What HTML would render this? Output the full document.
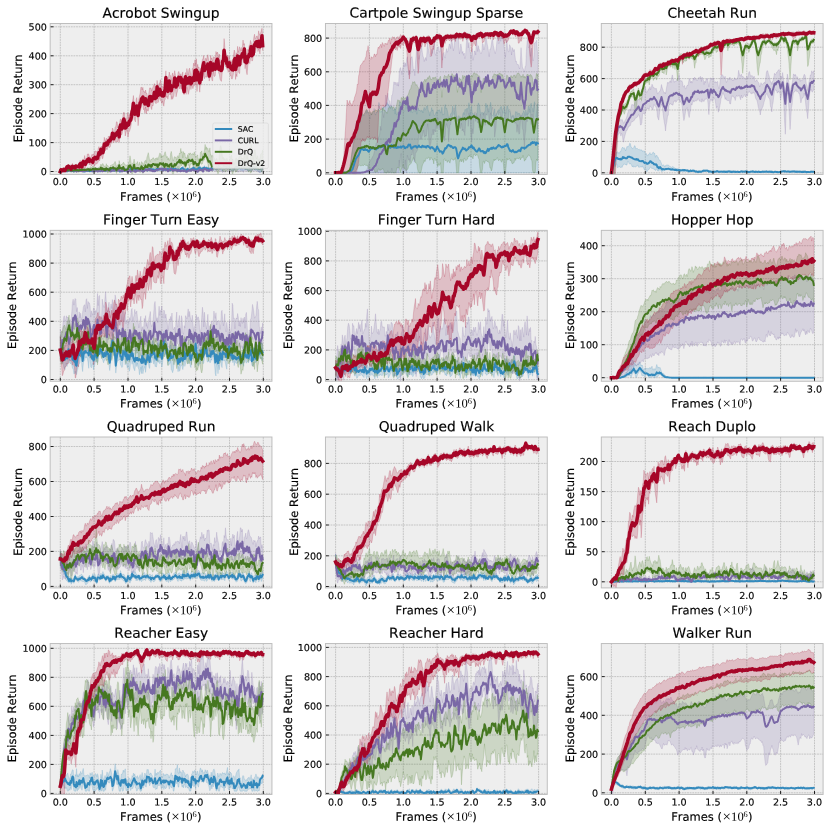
<!DOCTYPE html>
<html lang="en"><head><meta charset="utf-8"><title>DrQ-v2 learning curves</title>
<style>html,body{margin:0;padding:0;background:#fff}svg{display:block}path{vector-effect:non-scaling-stroke}text{stroke:#000;stroke-width:.16px}</style></head>
<body>
<svg width="830" height="831" viewBox="0 0 830 831" font-family="'DejaVu Sans', 'Liberation Sans', sans-serif" fill="#000" text-rendering="geometricPrecision" style="font-kerning:none;font-variant-ligatures:none">
<rect width="830" height="831" fill="#fff"/>
<defs>
<clipPath id="c0"><rect x="50.15" y="23.5" width="221.8" height="150.9"/></clipPath>
<clipPath id="c1"><rect x="325.45" y="23.5" width="221.8" height="150.9"/></clipPath>
<clipPath id="c2"><rect x="601.3" y="23.5" width="221.8" height="150.9"/></clipPath>
<clipPath id="c3"><rect x="50.15" y="230.35" width="221.8" height="150.9"/></clipPath>
<clipPath id="c4"><rect x="325.45" y="230.35" width="221.8" height="150.9"/></clipPath>
<clipPath id="c5"><rect x="601.3" y="230.35" width="221.8" height="150.9"/></clipPath>
<clipPath id="c6"><rect x="50.15" y="437.0" width="221.8" height="150.9"/></clipPath>
<clipPath id="c7"><rect x="325.45" y="437.0" width="221.8" height="150.9"/></clipPath>
<clipPath id="c8"><rect x="601.3" y="437.0" width="221.8" height="150.9"/></clipPath>
<clipPath id="c9"><rect x="50.15" y="643.55" width="221.8" height="150.9"/></clipPath>
<clipPath id="c10"><rect x="325.45" y="643.55" width="221.8" height="150.9"/></clipPath>
<clipPath id="c11"><rect x="601.3" y="643.55" width="221.8" height="150.9"/></clipPath>
</defs>
<g>
<rect x="50.15" y="23.5" width="221.8" height="150.9" fill="#eeeeee"/>
<path d="M60.3 23.5V174.4M94.1 23.5V174.4M128 23.5V174.4M161.8 23.5V174.4M195.7 23.5V174.4M229.5 23.5V174.4M263.3 23.5V174.4M50.1 171.5H271.9M50.1 142.6H271.9M50.1 113.6H271.9M50.1 84.7H271.9M50.1 55.8H271.9M50.1 26.8H271.9" stroke="#b2b2b2" stroke-width="0.7" stroke-dasharray="1.8 0.8" fill="none"/>
<g clip-path="url(#c0)">
<g transform="translate(60.3 171.5) scale(0.67680 -0.1)">
<g fill-opacity="0.2" stroke-opacity="0.2" stroke-width="0.9" vector-effect="non-scaling-stroke">
<path d="M0 20l1-2 1-3 1-5 1-2 1 2 1 3 1-1 1 1 1-3 1-1 1 5 1 2 1 3 1-1 1-1 1-2 1-3 1 7 1-2 1-4 1 0 1 5 1 0 1-3 1 0 1 2 1-1 1-4 1 4 1 2 1 7 1-9 1-2 1-2 1-2 1 1 1 0 1 5 1 0 1-3 1 8 1-5 1-6 1 2 1 0 1-3 1 5 1-4 1 1 1 8 1 6 1 4 1 0 1 7 1-10 1-1 1-7 1-3 1-2 1 5 1 9 1-4 1 9 1-5 1-1 1 0 1-3 1-3 1 11 1-7 1 5 1-1 1 15 1-7 1 0 1-2 1 0 1-16 1 14 1-11 1-3 1 3 1-2 1 4 1 6 1 1 1-6 1-13 1-3 1 7 1 6 1-3 1 1 1-3 1 9 1 3 1-7 1-1 1 16 1-1 1-13 1-2 1 6 1 10 1-3 1-3 1-4 1 5 1 1 1-4 1 3 1-2 1 2 1-4 1 3 1 6 1 0 1-6 1 2 1-3 1 7 1-11 1-2 1 6 1 2 1-6 1 7 1-7 1-3 1 5 1 9 1-1 1-8 1 5 1-1 1-1 1 7 1-6 1-9 1-2 1 13 1 1 1 0 1-8 1 12 1-4 1-3 1 7 1-3 1-2 1 12 1-15 1 6 1-4 1 0 1-3 1 3 1-2 1 11 1-13 1 1 1-3 1-1 1 23 1-4 1-18 1 13 1-6 1-2 1 4 1-1 1 0 1-1 1 2 1-8 1-3 1 5 1 7 1 3 1 8 1 7 1-10 1-4 1-15 1-1 1-1 1 11 1 5 1-1 1-6 1-6 1 8 1-1 1 6 1-5 1 14 1 1 1-12 1 1 1-5 1-1 1 5 1-2 1 10 1 8 1 3 1-9 1-5 1-11 1 5 1 13 1-9 1 19 1-14 1-1 1 5 1-5 1-3 1-4 1 3 1 2 1-16 1 11 1 2 1 12 1-25 1 11 1-1 1 5 1 8 1 2 1-6 1 4 1 15 1-12 1-1 1-7 1-6 1-3 1 6 1 22 1-3 1-4 1-2 1 2 1-4 1 9 1-6 1 1 1-3 1-26 1-1 1 13 1-8 1 1 1-5 1-2 1 20 1 5 1-4 1 9 1-12 1 14 1-11 1-1 1-15 1 9 1 3 1-14 1 14 1-1 1 6 1-4 1-6 1 1 1 9 1-14 1 6 1 0 1 2 1 1 1-2 1-11 1 17 1 8 1-8 1 1 1-2 1 1 1 5 1-10 1-10 1-5 1-5 1-4 1 16 1-9 1 9 1 13 0-29-1-7-1-17-1 7-1-7-1 3-1 5-1 1-1 5-1 16-1-11-1 0-1 4-1 6-1 12-1-13-1-13-1 4-1-2-1 1-1-4-1 0-1-3-1 19-1-7-1 1-1-1-1 3-1-10-1 9-1-12-1 6-1 4-1-4-1 14-1-6-1 1-1-4-1 10-1-4-1 1-1 9-1-23-1-1-1 1-1-3-1 7-1-1-1-1-1 25-1-7-1 5-1 0-1-9-1 8-1-6-1-1-1 4-1-1-1-20-1-4-1 5-1 3-1 10-1 6-1 9-1-19-1-4-1 7-1 0-1-7-1-1-1-7-1 0-1 27-1-11-1 0-1-10-1 1-1 1-1 6-1 5-1-4-1 1-1-5-1 3-1 9-1-9-1 8-1-16-1 4-1 4-1-1-1 10-1-5-1-4-1-3-1-4-1 1-1-5-1 8-1 1-1 9-1-5-1-15-1 9-1-6-1-8-1-1-1 4-1 5-1 6-1-11-1-6-1 4-1-4-1 11-1 3-1 10-1 5-1-9-1-2-1-14-1-6-1 2-1 10-1 1-1 2-1 1-1 5-1-7-1-4-1 6-1-10-1 16-1 6-1-23-1 7-1-1-1 4-1 7-1-9-1-1-1-3-1 3-1 0-1-3-1-3-1 11-1-9-1 7-1 3-1-5-1 4-1-3-1-2-1 2-1-9-1 0-1-9-1 2-1 11-1 8-1-5-1-2-1 5-1-2-1 7-1-5-1-11-1 0-1 0-1 8-1 2-1 0-1-5-1-7-1 9-1 0-1-4-1 9-1-8-1 5-1 0-1-6-1-3-1 5-1-3-1 4-1-1-1 3-1-3-1-7-1 1-1 8-1 4-1-4-1-8-1 2-1 12-1 1-1-16-1-1-1 4-1-1-1 2-1 4-1-4-1-5-1-2-1-2-1-3-1 11-1 8-1 4-1-7-1-3-1 7-1-7-1 0-1 7-1-11-1 5-1 4-1 1-1-1-1 3-1-12-1 5-1-5-1 10-1-10-1-1-1 4-1 1-1-1-1 8-1-7-1 0-1-3-1-8-1 7-1 1-1 8-1-8-1 8-1-2-1 0-1-2-1 0-1-9-1-2-1 10-1-10-1 2-1-6-1 0-1 9-1 5-1-9-1 6-1-1-1-6-1 0-1-1-1 1-1-1-1 6-1 8-1-10-1-2-1 1-1 2-1 4-1-2-1-3-1-1-1 2-1-5-1-2-1 8-1 1-1-3-1 1-1 5-1-2-1 2-1-3-1-6-1-4-1 2-1 4-1-2-1 3-1 0-1-3-1-3-1 10-1 2-1 0z" fill="#348ABD" stroke="#348ABD"/>
<path d="M0 20l1-2 1-4 1 5 1 1 1-5 1-1 1 1 1 4 1 2 1 0 1 1 1-1 1 6 1-3 1 3 1-7 1 0 1-2 1 1 1 1 1-3 1 1 1-5 1-3 1 0 1 3 1 6 1 3 1-3 1 4 1-11 1 8 1-2 1 2 1 4 1-4 1-1 1 3 1 1 1-3 1 7 1-1 1 1 1-4 1-2 1-2 1-3 1 8 1-2 1 6 1-4 1-8 1 8 1-4 1-8 1 10 1-11 1 8 1-2 1 2 1 3 1-8 1 3 1 4 1 2 1 0 1 5 1-4 1-6 1 15 1-2 1-6 1-12 1 1 1 1 1 9 1 1 1 14 1-9 1 0 1-3 1 2 1 0 1-6 1-10 1 17 1-4 1-11 1 7 1 2 1-9 1 3 1 4 1-9 1-2 1 17 1-1 1-6 1-9 1-1 1 8 1 11 1-6 1-12 1 6 1 4 1 2 1-8 1 0 1-7 1-2 1 1 1 1 1 12 1 11 1-11 1 11 1-7 1-3 1 9 1-19 1-6 1 2 1 9 1 14 1 1 1-12 1 8 1-2 1 6 1-7 1 4 1-7 1 14 1-15 1 3 1-11 1 5 1 0 1-2 1 3 1 5 1 4 1 1 1 3 1 6 1-2 1 0 1 5 1-14 1 1 1-9 1 25 1-10 1-2 1 9 1-10 1-12 1-10 1 5 1 13 1-1 1 10 1 5 1-8 1-12 1 0 1 3 1-6 1 4 1-2 1-1 1-1 1 0 1 8 1-8 1-9 1 2 1 4 1 5 1 2 1-5 1 3 1 0 1-1 1-10 1 0 1 7 1 6 1 3 1-4 1 2 1-2 1 5 1 4 1-1 1-6 1 0 1-1 1-9 1 0 1 2 1-5 1 8 1 6 1 6 1-2 1-1 1 1 1-2 1-17 1 18 1 10 1 2 1-6 1-11 1-1 1 4 1-8 1 6 1 2 1 9 1-2 1-8 1-2 1 17 1-5 1-4 1-1 1-9 1 14 1-5 1 10 1-15 1 3 1 5 1-7 1-1 1-10 1-4 1 12 1 4 1-8 1 12 1 2 1 6 1-18 1 3 1 3 1-7 1-1 1 0 1-7 1 11 1 12 1-2 1 1 1-11 1 0 1-5 1 0 1-9 1 6 1 4 1-5 1 6 1 4 1 6 1-6 1-10 1 1 1 15 1 2 1-10 1 2 1-4 1-2 1 1 1 9 1 6 1-10 1-1 1-2 1 3 1 6 1-7 1 12 1-7 1 6 1-8 1-6 1 0 1 5 1-10 1 11 1-9 1 4 1 14 1-6 0-25-1 2-1-7-1-10-1 8-1-10-1 12-1-1-1 4-1 5-1 5-1 3-1 1-1-13-1 9-1-4-1-6-1-1-1 3-1 8-1-4-1-2-1-2-1 3-1-1-1 4-1 5-1-7-1-15-1 2-1 9-1 3-1-3-1 2-1-7-1 1-1-4-1 1-1 3-1 2-1 8-1 0-1 7-1-8-1 0-1-6-1-8-1 9-1-2-1 0-1 12-1-9-1-6-1 19-1-7-1-3-1-15-1 10-1-1-1-12-1 5-1 7-1 4-1 5-1-8-1 5-1 9-1-4-1 2-1-14-1 11-1 5-1-1-1-1-1-15-1 8-1 7-1-1-1-7-1-6-1-5-1 11-1-4-1 1-1 10-1 4-1-6-1-3-1-16-1 10-1 4-1-3-1 3-1 6-1-3-1-4-1-10-1 3-1 3-1-1-1 1-1 3-1 1-1 5-1-2-1 0-1-7-1 9-1-4-1-2-1-4-1-8-1-3-1-1-1 5-1 2-1 5-1-6-1 4-1 5-1-4-1-2-1 0-1 6-1 4-1-11-1-6-1 11-1 10-1-7-1-1-1 2-1-3-1-3-1 8-1 9-1-2-1-4-1 4-1-15-1-5-1 8-1 6-1 7-1-6-1 3-1 5-1-15-1 8-1 0-1 12-1-12-1 3-1-2-1-4-1-5-1 3-1 1-1-5-1-10-1 3-1 3-1-3-1 6-1 0-1 13-1-7-1 8-1-5-1 8-1-11-1 2-1-4-1 10-1-7-1-6-1-7-1-1-1 2-1 16-1-4-1-3-1 9-1-13-1 10-1-8-1-9-1-5-1-2-1 4-1 10-1-2-1 4-1-6-1 1-1-3-1 6-1 10-1-10-1-11-1 2-1 11-1 6-1 8-1-13-1-2-1 2-1-4-1-6-1 7-1-1-1-2-1 10-1 1-1-11-1 5-1 6-1 0-1-1-1-8-1 8-1 9-1-13-1-1-1-2-1-4-1 4-1 9-1 2-1 2-1-14-1 7-1 4-1-9-1-4-1 1-1 0-1-2-1 4-1 2-1-2-1 5-1-7-1 5-1-5-1 1-1 1-1-7-1 4-1 8-1-7-1-1-1-7-1 8-1 0-1 4-1 0-1 0-1-2-1-1-1-1-1-1-1 3-1-5-1 6-1-6-1-3-1 6-1-3-1 9-1-9-1 5-1-4-1-1-1-2-1-3-1 5-1 3-1 2-1 2-1-3-1 1-1-3-1 1-1-4-1 5-1 0-1 3-1 1-1-2-1 0-1-2-1-3-1-2-1 3-1 0-1 4-1-1-1 0-1-3z" fill="#7A68A6" stroke="#7A68A6"/>
<path d="M0 19l1 1 1-2 1 2 1 1 1 5 1-4 1-1 1-1 1 5 1-7 1 5 1 5 1 3 1 0 1-5 1-5 1 3 1 6 1-2 1-3 1 8 1 6 1-8 1-4 1 2 1 0 1-7 1 1 1 2 1 10 1 2 1 1 1-4 1 5 1-14 1-3 1-4 1 9 1 4 1 9 1-5 1 1 1-10 1 18 1 4 1-8 1 4 1 10 1-1 1-15 1 0 1 7 1-13 1 3 1-2 1 8 1-4 1 11 1-1 1 27 1-23 1 24 1 5 1-16 1-15 1 8 1-7 1 28 1-27 1 11 1-11 1-9 1-7 1 24 1 0 1 9 1-1 1 2 1 9 1 9 1 14 1-19 1-43 1 21 1 10 1-22 1 61 1-36 1-11 1 8 1 0 1 8 1 12 1-1 1-20 1-3 1 1 1-5 1-4 1 12 1 19 1 12 1 56 1-44 1-38 1-27 1 37 1 2 1 37 1-30 1-25 1 6 1 8 1 16 1-36 1 2 1 28 1-28 1-4 1 38 1-13 1 0 1-31 1 34 1 18 1 6 1-26 1 56 1 19 1 26 1-37 1-42 1-9 1 23 1-3 1 4 1 15 1-6 1-12 1-10 1 23 1-12 1 18 1-23 1 19 1 25 1 23 1-5 1-42 1 26 1-15 1 11 1-6 1 30 1 15 1-30 1-28 1 11 1-35 1 21 1-27 1 13 1 56 1 22 1-38 1-47 1-10 1 30 1 14 1-14 1 7 1-31 1 40 1 7 1-26 1 50 1-7 1 55 1-43 1 12 1-64 1 63 1-26 1 11 1-45 1 3 1-18 1 45 1-38 1 54 1-18 1 20 1-10 1-7 1 4 1 6 1-14 1 31 1-34 1-16 1 0 1 16 1 2 1-60 1 24 1-19 1 81 1 1 1 14 1-63 1 40 1-4 1 37 1 55 1-52 1 28 1-23 1 7 1-30 1-3 1 38 1-71 1 1 1-23 1 20 1-4 1-21 1-7 1-31 1 22 1 10 1-18 1-23 1 7 1 62 1 83 1 16 1-19 1-60 1-52 1 14 1-30 1 18 1-12 1-46 1 61 1-21 1-8 1-7 1 16 1 16 1 26 1 8 1-46 1 8 1-54 1 3 1 25 1 27 1 11 1-26 1 6 1 4 1 22 1 15 1-4 1 15 1-44 1 8 1-7 1 1 1 91 1-37 1 13 1-33 1-34 1 39 1-53 1-1 1 2 1 24 1 134 1-76 1-38 1-37 1 50 1 46 1-2 1-66 1-24 1 34 1-13 1-42 1 14 1 16 1 39 1 3 1 11 1 28 0-180-1-35-1-4-1 30-1-6-1-8-1 16-1-16-1 21-1-10-1-4-1 9-1-11-1 10-1 0-1-9-1-13-1-15-1-7-1 24-1-6-1-6-1 21-1 3-1 6-1-7-1 10-1 10-1-2-1-10-1 12-1-6-1-6-1 8-1-8-1 1-1-2-1-4-1-20-1 2-1-11-1 19-1 23-1-25-1-36-1 6-1 34-1 1-1 14-1-24-1 13-1 16-1-17-1-12-1-5-1-3-1 19-1 1-1-16-1 4-1 19-1 16-1-15-1-2-1 1-1-31-1-16-1 18-1 11-1 21-1-7-1 6-1 7-1-18-1 12-1-16-1 41-1 22-1 26-1-34-1-28-1 42-1 12-1 38-1 17-1 12-1-42-1-7-1-3-1-28-1-5-1 2-1 12-1-1-1-42-1-10-1 10-1-14-1 2-1 9-1 7-1-26-1 4-1 23-1 34-1-9-1 4-1-14-1-33-1 36-1-7-1 32-1-24-1-19-1-26-1 34-1-8-1 24-1-6-1 15-1-26-1 34-1-46-1-14-1-26-1 50-1-22-1-40-1 29-1 6-1 15-1-22-1-66-1 3-1 48-1 46-1-11-1-1-1-41-1 14-1 6-1 25-1-15-1 14-1 0-1-27-1 10-1 12-1 9-1-1-1 14-1-7-1 8-1-30-1 9-1-24-1 34-1-25-1 24-1-30-1 12-1 11-1 10-1-4-1-22-1 22-1-24-1 7-1 10-1 6-1-34-1-2-1-4-1 14-1-11-1-4-1-12-1-14-1 29-1 21-1-26-1-16-1 8-1 23-1-9-1 4-1 5-1-7-1-3-1-13-1 12-1-13-1-11-1-16-1 21-1 22-1 26-1-32-1 7-1-14-1 3-1-2-1-4-1 8-1-7-1 22-1 8-1-12-1-3-1 13-1-12-1 1-1 30-1-28-1 0-1-8-1-26-1 26-1 0-1 4-1 4-1 12-1-7-1 2-1 4-1-4-1-27-1 2-1-3-1-10-1 15-1 18-1-23-1 23-1-18-1 17-1-1-1 2-1-9-1 23-1-20-1 10-1-4-1-1-1-1-1 1-1-1-1 12-1-13-1-5-1 10-1-3-1-8-1 3-1-4-1 6-1-15-1 8-1 4-1-2-1-2-1 1-1-2-1-7-1 12-1-5-1 1-1-4-1 6-1 2-1-1-1-11-1-5-1 9-1 0-1 2-1-3-1 9-1-11-1-11-1 9-1 5-1-2-1-3-1 8-1 10-1 3-1-4-1-4-1-2-1 1-1-7-1 0-1 4-1 6-1 0-1-6-1-2-1-1-1 5z" fill="#467821" stroke="#467821"/>
<path d="M0 14l1 19 1-11 1-4 1-3 1 18 1-4 1-11 1 24 1 1 1 18 1-5 1 14 1-4 1-4 1 5 1-20 1 22 1 12 1-23 1 10 1-5 1-14 1 22 1 1 1-6 1-3 1 11 1-12 1 48 1-4 1-2 1-29 1 49 1-3 1-7 1 46 1-37 1 5 1-1 1 48 1-1 1 2 1-30 1 0 1-11 1 25 1 13 1-12 1 13 1 3 1 25 1 4 1-9 1 1 1-5 1 36 1 20 1-12 1-19 1 29 1 7 1-22 1 16 1 20 1 74 1-30 1-4 1 26 1-21 1 6 1 34 1-7 1 11 1-12 1 25 1-18 1 83 1-12 1-56 1 27 1 48 1 10 1 45 1-1 1-61 1 21 1-67 1 117 1 20 1-48 1-10 1 49 1 65 1 12 1-13 1-96 1 37 1 3 1 49 1 17 1-66 1 45 1-5 1 19 1 34 1 59 1 34 1 49 1-70 1-28 1-21 1 77 1 21 1-72 1-29 1 84 1 34 1 25 1 58 1 7 1-31 1 27 1-42 1 1 1-14 1 28 1-34 1 1 1-46 1-5 1 63 1 42 1-2 1 2 1-33 1 22 1 21 1 15 1 19 1-62 1-16 1-6 1 115 1-69 1 9 1 31 1 1 1 35 1-37 1-39 1 7 1-8 1 1 1 43 1 24 1 98 1-131 1-28 1 32 1 66 1 49 1-35 1-2 1-57 1 62 1 23 1-28 1-5 1 55 1-39 1-62 1 34 1-19 1 65 1 14 1-21 1-40 1 38 1-40 1 35 1 23 1-106 1-76 1 139 1 37 1-45 1 85 1-40 1-28 1 56 1 16 1-34 1-55 1 8 1 77 1-2 1 57 1-29 1 61 1-56 1 66 1-91 1 36 1-33 1 5 1-83 1 69 1-15 1 70 1 36 1 11 1 29 1-72 1 17 1 30 1-28 1 39 1 21 1-44 1-58 1-12 1 107 1-39 1 15 1-41 1 51 1-5 1-2 1-7 1 67 1-28 1 23 1-16 1-38 1 34 1-48 1-40 1 13 1 20 1 91 1-20 1 138 1-75 1-110 1 3 1-4 1 21 1-67 1 61 1-7 1-86 1 47 1-28 1 23 1-7 1 70 1 45 1-20 1-103 1 95 1-25 1 90 1-61 1 28 1 28 1-16 1-26 1 34 1 10 1 66 1-51 1 16 1-129 1 35 1-32 1-16 1 84 1-17 1 57 1 2 1 47 1-20 1-43 1 19 1 17 1 61 1 28 1-44 1 7 1 18 1 2 1-35 1 86 1-31 1-13 1 25 1 21 1 23 1-77 0-145-1 109-1-66-1 6-1-84-1 37-1 12-1-25-1 62-1-14-1-33-1-28-1 12-1 12-1-64-1-39-1-2-1 82-1-63-1-45-1 8-1-3-1-29-1-87-1 30-1 94-1-64-1 135-1-36-1 1-1-6-1-57-1 23-1-6-1-101-1 2-1 24-1 37-1-96-1 24-1-52-1 124-1-9-1-48-1-40-1-23-1 3-1 35-1-5-1 66-1-24-1-7-1 35-1-4-1 40-1-16-1 48-1 44-1-99-1-7-1-64-1-68-1 10-1 12-1 47-1 17-1 58-1 0-1-14-1 21-1-91-1-11-1 3-1 52-1-101-1 9-1 53-1 57-1-97-1-22-1 50-1 67-1-44-1-36-1 11-1-10-1-15-1 57-1-48-1-31-1 20-1-56-1 0-1-76-1 87-1 13-1 6-1-99-1 123-1-63-1 72-1-76-1 2-1-30-1 22-1 13-1-43-1 55-1-44-1-35-1-25-1 44-1 26-1-70-1 74-1-17-1-60-1 10-1 61-1 7-1-23-1 41-1-39-1 6-1 33-1-26-1-41-1-20-1-30-1 93-1 5-1-86-1-18-1-19-1 29-1-31-1 67-1-22-1 64-1-65-1-41-1 29-1-12-1 73-1-94-1-6-1-60-1 20-1 33-1-27-1 27-1 3-1 22-1 10-1-44-1-10-1 111-1-117-1 1-1 6-1 55-1-47-1-41-1 7-1-43-1 18-1 42-1 22-1-61-1-36-1 3-1 15-1-46-1 70-1-61-1 44-1-11-1 46-1 28-1-23-1-52-1-2-1-15-1-53-1-89-1 99-1 16-1-17-1-60-1 18-1 5-1 80-1-78-1 10-1-52-1-38-1-24-1-17-1-10-1-48-1 72-1-3-1-27-1-29-1 71-1 37-1-21-1-46-1-28-1-5-1 26-1-20-1-78-1 45-1-38-1 0-1-3-1 0-1 16-1 1-1-25-1 14-1 34-1-53-1 16-1-47-1-11-1 5-1 5-1-16-1-18-1 20-1-21-1-12-1 20-1-34-1-57-1-5-1 29-1 24-1-49-1-25-1 30-1-42-1-7-1-13-1 6-1-4-1-18-1-6-1 39-1-23-1 2-1-17-1 13-1 19-1-20-1 21-1 4-1-12-1-18-1 0-1-32-1-5-1 17-1 31-1-26-1-51-1 33-1 14-1-10-1-20-1-3-1 3-1 2-1 10-1 7-1-30-1 5-1 23-1-1-1 11-1-12-1-23-1 16-1 11-1 9-1 2-1-13-1-4-1-14-1 2-1-15-1 5-1 6-1-15-1 5-1 4-1 0-1-18z" fill="#A60628" stroke="#A60628"/>
</g><g fill="none" stroke-linejoin="round" stroke-linecap="square">
<path d="M0 11l1-1 1-2 1-5 1 1 1 0 1 1 1-1 1 1 1 0 1-3 1 5 1 3 1 3 1-2 1-3 1-2 1-3 1 5 1-3 1-2 1 2 1 6 1 0 1-4 1-2 1 4 1 0 1-3 1 1 1 4 1 5 1-7 1-2 1-1 1-6 1 2 1 0 1 8 1 0 1-6 1 6 1-1 1-5 1 1 1 1 1-1 1 3 1-6 1 3 1 7 1 3 1 3 1 1 1 2 1-8 1 3 1-9 1 0 1-5 1 9 1 6 1-3 1 7 1-7 1 0 1 0 1-5 1 4 1 8 1-8 1 4 1-2 1 7 1-2 1 0 1 0 1-2 1-8 1 8 1-8 1 3 1 4 1-5 1 2 1 6 1-3 1-5 1-12 1 3 1 3 1 2 1-1 1 6 1-2 1 2 1 4 1-5 1 1 1 12 1 0 1-11 1 1 1 3 1 6 1-3 1-5 1-3 1 5 1 1 1-4 1 0 1-1 1 5 1-4 1 3 1 4 1 1 1-7 1 8 1-7 1 3 1-5 1-8 1 7 1 3 1 0 1 2 1-4 1-2 1 2 1 12 1 1 1-7 1 2 1-5 1-2 1 6 1-4 1-9 1 0 1 6 1 3 1 8 1-7 1 4 1 1 1-3 1 5 1 0 1-8 1 7 1-9 1 3 1 1 1 3 1-5 1 1 1 0 1 7 1-7 1 1 1-1 1-6 1 20 1-6 1-12 1 12 1-9 1 4 1 5 1-6 1-2 1-2 1 2 1-9 1-1 1 5 1 11 1 3 1 8 1-2 1-9 1-2 1-13 1 0 1 0 1 8 1 7 1-5 1-2 1-7 1 5 1 5 1 4 1-5 1 14 1 3 1-7 1-6 1-2 1 2 1 0 1 3 1 4 1 6 1 2 1-8 1 0 1-6 1-4 1 15 1-8 1 12 1-9 1-1 1 5 1-4 1 0 1-4 1-4 1 0 1-3 1 14 1-5" stroke="#348ABD" stroke-width="1.95"/>
<path d="M0 5l1 3 1 0 1 2 1-2 1 0 1-1 1 1 1 1 1 0 1-2 1 2 1-1 1 3 1 0 1-2 1-3 1 0 1 5 1-1 1 1 1-2 1-2 1-2 1-5 1 4 1 2 1 0 1 4 1-5 1 7 1-7 1 2 1-4 1 1 1 6 1-6 1 2 1 2 1 1 1 0 1 3 1 0 1 0 1 2 1 0 1-3 1-6 1 5 1-2 1 7 1-5 1-6 1 7 1-4 1-6 1 9 1-7 1 9 1-6 1 4 1 0 1-8 1 3 1 0 1 3 1 3 1 7 1-5 1-2 1 10 1-2 1 0 1-12 1-6 1 2 1 2 1 5 1 14 1-13 1-2 1 4 1 0 1 5 1-5 1-6 1 13 1-2 1-10 1-1 1 2 1-8 1 9 1 1 1-2 1-3 1 12 1-4 1-6 1-10 1 0 1 10 1 11 1-11 1-10 1 6 1 4 1 7 1-6 1 2 1-11 1-2 1 4 1 2 1 7 1 8 1-12 1 12 1-8 1-2 1 8 1-16 1-3 1 2 1 6 1 10 1 5 1-9 1 5 1-5 1 9 1-5 1 5 1-10 1 6 1-10 1 4 1-9 1 5 1-2 1-1 1 6 1 6 1 0 1 1 1 3 1 4 1 1 1-3 1 8 1-10 1 2 1-11 1 16 1-8 1-1 1 6 1-6 1-7 1-9 1 4 1 16 1-3 1 8 1-1 1-8 1-10 1 2 1 5 1-2 1 2 1 3 1-4 1-9 1 3 1 6 1-5 1-4 1-2 1 4 1 3 1 1 1-6 1 4 1-1 1-3 1-7 1 1 1 3 1 7 1 4 1 1 1 1 1-7 1 7 1 4 1 2 1-7 1-1 1-2 1-7 1 3 1-6 1-4 1 11 1 6 1 5 1-5 1 0 1 3 1-4 1-12 1 20 1 4 1 2 1-6 1-8 1 1 1 2 1-9 1 0 1 7 1 9 1-1 1-6" stroke="#7A68A6" stroke-width="1.95"/>
<path d="M0 12l1-3 1 2 1-1 1 6 1 3 1-4 1-2 1 1 1-1 1-1 1-1 1 6 1 5 1-2 1-8 1-3 1 4 1-2 1 0 1 3 1-1 1 6 1-6 1 2 1-3 1 3 1-6 1 2 1 7 1-3 1 2 1-2 1 2 1-1 1 3 1-5 1 1 1 5 1-4 1 5 1 3 1-1 1-12 1 12 1-7 1 1 1 4 1 7 1-3 1-7 1 5 1 7 1-9 1 4 1-2 1 1 1-2 1 2 1 3 1 13 1-19 1 12 1-4 1-8 1-8 1 15 1-12 1 17 1-13 1 6 1-6 1-7 1 2 1 21 1-3 1 0 1 5 1 5 1-14 1 4 1-1 1-4 1-16 1 17 1 8 1-7 1 32 1-25 1-4 1 2 1-8 1 3 1 15 1-15 1-17 1 4 1-1 1 3 1 1 1 6 1 28 1-9 1 18 1-14 1-11 1-21 1 12 1 10 1 28 1-32 1-6 1 1 1 3 1 3 1-7 1 5 1-7 1-4 1 13 1 17 1-11 1-19 1 6 1 9 1 5 1 19 1-17 1 1 1-4 1 28 1-2 1-8 1-11 1 17 1-19 1 20 1 9 1 0 1-7 1-5 1 7 1-10 1 11 1-27 1 22 1-2 1 19 1 0 1-9 1 2 1-9 1 15 1-24 1-13 1 25 1 5 1-17 1 13 1-20 1 7 1-12 1 23 1 2 1 7 1-28 1 0 1-4 1 13 1 14 1-15 1 9 1 11 1 13 1 1 1 6 1 18 1-29 1 24 1-22 1 8 1-13 1 3 1-8 1 13 1-36 1 26 1 9 1 16 1-14 1 23 1-7 1 1 1-7 1 4 1 11 1-16 1-32 1 11 1 14 1-13 1-5 1-19 1 16 1-13 1 19 1 17 1 23 1-2 1-3 1 4 1 22 1-1 1 10 1 26 1-15 1-15 1-10 1-19 1-21 1 7 1 0 1-19 1-14 1-20" stroke="#467821" stroke-width="1.95"/>
<path d="M0 -2l1 19 1-1 1-3 1-5 1 13 1-5 1-7 1 18 1 5 1 16 1-7 1 12 1-8 1-3 1 1 1-19 1 18 1 9 1-10 1 5 1 1 1-12 1 19 1-2 1-2 1 0 1 0 1-4 1 29 1 4 1 2 1-35 1 41 1 13 1-23 1 6 1-11 1 27 1-5 1 23 1 4 1 6 1-26 1 16 1-11 1 2 1 1 1-17 1 38 1-3 1 14 1-12 1-3 1 14 1-7 1 24 1 29 1-14 1 3 1 47 1-12 1-16 1-6 1 34 1 53 1-16 1 1 1 25 1-18 1 8 1 29 1-5 1 16 1-2 1 25 1-9 1 54 1-18 1-37 1 22 1 25 1-15 1 18 1 13 1-17 1 36 1-63 1 90 1 28 1-25 1-14 1 36 1 49 1 14 1-32 1-59 1 4 1 18 1 25 1-19 1 6 1 33 1 11 1 1 1 32 1 55 1 20 1 63 1-79 1-31 1 1 1 59 1 22 1-49 1-47 1 69 1 18 1 41 1 3 1 37 1 6 1 11 1-44 1 17 1-41 1 52 1-50 1 27 1-21 1-23 1 42 1 45 1 1 1-2 1-41 1 29 1 6 1 7 1 44 1-63 1 9 1 1 1 109 1-79 1-5 1 34 1 24 1-26 1-7 1-30 1 29 1-34 1 5 1 41 1 24 1 115 1-101 1-24 1-12 1 61 1 42 1-66 1 22 1-53 1 38 1 9 1-3 1 15 1 68 1-15 1-76 1 25 1-6 1 61 1 17 1-5 1-7 1 10 1-47 1 15 1 8 1-87 1-31 1 104 1 47 1-70 1 52 1-3 1-42 1 37 1 17 1-2 1-59 1 10 1 23 1 11 1 20 1-30 1 99 1-61 1 65 1-98 1 79 1-27 1-9 1-74 1 60 1-28 1 70 1 33 1 38 1 28 1-78 1 20 1 7 1-5 1 13 1 30 1-63 1-57 1 33 1 103 1-51 1 28 1-53 1 62 1-28 1 15 1-41 1 46 1 36 1 19 1-16 1-84 1 24 1-20 1-16 1 0 1 12 1 81 1 1 1 107 1-56 1-40 1 20 1-57 1 3 1-33 1 11 1 26 1-44 1 13 1-30 1-7 1-2 1 31 1 67 1 15 1-109 1 52 1-17 1 99 1-43 1-36 1-7 1 81 1-15 1 20 1 23 1 7 1-1 1 41 1-127 1 33 1-42 1 10 1 52 1-6 1 25 1-5 1 51 1 33 1-90 1 13 1 2 1 65 1 29 1-6 1 32 1 4 1 0 1-48 1 54 1-29 1-26 1 60 1-17 1 67 1-99" stroke="#A60628" stroke-width="3.5"/>
</g></g>
</g>
<path d="M60.3 174.4v-3.4M94.1 174.4v-3.4M128 174.4v-3.4M161.8 174.4v-3.4M195.7 174.4v-3.4M229.5 174.4v-3.4M263.3 174.4v-3.4M50.1 171.5h3.4M50.1 142.6h3.4M50.1 113.6h3.4M50.1 84.7h3.4M50.1 55.8h3.4M50.1 26.8h3.4" stroke="#000" stroke-width="0.85" fill="none"/>
<rect x="50.15" y="23.5" width="221.8" height="150.9" fill="none" stroke="#bcbcbc" stroke-width="0.96"/>
<g font-size="9.6">
<text x="60.3" y="185.1" text-anchor="middle" transform="rotate(0.05 60.3 185.1)">0.0</text>
<text x="94.1" y="185.1" text-anchor="middle" transform="rotate(0.05 94.1 185.1)">0.5</text>
<text x="128" y="185.1" text-anchor="middle" transform="rotate(0.05 128 185.1)">1.0</text>
<text x="161.8" y="185.1" text-anchor="middle" transform="rotate(0.05 161.8 185.1)">1.5</text>
<text x="195.7" y="185.1" text-anchor="middle" transform="rotate(0.05 195.7 185.1)">2.0</text>
<text x="229.5" y="185.1" text-anchor="middle" transform="rotate(0.05 229.5 185.1)">2.5</text>
<text x="263.3" y="185.1" text-anchor="middle" transform="rotate(0.05 263.3 185.1)">3.0</text>
<text x="46.9" y="175.1" text-anchor="end" transform="rotate(0.05 46.9 175.1)">0</text>
<text x="46.9" y="146.2" text-anchor="end" transform="rotate(0.05 46.9 146.2)">100</text>
<text x="46.9" y="117.2" text-anchor="end" transform="rotate(0.05 46.9 117.2)">200</text>
<text x="46.9" y="88.3" text-anchor="end" transform="rotate(0.05 46.9 88.3)">300</text>
<text x="46.9" y="59.4" text-anchor="end" transform="rotate(0.05 46.9 59.4)">400</text>
<text x="46.9" y="30.4" text-anchor="end" transform="rotate(0.05 46.9 30.4)">500</text>
</g>
<text x="161.1" y="17.7" font-size="13.8" text-anchor="middle" transform="rotate(0.05 161.1 17.7)">Acrobot Swingup</text>
<text y="200.7" font-size="11.5" transform="rotate(0.05 161.1 200.7)"><tspan x="120.1">Frames (</tspan><tspan x="171.2" dy="0.9" stroke="none" font-family="'Liberation Serif', 'DejaVu Serif', serif" font-size="15">×</tspan><tspan x="180" dy="-0.9" stroke="none" font-family="'Liberation Serif', 'DejaVu Serif', serif" font-size="12.6">10</tspan><tspan x="192.5" dy="-3.8" stroke="none" font-family="'Liberation Serif', 'DejaVu Serif', serif" font-size="8.4">6</tspan><tspan x="197" dy="3.8">)</tspan></text>
<text transform="translate(22.3 98.4) rotate(-90)" font-size="11.5" text-anchor="middle">Episode Return</text>
<rect x="212.8" y="123.0" width="55.6" height="45.5" rx="1.6" fill="#eeeeee" fill-opacity="0.8" stroke="#cccccc" stroke-opacity="0.8" stroke-width="0.5"/>
<path d="M214.8 129h17.4" stroke="#348ABD" stroke-width="1.95" fill="none"/>
<text x="237.8" y="131.8" font-size="7.7" transform="rotate(0.05 237.8 131.8)">SAC</text>
<path d="M214.8 140.4h17.4" stroke="#7A68A6" stroke-width="1.95" fill="none"/>
<text x="237.8" y="143.2" font-size="7.7" transform="rotate(0.05 237.8 143.2)">CURL</text>
<path d="M214.8 151.8h17.4" stroke="#467821" stroke-width="1.95" fill="none"/>
<text x="237.8" y="154.6" font-size="7.7" transform="rotate(0.05 237.8 154.6)">DrQ</text>
<path d="M214.8 163.2h17.4" stroke="#A60628" stroke-width="1.95" fill="none"/>
<text x="237.8" y="166" font-size="7.7" transform="rotate(0.05 237.8 166)">DrQ-v2</text>
</g>
<g>
<rect x="325.45" y="23.5" width="221.8" height="150.9" fill="#eeeeee"/>
<path d="M335.6 23.5V174.4M369.4 23.5V174.4M403.3 23.5V174.4M437.1 23.5V174.4M471 23.5V174.4M504.8 23.5V174.4M538.6 23.5V174.4M325.4 172.8H547.2M325.4 139.1H547.2M325.4 105.4H547.2M325.4 71.8H547.2M325.4 38.1H547.2" stroke="#b2b2b2" stroke-width="0.7" stroke-dasharray="1.8 0.8" fill="none"/>
<g clip-path="url(#c1)">
<g transform="translate(335.6 172.8) scale(0.67680 -0.1)">
<g fill-opacity="0.2" stroke-opacity="0.2" stroke-width="0.9" vector-effect="non-scaling-stroke">
<path d="M0 0l1 0 1 0 1 0 1 0 1 0 1 0 1 0 1 0 1 0 1 0 1 0 1 0 1 0 1 0 1 0 1 0 1 0 1 0 1 0 1 0 1 43 1 48 1 48 1 66 1 38 1 81 1 54 1 25 1 54 1 25 1 25 1-22 1 70 1 22 1-40 1-41 1 85 1-12 1 35 1-33 1 5 1-8 1 28 1 0 1 29 1-31 1 33 1-28 1 0 1-38 1-21 1 62 1-25 1 16 1 13 1 8 1 29 1-47 1-19 1 29 1-8 1 24 1 24 1 58 1-28 1-72 1 10 1-6 1 43 1 9 1-14 1 18 1-11 1 26 1 4 1 20 1-19 1 3 1-34 1 18 1-32 1 22 1 10 1-26 1-20 1-7 1 24 1-55 1 71 1-81 1 8 1 21 1 21 1 43 1 43 1-38 1-28 1 57 1-22 1-69 1-3 1 5 1 111 1-9 1-57 1-18 1 17 1-24 1 21 1-31 1-19 1 26 1-30 1 1 1 56 1-16 1-32 1-1 1 31 1-55 1 39 1 25 1-32 1 9 1-2 1-14 1 16 1-5 1-24 1 38 1 18 1-28 1 9 1 28 1 6 1-1 1-50 1-5 1-43 1 37 1 8 1 37 1-32 1 10 1-51 1-8 1 10 1 18 1 14 1-22 1 35 1-1 1 5 1-3 1-27 1 1 1 54 1-75 1 5 1-6 1 77 1 27 1-42 1 8 1-24 1-32 1-44 1 7 1 9 1 26 1 0 1 22 1 53 1-58 1-25 1 42 1 55 1-59 1-81 1-27 1 6 1 53 1-18 1 4 1 0 1-17 1-9 1 57 1 15 1-23 1 51 1-1 1-3 1 18 1-11 1 18 1 48 1-43 1-78 1 54 1 33 1-73 1 1 1-30 1 27 1-21 1-30 1-10 1 74 1 67 1 27 1-18 1-17 1-67 1-5 1 13 1-2 1-22 1 22 1 2 1 16 1 76 1-42 1 25 1-18 1-52 1 0 1 56 1 40 1-36 1-91 1-8 1 16 1 22 1 31 1-73 1 12 1 14 1 11 1 24 1 3 1-9 1 23 1 15 1 2 1-30 1-28 1-8 1 72 1-34 1-44 1 3 1 73 1 2 1-29 1-21 1 1 1-8 1-43 1-9 1-4 1 25 1-12 1-53 1 49 1 49 1-9 1 7 1-28 1 12 1 0 1-3 1-23 1-15 1 18 1 21 1 8 1 20 1-17 1-32 1 57 1-28 1-23 1 53 1 37 1-12 1-54 1 78 1 16 1-41 1-13 1-33 1 79 1 23 1-60 1-94 1 59 1 64 1 12 0-692-1 0-1 0-1 0-1 0-1 0-1 0-1 0-1 0-1 0-1 0-1 0-1 0-1 0-1 0-1 0-1 0-1 0-1 0-1 0-1 0-1 0-1 0-1 0-1 0-1 0-1 0-1 0-1 0-1 0-1 0-1 0-1 0-1 0-1 0-1 0-1 0-1 0-1 0-1 0-1 0-1 0-1 0-1 0-1 0-1 0-1 0-1 0-1 0-1 0-1 0-1 0-1 0-1 0-1 0-1 0-1 0-1 0-1 0-1 0-1 0-1 0-1 0-1 0-1 0-1 0-1 0-1 0-1 0-1 0-1 0-1 0-1 0-1 0-1 0-1 0-1 0-1 0-1 0-1 0-1 0-1 0-1 0-1 0-1 0-1 0-1 0-1 0-1 0-1 0-1 0-1 0-1 0-1 0-1 0-1 0-1 0-1 0-1 0-1 0-1 0-1 0-1 0-1 0-1 0-1 0-1 0-1 0-1 0-1 0-1 0-1 0-1 0-1 0-1 0-1 0-1 0-1 0-1 0-1 0-1 0-1 0-1 0-1 0-1 0-1 0-1 0-1 0-1 0-1 0-1 0-1 0-1 0-1 0-1 0-1 0-1 0-1 0-1 0-1 0-1 0-1 0-1 0-1 0-1 0-1 0-1 0-1 0-1 0-1 0-1 0-1 0-1 0-1 0-1 0-1 0-1 0-1 0-1 0-1 0-1 0-1 0-1 0-1 0-1 0-1 0-1 0-1 0-1 0-1 0-1 0-1 0-1 0-1 0-1 0-1 0-1 0-1 0-1 0-1 0-1 0-1 0-1 0-1 0-1 0-1 0-1 0-1 0-1 0-1 0-1 0-1 0-1 0-1 0-1 0-1 0-1 0-1 0-1 0-1 0-1 0-1 0-1 0-1 0-1 0-1 0-1 0-1 0-1 0-1 0-1 0-1 0-1 0-1 0-1 0-1 0-1 0-1 0-1 0-1 0-1 0-1 0-1 0-1 0-1 0-1 0-1 0-1 0-1 0-1 0-1 0-1 0-1 0-1 0-1 0-1 0-1 0-1 0-1 0-1 0-1 0-1 0-1 0-1 0-1 0-1 0-1 0-1 0-1 0-1 0-1 0-1 0-1 0-1 0-1 0-1 0-1 0-1 0-1 0-1 0-1 0-1 0-1 0-1 0-1 0-1 0-1 0-1 0-1 0-1 0-1 0-1 0-1 0-1 0-1 0-1 0-1 0-1 0-1 0-1 0-1 0-1 0-1 0-1 0-1 0-1 0-1 0-1 0-1 0-1 0-1 0-1 0-1 0-1 0-1 0-1 0-1 0-1 0-1 0-1 0z" fill="#348ABD" stroke="#348ABD"/>
<path d="M0 0l1 0 1 0 1 0 1 0 1 0 1 0 1 0 1 0 1 0 1 0 1 0 1 0 1 0 1 0 1 0 1 0 1 0 1 0 1 0 1 0 1 0 1 0 1 0 1 0 1 0 1 0 1 0 1 0 1 0 1 0 1 0 1 0 1 0 1 0 1 0 1 1 1 0 1 1 1 1 1 1 1 0 1 1 1 2 1 3 1 2 1 18 1 15 1 21 1 23 1 15 1 20 1 5 1 9 1 14 1 14 1 10 1 30 1 25 1 37 1 28 1 8 1 14 1 34 1 11 1 21 1 82 1-41 1 103 1 120 1-41 1-54 1 49 1 41 1 135 1-9 1-93 1 120 1-54 1-23 1 1 1-56 1 30 1 81 1 4 1 59 1 71 1-3 1-25 1 26 1-14 1-23 1 35 1-39 1 135 1 39 1 12 1-34 1-36 1 60 1 20 1 47 1-49 1 39 1-35 1 74 1 23 1-87 1-95 1 48 1-39 1 160 1 9 1 6 1-63 1-78 1 14 1-64 1 127 1 81 1 88 1 57 1-101 1-89 1 33 1 14 1 53 1 40 1-63 1-45 1-15 1-39 1 24 1 16 1-31 1 83 1 110 1-73 1-32 1-41 1-11 1 34 1 44 1-43 1 75 1-12 1 76 1-139 1-20 1 45 1 26 1 14 1 2 1-52 1-1 1 65 1-41 1-58 1-47 1 60 1 18 1-48 1-9 1 67 1 28 1-37 1 12 1 35 1 36 1-3 1-43 1 103 1-28 1-45 1-53 1 39 1 93 1-25 1 43 1-9 1 24 1-15 1-67 1-113 1 33 1 67 1-36 1-58 1 19 1-39 1 22 1-56 1 23 1 110 1 96 1 28 1-149 1 54 1-71 1-25 1-56 1 21 1 71 1-118 1 31 1 62 1 1 1-40 1 150 1-48 1-68 1 58 1-34 1-10 1-29 1-8 1 20 1 84 1-10 1-55 1 21 1 53 1 48 1-24 1-41 1-34 1-48 1-43 1 76 1 1 1 39 1 51 1 7 1-64 1-27 1-39 1-13 1 38 1 59 1 76 1-2 1-72 1 14 1 56 1-46 1 61 1-39 1 63 1-86 1-47 1-67 1-43 1 98 1 78 1-81 1-39 1-4 1 72 1-13 1-19 1-71 1 74 1-16 1-24 1 22 1-60 1-61 1 5 1-34 1-2 1 0 1-31 1-13 1 90 1 123 1-107 1-87 1-15 1-17 1-17 1 55 1 3 1 157 1 89 1 34 1-97 1 11 1 27 1-123 1 75 1 9 1-111 1-18 1 52 1 127 1 4 1 3 1 21 1-99 1-50 0-627-1-112-1 166-1 77-1 11-1-27-1-111-1-79-1 91-1 22-1-104-1 49-1 100-1 5-1-51-1 2-1-78-1 41-1-127-1-46-1-129-1 97-1 79-1 16-1 90-1 47-1-75-1-107-1-11-1 37-1 58-1-76-1 83-1 17-1-10-1 41-1 8-1 24-1-6-1-21-1-2-1 85-1 11-1-35-1-73-1-14-1 17-1 5-1-30-1 31-1 91-1 19-1-20-1-86-1 24-1 2-1 42-1-3-1-28-1 40-1-11-1-28-1-121-1-50-1-50-1 200-1 34-1 66-1-56-1-65-1 64-1-51-1-75-1 130-1 38-1-67-1 6-1 9-1-115-1 58-1 65-1-49-1-98-1 18-1 54-1 65-1-94-1-44-1 60-1-12-1 35-1 63-1-82-1 95-1-19-1-140-1-61-1 51-1-136-1 79-1 138-1 25-1 53-1-134-1 155-1 6-1-69-1-68-1-117-1 40-1 0-1 26-1-19-1 78-1-39-1-18-1 22-1 70-1-13-1 8-1 41-1-71-1 59-1 11-1 82-1-31-1-39-1-19-1-33-1-43-1-5-1-74-1-96-1 136-1 14-1 33-1-31-1-91-1-50-1 47-1-26-1-38-1 180-1-12-1 48-1-17-1-73-1 74-1 46-1-100-1 39-1-80-1 8-1 15-1-52-1 55-1-53-1 4-1-80-1-26-1-26-1 52-1 107-1 78-1-70-1-54-1 12-1-22-1 12-1 58-1-27-1-30-1-33-1-2-1 11-1 92-1-78-1-59-1-72-1-11-1-13-1-7-1-86-1 0-1 86-1 44-1-63-1 8-1-18-1-67-1 39-1-14-1 21-1 29-1-176-1 0-1 129-1-109-1-20-1 0-1 0-1 46-1 147-1-25-1-110-1 70-1-128-1 4-1-4-1 0-1 0-1 0-1 0-1 0-1 0-1 0-1 47-1-47-1 0-1 0-1 0-1 0-1 21-1-21-1 0-1 3-1-3-1 0-1 0-1 0-1 0-1 0-1 1-1-1-1 0-1 0-1 0-1 0-1 0-1 0-1 0-1 0-1 0-1 0-1 0-1 0-1 0-1 0-1 1-1 6-1-2-1 0-1-2-1-2-1-1-1 0-1 0-1 0-1 0-1 0-1 0-1 0-1 0-1 0-1 0-1 0-1 0-1 0-1 0-1 0-1 0-1 0-1 0-1 0-1 0-1 0-1 0-1 0-1 0-1 0-1 0-1 0-1 0-1 0-1 0-1 0-1 0-1 0-1 0-1 0-1 0-1 0-1 0-1 0-1 0-1 0-1 0-1 0-1 0-1 0z" fill="#7A68A6" stroke="#7A68A6"/>
<path d="M0 0l1 0 1 0 1 0 1 0 1 0 1 0 1 0 1 0 1 0 1 0 1 0 1 0 1 0 1 0 1 0 1 4 1 4 1 5 1 4 1 4 1 29 1 46 1 45 1 49 1 44 1 33 1 39 1 50 1 40 1 58 1 8 1 35 1 22 1 27 1 15 1-14 1 10 1 27 1 7 1-14 1 5 1 4 1 13 1 13 1 14 1 10 1-27 1-7 1 7 1 6 1-1 1-8 1-28 1 29 1 9 1-6 1 10 1-6 1 18 1-12 1 5 1-13 1 22 1 0 1-16 1 3 1 14 1 0 1 16 1-28 1 27 1-29 1 6 1-20 1 1 1-14 1 22 1 32 1 6 1 6 1-4 1 6 1 2 1-15 1-1 1 14 1-20 1-12 1 8 1 33 1 35 1 25 1-15 1 10 1-24 1 0 1 52 1-6 1-12 1 27 1-21 1-3 1 14 1-10 1-11 1 39 1 8 1 16 1 25 1 13 1 9 1 33 1 9 1 27 1-8 1 7 1 1 1-24 1-13 1 9 1-19 1-10 1-15 1 1 1-22 1 16 1 23 1 24 1-18 1 52 1 3 1 19 1-25 1 22 1-5 1 24 1-13 1 26 1 5 1-23 1-18 1 7 1 4 1 17 1-21 1 13 1 8 1 0 1-29 1-5 1-5 1 21 1-12 1 26 1 12 1-102 1-110 1 67 1 66 1 70 1 18 1-9 1-5 1 1 1-7 1 18 1 13 1-27 1 7 1-11 1 22 1 16 1-11 1-9 1-25 1 25 1 6 1-55 1-67 1-53 1 53 1 41 1 53 1-19 1 6 1-33 1 38 1 34 1-34 1 26 1-1 1-15 1 18 1-16 1 19 1-3 1-2 1-9 1 3 1 2 1 13 1-21 1 29 1 13 1 0 1 0 1-16 1 6 1 1 1-17 1-6 1 5 1-13 1-65 1-92 1 54 1 35 1 53 1-5 1 8 1-7 1-4 1-5 1-10 1-2 1-9 1 21 1-34 1 19 1-28 1 23 1 55 1-5 1 30 1-5 1-5 1 6 1-20 1 21 1-13 1 12 1 13 1-11 1 1 1-1 1-23 1 17 1-37 1-65 1-40 1 46 1 58 1 34 1-9 1-10 1-17 1-22 1 32 1 19 1-3 1-21 1 15 1 13 1-6 1 10 1-30 1 19 1 20 1 8 1-1 1-1 1-13 1-11 1-16 1 12 1-5 1 24 1-33 1 13 1-19 1 16 1 2 1 23 1-9 1-1 1 1 1-14 1 20 1-11 1-4 1-28 1-55 1-53 1 54 1 46 1 25 1 36 1-27 1 20 0-860-1-8-1 18-1-34-1-102-1-2-1 0-1 0-1 25-1 97-1 6-1 27-1 15-1 4-1 5-1-13-1-11-1 0-1-26-1 3-1-16-1 29-1 29-1-23-1-1-1-2-1-20-1 26-1-12-1-1-1 3-1 0-1 1-1-22-1 23-1-39-1-10-1-2-1-6-1 17-1 24-1-10-1 25-1-8-1-7-1-2-1 17-1-82-1-63-1 0-1 0-1 81-1 57-1-21-1-12-1 20-1 3-1 5-1-13-1 9-1 23-1-7-1-18-1 7-1-14-1 17-1-26-1-35-1-44-1-14-1 31-1 2-1 52-1 2-1 11-1-4-1 9-1 5-1-12-1-21-1 24-1-3-1-75-1-39-1 0-1 0-1 57-1 78-1 14-1 23-1 13-1-4-1-12-1 7-1 13-1-8-1-42-1 19-1 3-1-3-1 7-1 14-1-21-1 9-1-30-1-2-1-11-1 1-1 16-1 6-1-44-1 26-1 0-1-21-1 29-1-23-1 6-1-103-1-17-1 0-1 0-1 72-1 80-1-19-1 4-1-13-1 13-1-4-1 8-1-10-1-34-1 10-1 14-1-1-1-16-1 23-1-3-1-3-1 21-1-9-1-133-1 0-1 0-1 0-1 101-1-18-1-10-1 18-1-30-1 23-1 47-1-9-1 22-1 0-1-55-1 44-1-4-1 16-1 10-1-24-1-5-1 32-1-3-1-13-1 3-1 2-1-20-1-16-1 14-1-28-1-5-1-23-1-34-1-35-1 0-1 0-1 0-1 11-1 29-1 47-1 15-1-3-1 22-1 16-1 16-1-24-1-11-1-20-1-7-1-9-1-1-1-15-1-26-1-6-1-8-1-6-1 11-1 19-1-10-1 42-1-25-1-10-1-17-1-30-1 15-1 40-1-8-1 7-1-1-1-24-1-29-1 0-1 0-1 1-1-1-1 0-1 0-1 0-1 8-1-2-1-6-1 9-1-9-1 0-1 0-1 0-1 0-1 2-1 26-1 13-1-2-1-3-1-10-1 3-1-3-1 15-1-4-1-27-1 4-1 1-1-10-1 1-1 21-1 14-1-13-1-1-1 1-1 12-1 13-1-23-1 6-1 28-1 4-1 11-1-8-1 9-1 6-1-10-1-4-1 3-1 0-1-7-1 2-1 3-1 4-1-2-1-13-1-16-1-14-1-7-1-17-1 1-1-9-1 0-1 0-1 0-1 0-1 0-1 0-1 0-1 0-1 0-1 0-1 0-1 0-1 0-1 0-1 0-1 0-1 0-1 0-1 0-1 0-1 0-1 0-1 0-1 0-1 0-1 0-1 0z" fill="#467821" stroke="#467821"/>
<path d="M0 0l1 0 1 1 1 0 1 5 1-4 1 0 1 9 1 6 1-2 1 23 1 51 1 65 1 114 1 108 1 105 1 131 1 116 1-29 1-20 1 27 1 18 1-34 1 1 1-24 1 17 1 35 1-2 1 38 1 17 1 20 1 29 1 64 1-5 1 86 1 29 1 59 1 23 1 4 1 15 1 3 1 22 1-8 1 12 1 23 1 16 1 56 1-2 1 53 1-60 1-29 1-41 1-7 1 27 1-13 1 4 1 5 1 30 1 0 1-25 1 23 1-3 1 49 1 26 1-13 1 23 1 5 1 15 1-35 1 51 1-12 1-16 1-11 1 33 1-8 1 5 1-15 1 21 1 25 1-5 1 29 1-63 1 53 1-7 1 28 1-3 1-5 1 6 1-35 1 20 1 11 1-1 1 10 1-29 1 24 1 5 1 20 1-8 1-39 1 26 1-5 1 11 1-8 1-6 1-17 1-6 1-36 1-16 1-14 1-22 1 22 1 50 1 40 1-9 1 3 1 19 1-6 1-2 1 5 1 10 1-38 1-51 1-33 1 17 1 44 1 27 1 25 1-19 1-2 1 18 1 4 1-4 1-31 1 14 1 3 1 19 1-2 1 2 1 4 1-17 1-25 1-7 1 0 1 7 1 14 1-2 1 24 1-4 1 9 1 2 1 17 1-12 1 1 1 14 1-9 1 0 1-37 1-53 1 33 1 17 1 27 1-1 1-2 1 14 1-5 1 10 1-1 1-7 1-1 1 3 1 6 1-8 1 2 1-1 1 4 1-2 1 2 1-6 1 21 1 6 1-10 1-4 1-1 1 13 1-15 1 10 1-3 1-2 1-12 1 12 1 16 1 2 1-10 1-20 1 3 1 7 1-6 1 7 1-6 1-7 1-5 1-31 1 16 1 7 1 15 1-13 1-5 1-3 1 17 1 18 1-6 1 12 1-5 1 10 1 6 1-2 1-8 1-24 1 9 1 0 1 8 1 7 1 2 1-3 1 4 1-2 1-8 1 8 1-5 1-4 1 10 1-2 1 3 1-11 1 4 1 22 1-1 1 1 1-14 1 7 1-15 1-9 1 5 1 20 1 4 1-8 1-15 1 6 1-15 1-8 1 11 1 3 1-11 1 2 1 8 1 2 1 5 1 11 1 13 1 8 1-3 1-6 1-4 1 13 1-2 1-9 1-9 1 12 1 2 1-10 1-16 1-1 1 3 1 5 1-7 1 3 1 8 1 14 1 1 1 1 1 5 1-2 1 2 1-14 1-8 1 0 1-26 1-30 1-23 1-17 1 19 1 37 1 21 1 31 1-2 1 0 1 0 1 2 1-3 1 5 0-36-1-9-1 2-1 1-1-2-1 5-1-2-1-87-1-68-1-116-1-54-1 50-1 68-1 94-1 95-1 3-1 12-1 16-1 0-1 10-1-14-1 0-1-1-1-18-1-42-1-15-1 19-1-23-1-16-1 4-1 61-1 23-1-2-1-22-1 17-1 8-1 8-1-15-1 10-1 6-1 1-1-11-1-12-1-28-1-20-1-3-1-15-1-1-1 32-1-19-1-30-1 29-1 42-1-18-1 28-1 9-1-5-1-29-1-22-1 24-1 21-1-7-1 14-1 3-1 1-1-30-1-17-1 31-1 2-1 4-1-31-1 17-1 13-1-26-1 22-1 6-1-10-1 1-1-1-1-30-1-20-1 5-1-15-1 65-1 1-1 0-1-7-1-13-1 12-1-12-1 2-1-32-1-45-1 13-1 12-1 39-1-57-1-18-1-50-1 98-1 15-1 19-1 5-1-9-1 10-1-12-1-4-1 22-1 8-1-5-1-11-1-29-1 28-1 0-1 7-1-16-1 17-1-14-1 5-1 7-1 6-1-5-1-37-1 22-1 2-1-6-1-2-1 1-1-16-1 21-1-7-1-8-1 13-1 2-1 5-1-21-1 12-1-37-1 5-1 4-1-88-1-60-1-106-1 178-1 102-1 3-1 5-1-7-1-2-1 16-1-17-1-9-1-14-1 0-1-71-1 13-1-35-1-36-1-10-1 37-1 63-1 44-1 1-1 0-1 3-1-23-1-1-1-29-1 51-1 2-1-12-1-23-1-21-1 56-1-37-1-90-1-138-1-53-1 112-1 150-1 60-1-11-1-3-1-1-1 2-1-12-1-5-1 9-1-109-1-172-1-77-1 74-1 50-1 72-1 105-1 31-1 26-1-2-1 12-1-33-1 5-1 19-1-16-1-37-1 37-1-26-1 18-1-18-1-31-1 30-1-23-1 4-1 7-1-1-1-5-1-75-1-39-1-69-1-57-1-26-1-72-1-57-1-59-1-55-1-37-1-23-1 0-1-7-1-8-1 28-1-15-1-9-1-24-1 5-1 6-1 24-1-194-1-171-1 42-1-7-1 0-1 23-1-14-1-10-1 23-1-6-1-7-1-2-1-7-1 28-1-11-1-6-1 18-1-20-1-11-1-13-1-8-1 22-1-16-1 22-1-28-1 14-1-63-1-53-1-46-1-52-1-44-1-29-1-34-1-32-1 11-1-22-1 41-1-20-1 8-1 19-1-8-1 8-1-25-1 47-1-39-1 1-1 17-1-7-1-21-1 19-1 10-1 3-1-9-1-22-1 18-1 0-1 0-1-1-1 0-1 0-1-15-1-4-1 17-1 0z" fill="#A60628" stroke="#A60628"/>
</g><g fill="none" stroke-linejoin="round" stroke-linecap="square">
<path d="M0 0l1 0 1 0 1 0 1 0 1 0 1 0 1 0 1 0 1 0 1 0 1 0 1 0 1 0 1 0 1 0 1 0 1 0 1 0 1 0 1 0 1 7 1 6 1 7 1 7 1 7 1 21 1 22 1 21 1 22 1 21 1 9 1 10 1 8 1 11 1 14 1 16 1 22 1 3 1 9 1-5 1-11 1 1 1 2 1 8 1-11 1 2 1 1 1-14 1-6 1 10 1 10 1 9 1 3 1 1 1 0 1 8 1-9 1-1 1 5 1-12 1 15 1-5 1 3 1 19 1-9 1-3 1 15 1-10 1 0 1 7 1 5 1 6 1 2 1 10 1 5 1-3 1-12 1-9 1-16 1 10 1-14 1 12 1 15 1-14 1-6 1-4 1 8 1-8 1-1 1-4 1 1 1 12 1-9 1 2 1 3 1 6 1-12 1 10 1 2 1 4 1-3 1-16 1-2 1 10 1 0 1-1 1 15 1 12 1-9 1 9 1-24 1-17 1 13 1 0 1 6 1 4 1-2 1 5 1-1 1-14 1 5 1 2 1 15 1-14 1-1 1-3 1-1 1 15 1-2 1-7 1 0 1 4 1-11 1-1 1 13 1 3 1-5 1-7 1-3 1-12 1 11 1 3 1 0 1-12 1-3 1-11 1-15 1 10 1 19 1 20 1-15 1-12 1-13 1-13 1 5 1-2 1-4 1-19 1 8 1 17 1 13 1 18 1-4 1 9 1 15 1 8 1 5 1-9 1 1 1-10 1 5 1-8 1-7 1-5 1 8 1 1 1 0 1-10 1-34 1-48 1-20 1 19 1 23 1 19 1 8 1 14 1 7 1 18 1-10 1-4 1 4 1-11 1-8 1 6 1 8 1 1 1 18 1-3 1 3 1 13 1 6 1-23 1-6 1 8 1-17 1-7 1-9 1-7 1-3 1 8 1 14 1 11 1-7 1-21 1 1 1-2 1 4 1-2 1-17 1 8 1-12 1 4 1 13 1 10 1 17 1-21 1 11 1 10 1 0 1 9 1-10 1 9 1 6 1-9 1-3 1 3 1-2 1 14 1 2 1 12 1 7 1-5 1-4 1-9 1-5 1-2 1 9 1-4 1 6 1 5 1-2 1 2 1 16 1 0 1-25 1-15 1-15 1-13 1 4 1-9 1 6 1 9 1-14 1-6 1-3 1 7 1-5 1 3 1 7 1 4 1 6 1-4 1-5 1 23 1 12 1-1 1-1 1 1 1-10 1 11 1-1 1 4 1 12 1 2 1 7 1 4 1 0 1 2 1 18 1-4 1 13 1-12 1 7 1 1 1-6 1-20 1 25 1-7 1-1" stroke="#348ABD" stroke-width="1.95"/>
<path d="M0 0l1 0 1 0 1 0 1 0 1 0 1 0 1 0 1 0 1 0 1 0 1 0 1 0 1 0 1 0 1 0 1 0 1 0 1 0 1 0 1 0 1 0 1 0 1 0 1 0 1 0 1 0 1 0 1 0 1 0 1 0 1 0 1 0 1 0 1 0 1 0 1 1 1 0 1 1 1 1 1 1 1 0 1 1 1 2 1 3 1 2 1 3 1 2 1 2 1 3 1 2 1 3 1 0 1 3 1-1 1 14 1 8 1 10 1 10 1 0 1 20 1 11 1 28 1 13 1 9 1 32 1 5 1 0 1 13 1 10 1 15 1-2 1 30 1 13 1 31 1 8 1-14 1 30 1 2 1 13 1-34 1 8 1 60 1 41 1-26 1 37 1 29 1 46 1-19 1-19 1 48 1 7 1 13 1 5 1 68 1-13 1 52 1 19 1-22 1 41 1 37 1-4 1-16 1 21 1-32 1 23 1 47 1-76 1-60 1 42 1-32 1 4 1 22 1-10 1 19 1-23 1 3 1 1 1 15 1-28 1 44 1 46 1 34 1 13 1 60 1-22 1 56 1 40 1-18 1-65 1 0 1-26 1-32 1 17 1-14 1 55 1 69 1 6 1-61 1-37 1 2 1-1 1 41 1-6 1 46 1-22 1 41 1-50 1 1 1 23 1 39 1 11 1-35 1-32 1 24 1 12 1-1 1 12 1-40 1 34 1 32 1-43 1-24 1 50 1 20 1-48 1-25 1-48 1 49 1 20 1 8 1 75 1-33 1-14 1 6 1-8 1 37 1-23 1-5 1 63 1-55 1-50 1 15 1-21 1-14 1 17 1 26 1-62 1 6 1-59 1 60 1-31 1 51 1 69 1 29 1-7 1-73 1 86 1-87 1-34 1-85 1-62 1 103 1-22 1 24 1 66 1 41 1-92 1 63 1-22 1 19 1 66 1-34 1-4 1 2 1-54 1-20 1 11 1 30 1 13 1 12 1 17 1 34 1-47 1 18 1 48 1-61 1-46 1 50 1-20 1-9 1 34 1 5 1-30 1-7 1-42 1 3 1 15 1 25 1 24 1 51 1-26 1 21 1-8 1-41 1 7 1 2 1 7 1-5 1-18 1-45 1-10 1 10 1 13 1 23 1 2 1 13 1 35 1-16 1-28 1-40 1 27 1 12 1-33 1 32 1-63 1-27 1-12 1-52 1 34 1-45 1 1 1-6 1 95 1 76 1-86 1-78 1-31 1-22 1-46 1 76 1 16 1 127 1 39 1 63 1-65 1-6 1 6 1-85 1-32 1 50 1 20 1-16 1 14 1 51 1 32 1-3 1-8 1-94 1 9" stroke="#7A68A6" stroke-width="1.95"/>
<path d="M0 0l1 0 1 0 1 0 1 0 1 0 1 0 1 0 1 0 1 0 1 0 1 0 1 0 1 0 1 0 1 0 1 4 1 4 1 5 1 4 1 4 1 4 1 19 1 19 1 19 1 19 1 19 1 20 1 20 1 19 1 20 1 13 1 13 1 15 1 9 1-3 1 1 1 0 1 5 1 3 1-1 1 2 1-3 1 12 1 1 1-6 1 10 1-5 1 0 1-9 1-8 1 11 1-4 1-5 1-2 1 7 1-2 1-3 1-11 1 2 1 7 1 1 1 1 1 15 1 2 1-4 1 3 1-5 1 5 1 8 1-3 1 6 1-5 1-8 1-36 1-36 1-7 1 43 1 38 1-1 1 2 1 4 1-5 1-1 1 3 1-2 1 9 1 1 1-5 1-2 1 34 1 23 1 22 1-2 1-2 1-18 1-5 1 25 1 24 1 15 1 12 1-14 1 1 1-8 1-4 1 15 1 7 1 9 1 23 1 13 1 7 1 17 1 15 1 24 1 16 1-8 1-7 1-6 1-9 1-8 1-21 1-24 1-13 1-20 1 8 1 6 1 16 1 19 1 18 1 9 1 16 1 13 1 3 1 9 1 3 1 1 1-1 1 0 1 4 1-8 1 4 1-6 1 12 1-4 1 8 1-8 1 12 1 4 1-13 1-15 1-14 1-14 1 11 1 6 1 7 1-1 1-94 1-100 1 64 1 79 1 71 1 5 1 1 1 0 1 2 1-10 1 4 1 5 1 2 1 3 1-11 1 9 1 5 1 3 1 1 1 1 1 4 1-4 1-53 1-49 1-60 1 55 1 46 1 48 1-1 1 4 1-6 1 11 1-4 1-3 1 10 1-1 1-10 1 3 1 6 1 8 1 3 1-5 1 13 1-7 1-14 1 12 1 5 1 1 1 8 1-2 1-7 1-2 1-8 1 2 1-6 1-5 1-6 1-41 1-39 1-46 1 34 1 43 1 47 1-4 1-5 1-10 1 9 1-6 1-3 1-6 1-13 1 4 1-10 1-6 1-9 1 10 1 20 1 13 1 19 1 4 1 11 1-11 1 10 1 7 1-7 1-1 1 4 1-9 1 10 1-13 1 4 1 0 1-49 1-47 1-42 1 42 1 43 1 42 1 2 1-3 1-4 1-3 1-3 1 2 1-7 1-6 1 4 1 1 1 8 1 11 1-5 1 11 1-6 1 3 1-2 1 3 1 6 1 7 1-11 1 7 1-6 1 9 1-12 1-3 1 2 1 9 1-1 1 5 1-1 1 2 1-4 1-4 1 0 1-1 1-3 1-42 1-51 1-45 1 41 1 43 1 38 1 17 1-9 1 3" stroke="#467821" stroke-width="1.95"/>
<path d="M0 0l1 0 1 1 1 0 1 1 1 0 1 0 1 1 1 0 1 12 1 23 1 22 1 24 1 28 1 29 1 31 1 34 1 39 1 38 1 9 1-19 1 24 1 6 1 10 1 21 1 15 1 4 1 10 1 28 1 13 1 19 1 14 1 36 1 40 1 1 1 28 1 29 1 26 1 63 1 37 1 1 1 15 1 38 1 25 1 37 1-34 1-8 1-44 1-17 1-28 1-22 1 71 1 56 1-1 1-2 1 22 1-17 1 2 1 13 1-11 1-9 1 12 1 26 1 26 1 55 1 46 1 25 1 2 1 22 1 4 1 1 1 25 1 24 1-2 1 7 1 14 1 17 1 24 1 21 1 42 1 25 1 8 1 18 1 4 1 21 1 17 1-7 1 20 1 8 1 10 1 6 1-10 1-7 1 21 1-6 1 11 1 12 1-2 1 12 1 10 1 11 1-9 1-10 1-5 1-16 1-8 1-31 1-21 1-17 1-23 1 25 1 51 1 39 1-8 1 3 1 18 1-5 1-2 1 7 1 6 1-37 1-48 1-33 1 17 1 44 1 28 1 19 1-21 1 2 1 18 1 5 1-3 1-29 1 10 1 2 1 18 1 0 1-2 1 3 1-17 1-19 1-11 1 3 1 13 1 10 1-4 1 27 1-4 1 9 1 2 1 16 1-11 1 0 1 7 1-4 1 0 1-37 1-54 1 33 1 19 1 26 1 0 1 2 1 11 1-4 1 9 1-1 1-5 1-3 1 4 1 4 1-7 1 5 1-1 1 2 1 0 1 1 1-7 1 20 1 6 1-9 1-6 1-2 1 14 1-13 1 11 1-5 1-3 1-9 1 11 1 14 1 2 1-9 1-17 1 2 1 9 1-10 1 8 1-5 1-7 1-5 1-30 1 15 1 6 1 17 1-13 1-4 1-2 1 16 1 17 1-5 1 14 1-10 1 14 1 3 1 1 1-7 1-25 1 7 1 0 1 6 1 9 1 3 1-3 1 5 1-2 1-7 1 7 1-4 1-6 1 12 1-3 1 1 1-11 1 7 1 20 1-2 1-1 1-11 1 6 1-16 1-6 1 6 1 20 1 3 1-9 1-15 1 8 1-15 1-8 1 8 1 6 1-9 1 0 1 9 1 1 1 7 1 8 1 12 1 10 1-1 1-7 1-6 1 18 1-8 1-7 1-10 1 14 1 1 1-11 1-17 1-1 1 3 1 5 1-6 1 2 1 9 1 14 1 4 1 0 1 14 1-8 1 1 1-17 1-8 1-1 1-24 1-30 1-21 1-16 1 17 1 36 1 23 1 30 1-1 1-3 1 1 1 2 1-3 1 7" stroke="#A60628" stroke-width="3.5"/>
</g></g>
</g>
<path d="M335.6 174.4v-3.4M369.4 174.4v-3.4M403.3 174.4v-3.4M437.1 174.4v-3.4M471 174.4v-3.4M504.8 174.4v-3.4M538.6 174.4v-3.4M325.4 172.8h3.4M325.4 139.1h3.4M325.4 105.4h3.4M325.4 71.8h3.4M325.4 38.1h3.4" stroke="#000" stroke-width="0.85" fill="none"/>
<rect x="325.45" y="23.5" width="221.8" height="150.9" fill="none" stroke="#bcbcbc" stroke-width="0.96"/>
<g font-size="9.6">
<text x="335.6" y="185.1" text-anchor="middle" transform="rotate(0.05 335.6 185.1)">0.0</text>
<text x="369.4" y="185.1" text-anchor="middle" transform="rotate(0.05 369.4 185.1)">0.5</text>
<text x="403.3" y="185.1" text-anchor="middle" transform="rotate(0.05 403.3 185.1)">1.0</text>
<text x="437.1" y="185.1" text-anchor="middle" transform="rotate(0.05 437.1 185.1)">1.5</text>
<text x="471" y="185.1" text-anchor="middle" transform="rotate(0.05 471 185.1)">2.0</text>
<text x="504.8" y="185.1" text-anchor="middle" transform="rotate(0.05 504.8 185.1)">2.5</text>
<text x="538.6" y="185.1" text-anchor="middle" transform="rotate(0.05 538.6 185.1)">3.0</text>
<text x="322.2" y="176.3" text-anchor="end" transform="rotate(0.05 322.2 176.3)">0</text>
<text x="322.2" y="142.7" text-anchor="end" transform="rotate(0.05 322.2 142.7)">200</text>
<text x="322.2" y="109" text-anchor="end" transform="rotate(0.05 322.2 109)">400</text>
<text x="322.2" y="75.4" text-anchor="end" transform="rotate(0.05 322.2 75.4)">600</text>
<text x="322.2" y="41.7" text-anchor="end" transform="rotate(0.05 322.2 41.7)">800</text>
</g>
<text x="436.4" y="17.7" font-size="13.8" text-anchor="middle" transform="rotate(0.05 436.4 17.7)">Cartpole Swingup Sparse</text>
<text y="200.7" font-size="11.5" transform="rotate(0.05 436.4 200.7)"><tspan x="395.4">Frames (</tspan><tspan x="446.6" dy="0.9" stroke="none" font-family="'Liberation Serif', 'DejaVu Serif', serif" font-size="15">×</tspan><tspan x="455.2" dy="-0.9" stroke="none" font-family="'Liberation Serif', 'DejaVu Serif', serif" font-size="12.6">10</tspan><tspan x="467.8" dy="-3.8" stroke="none" font-family="'Liberation Serif', 'DejaVu Serif', serif" font-size="8.4">6</tspan><tspan x="472.2" dy="3.8">)</tspan></text>
<text transform="translate(297.6 98.4) rotate(-90)" font-size="11.5" text-anchor="middle">Episode Return</text>
</g>
<g>
<rect x="601.3" y="23.5" width="221.8" height="150.9" fill="#eeeeee"/>
<path d="M611.4 23.5V174.4M645.3 23.5V174.4M679.1 23.5V174.4M713 23.5V174.4M746.8 23.5V174.4M780.6 23.5V174.4M814.5 23.5V174.4M601.3 172.8H823.1M601.3 141.4H823.1M601.3 110H823.1M601.3 78.6H823.1M601.3 47.2H823.1" stroke="#b2b2b2" stroke-width="0.7" stroke-dasharray="1.8 0.8" fill="none"/>
<g clip-path="url(#c2)">
<g transform="translate(611.4 172.8) scale(0.67680 -0.1)">
<g fill-opacity="0.2" stroke-opacity="0.2" stroke-width="0.9" vector-effect="non-scaling-stroke">
<path d="M0 0l1 35 1 42 1 28 1 26 1 28 1 23 1 18 1 8 1 3 1-18 1 11 1-9 1 21 1-2 1 25 1 13 1 3 1-10 1 6 1-16 1-15 1 22 1 22 1-3 1 2 1 5 1 27 1-3 1-34 1-3 1-14 1 4 1 7 1 18 1 0 1-32 1 5 1 0 1-3 1-7 1-4 1 6 1-6 1 0 1 0 1-16 1 8 1-10 1 6 1-19 1-7 1-1 1-23 1 8 1 11 1 0 1 16 1-23 1 7 1-1 1 17 1 5 1-16 1 4 1-40 1 16 1 7 1-20 1 0 1-25 1-5 1-3 1-17 1-15 1-18 1-3 1 9 1-10 1-14 1 16 1 4 1-1 1 2 1-1 1-5 1-4 1-7 1-3 1-3 1 6 1 1 1-6 1-3 1-9 1 0 1-1 1-1 1 0 1-1 1-5 1-1 1-7 1 3 1 2 1 2 1-4 1 7 1-5 1 1 1-2 1-1 1 1 1-1 1-5 1-2 1 1 1 6 1-4 1 0 1 3 1 0 1-1 1-3 1-4 1 0 1 1 1-4 1-1 1 4 1 0 1-1 1-1 1-1 1 4 1 3 1 5 1-1 1-2 1 1 1 1 1 0 1-1 1-4 1-7 1 3 1 0 1-1 1-2 1-2 1 4 1-2 1-1 1 3 1-1 1 1 1 5 1-4 1-4 1 2 1-1 1 1 1 2 1-1 1-3 1 4 1-1 1 0 1 0 1-3 1 2 1-2 1 4 1 2 1-1 1-2 1 0 1-6 1 4 1-1 1 4 1-2 1-1 1 1 1-3 1 0 1 2 1-2 1-2 1 0 1 2 1 4 1 1 1 2 1-4 1 1 1 2 1-3 1 4 1-3 1 0 1-2 1 0 1-3 1 1 1 0 1 4 1 0 1-1 1 3 1-3 1-2 1 2 1 1 1-1 1-2 1-3 1 2 1 0 1 0 1 0 1-3 1 2 1 3 1-1 1 1 1 0 1 1 1 0 1 1 1-3 1 0 1-1 1 3 1-1 1 0 1-5 1 4 1-4 1-2 1 1 1 4 1 0 1-2 1 1 1 1 1-3 1 0 1 0 1 2 1 2 1 1 1 1 1 0 1 1 1 1 1-1 1 1 1-4 1 0 1 2 1 0 1 1 1-3 1 0 1 1 1 0 1 1 1 0 1 1 1 0 1 0 1-4 1-1 1 3 1-3 1 2 1 0 1 0 1-1 1 0 1-2 1 0 1 3 1-3 1 4 1-1 1-1 1-6 1 5 1-2 1 0 1-1 1 0 1 3 1-1 1 2 1 0 1 1 1-2 0-10-1 2-1-1-1 1-1-2-1 2-1-4-1 1-1 0-1 1-1 0-1-3-1 4-1-2-1 2-1-4-1 3-1-2-1-1-1 3-1 0-1 2-1-2-1 2-1-1-1 1-1-3-1 0-1 5-1-1-1-1-1 0-1 1-1-1-1-2-1-1-1 2-1 2-1-2-1 2-1-2-1 2-1 2-1-2-1 2-1 0-1-1-1-1-1 0-1-3-1-2-1-3-1 0-1 0-1 3-1 0-1 1-1 0-1-2-1-1-1-1-1 1-1 4-1-4-1 3-1 0-1 1-1-1-1 0-1 2-1 1-1 0-1-3-1-1-1 2-1 0-1 1-1-4-1 0-1 1-1 0-1 2-1 3-1-6-1 2-1 0-1 1-1-4-1 1-1 4-1 4-1-5-1 0-1 1-1-2-1-3-1-1-1 2-1 1-1 3-1 1-1-1-1-1-1 2-1 1-1-4-1 5-1 0-1-1-1-5-1-1-1-1-1 3-1 1-1-3-1-1-1 2-1 0-1 0-1 2-1-2-1 1-1-4-1 6-1-1-1 1-1 1-1-1-1-3-1 0-1-1-1 3-1 1-1-3-1 2-1-2-1 3-1-1-1 0-1-2-1 2-1 0-1 4-1 2-1-4-1-2-1-1-1-3-1 5-1-3-1-3-1 3-1 2-1 1-1 0-1-2-1 5-1 6-1 1-1-1-1-1-1-1-1-1-1 2-1-4-1-2-1-3-1 0-1 0-1 0-1-2-1-3-1 1-1 5-1-1-1-1-1 3-1 5-1 3-1-2-1-1-1-2-1 5-1-6-1-1-1 1-1 7-1 2-1-2-1 1-1 1-1-1-1 6-1-7-1 3-1-2-1-1-1-3-1 6-1 1-1-2-1 0-1 0-1 1-1 4-1-2-1 0-1 3-1 2-1 1-1-2-1 0-1 2-1 1-1 3-1-2-1 1-1-1-1 0-1 2-1-7-1-3-1-1-1 3-1-11-1 1-1 12-1 5-1 1-1-15-1 9-1-5-1 19-1-4-1-14-1 16-1-6-1 15-1 0-1-7-1 14-1 2-1-1-1-18-1-2-1-8-1-11-1-7-1 25-1 9-1-16-1 16-1 7-1 20-1-11-1-1-1 5-1-9-1 7-1-4-1 23-1-9-1-4-1-7-1-2-1 5-1-6-1 14-1-12-1 13-1 19-1 1-1-4-1 9-1 19-1 0-1-38-1 2-1 3-1 1-1 7-1-10-1-2-1-22-1 3-1-9-1 8-1 2-1 4-1-11-1-1-1 37-1-2-1-23-1 5-1-5-1-20-1-15-1-17-1-12z" fill="#348ABD" stroke="#348ABD"/>
<path d="M0 0l1 69 1 70 1 70 1 67 1 66 1 41 1 33 1 38 1 28 1 50 1 3 1-11 1 4 1 6 1-7 1 6 1-16 1-23 1 8 1 19 1 11 1 14 1 19 1 29 1 19 1 17 1 5 1-11 1 28 1 31 1-4 1 6 1-13 1 14 1 22 1 14 1 1 1 11 1-8 1 9 1-7 1-12 1-6 1 0 1 39 1 36 1 10 1 27 1 18 1 20 1-29 1-30 1 5 1 19 1 15 1-6 1 27 1-31 1 21 1 35 1-14 1-24 1 6 1-13 1-4 1 10 1-19 1-38 1-1 1 17 1 7 1 4 1 27 1 39 1-31 1-19 1-21 1-17 1 10 1-15 1 41 1 38 1 36 1-11 1 13 1 3 1 11 1-19 1 49 1 28 1-31 1-17 1-26 1 10 1-7 1 26 1-1 1 6 1 6 1 35 1-56 1 0 1-9 1 7 1-17 1-44 1-1 1 14 1-32 1-3 1 22 1 15 1-5 1 31 1 41 1-4 1-39 1 18 1-21 1 16 1 34 1-20 1 30 1-11 1-20 1 6 1-10 1 17 1 14 1-9 1 18 1-1 1-48 1 44 1-16 1-12 1-47 1 34 1-14 1 37 1-7 1 14 1-45 1-41 1 36 1 51 1 2 1-17 1 12 1 6 1-2 1-38 1-10 1 12 1-13 1 11 1 2 1-53 1-18 1 38 1 64 1 24 1 13 1-1 1-6 1-22 1-4 1 19 1-37 1-26 1 13 1 29 1-4 1-11 1 28 1-20 1-7 1 7 1-19 1 11 1-5 1 27 1-17 1 3 1-9 1 15 1 22 1 59 1-34 1-24 1 3 1 17 1-29 1 5 1-2 1-10 1-10 1-10 1 12 1 23 1-22 1 22 1 36 1 11 1-30 1-20 1 8 1 1 1-8 1-14 1 16 1-52 1 2 1 2 1 13 1-17 1-8 1-13 1-35 1 12 1 31 1-16 1-4 1 11 1 2 1 12 1-15 1 57 1 54 1 21 1-5 1-29 1-19 1-32 1-28 1-2 1-25 1 32 1 7 1 37 1 36 1-16 1 8 1 17 1-2 1 21 1 4 1 6 1-48 1-40 1 21 1-17 1 53 1-52 1-51 1-57 1-54 1 86 1 44 1 69 1-37 1-37 1-39 1-91 1 50 1 41 1 13 1 46 1 54 1-2 1-17 1 16 1-23 1-5 1 4 1-30 1 6 1-1 1-22 1 20 1-10 1-2 1 15 1 31 1 18 1-8 1-32 1-56 1-12 1-55 1 37 1 52 1 26 1 41 1-1 1 43 1-20 1 5 1 16 0-196-1 2-1-21-1 9-1 22-1-13-1-30-1-81-1-90-1-82-1 56-1 33-1 62-1 71-1 35-1-30-1-21-1 3-1-20-1-31-1 46-1 46-1 1-1 15-1 8-1-6-1 22-1-13-1-7-1-5-1-4-1-47-1-74-1-32-1-109-1-108-1 135-1 100-1 99-1 35-1-71-1-144-1-200-1 112-1 148-1 108-1 63-1-12-1-34-1-42-1 65-1 10-1 14-1-16-1-4-1 25-1 1-1 9-1-17-1-41-1-67-1-31-1-69-1 41-1 17-1 68-1 14-1 5-1 17-1 24-1-6-1-11-1-39-1-20-1-25-1-30-1-12-1-22-1-7-1-44-1 42-1 15-1 23-1 40-1 30-1 4-1 17-1 34-1 15-1 11-1-17-1 10-1-13-1 4-1 8-1 13-1-6-1-5-1-36-1 15-1-16-1-8-1 25-1-8-1-12-1-12-1-2-1 28-1-47-1 20-1 24-1-6-1 2-1-7-1 12-1-17-1-35-1 28-1 2-1 16-1-4-1 4-1-39-1-42-1 1-1 36-1-2-1 1-1-2-1 6-1 23-1-17-1 33-1 16-1 18-1-15-1-30-1-13-1-49-1-33-1-34-1-21-1 52-1 9-1-23-1 51-1 37-1 9-1 14-1-28-1-13-1 12-1 10-1-19-1-37-1-98-1 98-1 56-1 6-1-6-1 0-1 2-1-24-1 4-1-6-1 28-1-34-1 8-1 7-1-5-1 19-1 8-1-18-1 3-1-13-1 8-1-3-1-13-1 19-1-22-1-27-1 14-1-65-1-23-1-50-1 22-1 38-1 39-1-7-1-19-1-39-1-43-1-22-1 49-1 64-1 54-1 15-1 6-1-2-1 33-1-4-1-7-1-9-1-10-1-6-1 19-1-10-1-2-1-36-1 3-1 4-1 3-1 9-1-15-1-5-1-100-1-3-1-60-1-30-1-64-1 58-1 33-1 50-1 55-1 52-1 21-1-26-1-13-1-57-1-64-1 14-1 23-1 72-1 20-1 11-1 6-1 9-1-28-1-27-1 14-1 12-1 8-1 9-1-32-1 3-1-5-1 13-1-11-1-19-1-23-1-11-1 5-1 7-1-15-1-80-1-23-1-1-1 65-1 34-1 5-1-20-1-6-1-5-1-2-1-8-1-15-1-2-1-11-1-1-1 1-1-15-1-25-1 0-1-14-1-2-1-18-1-17-1 0-1-26-1-24-1-26-1-40-1 21-1 59-1 9-1-28-1 36-1-6-1-6-1-4-1-42-1-28-1-69-1-40-1-55-1-116-1-113-1 0-1 0-1 0z" fill="#7A68A6" stroke="#7A68A6"/>
<path d="M0 0l1 53 1 60 1 48 1 69 1 66 1 67 1 53 1 42 1 62 1 51 1 1 1 33 1 13 1 12 1 30 1 29 1 8 1-8 1-16 1 13 1 12 1-1 1 25 1 2 1 27 1 12 1 30 1 8 1 14 1-2 1 13 1 9 1 5 1-50 1-30 1 16 1 7 1 10 1 29 1 27 1-38 1-18 1 15 1-4 1 22 1 25 1 18 1 39 1 38 1 7 1-8 1-2 1 16 1 17 1-4 1-9 1 26 1 9 1 27 1-21 1 4 1-4 1-1 1 12 1 5 1-18 1 8 1 15 1 6 1 16 1-3 1 13 1 39 1-18 1-14 1 6 1-6 1 5 1 24 1-2 1-15 1 20 1 7 1 17 1-4 1-19 1 18 1-3 1 1 1-7 1-3 1 24 1-20 1-7 1 22 1-3 1-10 1-31 1 41 1 26 1 38 1 3 1 7 1-8 1-7 1-13 1 8 1 8 1-1 1-6 1 9 1 24 1 4 1-31 1 1 1 14 1-3 1-3 1 0 1-3 1-2 1-17 1-9 1 17 1 4 1 18 1 2 1 12 1 3 1 9 1 25 1-4 1 16 1-3 1-6 1-19 1-15 1-12 1 18 1 9 1-5 1-16 1 4 1 9 1-4 1 0 1-5 1 10 1 28 1 0 1 18 1 12 1 13 1-3 1-6 1 10 1-17 1 5 1 13 1 13 1-1 1-9 1 9 1-3 1-10 1 6 1 2 1 11 1 11 1-4 1-5 1-22 1 19 1 6 1 3 1 9 1-1 1-9 1 6 1-17 1 15 1 1 1 6 1-10 1 8 1 10 1 2 1 2 1-20 1-11 1-32 1-45 1-29 1-20 1 25 1 32 1 23 1 24 1-4 1-1 1 7 1 2 1-16 1 4 1 10 1 11 1 8 1 16 1 18 1 22 1-4 1-26 1-15 1-41 1-44 1-17 1-22 1 33 1 11 1 17 1 31 1 19 1 3 1 14 1-3 1 5 1-1 1-14 1 14 1-9 1 1 1 18 1 6 1-10 1 1 1-4 1-12 1-15 1-9 1-7 1 10 1 2 1-7 1-7 1 22 1-10 1 14 1 7 1 0 1 27 1 20 1 0 1-2 1-9 1-20 1 36 1-10 1-13 1-20 1-9 1-33 1-19 1-36 1-41 1 35 1 38 1 43 1 27 1 1 1-2 1-10 1 12 1 0 1 0 1-31 1 14 1 24 1 6 1-6 1 10 1-3 1 18 1-11 1 1 1 4 1 11 1 20 1-12 1-80 1-45 1 9 1 20 1 14 1 22 1 10 1 4 1 5 1-13 1 16 0-31-1-20-1 4-1 0-1 1-1-48-1-65-1-51-1-54-1-16-1 135-1 143-1 18-1-17-1-5-1-10-1-7-1 3-1-6-1 3-1-2-1-1-1-28-1-45-1-25-1 71-1-2-1 8-1-13-1 9-1 2-1-3-1-76-1-74-1-95-1-115-1 103-1 95-1 51-1 56-1 28-1 33-1 26-1 0-1-30-1 15-1 14-1 3-1 21-1-18-1-19-1-17-1-32-1-40-1 18-1-57-1 29-1 18-1-2-1-5-1 16-1 8-1 18-1 18-1 2-1 6-1 13-1 5-1 1-1-12-1-5-1-24-1 15-1 8-1-15-1 7-1-32-1-49-1-27-1-68-1-25-1-44-1-63-1 46-1 73-1 96-1 74-1 16-1 25-1 6-1-11-1-17-1-17-1-10-1-8-1-28-1-16-1 34-1 5-1-10-1 16-1 6-1-65-1-50-1-76-1-68-1 94-1 55-1 94-1 36-1 0-1 13-1 3-1 6-1-13-1 11-1-5-1-16-1 5-1-11-1 25-1-13-1 3-1 4-1-20-1-14-1 0-1-32-1 68-1 0-1-5-1-13-1-20-1 1-1-1-1 4-1 9-1-19-1 8-1 2-1-2-1-11-1-28-1 3-1-14-1 23-1 9-1-14-1 0-1-23-1 12-1-27-1-23-1 14-1-10-1-15-1 31-1-11-1 11-1-19-1-20-1-10-1 28-1 23-1 12-1-12-1 11-1 5-1 3-1-15-1-16-1 9-1-12-1-5-1-60-1-7-1-49-1 55-1 44-1-10-1 9-1 3-1 3-1 6-1-18-1 4-1 16-1-6-1-34-1 11-1-16-1 12-1-5-1-21-1 31-1-3-1-3-1-5-1-4-1-53-1-36-1-107-1 67-1 66-1 24-1-43-1 42-1 16-1-47-1 27-1-6-1 9-1 5-1-10-1 7-1-11-1-14-1-39-1-33-1 55-1 16-1-59-1 6-1 14-1-12-1 40-1 11-1-29-1-36-1-19-1 0-1 3-1-39-1 5-1 18-1-4-1-10-1-15-1 27-1 5-1 5-1-20-1-4-1-58-1 28-1 18-1-25-1 0-1-4-1-1-1-12-1-32-1-41-1-6-1-42-1-41-1 28-1-19-1 24-1 37-1-24-1-47-1-81-1-25-1-6-1 92-1 59-1 3-1-4-1-2-1 11-1-26-1 3-1-26-1-33-1-24-1-17-1-13-1 8-1-36-1-17-1 22-1 29-1-20-1-30-1-15-1-15-1-22-1-31-1-5-1-100-1-132-1-82-1-86-1-135-1-39-1 0-1 0-1 0-1 0z" fill="#467821" stroke="#467821"/>
<path d="M0 0l1 62 1 63 1 61 1 73 1 74 1 70 1 46 1 42 1 41 1 50 1 22 1 21 1 33 1 38 1 21 1 9 1 30 1 25 1 8 1 12 1 16 1 15 1 4 1 1 1 17 1 23 1 5 1 1 1-9 1 7 1 16 1-5 1 6 1 14 1-12 1 18 1-12 1 4 1 5 1 6 1 17 1 1 1 2 1 12 1 2 1 8 1 23 1 10 1-1 1 5 1 0 1-1 1 1 1-1 1 6 1 9 1 19 1-15 1 0 1-14 1-2 1 19 1 10 1 7 1 15 1 0 1 4 1 4 1 7 1 15 1 15 1-3 1 3 1-1 1-11 1 9 1 10 1-15 1 10 1-6 1 1 1 4 1 1 1 18 1-8 1 12 1 2 1 16 1 3 1-3 1 0 1-10 1 6 1 5 1 8 1-5 1-2 1-8 1 7 1 5 1 20 1 3 1 4 1-2 1-15 1 25 1 9 1 0 1-6 1 8 1 9 1 10 1-12 1-2 1 0 1 10 1-6 1 0 1 9 1 4 1 8 1 5 1-1 1 4 1 12 1-6 1-2 1 2 1 1 1-3 1-2 1 13 1 3 1 4 1 7 1-2 1 2 1 5 1-3 1 9 1 1 1-2 1-1 1 12 1 8 1 4 1 6 1-11 1 2 1 15 1 1 1 12 1 2 1-11 1 6 1 2 1 9 1-5 1-1 1-4 1-32 1-36 1 17 1 29 1 37 1 5 1-16 1 3 1 2 1 13 1 5 1-10 1 4 1 5 1 0 1-5 1-3 1-2 1-3 1 7 1 0 1 1 1-7 1 4 1-1 1 4 1 7 1-6 1 15 1 1 1 0 1-4 1 4 1-2 1-4 1-4 1 0 1 17 1 0 1-6 1 6 1 9 1-8 1-3 1 7 1-2 1-5 1-6 1 7 1-4 1 3 1 3 1-7 1 12 1 4 1-5 1 4 1 9 1-3 1 6 1 8 1-8 1 9 1-3 1 3 1-12 1 12 1 0 1 0 1 1 1 2 1-11 1-7 1-1 1 4 1 3 1 6 1-6 1 12 1 6 1-10 1 8 1 0 1-8 1 4 1-3 1 5 1-2 1 2 1 2 1 2 1 9 1-4 1 6 1-8 1-8 1 6 1 5 1-5 1 0 1 5 1 8 1-6 1 3 1-7 1 2 1 3 1-2 1 2 1-2 1-2 1 1 1 0 1 10 1-2 1 7 1-4 1-2 1-4 1 1 1-3 1-2 1 9 1 6 1-2 1-1 1-8 1 1 1-5 1 3 1 5 1 10 1-5 1-1 1 2 1-5 1-3 1 7 1 0 0-35-1-1-1-2-1 7-1-7-1 6-1 7-1 4-1-10-1-7-1-19-1-7-1 1-1 9-1 6-1 12-1-4-1-3-1 8-1 1-1-4-1-7-1 3-1 7-1-10-1 4-1-8-1-21-1 1-1-5-1-10-1 14-1 16-1 0-1 9-1 4-1-2-1 0-1 1-1-5-1-1-1 4-1 2-1-23-1 9-1 13-1-2-1 1-1-3-1-4-1-6-1 0-1-11-1 9-1-9-1-9-1 2-1 7-1 7-1 4-1-7-1-24-1 30-1-12-1-15-1-8-1-3-1 24-1 14-1-1-1-6-1-3-1-9-1-15-1 7-1 9-1 2-1-6-1 11-1-10-1-9-1 0-1 6-1 2-1 0-1-1-1-11-1 16-1-28-1 21-1-7-1-8-1 1-1 1-1 18-1-16-1 5-1 5-1-5-1-11-1 13-1 3-1-21-1-1-1-5-1 11-1 10-1-14-1 11-1-7-1-4-1 1-1 3-1-7-1-3-1 5-1-11-1 2-1-12-1 13-1-22-1 9-1 3-1 7-1 0-1 0-1 6-1-19-1 12-1-4-1 3-1-28-1 13-1 7-1-5-1-111-1-129-1-72-1 165-1 136-1-4-1 7-1 2-1-9-1 4-1-8-1 6-1 2-1-5-1-13-1 4-1 3-1 8-1-13-1-6-1-6-1-13-1-8-1-2-1 1-1-2-1-2-1-2-1-18-1 2-1 10-1 7-1-9-1-35-1 17-1-25-1-11-1 40-1 4-1-2-1-10-1-2-1 4-1-8-1-7-1-4-1-18-1 7-1 12-1-40-1 16-1 17-1 3-1-11-1-6-1-6-1 10-1-9-1-16-1-48-1 59-1-6-1-4-1 2-1-17-1-2-1-46-1 33-1 8-1 4-1-14-1-6-1-12-1 18-1 2-1-8-1-9-1-32-1 24-1-6-1 14-1-26-1 12-1-3-1-4-1 4-1-42-1 38-1-8-1-33-1 22-1 5-1-2-1-3-1-16-1-12-1-32-1 12-1 24-1 2-1-12-1-9-1-20-1-23-1 11-1 0-1-9-1 4-1-7-1 1-1 5-1-5-1 1-1-4-1-1-1 0-1-6-1 2-1-32-1 3-1-15-1-10-1-8-1 1-1-13-1-2-1 0-1-18-1 16-1-12-1 23-1-11-1-24-1 13-1-10-1-22-1 9-1-8-1-9-1-11-1-14-1-1-1-7-1-15-1-9-1-21-1-14-1-17-1-17-1-8-1-20-1-54-1-21-1-56-1-80-1-139-1-109-1-105-1-108-1-74-1 0-1 0-1 0-1 0-1 0z" fill="#A60628" stroke="#A60628"/>
</g><g fill="none" stroke-linejoin="round" stroke-linecap="square">
<path d="M0 0l1 26 1 28 1 25 1 25 1 21 1 11 1 14 1-1 1-3 1-8 1 0 1-2 1 5 1-8 1 1 1 12 1 13 1-11 1 6 1-6 1-2 1-2 1 2 1 11 1 5 1 0 1-2 1-3 1-4 1 1 1-8 1-3 1-4 1-3 1-2 1-2 1 5 1-6 1 5 1-9 1-7 1-2 1-1 1-2 1 3 1 1 1-5 1-9 1-6 1 4 1-1 1-9 1-3 1 0 1 11 1-1 1 15 1 0 1-7 1-9 1 2 1-8 1-9 1 1 1-4 1 4 1-6 1-24 1 4 1-14 1 9 1 4 1-10 1-8 1-6 1 5 1-2 1-2 1-1 1 4 1 0 1 0 1 1 1 1 1 0 1-3 1-2 1-2 1-1 1 4 1-3 1-1 1-2 1-2 1 2 1-2 1-2 1 1 1 0 1 1 1-1 1-5 1 2 1 1 1 2 1-4 1 6 1-5 1 1 1-1 1-2 1 1 1-1 1-6 1-1 1 2 1 6 1-5 1 0 1 4 1 0 1-2 1-4 1-4 1 0 1 1 1-4 1-1 1 3 1 1 1-1 1 1 1-1 1 3 1 4 1 3 1-1 1 0 1 1 1 1 1 0 1-1 1-4 1-5 1 2 1-1 1-1 1-2 1-3 1 4 1 1 1-2 1 1 1 1 1 1 1 4 1-2 1-4 1 0 1-1 1 1 1 1 1 0 1-1 1 1 1-2 1 2 1-1 1-3 1 2 1-1 1 4 1 0 1 0 1 0 1-1 1-5 1 4 1-2 1 3 1-2 1 0 1 0 1-2 1 1 1 2 1-1 1-2 1 0 1 1 1 3 1 2 1-1 1-3 1 2 1 0 1-1 1 2 1 1 1 0 1-4 1-1 1-3 1 2 1 1 1 3 1 0 1-1 1 4 1-3 1-3 1-1 1 2 1 0 1-1 1-1 1 4 1-2 1-2 1 1 1-1 1 1 1 3 1-1 1 0 1-1 1 0 1 2 1 1 1-2 1-2 1 1 1 2 1-1 1 0 1-3 1 3 1-3 1-2 1 1 1 2 1 1 1-1 1 0 1-1 1-2 1 1 1 0 1 2 1 1 1 2 1 1 1 1 1 1 1 0 1-2 1 2 1-3 1 0 1 1 1-1 1 1 1-2 1-1 1 1 1 1 1 2 1-1 1 0 1 0 1 0 1-3 1-1 1 4 1-3 1 1 1-1 1 2 1-1 1 0 1-4 1 1 1 3 1-3 1 3 1-1 1 0 1-5 1 4 1-1 1 0 1-1 1 0 1 3 1 0 1 2 1-1 1 1 1-1" stroke="#348ABD" stroke-width="1.95"/>
<path d="M0 0l1 62 1 64 1 63 1 63 1 59 1 33 1 26 1 28 1 24 1 40 1-1 1-5 1 12 1-7 1-2 1-4 1-20 1-7 1 19 1 12 1 12 1 15 1 16 1 8 1 15 1 13 1 11 1 9 1 16 1 7 1 0 1 0 1 11 1 9 1 19 1 5 1 9 1 6 1 12 1 12 1-11 1-22 1-14 1 5 1 11 1 29 1 20 1 4 1 5 1 5 1 2 1 9 1 9 1 3 1-1 1 3 1 15 1 5 1-4 1-5 1 6 1 4 1 16 1-12 1-11 1-9 1-10 1-28 1-11 1-14 1 25 1 26 1 17 1 28 1-29 1-31 1-22 1-17 1-10 1-27 1 38 1 19 1 25 1 20 1 32 1 6 1 10 1 0 1 4 1-5 1 4 1 16 1-6 1 4 1 9 1 2 1-5 1-6 1-10 1 11 1-13 1-1 1-6 1-1 1-36 1-27 1-23 1 14 1 18 1 19 1 15 1 1 1-22 1-15 1-5 1 15 1 12 1 23 1-3 1 20 1 25 1-10 1 22 1-2 1-1 1 1 1-3 1 14 1-15 1-7 1 6 1 5 1-8 1 11 1-8 1-1 1 1 1 5 1 3 1 5 1 7 1 5 1-43 1-37 1 34 1 25 1 25 1-12 1-25 1 12 1 21 1-17 1-5 1-8 1-24 1 4 1-9 1-16 1 9 1 14 1 23 1 26 1 8 1 17 1 6 1-19 1-4 1-12 1 5 1-12 1 2 1-6 1 0 1 1 1-11 1-3 1 20 1 16 1-1 1 5 1-5 1-2 1-5 1 8 1 19 1-10 1 10 1 4 1 3 1-14 1-5 1 13 1-13 1 5 1 1 1 3 1 10 1-4 1 9 1 6 1-16 1 4 1-1 1 3 1-4 1 3 1 13 1 0 1-10 1 4 1-6 1-26 1-12 1-13 1-2 1-16 1-15 1-11 1-10 1-20 1 25 1 8 1 12 1 2 1 13 1 10 1 4 1 37 1 20 1 12 1-13 1-7 1-14 1-7 1-30 1-14 1-15 1 34 1 23 1 24 1 29 1 5 1-12 1 18 1 8 1 1 1 8 1-16 1-25 1-33 1 24 1 12 1 25 1-50 1-46 1-65 1-56 1 90 1 56 1 59 1-40 1-47 1-41 1-58 1 47 1 45 1 31 1 37 1 19 1 0 1 2 1 12 1 3 1-28 1-7 1-9 1-10 1 2 1-9 1-20 1 11 1 12 1 3 1 16 1 11 1-32 1-26 1-35 1-16 1-29 1 37 1 39 1 42 1 42 1-1 1 13 1-11 1 11 1 10" stroke="#7A68A6" stroke-width="1.95"/>
<path d="M0 0l1 51 1 55 1 49 1 66 1 63 1 69 1 48 1 44 1 56 1 39 1 8 1 19 1 17 1 10 1 30 1 34 1 4 1-12 1-6 1 6 1 10 1 1 1 18 1 14 1 26 1 19 1 30 1-5 1 26 1-4 1 7 1 2 1 3 1-38 1-29 1 1 1 14 1 27 1 27 1 19 1-31 1-15 1 9 1-2 1 24 1 29 1 13 1 35 1 27 1 12 1 5 1 0 1 4 1 18 1-1 1-11 1 26 1 7 1 25 1-6 1-10 1-8 1 13 1 9 1 0 1-4 1-6 1 19 1 0 1 15 1 11 1 24 1 27 1-9 1-32 1 5 1-3 1 5 1 19 1-3 1-13 1 19 1 12 1 21 1-2 1-9 1 13 1-9 1-1 1 3 1-9 1 32 1-20 1-11 1 16 1-15 1-22 1-26 1 48 1 21 1 43 1 9 1-1 1-8 1 3 1-8 1 8 1 3 1-3 1 2 1-1 1 19 1 8 1-21 1 0 1 11 1 0 1 7 1-4 1-5 1 2 1-21 1-14 1 23 1 3 1 18 1 5 1 15 1 4 1 3 1 6 1-4 1 3 1-6 1 10 1-17 1-5 1-7 1 3 1 11 1 4 1-7 1 3 1-8 1 1 1 5 1 2 1 10 1 24 1-2 1 13 1 7 1 10 1-4 1-7 1 5 1-3 1 13 1 5 1 2 1 1 1-3 1 19 1-12 1-2 1-3 1 3 1 13 1 13 1 3 1-8 1-24 1 15 1 4 1 5 1 7 1 9 1-3 1 4 1-13 1 7 1-7 1 3 1 0 1 3 1 13 1 0 1-6 1-7 1-10 1-27 1-42 1-23 1-31 1 22 1 32 1 20 1 23 1-3 1-7 1 6 1-4 1-16 1 7 1 10 1 14 1 10 1 19 1 12 1 17 1 6 1-31 1-22 1-37 1-38 1-21 1-18 1 25 1 21 1 14 1 27 1 17 1 17 1 15 1-4 1 8 1-14 1-8 1 12 1 4 1 7 1 6 1 1 1-10 1-1 1-12 1-5 1-2 1-10 1-7 1 6 1 4 1-6 1-7 1 21 1-7 1 10 1 17 1 1 1 22 1 20 1-11 1-5 1-5 1-18 1 28 1 1 1-19 1-25 1-6 1-25 1-23 1-36 1-38 1 44 1 36 1 28 1 30 1 6 1-4 1-4 1 9 1-5 1 1 1-32 1 10 1 20 1 8 1 6 1 4 1 5 1 10 1-10 1 5 1 4 1 5 1 16 1-10 1-76 1-49 1 10 1 22 1 15 1 18 1 14 1-1 1 8 1-5 1 18" stroke="#467821" stroke-width="1.95"/>
<path d="M0 0l1 59 1 61 1 61 1 72 1 68 1 69 1 43 1 44 1 40 1 44 1 28 1 25 1 26 1 45 1 20 1 7 1 26 1 16 1 20 1 13 1 14 1 8 1 7 1 1 1 11 1 21 1 7 1 5 1-3 1 5 1 10 1-2 1 11 1 11 1-7 1 7 1-4 1 5 1 5 1 1 1 8 1 3 1 12 1 6 1 6 1 1 1 23 1 7 1 8 1 4 1-2 1 3 1 0 1 0 1 3 1 5 1 14 1-7 1 0 1 0 1 2 1 8 1 16 1 8 1 15 1-4 1-4 1 1 1 7 1 13 1 14 1 2 1 0 1-1 1-6 1 10 1 13 1-11 1 9 1 1 1 2 1 1 1-2 1 17 1-3 1 1 1-4 1 15 1 3 1 4 1-1 1-5 1 4 1 1 1 7 1-2 1-1 1-6 1 16 1 0 1 15 1 3 1 2 1 6 1-12 1 16 1 12 1 2 1-3 1 2 1 4 1 7 1-6 1-4 1 0 1 13 1-5 1 0 1 8 1 6 1 5 1 4 1 0 1 4 1 9 1-3 1-4 1-7 1 4 1 7 1-3 1 16 1 6 1-4 1 1 1 2 1 4 1 4 1 2 1 2 1 2 1 3 1 2 1 6 1 5 1 9 1 8 1-6 1 0 1 3 1 4 1 3 1 7 1-6 1 3 1 4 1 5 1 1 1-2 1-5 1-34 1-38 1 19 1 33 1 35 1 4 1-4 1-2 1 5 1 3 1 4 1-7 1 4 1-2 1 2 1 2 1 0 1-2 1-2 1 7 1-1 1 4 1 0 1 5 1-1 1 1 1 3 1-1 1 1 1 3 1 1 1 1 1 2 1-4 1-3 1 1 1 2 1 9 1 2 1-2 1 4 1 5 1-3 1-6 1 5 1-4 1-1 1 0 1 8 1-1 1-6 1 8 1-5 1 3 1 0 1 1 1 0 1 1 1 3 1 7 1 6 1-5 1 0 1-1 1-2 1-2 1 2 1 5 1 2 1-2 1 2 1-5 1-4 1 1 1 4 1 7 1 1 1-6 1 9 1 4 1-2 1-3 1 0 1-2 1 2 1 2 1 1 1 2 1 1 1 2 1 4 1 1 1-1 1 6 1-8 1-2 1 4 1 1 1 0 1 1 1 3 1 0 1-1 1 0 1-4 1 0 1-2 1-2 1-2 1 2 1 1 1 1 1 4 1 4 1-3 1 0 1 3 1 1 1-1 1 1 1 0 1 0 1 2 1 2 1-5 1-2 1-2 1-1 1 2 1 5 1 3 1 4 1 3 1-4 1-3 1 0 1 3 1 1 1-1" stroke="#A60628" stroke-width="3.5"/>
</g></g>
</g>
<path d="M611.4 174.4v-3.4M645.3 174.4v-3.4M679.1 174.4v-3.4M713 174.4v-3.4M746.8 174.4v-3.4M780.6 174.4v-3.4M814.5 174.4v-3.4M601.3 172.8h3.4M601.3 141.4h3.4M601.3 110h3.4M601.3 78.6h3.4M601.3 47.2h3.4" stroke="#000" stroke-width="0.85" fill="none"/>
<rect x="601.3" y="23.5" width="221.8" height="150.9" fill="none" stroke="#bcbcbc" stroke-width="0.96"/>
<g font-size="9.6">
<text x="611.4" y="185.1" text-anchor="middle" transform="rotate(0.05 611.4 185.1)">0.0</text>
<text x="645.3" y="185.1" text-anchor="middle" transform="rotate(0.05 645.3 185.1)">0.5</text>
<text x="679.1" y="185.1" text-anchor="middle" transform="rotate(0.05 679.1 185.1)">1.0</text>
<text x="713" y="185.1" text-anchor="middle" transform="rotate(0.05 713 185.1)">1.5</text>
<text x="746.8" y="185.1" text-anchor="middle" transform="rotate(0.05 746.8 185.1)">2.0</text>
<text x="780.6" y="185.1" text-anchor="middle" transform="rotate(0.05 780.6 185.1)">2.5</text>
<text x="814.5" y="185.1" text-anchor="middle" transform="rotate(0.05 814.5 185.1)">3.0</text>
<text x="598.1" y="176.4" text-anchor="end" transform="rotate(0.05 598.1 176.4)">0</text>
<text x="598.1" y="145" text-anchor="end" transform="rotate(0.05 598.1 145)">200</text>
<text x="598.1" y="113.6" text-anchor="end" transform="rotate(0.05 598.1 113.6)">400</text>
<text x="598.1" y="82.2" text-anchor="end" transform="rotate(0.05 598.1 82.2)">600</text>
<text x="598.1" y="50.8" text-anchor="end" transform="rotate(0.05 598.1 50.8)">800</text>
</g>
<text x="712.2" y="17.7" font-size="13.8" text-anchor="middle" transform="rotate(0.05 712.2 17.7)">Cheetah Run</text>
<text y="200.7" font-size="11.5" transform="rotate(0.05 712.2 200.7)"><tspan x="671.2">Frames (</tspan><tspan x="722.4" dy="0.9" stroke="none" font-family="'Liberation Serif', 'DejaVu Serif', serif" font-size="15">×</tspan><tspan x="731.1" dy="-0.9" stroke="none" font-family="'Liberation Serif', 'DejaVu Serif', serif" font-size="12.6">10</tspan><tspan x="743.6" dy="-3.8" stroke="none" font-family="'Liberation Serif', 'DejaVu Serif', serif" font-size="8.4">6</tspan><tspan x="748.1" dy="3.8">)</tspan></text>
<text transform="translate(573.5 98.4) rotate(-90)" font-size="11.5" text-anchor="middle">Episode Return</text>
</g>
<g>
<rect x="50.15" y="230.35" width="221.8" height="150.9" fill="#eeeeee"/>
<path d="M60.3 230.3V381.2M94.1 230.3V381.2M128 230.3V381.2M161.8 230.3V381.2M195.7 230.3V381.2M229.5 230.3V381.2M263.3 230.3V381.2M50.1 379.5H271.9M50.1 350.4H271.9M50.1 321.3H271.9M50.1 292.2H271.9M50.1 263.1H271.9M50.1 234H271.9" stroke="#b2b2b2" stroke-width="0.7" stroke-dasharray="1.8 0.8" fill="none"/>
<g clip-path="url(#c3)">
<g transform="translate(60.3 379.5) scale(0.67680 -0.1)">
<g fill-opacity="0.2" stroke-opacity="0.2" stroke-width="0.9" vector-effect="non-scaling-stroke">
<path d="M0 431l1-18 1-44 1-46 1 5 1-79 1-23 1 18 1 21 1 10 1-23 1 73 1 60 1-95 1 19 1-7 1 52 1-16 1-56 1-1 1 17 1-39 1 14 1-37 1-44 1 33 1 35 1 59 1 9 1 0 1 75 1-14 1-76 1-65 1 20 1 53 1-9 1 4 1 3 1-3 1 47 1-42 1-50 1 60 1 27 1-17 1-49 1-19 1 42 1-61 1 22 1 47 1 1 1-27 1-35 1 50 1 17 1 40 1-9 1 26 1-3 1-5 1-55 1-39 1-29 1 21 1 5 1 17 1 29 1 23 1-26 1 1 1-72 1-41 1 69 1 114 1 26 1 52 1-44 1-95 1 51 1-76 1-61 1 26 1 12 1 47 1 75 1-21 1-18 1-22 1-2 1-42 1-18 1 64 1-32 1-8 1-24 1 110 1-70 1-10 1 36 1-40 1-18 1 42 1 75 1-36 1-72 1 5 1-63 1 6 1 12 1 49 1 21 1-34 1 37 1-44 1-14 1 5 1-21 1-25 1-4 1 66 1-61 1 47 1-44 1 32 1-7 1 7 1 7 1 70 1-35 1-34 1-39 1 57 1 36 1 9 1 47 1-8 1-34 1 1 1-38 1 14 1-22 1 52 1 13 1-18 1 41 1-65 1 10 1 3 1-70 1 14 1 73 1 126 1-68 1-36 1 32 1-95 1 53 1-92 1-6 1 12 1 13 1 51 1-53 1-2 1-12 1 33 1 34 1 2 1-8 1 8 1-11 1-47 1-50 1 69 1-58 1 10 1 26 1-16 1-60 1 9 1 44 1 87 1-26 1 23 1 6 1-35 1-31 1 18 1-11 1 22 1-58 1 19 1 27 1 33 1-7 1-12 1 19 1 16 1 64 1-69 1-23 1-22 1 50 1-41 1-27 1-15 1 87 1 4 1 21 1-58 1-32 1 17 1 37 1 31 1 7 1-93 1 3 1 26 1-3 1-38 1 13 1 76 1-46 1 27 1-8 1 5 1-29 1-93 1 19 1 74 1-16 1-89 1 87 1-51 1 76 1 1 1-65 1-49 1 126 1-6 1-24 1 33 1 7 1-34 1 49 1 39 1-41 1 31 1 24 1-98 1 10 1 47 1-88 1-12 1 42 1-9 1 4 1 12 1-36 1 19 1-15 1 6 1-20 1-6 1-69 1 3 1 49 1-27 1 102 1-63 1 86 1-23 1 2 1 3 1 7 1-9 1-13 1-23 1-4 1 15 1 50 1-95 1 13 1 19 1 2 1 64 1-66 1-29 1 24 1 37 1 25 1-28 1 40 1-26 1 53 1-36 1 9 1-63 0-103-1-10-1 27-1 2-1-6-1 30-1-35-1 48-1-53-1-23-1 2-1-14-1 83-1-86-1-30-1 9-1-1-1 70-1-26-1 23-1-18-1-24-1 55-1 5-1-63-1 11-1 33-1 7-1-83-1 56-1-35-1 32-1-40-1 1-1 7-1 56-1-31-1-11-1-5-1 1-1 9-1 12-1-44-1 64-1-35-1 31-1 96-1-71-1-52-1 67-1 21-1-50-1 1-1-108-1 24-1 34-1 35-1-12-1 5-1 43-1-113-1 21-1 48-1-3-1-88-1 49-1-88-1 83-1 26-1-132-1 24-1 78-1 51-1 50-1-2-1-44-1 13-1-33-1-4-1 16-1-2-1-8-1 4-1 47-1 29-1 24-1-71-1-37-1-13-1 72-1-14-1-4-1-57-1 43-1-19-1-42-1 6-1 69-1 16-1 65-1-77-1 22-1-16-1-19-1 15-1-43-1-55-1 16-1 86-1-33-1-32-1 20-1 12-1 20-1-47-1-30-1 79-1-73-1-38-1 29-1 16-1 2-1-50-1-14-1 49-1-53-1 59-1 43-1 13-1 28-1-17-1-43-1-68-1-25-1 19-1 10-1 84-1-23-1-3-1-13-1 10-1 87-1-30-1 71-1-36-1-1-1 83-1-101-1-69-1-32-1 58-1-4-1-21-1 34-1-21-1 29-1-34-1-41-1 10-1-5-1 71-1-46-1 71-1-14-1-45-1 22-1-6-1-72-1 14-1 53-1 35-1-52-1-29-1-60-1 60-1-17-1-23-1-34-1 79-1-77-1 64-1-46-1-30-1 57-1 13-1 49-1-37-1 41-1-33-1-50-1 15-1 17-1 70-1-37-1 56-1-12-1-84-1-30-1 44-1 12-1-24-1 35-1 101-1-104-1 55-1 28-1-12-1-89-1-8-1 14-1 15-1 53-1-2-1-9-1-5-1-2-1-64-1-56-1 105-1 68-1-4-1 31-1 27-1-58-1-6-1-92-1-46-1 58-1 40-1 12-1 26-1 28-1-39-1-20-1-2-1-25-1 20-1 21-1 19-1 46-1 11-1-38-1 30-1-93-1-13-1 0-1 33-1-19-1-30-1-25-1-31-1 64-1-16-1-29-1 9-1 100-1-11-1-103-1 62-1 34-1 21-1-15-1 15-1-37-1 0-1-36-1-77-1 49-1 87-1 20-1-70-1-8-1-11-1-38-1-26-1-34-1 11-1 23-1-22-1-4-1 53-1 3-1 33-1 23-1-12-1 46-1-38-1 52-1-18-1-68-1 33-1 2-1-65-1 7-1 20-1 57-1-22-1 16-1 29-1-2z" fill="#348ABD" stroke="#348ABD"/>
<path d="M0 502l1-10 1-69 1 56 1 75 1 72 1 11 1-51 1 8 1 43 1-20 1 7 1-7 1-78 1 53 1 1 1 12 1 68 1 98 1 32 1-59 1 40 1 26 1-9 1-122 1 41 1-65 1-89 1 110 1-59 1 46 1-72 1 30 1 50 1 50 1 22 1 4 1-71 1 120 1 12 1-98 1 70 1-18 1 4 1-31 1-111 1 63 1-25 1-19 1 70 1 1 1-65 1 40 1-18 1 45 1 144 1-121 1 93 1 8 1-260 1 35 1-3 1 192 1-47 1-24 1-13 1 96 1 62 1-102 1-150 1 61 1 53 1 33 1-102 1 46 1 39 1-46 1 90 1-90 1-68 1 86 1 118 1-35 1-89 1-166 1-17 1 92 1 14 1 11 1 15 1-23 1-49 1 143 1-38 1-123 1 62 1 35 1-121 1 36 1 6 1-17 1-24 1 61 1-26 1 33 1 70 1 15 1-131 1 37 1 26 1 58 1-39 1 1 1 23 1-68 1-37 1-65 1 43 1 34 1 40 1-148 1 35 1 9 1-61 1 143 1-23 1 51 1-107 1 39 1-60 1 62 1 37 1 29 1 41 1-123 1-28 1 8 1 53 1 73 1 90 1 27 1-106 1-87 1 31 1-49 1 74 1 90 1-92 1 50 1-14 1 57 1-105 1-11 1 77 1-17 1-64 1 40 1-53 1-30 1-84 1 51 1 68 1-11 1 36 1-40 1 74 1-129 1-38 1 6 1 20 1-60 1 139 1 72 1-146 1-6 1 78 1 40 1-108 1-72 1 177 1-32 1-139 1-15 1 86 1-22 1 122 1-17 1-15 1 50 1 50 1-78 1 53 1-54 1-41 1-3 1 60 1-70 1-102 1 55 1 9 1 53 1 62 1-53 1 26 1 3 1-29 1-103 1-30 1 53 1 114 1 92 1-57 1-140 1 147 1-99 1-13 1-58 1 56 1 93 1-120 1-53 1 59 1-28 1 63 1 13 1-90 1 96 1 93 1-48 1-25 1 55 1-122 1 38 1-3 1 12 1-19 1-72 1 57 1 120 1 14 1-107 1-48 1 54 1 66 1-156 1-25 1 96 1-64 1-78 1 71 1 90 1-125 1 19 1 37 1 241 1-22 1-130 1 4 1-109 1 90 1 20 1-11 1 55 1-37 1-88 1 53 1-59 1 89 1-43 1-15 1 53 1-44 1 56 1-113 1 140 1 19 1-123 1-125 1 3 1 70 1-15 1 122 1 10 1 63 1 75 1-34 1-43 1-61 1 10 1 13 1 89 1 57 1-74 1-11 1-165 1-38 1-35 1 67 1-68 1 107 0-184-1-83-1 15-1-43-1-23-1 10-1 84-1-19-1 24-1-8-1-71-1 50-1 58-1-4-1 20-1 30-1-26-1 67-1-83-1 2-1-83-1-25-1 8-1 72-1-7-1-20-1-34-1 26-1-48-1 68-1-32-1 14-1 18-1-40-1 73-1-51-1 69-1-20-1-54-1 56-1-8-1-105-1 67-1 2-1 44-1-23-1-84-1-39-1-11-1 127-1 0-1-56-1 55-1 10-1-84-1-24-1 78-1-57-1-13-1 112-1 6-1-23-1-88-1 25-1 44-1 47-1 10-1 19-1-65-1 14-1 24-1-52-1 103-1-7-1-113-1 34-1-21-1-53-1 51-1-61-1 106-1 51-1-13-1-31-1 22-1-46-1 10-1-61-1 40-1 1-1 68-1-101-1-69-1 30-1 81-1 16-1-49-1 32-1 33-1-38-1 84-1-24-1-135-1 41-1 56-1-4-1-52-1 72-1 22-1-47-1-8-1-1-1 29-1-76-1 36-1-31-1-38-1-46-1 47-1 110-1-43-1-101-1 127-1 86-1 2-1-93-1 11-1 67-1-57-1-126-1 8-1 33-1-68-1 68-1 79-1-83-1 104-1-79-1 7-1 16-1-8-1-42-1 111-1 21-1-77-1 40-1 42-1-96-1-54-1 85-1 14-1 15-1 6-1 3-1-75-1-44-1 134-1-9-1-15-1 12-1 77-1-139-1-30-1-9-1 20-1-42-1 85-1-34-1 30-1-78-1-61-1 124-1 5-1 81-1-99-1 54-1-152-1-15-1 16-1 15-1 122-1-57-1 94-1-87-1 43-1-30-1 11-1 28-1-55-1 23-1-13-1 10-1-66-1-27-1 1-1 47-1 54-1-21-1-25-1 11-1-21-1-45-1 53-1 84-1 37-1-88-1 57-1 54-1-82-1 9-1-10-1-26-1 35-1-58-1-61-1 37-1 124-1 2-1 74-1-63-1-57-1 56-1 80-1-66-1 47-1-26-1-32-1 75-1-96-1 3-1-114-1 87-1 71-1-29-1 41-1 44-1-45-1 20-1-65-1-83-1 6-1 50-1 5-1-83-1 194-1-63-1-32-1 5-1 43-1 17-1-23-1-78-1-8-1-41-1 15-1 133-1-12-1 38-1-11-1-1-1 52-1-22-1-118-1 20-1 56-1 11-1-52-1-63-1-30-1-9-1 104-1-31-1-75-1 107-1 74-1-51-1 127-1 35-1-66-1-43-1 4-1-121-1-82-1-35-1 26-1-23-1-62-1 40-1 80-1 12-1-15-1-82-1-29-1 9-1 70-1 9-1-73-1-47-1 60-1-58z" fill="#7A68A6" stroke="#7A68A6"/>
<path d="M0 435l1 20 1 29 1-15 1 45 1 18 1 13 1-16 1-27 1-2 1 81 1 2 1 31 1 30 1-72 1-23 1-36 1 22 1 70 1-43 1 15 1-78 1 62 1-11 1-18 1 85 1-117 1 77 1-61 1-97 1 13 1 25 1 22 1-86 1 91 1 24 1-24 1-55 1-27 1 66 1 54 1 88 1-139 1-46 1-86 1 37 1 32 1-46 1 19 1-2 1 29 1 33 1-29 1-71 1 101 1-102 1 84 1-21 1 130 1-97 1-14 1 24 1-32 1-14 1 42 1-17 1-4 1 49 1-45 1 35 1-44 1-8 1 50 1-52 1 11 1-8 1-72 1 49 1 71 1-37 1 7 1-3 1-9 1-12 1-76 1 120 1-24 1-12 1-44 1-32 1 112 1-19 1 6 1-14 1 71 1-5 1 18 1-95 1-20 1-13 1 13 1 60 1-153 1 31 1 0 1 9 1 123 1-22 1 127 1-64 1 31 1-115 1 34 1 1 1-18 1 27 1-80 1 56 1 6 1 35 1-3 1-8 1-19 1-131 1 69 1-5 1-29 1 33 1-11 1 0 1 82 1 43 1-44 1-35 1-63 1-51 1 66 1 30 1 28 1-74 1 59 1-41 1 41 1-34 1-69 1 38 1-38 1 64 1 28 1 79 1-74 1-36 1 31 1-16 1 7 1 55 1-42 1-70 1-6 1-53 1-5 1 36 1 58 1 25 1 24 1-43 1-14 1-20 1 4 1 105 1-56 1-107 1-47 1 55 1 27 1 32 1 6 1 33 1-65 1-1 1-22 1-30 1 134 1-2 1 27 1-45 1-22 1-40 1 0 1 31 1 48 1-107 1 70 1 26 1-69 1 46 1 52 1-71 1 11 1-51 1 4 1-66 1 3 1-13 1 23 1 41 1-7 1-27 1 55 1-31 1 43 1 98 1-28 1 41 1 14 1-77 1 47 1-55 1 47 1-53 1 91 1-24 1 117 1-106 1-60 1 49 1 28 1-46 1-32 1 44 1-16 1 14 1 5 1 2 1-85 1-23 1 42 1 5 1-5 1 21 1 50 1 7 1-51 1-4 1 8 1-28 1 1 1 41 1-105 1 42 1 37 1 26 1-3 1 15 1-86 1 55 1 72 1-22 1-120 1 5 1 21 1 47 1-87 1-9 1 60 1 0 1-36 1-35 1-50 1 36 1-40 1 116 1 9 1 85 1 21 1-89 1 72 1-78 1-29 1 50 1 56 1 32 1-57 1 7 1-78 1-41 1 3 1-7 1 29 1 58 1-78 1-75 1 99 1-21 1 84 1-32 1-29 1 26 1-13 1-2 0-203-1 26-1 42-1-18-1 41-1 59-1-132-1-37-1-58-1 92-1 94-1-60-1-102-1 74-1-48-1 13-1 76-1 49-1 65-1-100-1-33-1-9-1-14-1 93-1-11-1 20-1-35-1-69-1 4-1-83-1 7-1-19-1-27-1 78-1 75-1-35-1-51-1 19-1 127-1-41-1-23-1-9-1 76-1 16-1-70-1-28-1 30-1-31-1 8-1-29-1 4-1-13-1 63-1-33-1 34-1 49-1-13-1-41-1 54-1 20-1-49-1-1-1-28-1-44-1-10-1 8-1 52-1 31-1 49-1-22-1 11-1-45-1-14-1 89-1-39-1 4-1 62-1 50-1-154-1 22-1-75-1 67-1-1-1 40-1-38-1-2-1 49-1-57-1-26-1-123-1-30-1 18-1 40-1 28-1 19-1-39-1-38-1 26-1-33-1 75-1-45-1 61-1 8-1 59-1 10-1-107-1 86-1-7-1-68-1 63-1-55-1-12-1 17-1 106-1-11-1 33-1-27-1-15-1-116-1 46-1-5-1 17-1 56-1-116-1 106-1-59-1-36-1-42-1 54-1 24-1 15-1-54-1 77-1-38-1 40-1-10-1-32-1 40-1-3-1-3-1-80-1 56-1 25-1 54-1-8-1-39-1 15-1-32-1-9-1 24-1 63-1-73-1 21-1-21-1 60-1-95-1 40-1 32-1-29-1 9-1-30-1 74-1-20-1 15-1-53-1 26-1-10-1 17-1 51-1-36-1-101-1 57-1-46-1 19-1 18-1-50-1 15-1 133-1-13-1 13-1-20-1-50-1-11-1-52-1 91-1 3-1-9-1 56-1-92-1 85-1 13-1 58-1-104-1 67-1-104-1-5-1-38-1-27-1 127-1-32-1-33-1 10-1-85-1 182-1-69-1 39-1-54-1 41-1-35-1-9-1-58-1 28-1 46-1 26-1 55-1-129-1 48-1-35-1 20-1-17-1 4-1 30-1-58-1-24-1 41-1-30-1-33-1-8-1-9-1 1-1 53-1-16-1 72-1-34-1 8-1 22-1-40-1 19-1-26-1 25-1 57-1 43-1-74-1-35-1-79-1 114-1-85-1 57-1 75-1-85-1-26-1 10-1-5-1 44-1-34-1 11-1 49-1 53-1 82-1-60-1-48-1-27-1 40-1 30-1 10-1-69-1-45-1 44-1-59-1 11-1 53-1 35-1 58-1-33-1 89-1-62-1-3-1 5-1-43-1 24-1 0-1 14-1 11-1 19-1-9-1 7-1 13-1-4-1 2-1-15-1-37-1 7-1-21-1-26-1-20-1-52-1-90-1-3-1 13-1 40z" fill="#467821" stroke="#467821"/>
<path d="M0 431l1-66 1-74 1-42 1 0 1 76 1-27 1 44 1-10 1 58 1 78 1-61 1-24 1-12 1-31 1 43 1-12 1 0 1 2 1 85 1-95 1-14 1-33 1 29 1 38 1 31 1-5 1-13 1 121 1 27 1-68 1 28 1-28 1 8 1-12 1-20 1 130 1 35 1-52 1-39 1 0 1-14 1-29 1-2 1-35 1 57 1 4 1 3 1-51 1-89 1 2 1 119 1 120 1 4 1 16 1 35 1 5 1-92 1 55 1-22 1 19 1-12 1-38 1 34 1 28 1-17 1-4 1 153 1-19 1-61 1-18 1 44 1-42 1 0 1-61 1 37 1 40 1-52 1 78 1 49 1 26 1-22 1-30 1 12 1-29 1-9 1 87 1-22 1 6 1 9 1 37 1-11 1-14 1 36 1-30 1 36 1 25 1 11 1 53 1 17 1 54 1 0 1 21 1 5 1-117 1 52 1 59 1-52 1-19 1-37 1 14 1 82 1 22 1-58 1 112 1-40 1-76 1 53 1 51 1-40 1-15 1-23 1 45 1 36 1 36 1 1 1-22 1 22 1 34 1 43 1-25 1-33 1 98 1 30 1-135 1 104 1 89 1-12 1-110 1-38 1 58 1 11 1 3 1 10 1 2 1-7 1 3 1 35 1-15 1-3 1-9 1 11 1 45 1-83 1 113 1 33 1-47 1 11 1 18 1 31 1-75 1 26 1 76 1-88 1 47 1-4 1-18 1-52 1-34 1 12 1 20 1-19 1 22 1 28 1-14 1 25 1 29 1-29 1 57 1-32 1 8 1 51 1-26 1 0 1-2 1-24 1-5 1-20 1 23 1 9 1-40 1 18 1 3 1 54 1-25 1 11 1 9 1 10 1-24 1-24 1 17 1-3 1 6 1-26 1-16 1 24 1 8 1-18 1 14 1-12 1 7 1 23 1 21 1-28 1 3 1-18 1 4 1 3 1-2 1 23 1-9 1-3 1 4 1 28 1-28 1-17 1-5 1-7 1-12 1 57 1-10 1-76 1 0 1 29 1 16 1 18 1 47 1-28 1-18 1-1 1-17 1 12 1 0 1 38 1-24 1-5 1-4 1-37 1 24 1 22 1 21 1 1 1-13 1 10 1 22 1-23 1-4 1 32 1-18 1 0 1-14 1 10 1 18 1-26 1-4 1 14 1 14 1 18 1-5 1-13 1 5 1-22 1 5 1-7 1-12 1 8 1-4 1-5 1 27 1-14 1-20 1-4 1-32 1 38 1-9 1-14 1 20 1 28 1-6 1 26 1-20 1 18 1 12 1-17 1 13 1-1 1 18 1-24 1-18 1-10 0-70-1 16-1 2-1 10-1-5-1 2-1-1-1 25-1-4-1-18-1 18-1-21-1-11-1-54-1-46-1 22-1 49-1-72-1 20-1-2-1 32-1 45-1-36-1 8-1-4-1 25-1 36-1-14-1-26-1 35-1 6-1 8-1-9-1-11-1 9-1-33-1 15-1 19-1-43-1 4-1-3-1-1-1 42-1-34-1-10-1-16-1-23-1 17-1 26-1 2-1 11-1-33-1-22-1 39-1-10-1-15-1-5-1-20-1-4-1-28-1 42-1 20-1-10-1-9-1-14-1 9-1-37-1-34-1 8-1 84-1 13-1-41-1 5-1 13-1-39-1-5-1 51-1-29-1-2-1 2-1 14-1-22-1 48-1-5-1-14-1-10-1 26-1 6-1-25-1-9-1-11-1 7-1-24-1 0-1-34-1 18-1 42-1 54-1-48-1-37-1 2-1 45-1 35-1 11-1-22-1-42-1-25-1-7-1-14-1-28-1 40-1 12-1-42-1 38-1-15-1 28-1 21-1 10-1 4-1-34-1-5-1-13-1-52-1 11-1-2-1-74-1 65-1-65-1-67-1-20-1 4-1 12-1 81-1 62-1-28-1 28-1-1-1 42-1-88-1-29-1-36-1 0-1-2-1 16-1 42-1-53-1-144-1 71-1-7-1-3-1-60-1 2-1 76-1 42-1-68-1 28-1-30-1-43-1-1-1 6-1-2-1 11-1 79-1 18-1-100-1-79-1 132-1-62-1-52-1-27-1 71-1-2-1-69-1-88-1 59-1 10-1-30-1-101-1-30-1 92-1-2-1 19-1 24-1-53-1 55-1-26-1-59-1 43-1 65-1-52-1-60-1 56-1-19-1 66-1-71-1-62-1 60-1 28-1-28-1 0-1-97-1 56-1 0-1-86-1-14-1-73-1-66-1 26-1 66-1-22-1 16-1-50-1 68-1-15-1-148-1 50-1 77-1-55-1-38-1 53-1-16-1-117-1-31-1 34-1-1-1 16-1 27-1-3-1 15-1-7-1 32-1 108-1-65-1-77-1-22-1 31-1-4-1-20-1-11-1 20-1-54-1 3-1 12-1 17-1-20-1 12-1-70-1 39-1-92-1-116-1-26-1 100-1 46-1-65-1-4-1-2-1 57-1-37-1 40-1 84-1-27-1 23-1-2-1-64-1-18-1 9-1 40-1-34-1 27-1-91-1 19-1-14-1-108-1 17-1-10-1-40-1-74-1-3-1 102-1 26-1 82-1-82-1 32-1 12-1-1-1 1-1 34-1-59-1-10-1 9-1-24-1-11-1-1-1-37-1-4-1-32-1-15-1 83-1 53-1 14z" fill="#A60628" stroke="#A60628"/>
</g><g fill="none" stroke-linejoin="round" stroke-linecap="square">
<path d="M0 291l1-14 1 0 1-35 1 4 1-49 1-2 1 4 1 40 1-6 1-23 1 53 1 39 1-55 1 16 1-29 1 5 1 6 1-48 1 19 1-27 1-12 1 12 1-45 1-7 1 54 1 45 1 33 1-26 1 26 1 44 1 11 1-81 1-58 1 40 1 51 1-14 1 24 1-10 1-6 1-2 1-3 1-24 1 63 1 4 1-48 1-18 1-36 1 31 1-47 1 10 1 43 1 18 1 10 1-53 1 35 1-10 1 44 1-30 1 50 1-15 1 3 1-37 1-22 1-11 1 41 1-27 1-3 1 41 1 2 1-26 1 4 1-55 1-35 1 47 1 105 1 34 1 37 1-46 1-63 1 19 1-67 1-95 1 59 1 54 1 19 1 40 1-4 1-17 1-57 1-1 1-37 1 8 1 82 1-12 1-1 1-37 1 92 1-106 1-23 1 51 1-29 1-18 1 35 1 27 1 14 1-45 1 29 1-50 1-19 1-13 1 38 1-2 1-21 1 21 1-24 1 4 1 9 1-3 1-17 1-18 1 70 1-69 1 43 1-14 1-5 1-40 1 38 1 4 1 58 1-24 1-31 1-22 1 63 1 22 1-20 1 59 1-15 1-28 1 12 1-49 1 14 1-35 1 40 1 24 1-12 1 35 1-43 1 20 1-13 1-42 1 40 1 58 1 81 1-59 1-19 1 32 1-79 1 46 1-85 1-31 1 15 1 4 1 48 1-43 1 8 1-3 1 17 1 25 1 25 1-7 1-2 1-13 1-63 1-45 1 51 1-33 1 3 1 37 1 1 1-15 1-13 1 26 1 65 1-74 1 9 1 47 1 3 1-29 1 6 1 16 1 31 1-75 1-16 1 31 1 23 1 6 1 10 1 22 1-2 1 72 1-73 1-30 1-55 1 41 1 10 1-8 1-39 1 87 1-5 1 12 1-70 1 19 1 17 1 53 1-10 1 11 1-86 1-1 1 10 1-1 1-8 1-5 1 55 1-31 1 24 1 12 1-30 1 1 1-89 1 12 1 67 1-23 1-63 1 71 1-40 1 72 1-9 1-50 1-7 1 77 1-6 1-13 1 1 1-11 1-23 1 33 1 48 1-22 1 41 1 6 1-90 1 29 1 38 1-97 1-4 1 35 1-29 1 15 1-3 1-25 1 14 1-3 1 11 1 7 1-20 1-15 1-2 1 38 1-32 1 66 1-43 1 76 1-34 1-26 1-18 1 26 1 4 1-36 1 19 1 21 1 3 1 41 1-113 1 18 1-4 1 37 1 74 1-77 1-24 1 8 1 48 1 31 1-46 1 31 1-16 1 31 1-16 1 8 1-15" stroke="#348ABD" stroke-width="1.95"/>
<path d="M0 290l1 28 1 16 1 61 1-5 1-11 1 34 1 15 1 14 1 32 1 2 1-43 1-39 1-38 1 38 1 32 1 12 1 17 1 65 1 96 1-24 1 33 1 18 1-16 1-96 1 26 1-39 1-38 1 45 1 9 1 8 1-39 1 15 1 28 1 49 1-5 1-52 1-31 1 117 1-13 1-60 1 54 1-20 1-25 1-38 1-118 1 50 1-2 1 7 1 70 1 19 1-35 1-29 1-29 1 58 1 88 1-98 1 2 1 44 1-93 1 5 1 66 1 59 1-2 1-41 1 15 1-15 1 16 1-85 1-51 1 106 1-3 1 62 1-52 1 20 1 3 1-57 1 76 1-64 1-28 1 81 1 62 1-98 1-34 1-114 1-22 1 102 1 29 1-40 1 12 1 2 1-33 1 77 1-17 1-69 1 52 1 0 1-55 1-36 1 4 1 28 1-16 1 56 1 37 1-41 1-90 1 10 1-2 1 89 1 3 1 29 1-37 1 31 1-21 1-26 1 22 1-49 1 56 1-65 1 17 1-65 1 15 1 8 1-27 1 139 1-50 1 33 1-87 1 23 1-38 1 62 1 30 1 5 1 18 1-83 1 15 1 11 1 9 1 35 1 94 1-89 1 0 1-2 1-8 1-71 1 47 1 37 1-17 1 13 1-24 1 3 1-70 1 5 1 65 1-12 1-25 1 68 1 4 1-64 1-33 1 30 1-8 1 1 1 54 1-67 1 60 1-35 1-38 1 43 1-27 1-63 1 114 1-3 1-21 1 6 1 59 1 6 1-72 1-98 1 91 1 8 1-110 1-26 1 61 1-5 1 44 1-8 1 33 1 2 1 1 1-5 1 76 1-16 1-76 1 50 1-18 1-44 1-19 1 78 1 18 1-36 1 23 1-41 1-49 1 53 1 28 1-71 1-33 1 37 1 84 1-42 1 3 1-46 1 83 1-30 1 18 1-5 1 16 1 25 1-70 1-57 1 71 1-48 1 74 1 40 1-90 1 105 1 25 1-71 1 18 1 15 1-72 1 43 1 17 1-24 1-38 1-42 1 8 1 67 1 0 1-12 1-61 1-18 1 31 1-63 1 23 1 59 1-8 1-62 1 60 1 41 1-78 1-14 1 13 1 86 1-3 1-23 1-25 1-40 1 108 1-37 1-21 1 47 1 19 1-30 1 3 1-48 1 46 1-25 1-31 1 67 1-29 1 0 1-73 1 70 1 13 1-34 1-78 1 16 1 66 1 20 1-2 1 69 1-27 1 16 1-19 1-5 1-20 1-26 1-20 1 49 1 20 1-17 1 16 1-105 1-3 1 22 1 22 1 10 1 62" stroke="#7A68A6" stroke-width="1.95"/>
<path d="M0 280l1-3 1 33 1-10 1 59 1 9 1 45 1-15 1 9 1-22 1 63 1 47 1 18 1 29 1-41 1-21 1-48 1 23 1 15 1-28 1-6 1-38 1 51 1-29 1 26 1 69 1-86 1 39 1-45 1-75 1-13 1-18 1 35 1-51 1 53 1 36 1 6 1-47 1 0 1 11 1 79 1 37 1-86 1-28 1-73 1 1 1 31 1-34 1-12 1-3 1 32 1 82 1-53 1-67 1 76 1-105 1 89 1-4 1 96 1-74 1-17 1 11 1 2 1-46 1 86 1-51 1 19 1 12 1-31 1 14 1-53 1 1 1 21 1-35 1 38 1-3 1-35 1 40 1 55 1-31 1 18 1-18 1-3 1-1 1-54 1 121 1-67 1-10 1-23 1-38 1 70 1 18 1 15 1-24 1 67 1-42 1 46 1-111 1-17 1 1 1 40 1 59 1-113 1 0 1 8 1 15 1 71 1-46 1 93 1-24 1 29 1-87 1 40 1-36 1-9 1 29 1-65 1 57 1 7 1 28 1 5 1 13 1-34 1-116 1 37 1-4 1-12 1 8 1 7 1-27 1 83 1 43 1-40 1 0 1-53 1-28 1 75 1-10 1-4 1-42 1 58 1-41 1 29 1-27 1-76 1 79 1-43 1 38 1 33 1 53 1-71 1-32 1 24 1 25 1-24 1 44 1-11 1-47 1-34 1-48 1 18 1 1 1 48 1 1 1 9 1 5 1-5 1-6 1-32 1 38 1 6 1-62 1-24 1 36 1 26 1 37 1-56 1 66 1-60 1-1 1 7 1-34 1 127 1-5 1 12 1-27 1-8 1-69 1-21 1 23 1 61 1-54 1 25 1 50 1-60 1 52 1-8 1-76 1 11 1-45 1 32 1-83 1 27 1-13 1 23 1 44 1-5 1-9 1 12 1-53 1 24 1 95 1 32 1 19 1-31 1-26 1 72 1-31 1 21 1-38 1 51 1-43 1 142 1-57 1-60 1 0 1 41 1-80 1-22 1 42 1-15 1 36 1-5 1 8 1-56 1-28 1 22 1 24 1-17 1 10 1 39 1-10 1-60 1 18 1 20 1-52 1-4 1 29 1-92 1 34 1 14 1 17 1 32 1 2 1-46 1 8 1 80 1 6 1-81 1 1 1 6 1 40 1-82 1 19 1 15 1-1 1-44 1-69 1 12 1 33 1-10 1 92 1-24 1 65 1 43 1-22 1 17 1-95 1-16 1 34 1 75 1 48 1-71 1 8 1-72 1-20 1-10 1-27 1 68 1 77 1-85 1-91 1 61 1 20 1 95 1-41 1-48 1 9 1-29 1-14" stroke="#467821" stroke-width="1.95"/>
<path d="M0 294l1-29 1-35 1-35 1 6 1 23 1 11 1 26 1-24 1 37 1-7 1-18 1-12 1 42 1-43 1 50 1-11 1 20 1 4 1 45 1-92 1 2 1-43 1 27 1 8 1 21 1 36 1-10 1 87 1 1 1-32 1 36 1 11 1 5 1-28 1-3 1 61 1 38 1-21 1-47 1 4 1-38 1 0 1 19 1-17 1 16 1-19 1 39 1-18 1-49 1-26 1 64 1 120 1-36 1 50 1 27 1 2 1-36 1 3 1 1 1 33 1-11 1 2 1 17 1 20 1-12 1 7 1 54 1 36 1-47 1-40 1 24 1-23 1-21 1-8 1 2 1-5 1-17 1 27 1 57 1 50 1-22 1 9 1 41 1-48 1-18 1 79 1 18 1-33 1 29 1 51 1-13 1-11 1-21 1 3 1 36 1 15 1 42 1 43 1-25 1 71 1 16 1-12 1-28 1-56 1 51 1 79 1-18 1-11 1-43 1 41 1 25 1-7 1-23 1 42 1-5 1-37 1 44 1 46 1-22 1-37 1-16 1 4 1 44 1 44 1-14 1-18 1 30 1 33 1 44 1-24 1-13 1 39 1 19 1-78 1 45 1 74 1 7 1-53 1 1 1 12 1 16 1 0 1-2 1 9 1-19 1 25 1-12 1-25 1-26 1 43 1 11 1 10 1-41 1 116 1 36 1-40 1-20 1-10 1 13 1 11 1 32 1 75 1-53 1 20 1-8 1-15 1-45 1-24 1 2 1 0 1 9 1 33 1 39 1-39 1 49 1 20 1-17 1 58 1-14 1-7 1 46 1-15 1-13 1-5 1-33 1 10 1-18 1 23 1-1 1-26 1 25 1 0 1 14 1 10 1 5 1 19 1 1 1-19 1-25 1 3 1 20 1 28 1-31 1-22 1-7 1 16 1-8 1 15 1-5 1-1 1 24 1 14 1-11 1-11 1 0 1 4 1-11 1-18 1 27 1-11 1-6 1 7 1 17 1-44 1 14 1 9 1-9 1-5 1 26 1 0 1-42 1-14 1 14 1 23 1 0 1 12 1-7 1 14 1-12 1-27 1 18 1-1 1 7 1 11 1 3 1-5 1-10 1 20 1 14 1 2 1 0 1-13 1-6 1 11 1 6 1 3 1 26 1-13 1-3 1-4 1-7 1 17 1-11 1 1 1 12 1-1 1 21 1-3 1 4 1 4 1-15 1 5 1-2 1-20 1-13 1 7 1-5 1 16 1-23 1-20 1 4 1-14 1 24 1-18 1-11 1 30 1 23 1 3 1 24 1-10 1 7 1 3 1-24 1 7 1 0 1 3 1-9 1 4 1-9" stroke="#A60628" stroke-width="3.5"/>
</g></g>
</g>
<path d="M60.3 381.2v-3.4M94.1 381.2v-3.4M128 381.2v-3.4M161.8 381.2v-3.4M195.7 381.2v-3.4M229.5 381.2v-3.4M263.3 381.2v-3.4M50.1 379.5h3.4M50.1 350.4h3.4M50.1 321.3h3.4M50.1 292.2h3.4M50.1 263.1h3.4M50.1 234h3.4" stroke="#000" stroke-width="0.85" fill="none"/>
<rect x="50.15" y="230.35" width="221.8" height="150.9" fill="none" stroke="#bcbcbc" stroke-width="0.96"/>
<g font-size="9.6">
<text x="60.3" y="392.5" text-anchor="middle" transform="rotate(0.05 60.3 392.5)">0.0</text>
<text x="94.1" y="392.5" text-anchor="middle" transform="rotate(0.05 94.1 392.5)">0.5</text>
<text x="128" y="392.5" text-anchor="middle" transform="rotate(0.05 128 392.5)">1.0</text>
<text x="161.8" y="392.5" text-anchor="middle" transform="rotate(0.05 161.8 392.5)">1.5</text>
<text x="195.7" y="392.5" text-anchor="middle" transform="rotate(0.05 195.7 392.5)">2.0</text>
<text x="229.5" y="392.5" text-anchor="middle" transform="rotate(0.05 229.5 392.5)">2.5</text>
<text x="263.3" y="392.5" text-anchor="middle" transform="rotate(0.05 263.3 392.5)">3.0</text>
<text x="46.9" y="383.1" text-anchor="end" transform="rotate(0.05 46.9 383.1)">0</text>
<text x="46.9" y="354" text-anchor="end" transform="rotate(0.05 46.9 354)">200</text>
<text x="46.9" y="324.9" text-anchor="end" transform="rotate(0.05 46.9 324.9)">400</text>
<text x="46.9" y="295.8" text-anchor="end" transform="rotate(0.05 46.9 295.8)">600</text>
<text x="46.9" y="266.7" text-anchor="end" transform="rotate(0.05 46.9 266.7)">800</text>
<text x="46.9" y="237.6" text-anchor="end" transform="rotate(0.05 46.9 237.6)">1000</text>
</g>
<text x="161.1" y="224.5" font-size="13.8" text-anchor="middle" transform="rotate(0.05 161.1 224.5)">Finger Turn Easy</text>
<text y="407.6" font-size="11.5" transform="rotate(0.05 161.1 407.6)"><tspan x="120.1">Frames (</tspan><tspan x="171.2" dy="0.9" stroke="none" font-family="'Liberation Serif', 'DejaVu Serif', serif" font-size="15">×</tspan><tspan x="180" dy="-0.9" stroke="none" font-family="'Liberation Serif', 'DejaVu Serif', serif" font-size="12.6">10</tspan><tspan x="192.5" dy="-3.8" stroke="none" font-family="'Liberation Serif', 'DejaVu Serif', serif" font-size="8.4">6</tspan><tspan x="197" dy="3.8">)</tspan></text>
<text transform="translate(16.2 305.2) rotate(-90)" font-size="11.5" text-anchor="middle">Episode Return</text>
</g>
<g>
<rect x="325.45" y="230.35" width="221.8" height="150.9" fill="#eeeeee"/>
<path d="M335.6 230.3V381.2M369.4 230.3V381.2M403.3 230.3V381.2M437.1 230.3V381.2M471 230.3V381.2M504.8 230.3V381.2M538.6 230.3V381.2M325.4 379.6H547.2M325.4 349.9H547.2M325.4 320.2H547.2M325.4 290.6H547.2M325.4 260.9H547.2M325.4 231.2H547.2" stroke="#b2b2b2" stroke-width="0.7" stroke-dasharray="1.8 0.8" fill="none"/>
<g clip-path="url(#c4)">
<g transform="translate(335.6 379.6) scale(0.67680 -0.1)">
<g fill-opacity="0.2" stroke-opacity="0.2" stroke-width="0.9" vector-effect="non-scaling-stroke">
<path d="M0 174l1-12 1-2 1 51 1-15 1-12 1 18 1-34 1 21 1-19 1 25 1-11 1 20 1-25 1-39 1 21 1-7 1 14 1 18 1-58 1 59 1-53 1-2 1-4 1 29 1 1 1-4 1 25 1-27 1-13 1 43 1-50 1-5 1 7 1 10 1 18 1-2 1-8 1 2 1-24 1 23 1 4 1-18 1 51 1-29 1 0 1-47 1 32 1-32 1 0 1 36 1 4 1-11 1 17 1-1 1 4 1-20 1 9 1-28 1 32 1-11 1-31 1 7 1 48 1-55 1-10 1 11 1 28 1 1 1 42 1-20 1-17 1-12 1 20 1 5 1 21 1 0 1-6 1-56 1 8 1 11 1 10 1 17 1 3 1-35 1 6 1 5 1-2 1 19 1-37 1 21 1-69 1 32 1 5 1 29 1 46 1-34 1 0 1 28 1-36 1 35 1-39 1 28 1-3 1 3 1 4 1-6 1-29 1 58 1-27 1-14 1 31 1-2 1 2 1-57 1 3 1 19 1 17 1-16 1-6 1 25 1-15 1 10 1 4 1 9 1-59 1 6 1-8 1 14 1-8 1-23 1 15 1 9 1 63 1-31 1 12 1-15 1-3 1-8 1 0 1 18 1-34 1-9 1 22 1 36 1-31 1 31 1-40 1 14 1-22 1 17 1 35 1 2 1 67 1-38 1-41 1-9 1-10 1 1 1 48 1 5 1-41 1-21 1 25 1-29 1 36 1-16 1 13 1-19 1-2 1 7 1-39 1-9 1 72 1-13 1-4 1-12 1 69 1-50 1 6 1 9 1-30 1-29 1 37 1-53 1 29 1 39 1-21 1 41 1 30 1-42 1-51 1-4 1-17 1 16 1 45 1 8 1 1 1-4 1-28 1-16 1 27 1-48 1-2 1 5 1 51 1-50 1-21 1 35 1 41 1-17 1-10 1-13 1 18 1 7 1-25 1-17 1-10 1 49 1 39 1 7 1-25 1-11 1-16 1-21 1 10 1 61 1-2 1-37 1 20 1-17 1-31 1 20 1 1 1-30 1 70 1 26 1-51 1-10 1-26 1 10 1 40 1 17 1-42 1-39 1 4 1 1 1-21 1-1 1 7 1 24 1 72 1-35 1 35 1-48 1 0 1-10 1 23 1-42 1 53 1 6 1-25 1 30 1 25 1 27 1-30 1-43 1-25 1-39 1 0 1 29 1-36 1-15 1 16 1-26 1 31 1-2 1-7 1 48 1 10 1-9 1-16 1 41 1 29 1-67 1-16 1 21 1-27 1-5 1 11 1 9 1-33 1 40 1 25 1 5 1 14 1 19 1-36 1-52 1-14 0-86-1 18-1 61-1 28-1-45-1-3-1 26-1-11-1-53-1 40-1-1-1-23-1 4-1-5-1-37-1 35-1 32-1-7-1 14-1-1-1-12-1 4-1-38-1-13-1 20-1-25-1-2-1-12-1 12-1 29-1-41-1 0-1 35-1 36-1 38-1 21-1-33-1-37-1-4-1 6-1 25-1-34-1 64-1-52-1-30-1 6-1 40-1-26-1 39-1-40-1-45-1 28-1 1-1 3-1 3-1-22-1 26-1 32-1-20-1-34-1 25-1 33-1-21-1 33-1-38-1-45-1 32-1-2-1 0-1 18-1-5-1-2-1 20-1 23-1-38-1-19-1-3-1 17-1-3-1 62-1-19-1-31-1-36-1 25-1-10-1 16-1-38-1-20-1 30-1-9-1 8-1 12-1-20-1 7-1 48-1-48-1 38-1-32-1 29-1-35-1 18-1 35-1 7-1-19-1-9-1-30-1-19-1 37-1-7-1 58-1 25-1-35-1-34-1 1-1-14-1-37-1 49-1-23-1 44-1 36-1-48-1 11-1 13-1-33-1 14-1 9-1-17-1-27-1 4-1-15-1 2-1 48-1 8-1-5-1 12-1-58-1 23-1-15-1 20-1 47-1-25-1-14-1 9-1 14-1-16-1 42-1 40-1-72-1 0-1-26-1 14-1 13-1-21-1 46-1-52-1 21-1-34-1 3-1-12-1 41-1-24-1-12-1 11-1-12-1 11-1-6-1 34-1-66-1-4-1-7-1 42-1-27-1-15-1 21-1-3-1 67-1 1-1 2-1 17-1-4-1-53-1 5-1 30-1-37-1-12-1-12-1 56-1-42-1 31-1-27-1 7-1 27-1-54-1 20-1-6-1 12-1 24-1 21-1-39-1 31-1-34-1 3-1-23-1-2-1-2-1-12-1-2-1-11-1 0-1 38-1-11-1 17-1-15-1 15-1-23-1 15-1 47-1-11-1-21-1-16-1-12-1-13-1 44-1-2-1-14-1 12-1-18-1-1-1 25-1 7-1-29-1 0-1 12-1-6-1 0-1-11-1 53-1-74-1 17-1 29-1-21-1-33-1 27-1 3-1 4-1 17-1-1-1-17-1 35-1-19-1-37-1 11-1 8-1-31-1 24-1 43-1 1-1-55-1 7-1 12-1 1-1 16-1 9-1-29-1 19-1-6-1-20-1-14-1-1-1 73-1-52-1 1-1 37-1 10-1-1-1 2-1-18-1-5-1-1-1 51-1-56-1 41-1-11-1-9-1-3-1-20-1 33-1-31-1-23-1 3-1-24-1 46-1-36-1 31-1-36-1 18-1-11-1-2-1 11-1 6z" fill="#348ABD" stroke="#348ABD"/>
<path d="M0 144l1 37 1 79 1 81 1-48 1-19 1-6 1-53 1 137 1-9 1 104 1-46 1-87 1 105 1 25 1-90 1 12 1 64 1 100 1 34 1-17 1-49 1-93 1 7 1-35 1 186 1-29 1 5 1-92 1-22 1 54 1 32 1-52 1 46 1 68 1-63 1 42 1-72 1 68 1 48 1-140 1 6 1 37 1-3 1 68 1-40 1 111 1 72 1-126 1-98 1-124 1 22 1 55 1 99 1-78 1 10 1 11 1 58 1 46 1 76 1-93 1-83 1-21 1 45 1-56 1 33 1 22 1 75 1 2 1-58 1 6 1-6 1 2 1-92 1 2 1 46 1-21 1 94 1-65 1 63 1-96 1 36 1 80 1-5 1-12 1-133 1-12 1-57 1 97 1 1 1-10 1 27 1 10 1-92 1 15 1 25 1-120 1 155 1 18 1 63 1-28 1-98 1-52 1 79 1 13 1-3 1-28 1 80 1 36 1-168 1-24 1 101 1 54 1-58 1 15 1 39 1-42 1 57 1-53 1-77 1 122 1-133 1 50 1 95 1-133 1 68 1 95 1-125 1-64 1-6 1 24 1 41 1 53 1 39 1-78 1-35 1 85 1 60 1-91 1-21 1-17 1 18 1 15 1 62 1 65 1-84 1-48 1-36 1-55 1 155 1 17 1 77 1 13 1-142 1 13 1 52 1-34 1 8 1-6 1 42 1 37 1 28 1-74 1-97 1 101 1-25 1 19 1 10 1-15 1 39 1-4 1-61 1 47 1-49 1-19 1 74 1 18 1 62 1 45 1 2 1-197 1-18 1-34 1-10 1-14 1-58 1-65 1 146 1 92 1-77 1-22 1 4 1 104 1-20 1 60 1-22 1 73 1-2 1-105 1-63 1 10 1 31 1-5 1-54 1 86 1-45 1 37 1 9 1-59 1-25 1 24 1 108 1-20 1-55 1 80 1-113 1-30 1-11 1 4 1 101 1-100 1 39 1 156 1-71 1 3 1 153 1-34 1 17 1-58 1-52 1 26 1 23 1-78 1-46 1 20 1 59 1-20 1-55 1 25 1-20 1-52 1-6 1 39 1-37 1 24 1 73 1 97 1-8 1-114 1 61 1-64 1-107 1 0 1 81 1 90 1-111 1-64 1-17 1 66 1-54 1-33 1-55 1 66 1 98 1 2 1-45 1 32 1 20 1-52 1-35 1 128 1-17 1-134 1 110 1-112 1 112 1 24 1-49 1-49 1 113 1 42 1-73 1-62 1 192 1-114 1-82 1 70 1-32 1 43 1-139 1 9 1-113 1 35 1 71 1-16 1 63 1-84 1-22 1-95 1 38 0-267-1-3-1 26-1 132-1 42-1-61-1-44-1 27-1 0-1 60-1 4-1 111-1-20-1-45-1-90-1 62-1-68-1-47-1 28-1 56-1 17-1-21-1-32-1 43-1-20-1-74-1 24-1-139-1 76-1 21-1 62-1 43-1-14-1-111-1 21-1 58-1-63-1-7-1 2-1 79-1 15-1 45-1-32-1-63-1 24-1 63-1-19-1-22-1-34-1 40-1 34-1 69-1 26-1-74-1 7-1 24-1-9-1 13-1-26-1-54-1 103-1-45-1 34-1-31-1-14-1 14-1-71-1-8-1 141-1 94-1-92-1 6-1 161-1-87-1 2-1-175-1 46-1 30-1-33-1 85-1 6-1-119-1 47-1-58-1 12-1 6-1-28-1 43-1 38-1-65-1 64-1-80-1 65-1 7-1-78-1 24-1-27-1 74-1-23-1 0-1 1-1-2-1 42-1-7-1-32-1-52-1-1-1 48-1-24-1-24-1 37-1 51-1-103-1-95-1 72-1 29-1-80-1 8-1 9-1 21-1 173-1-31-1 4-1-4-1 13-1-89-1 14-1-26-1 26-1 120-1-55-1-26-1-10-1-59-1 35-1 6-1-81-1 27-1 2-1 20-1 72-1 53-1-36-1 19-1-37-1-43-1-42-1 49-1-62-1 61-1-43-1-27-1-60-1 11-1 6-1 70-1 32-1-62-1 23-1-36-1 54-1 32-1 13-1 3-1 31-1-146-1-6-1 54-1-97-1 14-1-4-1 34-1 8-1 88-1-106-1-39-1 77-1-51-1 18-1 40-1-125-1 47-1 197-1-87-1-121-1 17-1 46-1-34-1 41-1-52-1-38-1 127-1 19-1-2-1-9-1 18-1-57-1-13-1 53-1 48-1 4-1 24-1-156-1-169-1 129-1 23-1 16-1 31-1-35-1 16-1 47-1-65-1-66-1 107-1-16-1 98-1 49-1 23-1-3-1-129-1 45-1 93-1 80-1-95-1-47-1-71-1 90-1 34-1-15-1-38-1-13-1 58-1-51-1-40-1 23-1 13-1 67-1-57-1 19-1 38-1-44-1-5-1-15-1 18-1-69-1 41-1-11-1 37-1-56-1 18-1 9-1 5-1-41-1-1-1-32-1 125-1-104-1-5-1-22-1 114-1 46-1-67-1-106-1-60-1 61-1 125-1-26-1 8-1 55-1-1-1-52-1 38-1 61-1-40-1 31-1-125-1-45-1-65-1 107-1 23-1 72-1-46-1-100-1 40-1 22-1-28-1-107-1-80-1 122-1 52-1-47-1 36-1-37-1-40-1-34-1-54-1 35-1-38-1 34-1-3z" fill="#7A68A6" stroke="#7A68A6"/>
<path d="M0 233l1-6 1 1 1-32 1 17 1 72 1-9 1 3 1 38 1-24 1-28 1-23 1 56 1 37 1 21 1-74 1-51 1 43 1 42 1-45 1 49 1-64 1 14 1-78 1 53 1 17 1-29 1 18 1-27 1 23 1-17 1 6 1 32 1 44 1 7 1-36 1 40 1 28 1 31 1-104 1 63 1-29 1-53 1 13 1-4 1 56 1-2 1 15 1-1 1-34 1-21 1-9 1-13 1 0 1 13 1 22 1-42 1-1 1-60 1 42 1-2 1-61 1 40 1 46 1 20 1 14 1-14 1-13 1-67 1 85 1-20 1-93 1-24 1 45 1 102 1-59 1 35 1-16 1 15 1-8 1-13 1 38 1-34 1 0 1-32 1-9 1-36 1 32 1 29 1-23 1-2 1 36 1-32 1 20 1 22 1 19 1 47 1-65 1-64 1-61 1 62 1 10 1 62 1-57 1 76 1-38 1-57 1-40 1 72 1-58 1 51 1 22 1 27 1 3 1-18 1 44 1-53 1-9 1 30 1-39 1-29 1 13 1 61 1 7 1-69 1 9 1-42 1-3 1 38 1 6 1 10 1-4 1-8 1-12 1-15 1 81 1-8 1-63 1-28 1-12 1 34 1 25 1-2 1 3 1 17 1-6 1 8 1 27 1 15 1-57 1 56 1-19 1 3 1-41 1-29 1 16 1 0 1 20 1-32 1 32 1-51 1 32 1 12 1 17 1 9 1-26 1 7 1 57 1-46 1-50 1 44 1 32 1-26 1 44 1-14 1-11 1-8 1-118 1 52 1 21 1-20 1 29 1 17 1-103 1 35 1-2 1 37 1-17 1-50 1 2 1-16 1 56 1 58 1-32 1 11 1-28 1-5 1 8 1 12 1-17 1-44 1 86 1 7 1 24 1-52 1 53 1-26 1-39 1 23 1 17 1 24 1-13 1 60 1-9 1-108 1 8 1 22 1-5 1 13 1 12 1 18 1 60 1-4 1-67 1 44 1-36 1-76 1 63 1 44 1-64 1-34 1-43 1 106 1 19 1 4 1-11 1-19 1 10 1-14 1-30 1 29 1 50 1-54 1-62 1-4 1-2 1 72 1 39 1-30 1-24 1-6 1-43 1 28 1 47 1-47 1-43 1 62 1-76 1 1 1 40 1 31 1-1 1-20 1 55 1-4 1-51 1-42 1 32 1 10 1-2 1 15 1-59 1 43 1-13 1-36 1 27 1 17 1 15 1 41 1-57 1 39 1 64 1 23 1-85 1 24 1-2 1-9 1 4 1 5 1 65 1-83 1 1 1 0 1-12 1-16 1 15 1-6 1 17 1 79 1-50 0-124-1 61-1-55-1-33-1-1-1-22-1 44-1 57-1-59-1 11-1 28-1-61-1 18-1-7-1-8-1 25-1-22-1 34-1 0-1-33-1-34-1 72-1-18-1-54-1-31-1-15-1-6-1 15-1-10-1 56-1 6-1-13-1-2-1-15-1 9-1 16-1 14-1-4-1-8-1-23-1-42-1 0-1 19-1 48-1-69-1 63-1 8-1-53-1-18-1 45-1 49-1 11-1-3-1-19-1-1-1-8-1-4-1 15-1 5-1-8-1-44-1 31-1 28-1 30-1-9-1-19-1 46-1-19-1-105-1 34-1-6-1 65-1-52-1-19-1 66-1 2-1 23-1 41-1 24-1-82-1 6-1-3-1-16-1-43-1-18-1-30-1 116-1-10-1-42-1 16-1-11-1 8-1-46-1 36-1 16-1-6-1 27-1-55-1 14-1-48-1 5-1 40-1 9-1-48-1-1-1 36-1-46-1 48-1-31-1-26-1-14-1 0-1 70-1 14-1-1-1 2-1-49-1 47-1-21-1-28-1 0-1 12-1-43-1 102-1-21-1 31-1 71-1-75-1 8-1-32-1-48-1 18-1 20-1-36-1 8-1 57-1 24-1-24-1 0-1-46-1 34-1-21-1 36-1-45-1 2-1-27-1 33-1 60-1-16-1-41-1-44-1 57-1-22-1 8-1 6-1 66-1-42-1 11-1-9-1-41-1-39-1-3-1 23-1 50-1 18-1-54-1-3-1-11-1 1-1 13-1 0-1 28-1-48-1 4-1 2-1 3-1 51-1-29-1-4-1 11-1 6-1 49-1-64-1 19-1 46-1-19-1 19-1 9-1-22-1-8-1-60-1 33-1-73-1-5-1 45-1 58-1-47-1 42-1-54-1 35-1-52-1-4-1 84-1 29-1-32-1 19-1-47-1-17-1 33-1-84-1 34-1 0-1-16-1-33-1 35-1 52-1 53-1-11-1-1-1 16-1 45-1-16-1-58-1 37-1-5-1 29-1-117-1-54-1 104-1 94-1-45-1-96-1 24-1 29-1 41-1-46-1-31-1-41-1-18-1 25-1 16-1-43-1 66-1-7-1 29-1-2-1 22-1-2-1 50-1-44-1 24-1 26-1 10-1-33-1 29-1-62-1 22-1-7-1 9-1 26-1-49-1 120-1-45-1-27-1 0-1 33-1-24-1-61-1-24-1-54-1 0-1-4-1 25-1-9-1 22-1-25-1-5-1 73-1 26-1 31-1-61-1 37-1-27-1 14-1 18-1 93-1-9-1-54-1-79-1-4-1 10-1-28-1 26-1 44-1-7-1-58-1-11-1-24-1-20-1-21z" fill="#467821" stroke="#467821"/>
<path d="M0 194l1-8 1-4 1 11 1-20 1-19 1-19 1-9 1-19 1 48 1 68 1-5 1-18 1-1 1 17 1-31 1 21 1-1 1-39 1 22 1-5 1 7 1 21 1-11 1 18 1-15 1 20 1 28 1-28 1 13 1-18 1 18 1 15 1-15 1-14 1 23 1-10 1 2 1 36 1-28 1 7 1 0 1-18 1 26 1-7 1 3 1 33 1 54 1-11 1 10 1-22 1 25 1-15 1 9 1-20 1 0 1 47 1-4 1-34 1 17 1-13 1-32 1-8 1-11 1 30 1 40 1 30 1-10 1-37 1 32 1 26 1-25 1 19 1-26 1 5 1 7 1-27 1 32 1 22 1 59 1-14 1 35 1 8 1 5 1-56 1-7 1 91 1 34 1-3 1 24 1 8 1-19 1-11 1 40 1-39 1 26 1-47 1 30 1-42 1 26 1-39 1-31 1 22 1 99 1 10 1-11 1-48 1 47 1-13 1-56 1 7 1 33 1 5 1 35 1-33 1 85 1 59 1 44 1 49 1-94 1-5 1-3 1 53 1-18 1 1 1 55 1 30 1-6 1 39 1 37 1 9 1-24 1 85 1-67 1 47 1-92 1 11 1 36 1 55 1-54 1 81 1-92 1-84 1 42 1 47 1 16 1 84 1 21 1-20 1 70 1 43 1 35 1-73 1-81 1 12 1-5 1 18 1 6 1 134 1-38 1-61 1-33 1 46 1 83 1-27 1-10 1 16 1 20 1-79 1-37 1-52 1 31 1 42 1-52 1 98 1-83 1 57 1-46 1 96 1-35 1 40 1 11 1-22 1 32 1-76 1 39 1 8 1-28 1 5 1 3 1 21 1 3 1-14 1 14 1 70 1-61 1 1 1 43 1-48 1 22 1 59 1 9 1-69 1 79 1 32 1 95 1-1 1-43 1-28 1-21 1 4 1 60 1-49 1 36 1-70 1-50 1 94 1-42 1-22 1-55 1 58 1 97 1 17 1-1 1 24 1 11 1-18 1-15 1 7 1-11 1-17 1 23 1 7 1-25 1-48 1 5 1 8 1-92 1 43 1 47 1-12 1 49 1-35 1 19 1 15 1 20 1-1 1 10 1 16 1-1 1-5 1-31 1 17 1 1 1 13 1-25 1-45 1 28 1 0 1 31 1 12 1-3 1-27 1 16 1 57 1-12 1-25 1 7 1 7 1-8 1-31 1-14 1 24 1-35 1-3 1 16 1 18 1 0 1-58 1 53 1 42 1-22 1-39 1-22 1 21 1 0 1 16 1-20 1 41 1 53 1-30 1-2 1 20 1 15 1-54 1 31 1 2 1-7 1 54 1 23 0-212-1-24-1-46-1 27-1-62-1 22-1 41-1-25-1 28-1-17-1 56-1-102-1-46-1 29-1 18-1-18-1 11-1 56-1 23-1 11-1 12-1-95-1 42-1-24-1-50-1-18-1 23-1 17-1-10-1 18-1 30-1-4-1 3-1 16-1 19-1-28-1-29-1-32-1 11-1-1-1 12-1-65-1-19-1-40-1 49-1 49-1 4-1-46-1 3-1 42-1 12-1 4-1 38-1-42-1-64-1-19-1 10-1-39-1-1-1-110-1-9-1-70-1 6-1 30-1 39-1-37-1 100-1 43-1 7-1 64-1-82-1 20-1-103-1-40-1 26-1-29-1 15-1-16-1-67-1-123-1-15-1 50-1 55-1 77-1-49-1-10-1 68-1-48-1 1-1-91-1 47-1 101-1-2-1-46-1-89-1 109-1-62-1-5-1-63-1 23-1-37-1 28-1 30-1-66-1-58-1 4-1 52-1-182-1 93-1 33-1-72-1 1-1 64-1-53-1-1-1 9-1 150-1-23-1 5-1 9-1 10-1-15-1-95-1 27-1-50-1-93-1-53-1 106-1-184-1 27-1-16-1-19-1 153-1-87-1 47-1 100-1 6-1-48-1 29-1 98-1 38-1 23-1-76-1-100-1-42-1-38-1-74-1-61-1-33-1 21-1 17-1 140-1 11-1 72-1-45-1 12-1-12-1-64-1 50-1 17-1-11-1 93-1-81-1-122-1-25-1 8-1-61-1 117-1 16-1-88-1-90-1-2-1 90-1-71-1 91-1 35-1-23-1-47-1-50-1 17-1-42-1-15-1 24-1 8-1-17-1 13-1-8-1-13-1 24-1-26-1-58-1 122-1-82-1 12-1 57-1-45-1-14-1-82-1 10-1 43-1 59-1-91-1 59-1-41-1-5-1 60-1-6-1-64-1 33-1 25-1-8-1 17-1 11-1-43-1-58-1 29-1 55-1 14-1 15-1-83-1 4-1-32-1-25-1-11-1 50-1-1-1-53-1 15-1-48-1 38-1-8-1-32-1 59-1-8-1-6-1-46-1-8-1 5-1-39-1 70-1-34-1 37-1 55-1-5-1-38-1 2-1-27-1-7-1 18-1-5-1 37-1-11-1-5-1-30-1-14-1-38-1 19-1 12-1 9-1-6-1 0-1 38-1-22-1-2-1-8-1 10-1-39-1 17-1-27-1-15-1 36-1-17-1 37-1-18-1-27-1 5-1 2-1-32-1-35-1 6-1 14-1-21-1 58-1-5-1-38-1 27-1-9-1 19-1 22-1-1-1-94-1-65-1 10-1 19-1 37-1-1-1 34-1 2-1 6-1 8z" fill="#A60628" stroke="#A60628"/>
</g><g fill="none" stroke-linejoin="round" stroke-linecap="square">
<path d="M0 118l1-9 1 8 1-5 1-6 1-11 1 15 1-19 1 14 1-12 1 3 1-3 1 15 1 12 1-29 1 25 1 8 1 11 1 15 1-51 1 37 1-46 1-8 1 15 1 22 1 5 1-3 1 2 1-31 1 4 1 51 1-69 1 6 1 5 1-12 1 8 1 9 1-2 1 2 1-18 1 22 1-11 1-16 1 54 1-21 1-11 1-34 1 26 1-14 1 0 1 27 1 12 1-18 1 15 1 6 1-8 1-20 1 16 1-30 1 21 1 4 1-22 1-9 1 65 1-53 1 12 1-1 1 15 1 6 1 15 1 5 1-12 1-34 1 2 1 18 1 9 1 18 1-16 1-29 1-4 1 14 1 22 1 13 1 2 1-38 1-5 1 16 1 5 1 13 1-34 1 18 1-57 1 12 1 19 1 2 1 25 1-8 1 1 1 13 1-23 1 34 1-23 1 11 1-1 1-13 1 3 1 6 1-12 1 45 1-37 1-1 1 21 1 0 1 11 1-45 1 0 1 6 1 27 1-26 1 1 1 38 1-8 1-3 1-12 1 18 1-50 1-7 1 1 1 14 1 5 1-39 1 22 1-6 1 68 1-22 1 14 1-24 1-7 1-17 1 25 1 23 1-38 1 14 1 12 1 20 1-26 1 26 1-38 1 7 1-10 1-1 1 26 1 4 1 49 1-31 1-31 1 21 1-7 1-17 1 25 1 17 1-49 1-5 1 27 1-22 1 35 1-16 1 2 1-3 1-28 1 3 1-8 1 0 1 30 1 8 1-12 1 3 1 26 1-16 1-17 1 14 1-19 1-23 1 48 1-32 1 7 1 10 1-10 1 38 1 23 1-17 1-49 1 11 1-36 1 25 1 20 1 1 1 19 1-11 1-28 1-6 1 26 1-50 1 19 1-20 1 60 1-43 1-41 1 42 1 22 1-21 1-1 1-24 1 9 1 26 1 3 1-5 1-13 1 27 1 30 1 10 1-49 1 3 1-18 1-1 1 16 1 55 1-17 1-16 1-19 1 12 1-39 1 26 1 18 1-27 1 37 1 34 1-42 1 8 1-22 1-16 1 22 1 2 1-32 1-23 1 22 1-20 1-9 1 16 1 4 1 20 1 44 1-41 1 33 1-40 1 6 1 25 1 40 1-59 1 35 1-17 1-4 1 5 1 31 1 28 1-25 1-35 1-23 1-43 1-11 1 47 1-30 1-7 1 9 1 2 1-2 1-4 1 6 1 45 1 11 1-6 1-20 1 6 1 6 1-20 1-17 1 19 1-10 1-6 1 12 1 5 1-16 1 44 1-1 1-11 1 12 1 21 1-17 1-62 1-7" stroke="#348ABD" stroke-width="1.95"/>
<path d="M0 99l1 4 1 3 1 35 1 5 1 21 1 10 1-15 1 70 1 30 1 71 1-30 1-62 1 37 1 57 1-14 1-57 1 3 1 64 1 42 1-65 1-20 1-76 1 44 1 33 1 155 1-48 1 40 1-32 1-46 1 29 1 43 1-82 1 18 1 32 1-69 1 15 1 2 1 20 1 71 1-67 1-39 1 33 1-1 1-9 1-89 1 35 1 15 1-1 1-17 1-6 1-5 1 67 1 4 1 13 1-11 1 8 1-48 1 53 1-3 1 19 1-31 1-2 1 9 1-20 1-47 1 18 1 56 1 2 1-60 1 18 1 30 1-4 1-40 1-48 1 64 1 6 1 105 1-33 1-12 1-59 1 13 1 52 1-30 1-33 1-75 1 21 1-83 1 69 1 51 1-48 1-6 1 6 1-60 1-11 1 22 1-13 1 63 1 34 1-7 1 22 1-71 1 21 1 16 1 8 1-13 1 6 1 38 1-25 1-66 1 16 1 5 1-30 1 47 1 48 1 24 1-4 1-9 1-69 1-20 1 56 1-65 1 5 1 77 1-52 1 23 1 47 1-56 1-67 1-6 1 53 1 3 1 68 1 39 1-69 1 22 1-6 1 12 1-29 1-28 1 3 1 49 1-6 1 10 1 10 1-2 1-24 1-53 1 24 1 35 1 5 1-23 1 52 1-40 1 32 1 34 1 5 1 5 1-16 1-38 1-58 1 34 1 25 1-56 1 99 1 5 1-1 1-7 1-13 1 18 1 1 1-53 1 4 1 28 1-17 1 51 1 5 1-1 1-2 1 18 1-123 1-34 1 24 1-12 1 9 1-8 1-50 1 72 1 60 1-3 1-43 1-13 1 74 1-21 1 49 1 4 1 27 1-10 1-20 1-21 1-33 1-5 1 17 1-23 1 45 1-8 1 18 1 17 1-78 1 42 1 0 1 42 1-20 1-13 1-47 1-56 1 43 1 23 1-2 1 69 1-21 1-6 1 65 1-41 1-43 1 115 1-7 1 31 1-72 1-7 1 27 1-60 1-23 1-22 1 44 1-25 1-23 1-25 1 8 1 59 1-71 1 43 1 28 1-15 1-26 1-12 1 65 1 25 1-6 1-10 1-49 1-65 1 5 1 27 1 31 1-71 1-28 1-10 1 67 1 4 1-2 1-41 1 37 1-14 1-23 1-17 1-2 1 68 1-24 1-42 1 16 1 34 1-54 1 33 1-98 1 70 1 33 1-60 1 17 1 33 1 47 1 6 1-33 1 25 1-17 1-14 1 61 1 6 1-10 1-83 1-31 1-43 1 64 1 7 1 11 1 11 1-50 1-72 1-6 1 37" stroke="#7A68A6" stroke-width="1.95"/>
<path d="M0 114l1 29 1 9 1-12 1 8 1 63 1-10 1-19 1 51 1 2 1-31 1-9 1 64 1 31 1 11 1-88 1-29 1 28 1 29 1-27 1 30 1-40 1-11 1-68 1 39 1 29 1-23 1 16 1-28 1 1 1 4 1 13 1 23 1 36 1 19 1-37 1 35 1 17 1 5 1-87 1 53 1-18 1-19 1 9 1-24 1 77 1-9 1 11 1-8 1-39 1-13 1 26 1-50 1 13 1 6 1 7 1-44 1-5 1-53 1 46 1-8 1-42 1 11 1 46 1 14 1 37 1-10 1-25 1-43 1 74 1 28 1-77 1-54 1 54 1 116 1-60 1 2 1-21 1 18 1 7 1-24 1 0 1 5 1 2 1-55 1-32 1-30 1 35 1 34 1-17 1-7 1 40 1-24 1 23 1 38 1-11 1 12 1-22 1-64 1-30 1 52 1 1 1 63 1-58 1 58 1-63 1-62 1 2 1 72 1-36 1 64 1-3 1-6 1 33 1-34 1 25 1-39 1-15 1 38 1-30 1-30 1 20 1 30 1 15 1-50 1-8 1-24 1-15 1 55 1-26 1 21 1-10 1 6 1-3 1-12 1 55 1-20 1-49 1-8 1-5 1 52 1 16 1 11 1 8 1 15 1-31 1-6 1 21 1 16 1-45 1 47 1-12 1 15 1-48 1-45 1 33 1-9 1 23 1-31 1 40 1-29 1 35 1-4 1 9 1-10 1-40 1-8 1 36 1-16 1-30 1 40 1 33 1-20 1 70 1-39 1-7 1 11 1-131 1 36 1 16 1-12 1 33 1 8 1-62 1 45 1 0 1 22 1-26 1-37 1 10 1-8 1 27 1 38 1-39 1 33 1-41 1 14 1 30 1-9 1-14 1-13 1 53 1-6 1 33 1-40 1 21 1-14 1-49 1 26 1-12 1 17 1 8 1 51 1 1 1-102 1 27 1 13 1 26 1 9 1 17 1-16 1 56 1-25 1-26 1-2 1-39 1-59 1 40 1 59 1-67 1-7 1-28 1 110 1 24 1-20 1 0 1 2 1-7 1-28 1-11 1 15 1 22 1-34 1-19 1 3 1-5 1 26 1 27 1-22 1-11 1-31 1-33 1 28 1 44 1-40 1-32 1 43 1-42 1-2 1 11 1 12 1 30 1-3 1 13 1-21 1-22 1-24 1 32 1-9 1 7 1-11 1-59 1 36 1 0 1-26 1 32 1 21 1 47 1 34 1-48 1 16 1 33 1-3 1-52 1 18 1-14 1 24 1-6 1-9 1 79 1-60 1-16 1 35 1-13 1-31 1 13 1 4 1 32 1 57 1-55" stroke="#467821" stroke-width="1.95"/>
<path d="M0 118l1-9 1-9 1 6 1-15 1-6 1-19 1-21 1-12 1 40 1 53 1 3 1-10 1-6 1 19 1-23 1 33 1-3 1-45 1 16 1-2 1 1 1 23 1 3 1 0 1-1 1 21 1 23 1-31 1 9 1-9 1 12 1 16 1-8 1 11 1 1 1-3 1 12 1 16 1-28 1 15 1-10 1 0 1 2 1-19 1 17 1 15 1 36 1 7 1 5 1-12 1-1 1-13 1-13 1 17 1-1 1 25 1 25 1-49 1-10 1 18 1-42 1 30 1-16 1 18 1 40 1-5 1 16 1-37 1 22 1-6 1-7 1 10 1-12 1 27 1 4 1-13 1 25 1 32 1 28 1-9 1 38 1 20 1 3 1-29 1-25 1 34 1 18 1-19 1 19 1 12 1 5 1-22 1 30 1-25 1-7 1-7 1 38 1-58 1 27 1-27 1-6 1 8 1 59 1 11 1 27 1-33 1 1 1 5 1-51 1 4 1 25 1 20 1 6 1-14 1 24 1 29 1 23 1-9 1 6 1 43 1-16 1 36 1-7 1 0 1 41 1-24 1 13 1-42 1 26 1 14 1 38 1 23 1-45 1-6 1-14 1 55 1 44 1 55 1-17 1 8 1-46 1-46 1 28 1 51 1 26 1 26 1-43 1-8 1-40 1-11 1 24 1-17 1 31 1 31 1 30 1 21 1 35 1 61 1-24 1-19 1-30 1 3 1 14 1-13 1-2 1 6 1 18 1-57 1-18 1-33 1 10 1 49 1 1 1 58 1-3 1 32 1 15 1 59 1 15 1 21 1-5 1-10 1 13 1-32 1-2 1-11 1-9 1 11 1-26 1 6 1 5 1-2 1 49 1-26 1 15 1 38 1 33 1-13 1 31 1 11 1-7 1-13 1 33 1-10 1 33 1 22 1-36 1-1 1 13 1 21 1 33 1-27 1 28 1-17 1-22 1 29 1-23 1-32 1-29 1 56 1 63 1 56 1 35 1 6 1-10 1-26 1 9 1 11 1-20 1 8 1-3 1 19 1-27 1-26 1 11 1-9 1-76 1 18 1 47 1-4 1 58 1-19 1 33 1-5 1 12 1-12 1 10 1 5 1 3 1 9 1-33 1-2 1 7 1 18 1-40 1-40 1 43 1 2 1 25 1 9 1 5 1-17 1 19 1 34 1 13 1-19 1-11 1-3 1-12 1-1 1-7 1 22 1-32 1 8 1 0 1 15 1 10 1-25 1 45 1 13 1 3 1-41 1-31 1-2 1 8 1-4 1-16 1 31 1 61 1-20 1 7 1-2 1 34 1-36 1 23 1-18 1 4 1 56 1 20" stroke="#A60628" stroke-width="3.5"/>
</g></g>
</g>
<path d="M335.6 381.2v-3.4M369.4 381.2v-3.4M403.3 381.2v-3.4M437.1 381.2v-3.4M471 381.2v-3.4M504.8 381.2v-3.4M538.6 381.2v-3.4M325.4 379.6h3.4M325.4 349.9h3.4M325.4 320.2h3.4M325.4 290.6h3.4M325.4 260.9h3.4M325.4 231.2h3.4" stroke="#000" stroke-width="0.85" fill="none"/>
<rect x="325.45" y="230.35" width="221.8" height="150.9" fill="none" stroke="#bcbcbc" stroke-width="0.96"/>
<g font-size="9.6">
<text x="335.6" y="392.5" text-anchor="middle" transform="rotate(0.05 335.6 392.5)">0.0</text>
<text x="369.4" y="392.5" text-anchor="middle" transform="rotate(0.05 369.4 392.5)">0.5</text>
<text x="403.3" y="392.5" text-anchor="middle" transform="rotate(0.05 403.3 392.5)">1.0</text>
<text x="437.1" y="392.5" text-anchor="middle" transform="rotate(0.05 437.1 392.5)">1.5</text>
<text x="471" y="392.5" text-anchor="middle" transform="rotate(0.05 471 392.5)">2.0</text>
<text x="504.8" y="392.5" text-anchor="middle" transform="rotate(0.05 504.8 392.5)">2.5</text>
<text x="538.6" y="392.5" text-anchor="middle" transform="rotate(0.05 538.6 392.5)">3.0</text>
<text x="322.2" y="383.2" text-anchor="end" transform="rotate(0.05 322.2 383.2)">0</text>
<text x="322.2" y="353.5" text-anchor="end" transform="rotate(0.05 322.2 353.5)">200</text>
<text x="322.2" y="323.8" text-anchor="end" transform="rotate(0.05 322.2 323.8)">400</text>
<text x="322.2" y="294.2" text-anchor="end" transform="rotate(0.05 322.2 294.2)">600</text>
<text x="322.2" y="264.5" text-anchor="end" transform="rotate(0.05 322.2 264.5)">800</text>
<text x="322.2" y="234.8" text-anchor="end" transform="rotate(0.05 322.2 234.8)">1000</text>
</g>
<text x="436.4" y="224.5" font-size="13.8" text-anchor="middle" transform="rotate(0.05 436.4 224.5)">Finger Turn Hard</text>
<text y="407.6" font-size="11.5" transform="rotate(0.05 436.4 407.6)"><tspan x="395.4">Frames (</tspan><tspan x="446.6" dy="0.9" stroke="none" font-family="'Liberation Serif', 'DejaVu Serif', serif" font-size="15">×</tspan><tspan x="455.2" dy="-0.9" stroke="none" font-family="'Liberation Serif', 'DejaVu Serif', serif" font-size="12.6">10</tspan><tspan x="467.8" dy="-3.8" stroke="none" font-family="'Liberation Serif', 'DejaVu Serif', serif" font-size="8.4">6</tspan><tspan x="472.2" dy="3.8">)</tspan></text>
<text transform="translate(291.6 305.2) rotate(-90)" font-size="11.5" text-anchor="middle">Episode Return</text>
</g>
<g>
<rect x="601.3" y="230.35" width="221.8" height="150.9" fill="#eeeeee"/>
<path d="M611.4 230.3V381.2M645.3 230.3V381.2M679.1 230.3V381.2M713 230.3V381.2M746.8 230.3V381.2M780.6 230.3V381.2M814.5 230.3V381.2M601.3 377.7H823.1M601.3 344.7H823.1M601.3 311.7H823.1M601.3 278.7H823.1M601.3 245.7H823.1" stroke="#b2b2b2" stroke-width="0.7" stroke-dasharray="1.8 0.8" fill="none"/>
<g clip-path="url(#c5)">
<g transform="translate(611.4 377.7) scale(0.67680 -0.1)">
<g fill-opacity="0.2" stroke-opacity="0.2" stroke-width="0.9" vector-effect="non-scaling-stroke">
<path d="M0 0l1 0 1 0 1 0 1 0 1 0 1 0 1 0 1 0 1 0 1 0 1 0 1 0 1 0 1 2 1 3 1 5 1 7 1 4 1 3 1 11 1 8 1 14 1-2 1 6 1 17 1 21 1 24 1-15 1 37 1 4 1 29 1-5 1-19 1-5 1-12 1-6 1-16 1 14 1 11 1-8 1 26 1-4 1-15 1-23 1 11 1-5 1-35 1-8 1 13 1 3 1 4 1-8 1 2 1-3 1 1 1-1 1 14 1-14 1 10 1 15 1-38 1 0 1 16 1-14 1 2 1 26 1 25 1-20 1-16 1 10 1-6 1 2 1-21 1-19 1-20 1-2 1 3 1-10 1-5 1-9 1-6 1-4 1 0 1-3 1 0 1 0 1 0 1-1 1 0 1-2 1 1 1-1 1-1 1 1 1 0 1 0 1 0 1 0 1-1 1 0 1 1 1-1 1 1 1-1 1 1 1 0 1 0 1-2 1 1 1 1 1 0 1 0 1-1 1 1 1 0 1 0 1 0 1-1 1-1 1 1 1 1 1 0 1 0 1 0 1 0 1 0 1 0 1 1 1 0 1-2 1 0 1 1 1 0 1 0 1-1 1 2 1 0 1 0 1 0 1-1 1 0 1-1 1 0 1 1 1 0 1 0 1 0 1 0 1 0 1 0 1-2 1 1 1 1 1-1 1-1 1 0 1 1 1 0 1-1 1 1 1 1 1-1 1 0 1 0 1 0 1 0 1 0 1 0 1 0 1-1 1 0 1 0 1 1 1 0 1 1 1 0 1-2 1 0 1 1 1 0 1 0 1 0 1 0 1 0 1-1 1 1 1-1 1 0 1 1 1 0 1-1 1 0 1 0 1 0 1 0 1 1 1 0 1-1 1 0 1 0 1 1 1 0 1-1 1 0 1 0 1 0 1 0 1 0 1 1 1 0 1 0 1-1 1 0 1 0 1 0 1 0 1 0 1 0 1 0 1 0 1 0 1 0 1 0 1 0 1 0 1 0 1 0 1 0 1 0 1 0 1 0 1 0 1 0 1 0 1 0 1 0 1 0 1 0 1-1 1 0 1 0 1 1 1 0 1 0 1-1 1 0 1 1 1 0 1 0 1 0 1 0 1 0 1 0 1 0 1 0 1 0 1 0 1 0 1-1 1 1 1-1 1 1 1-1 1 1 1 0 1-1 1 0 1 0 1 1 1 0 1 0 1 0 1 0 1 0 1-1 1 0 1 0 1 0 1 0 1 0 1 0 1 1 1-1 1 0 1 0 1 0 1 0 1 0 1 0 1 0 1 0 1 0 1 0 1 0 1 0 1 0 1 0 1 0 1 0 0 0-1 0-1 0-1 0-1 0-1 0-1 0-1 0-1 0-1 0-1 0-1 0-1 0-1 0-1 0-1 0-1 0-1 0-1 0-1 0-1 0-1 0-1 0-1 0-1 0-1 0-1 0-1 0-1 0-1 0-1 0-1 0-1 0-1 0-1 0-1 0-1 0-1 0-1 0-1 0-1 0-1 0-1 0-1 0-1 0-1 0-1 0-1 0-1 0-1 0-1 0-1 0-1 0-1 0-1 0-1 0-1 0-1 0-1 0-1 0-1 0-1 0-1 0-1 0-1 0-1 0-1 0-1 0-1 0-1 0-1 0-1 0-1 0-1 0-1 0-1 0-1 0-1 0-1 0-1 0-1 0-1 0-1 0-1 0-1 0-1 0-1 0-1 0-1 0-1 0-1 0-1 0-1 0-1 0-1 0-1 0-1 0-1 0-1 0-1 0-1 0-1 0-1 0-1 0-1 0-1 0-1 0-1 0-1 0-1 0-1 0-1 0-1 0-1 0-1 0-1 0-1 0-1 0-1 0-1 0-1 0-1 0-1 0-1 0-1 0-1 0-1 0-1 0-1 0-1 0-1 0-1 0-1 0-1 0-1 0-1 0-1 0-1 0-1 0-1 0-1 0-1 0-1 0-1 0-1 0-1 0-1 0-1 0-1 0-1 0-1 0-1 0-1 0-1 0-1 0-1 0-1 0-1 0-1 0-1 0-1 0-1 0-1 0-1 0-1 0-1 0-1 0-1 0-1 0-1 0-1 0-1 0-1 0-1 0-1 0-1 0-1 0-1 0-1 0-1 0-1 0-1 0-1 0-1 0-1 0-1 0-1 0-1 0-1 0-1 0-1 0-1 0-1 0-1 0-1 0-1 0-1 0-1 0-1 0-1 0-1 0-1 0-1 0-1 0-1 0-1 0-1 0-1 0-1 0-1 0-1 0-1 1-1 0-1 0-1 1-1 1-1 2-1 0-1-3-1-2-1 2-1-1-1-1-1 7-1 4-1 9-1 17-1-6-1 2-1-9-1-6-1-12-1 9-1-3-1-11-1-1-1 0-1 6-1 4-1 0-1 0-1-10-1 4-1-1-1 7-1 16-1-4-1 6-1-5-1 0-1-13-1 12-1-1-1 0-1 0-1 29-1 9-1 12-1-6-1-20-1-4-1-21-1-17-1 3-1 30-1 14-1 14-1-18-1-9-1-17-1-19-1 24-1-3-1-3-1 0-1 2-1-12-1-3-1 3-1-3-1-4-1 1-1 2-1 0-1 0-1-3-1-2-1 0-1 0-1 0-1 0-1 0-1 0-1 0-1 0-1 0-1 0-1 0-1 0-1 0z" fill="#348ABD" stroke="#348ABD"/>
<path d="M0 0l1 0 1 0 1 0 1 0 1 0 1 0 1 0 1 0 1 0 1 0 1 15 1 17 1 16 1 17 1 16 1 12 1 21 1 20 1 7 1 23 1 13 1 3 1 27 1 15 1 27 1 7 1 21 1-10 1 23 1 19 1 40 1 20 1-9 1 32 1 1 1 6 1 12 1 20 1-9 1 4 1 24 1 17 1 15 1-4 1 31 1 6 1-4 1 20 1 40 1 14 1-4 1-11 1-16 1 3 1 12 1 1 1 40 1 12 1-18 1 5 1 12 1 16 1-19 1 4 1 9 1 20 1-3 1-3 1 22 1-18 1 32 1-13 1 6 1 0 1 21 1-22 1 11 1 4 1 17 1 14 1 24 1 21 1-19 1 29 1 6 1-32 1-10 1-4 1 15 1 1 1 7 1-10 1 24 1 20 1-24 1 2 1 3 1-1 1-9 1 31 1-8 1 6 1 18 1 2 1 22 1-35 1 1 1 9 1 21 1 14 1-12 1 26 1-1 1 0 1-19 1-9 1 25 1-15 1 28 1-14 1-1 1-10 1-12 1 12 1-11 1 7 1-14 1 36 1 16 1-7 1-7 1-7 1 13 1 0 1 0 1-2 1 17 1 1 1-2 1-27 1 27 1-27 1-4 1 26 1-35 1 4 1 2 1 34 1 12 1-14 1-12 1 8 1-20 1 5 1 24 1-10 1 17 1 6 1-30 1 4 1 0 1 8 1 36 1-4 1 33 1 3 1 4 1-28 1-27 1-8 1-12 1-19 1 8 1 21 1 1 1 7 1 5 1 18 1-4 1-15 1 1 1-6 1-16 1 28 1-28 1 10 1-23 1 40 1 28 1-34 1 12 1-8 1 30 1 11 1-17 1 12 1-35 1-2 1 10 1 15 1-9 1 5 1 14 1 9 1-38 1 14 1 19 1-20 1 4 1 17 1-4 1-5 1-13 1 3 1 20 1-22 1 18 1 2 1-20 1-17 1 2 1 6 1 32 1-35 1-27 1 20 1 56 1-16 1 26 1-47 1 19 1 19 1 9 1-23 1-16 1 48 1-8 1-5 1-2 1-8 1 7 1 4 1 9 1-18 1 10 1 26 1-3 1-6 1-15 1-1 1 57 1-31 1-8 1-12 1 10 1 22 1-5 1-33 1 17 1-19 1 57 1-25 1-31 1 5 1-2 1 9 1 11 1 27 1-9 1 5 1 18 1-13 1-30 1 28 1 0 1-1 1-10 1 3 1-3 1-14 1 2 1 26 1-12 1-7 1 16 1-19 1-9 1 9 1-38 1 34 1 29 1-5 1-24 1 40 1-2 1 2 1-28 1-24 1 11 0-537-1-12-1 4-1 24-1 16-1 10-1-40-1-6-1 19-1 6-1-39-1 30-1-37-1 19-1 35-1-16-1 23-1-15-1-12-1-9-1-22-1-24-1 17-1 29-1 16-1 9-1-27-1 39-1-64-1-21-1 1-1 4-1 20-1-19-1-13-1 9-1 17-1 10-1 17-1 2-1-28-1-1-1 3-1-5-1-2-1 14-1 14-1-13-1 14-1-29-1-26-1 14-1-23-1 23-1-20-1-10-1 3-1 29-1-8-1 36-1-9-1 13-1-7-1 27-1-45-1 11-1-4-1 46-1-49-1-17-1 30-1-17-1-60-1 15-1-12-1-6-1 9-1 8-1-1-1 6-1 4-1 27-1-7-1-21-1-10-1-12-1 13-1 29-1-4-1-12-1-17-1 5-1 34-1 11-1-6-1-20-1 7-1-8-1-21-1-9-1 22-1-36-1 22-1 26-1-10-1-10-1 5-1 12-1-7-1-52-1 21-1 7-1-7-1 5-1 1-1-6-1-12-1 24-1-5-1-24-1-3-1 22-1-25-1 25-1 2-1 24-1-59-1 2-1 41-1 3-1 9-1-32-1 35-1-32-1 5-1 14-1 3-1-52-1-3-1 33-1-3-1 0-1 14-1-20-1-11-1-13-1-5-1 28-1-15-1 1-1-11-1 25-1 27-1 3-1 9-1 6-1-31-1 11-1-6-1-41-1 6-1-3-1 7-1-8-1 34-1-4-1 10-1-2-1-6-1-6-1 2-1 7-1-39-1 8-1 36-1-5-1-35-1 24-1 8-1-36-1 53-1-45-1 27-1-39-1 3-1 13-1 14-1-3-1 14-1 16-1-16-1-31-1-29-1 31-1 20-1-24-1 9-1-22-1 2-1-5-1-18-1 7-1 2-1 7-1 5-1-1-1-7-1 9-1 17-1-24-1-22-1 9-1-1-1 5-1-2-1 16-1 14-1-9-1-18-1-4-1-37-1-27-1 23-1 7-1 5-1 5-1-20-1 16-1-7-1-31-1 22-1-13-1 8-1 18-1-13-1-2-1-23-1 7-1 17-1-31-1-6-1 24-1-3-1-28-1-2-1 5-1-13-1 2-1 11-1-2-1-8-1-11-1-22-1 18-1-3-1-11-1-13-1 1-1-11-1-11-1 4-1-3-1-9-1 0-1 15-1-6-1-32-1 25-1-7-1-31-1 0-1-16-1 15-1-13-1 5-1-18-1-6-1-4-1 1-1-1-1-15-1 8-1-9-1-7-1 3-1-8-1-4-1-6-1-5-1-3-1 0-1 0-1 0-1 0-1 0-1 0-1 0-1 0-1 0-1 0z" fill="#7A68A6" stroke="#7A68A6"/>
<path d="M0 0l1 0 1 0 1 0 1 0 1 0 1 0 1 0 1 0 1 0 1 0 1 23 1 25 1 23 1 24 1 15 1 33 1 36 1 2 1 39 1 15 1 21 1 10 1 22 1 10 1 32 1 34 1 11 1 5 1 27 1 20 1 17 1 4 1 22 1 43 1 49 1 16 1 4 1 6 1 27 1 18 1 34 1 20 1 22 1 16 1-16 1 0 1 15 1 10 1 23 1 18 1 10 1-11 1 11 1-15 1 26 1 9 1 16 1-2 1 21 1 34 1-7 1 13 1-22 1 4 1 7 1-17 1 28 1 21 1-6 1-4 1-10 1 32 1-10 1 10 1 22 1 8 1-4 1-6 1 17 1 0 1 14 1-5 1-5 1-4 1 17 1-14 1-7 1-1 1-10 1 4 1 2 1 5 1-18 1 12 1-1 1 39 1-10 1 8 1 27 1 9 1 6 1 9 1 3 1-10 1-32 1 9 1 36 1 6 1-25 1 9 1 11 1-24 1 31 1 38 1 12 1-12 1-15 1 13 1 33 1-16 1-41 1 20 1 10 1 35 1-18 1 9 1-26 1-3 1 17 1 15 1-14 1 2 1-3 1 15 1-10 1-19 1 15 1 2 1 2 1 1 1-4 1 39 1-5 1 3 1 33 1-21 1-14 1-16 1 16 1-26 1 22 1 15 1-44 1 22 1-17 1 31 1 2 1-6 1 18 1-35 1 26 1-30 1 27 1-4 1 25 1-22 1 6 1 31 1-21 1-12 1-28 1 23 1-16 1 23 1-13 1-8 1 41 1-5 1-4 1 0 1 8 1-16 1 12 1 0 1 12 1-17 1-30 1 25 1 15 1 6 1-1 1 15 1-3 1-43 1-4 1 12 1 12 1 24 1-17 1-15 1 4 1 0 1 4 1 21 1-25 1 21 1-6 1-21 1 1 1 12 1 27 1-19 1-13 1-2 1 41 1 24 1 1 1-18 1-19 1-33 1 13 1-9 1-9 1-1 1 3 1 15 1 14 1-27 1-5 1-3 1 15 1-16 1 28 1 9 1 8 1-24 1-19 1 5 1 32 1 17 1-32 1-21 1-13 1-28 1 43 1 34 1 8 1 12 1-4 1-21 1 17 1 26 1-20 1-20 1-4 1 26 1-4 1-34 1 25 1-22 1 3 1-2 1 3 1 26 1-56 1 41 1 8 1-25 1 4 1 14 1-28 1 3 1 10 1 26 1 24 1-3 1 25 1-6 1-10 1 10 1-18 1-20 1-8 1 13 1 8 1 8 1 36 1-16 1-8 1-14 1-34 1-8 1 6 1 19 1 12 1-29 1 23 1-11 1-52 0-382-1 16-1 19-1-11-1-1-1 15-1 9-1 2-1 0-1 17-1 17-1 12-1-15-1-36-1 15-1-16-1-27-1 39-1 8-1 12-1-19-1 19-1-19-1 15-1 20-1-17-1-49-1-37-1 19-1 12-1-29-1-27-1 23-1 15-1-9-1 46-1-22-1-7-1-6-1 4-1 5-1 20-1 21-1-12-1 18-1-19-1-10-1 13-1 25-1-27-1-4-1 5-1-30-1-10-1-15-1-17-1 7-1-10-1 28-1 21-1 9-1-3-1-5-1-3-1 9-1-26-1-3-1-1-1-11-1 8-1 6-1-15-1 15-1-16-1-6-1-31-1 41-1 32-1 32-1-10-1-4-1-2-1 1-1-11-1 19-1-11-1-10-1-19-1 16-1-3-1-27-1-13-1 4-1 16-1-23-1 11-1 20-1 28-1-47-1-30-1 49-1 16-1-32-1-14-1 18-1-7-1-23-1 7-1-1-1 25-1-6-1 0-1-11-1-9-1 8-1 19-1-13-1-13-1-1-1 8-1-17-1-43-1 35-1 46-1-7-1-12-1-19-1 24-1 3-1-15-1 18-1 25-1-38-1 14-1-10-1-10-1-21-1-13-1 38-1 11-1-9-1-40-1 28-1 6-1 26-1-35-1 12-1-9-1-26-1-7-1 18-1-5-1 29-1-11-1-2-1-31-1-22-1-9-1-9-1 8-1 15-1 31-1 22-1-1-1 10-1-7-1-52-1 20-1 5-1-27-1 9-1-8-1 8-1-5-1 12-1 16-1-41-1 21-1 10-1-19-1 12-1-11-1 19-1-11-1 0-1-23-1-22-1 20-1 21-1-37-1 1-1 6-1 2-1-23-1 12-1 11-1 21-1-10-1 8-1-24-1-2-1-29-1 3-1 9-1-14-1 5-1-33-1-8-1 8-1 2-1 8-1-9-1 8-1 7-1 23-1-7-1-17-1-5-1 24-1-9-1 6-1-7-1 0-1 13-1-30-1-5-1-5-1 12-1-11-1 11-1-2-1 8-1-41-1-11-1 9-1 16-1 6-1-15-1 1-1-2-1-21-1 3-1-6-1 1-1-7-1-21-1-11-1 6-1 3-1 2-1-20-1-15-1-24-1-19-1-7-1 16-1-23-1 1-1-11-1-36-1-20-1-35-1-16-1-5-1-10-1-34-1-31-1-14-1-10-1 2-1-11-1-10-1-20-1-22-1-9-1-20-1 2-1-15-1-9-1 2-1 3-1-17-1-12-1-6-1-14-1-3-1-9-1-11-1-7-1-8-1 0-1 0-1 0-1 0-1 0-1 0-1 0-1 0-1 0-1 0z" fill="#467821" stroke="#467821"/>
<path d="M0 0l1 1 1 2 1 2 1-2 1 2 1 2 1 1 1-2 1 11 1 28 1 29 1 21 1 16 1 15 1 10 1 30 1 22 1 18 1-3 1 8 1 15 1 6 1-2 1 10 1 19 1 14 1 9 1 15 1 23 1-14 1 10 1 25 1 28 1 15 1-14 1 7 1 36 1 24 1 0 1 4 1 14 1 4 1 28 1 17 1 3 1 25 1-18 1-13 1 40 1 18 1 6 1 16 1 7 1-38 1 23 1 8 1-3 1 2 1 28 1 4 1 6 1 13 1 18 1 9 1-12 1 4 1 1 1 5 1 13 1 5 1 27 1-8 1-2 1 23 1 0 1 25 1 6 1 9 1 1 1-13 1 23 1 0 1 9 1 5 1 1 1 12 1 28 1 23 1-2 1 9 1-10 1 29 1-11 1 10 1 10 1-3 1 1 1 4 1 5 1-7 1-11 1 29 1 1 1-10 1 24 1-5 1 0 1 36 1-12 1-32 1 20 1 18 1-2 1 7 1 22 1-7 1 6 1-32 1 43 1-25 1 4 1 23 1 14 1-10 1 0 1 27 1 14 1 5 1 14 1-4 1 2 1-20 1 0 1 11 1 13 1 14 1 25 1-12 1 15 1 16 1-17 1 11 1 14 1-32 1-13 1 30 1 44 1-3 1-18 1 5 1-4 1 9 1 23 1-14 1-8 1 26 1 9 1-15 1-22 1 16 1-15 1-10 1 10 1-3 1 19 1 20 1 48 1-14 1-17 1-10 1-34 1 36 1 2 1-4 1-11 1 7 1 8 1 14 1 4 1-29 1 9 1-2 1-2 1 9 1 12 1 7 1 0 1 11 1-20 1 10 1 6 1-14 1-22 1 19 1-3 1-3 1 10 1 3 1 23 1-36 1 4 1 8 1-22 1-4 1 5 1 0 1 26 1-11 1 15 1-21 1 28 1-10 1 1 1 26 1 26 1-20 1 2 1-14 1 9 1 5 1 9 1-16 1-3 1-2 1-12 1 32 1 11 1-7 1 20 1-15 1-9 1 15 1 15 1-5 1 12 1-18 1 34 1-3 1 27 1-4 1-20 1-24 1-8 1-5 1 19 1 9 1 10 1 22 1-14 1-11 1 11 1 35 1-15 1 21 1 1 1-31 1-22 1-2 1 18 1-30 1-4 1 32 1 13 1-1 1-14 1 5 1 9 1-11 1 11 1 18 1-3 1-3 1 24 1-24 1 15 1-6 1 9 1 18 1-11 1-9 1-2 1 30 1 13 1 6 1-5 1 8 1-5 1-4 1-2 1-8 1 11 1 10 1 5 1 3 1 12 1-50 1 33 1 4 1-8 0-366-1-16-1 28-1-17-1 22-1 5-1-6-1-17-1 1-1-22-1 4-1-7-1 19-1 15-1-16-1 5-1 6-1 0-1-30-1-7-1 10-1-10-1-15-1-3-1 21-1-4-1 12-1-9-1 9-1-14-1-14-1 4-1 4-1 19-1-19-1 13-1 18-1 2-1-38-1 6-1 16-1-35-1 10-1-11-1 12-1 8-1-12-1 0-1-8-1 2-1 12-1-4-1-16-1-9-1 18-1-33-1-18-1 28-1 15-1-7-1 19-1 5-1 7-1-33-1 21-1-20-1 18-1-22-1-19-1 26-1 1-1-21-1-2-1-6-1-20-1 17-1-7-1 5-1 17-1-28-1-8-1 22-1 3-1-15-1 9-1-24-1-16-1 36-1-4-1-32-1 16-1-13-1 7-1 0-1 8-1 1-1-12-1 18-1-4-1 11-1 11-1-30-1 7-1-4-1 12-1-5-1-18-1 8-1 17-1 1-1-17-1 9-1-1-1 6-1-15-1-11-1-17-1-5-1 9-1 0-1 17-1 0-1-10-1 14-1-20-1-1-1-8-1 17-1-30-1 20-1-15-1-2-1 20-1-24-1-17-1-17-1 3-1-25-1-5-1 28-1-13-1 31-1 9-1-19-1-13-1 10-1-11-1-8-1-9-1 2-1-21-1 26-1-4-1-20-1-32-1 11-1 5-1-14-1-3-1 17-1-4-1 3-1 12-1-18-1-30-1-6-1 1-1-1-1 0-1 16-1 4-1-23-1-1-1-8-1-29-1-2-1 4-1 10-1-22-1-7-1 17-1-42-1 27-1-19-1 14-1-13-1-26-1 13-1-22-1-40-1 28-1 10-1-22-1 9-1 1-1 1-1-9-1 3-1-30-1 18-1-19-1-12-1-11-1 7-1 6-1-20-1 0-1-6-1-22-1-14-1 8-1 2-1-23-1-19-1-15-1-5-1 8-1 1-1 4-1-28-1-8-1 9-1 12-1-31-1-27-1-13-1-22-1 20-1 22-1-27-1-13-1-4-1 4-1 4-1-32-1-12-1-1-1 0-1-11-1 3-1 0-1 0-1-4-1 1-1 28-1-22-1 18-1-6-1-10-1 4-1-10-1-36-1 16-1 6-1-30-1 5-1 11-1-9-1-31-1-14-1-11-1-6-1-20-1-22-1 3-1 9-1-15-1-20-1-1-1-6-1 22-1-18-1-8-1-4-1-23-1-12-1-7-1 8-1-6-1-6-1-4-1 13-1-5-1-7-1-21-1 4-1 1-1-3-1-9-1-14-1-24-1 0-1 0-1 0-1 0-1 0-1 0-1 0-1 0-1 0z" fill="#A60628" stroke="#A60628"/>
</g><g fill="none" stroke-linejoin="round" stroke-linecap="square">
<path d="M0 0l1 0 1 0 1 0 1 0 1 0 1 0 1 0 1 0 1 0 1 0 1 0 1 0 1 0 1 2 1 3 1 2 1 3 1 0 1 2 1 4 1 6 1 5 1 6 1 3 1-1 1 3 1 10 1 5 1-4 1 15 1 6 1 7 1 14 1-13 1-11 1-19 1 3 1 13 1 7 1 7 1 13 1 7 1-7 1-11 1-9 1-3 1-11 1-6 1-6 1-2 1 0 1 1 1-3 1-5 1-11 1 5 1-5 1 1 1 7 1 0 1-7 1 4 1-3 1-3 1 10 1 4 1 16 1-10 1 0 1 2 1 7 1-9 1 3 1-8 1-10 1-5 1-5 1-4 1-6 1-3 1-1 1 0 1 0 1-2 1-1 1-1 1 0 1 0 1-1 1 0 1 0 1 0 1 0 1 0 1 0 1 0 1 0 1 0 1 0 1 0 1 0 1 0 1 0 1 0 1 0 1 0 1 0 1 0 1 0 1 0 1 0 1 0 1 0 1 0 1 0 1 0 1 0 1 0 1 0 1 0 1 0 1 0 1 0 1 0 1 0 1 0 1 0 1 0 1 0 1 0 1 0 1 0 1 0 1 0 1 0 1 0 1 0 1 0 1 0 1 0 1 0 1 0 1 0 1 0 1 0 1 0 1 0 1 0 1 0 1 0 1 0 1 0 1 0 1 0 1 0 1 0 1 0 1 0 1 0 1 0 1 0 1 0 1 0 1 0 1 0 1 0 1 0 1 0 1 0 1 0 1 0 1 0 1 0 1 0 1 0 1 0 1 0 1 0 1 0 1 0 1 0 1 0 1 0 1 0 1 0 1 0 1 0 1 0 1 0 1 0 1 0 1 0 1 0 1 0 1 0 1 0 1 0 1 0 1 0 1 0 1 0 1 0 1 0 1 0 1 0 1 0 1 0 1 0 1 0 1 0 1 0 1 0 1 0 1 0 1 0 1 0 1 0 1 0 1 0 1 0 1 0 1 0 1 0 1 0 1 0 1 0 1 0 1 0 1 0 1 0 1 0 1 0 1 0 1 0 1 0 1 0 1 0 1 0 1 0 1 0 1 0 1 0 1 0 1 0 1 0 1 0 1 0 1 0 1 0 1 0 1 0 1 0 1 0 1 0 1 0 1 0 1 0 1 0 1 0 1 0 1 0 1 0 1 0 1 0 1 0 1 0 1 0 1 0 1 0 1 0 1 0 1 0 1 0 1 0 1 0 1 0 1 0 1 0 1 0 1 0 1 0 1 0 1 0 1 0 1 0 1 0 1 0 1 0 1 0 1 0 1 0 1 0 1 0 1 0 1 0 1 0 1 0 1 0 1 0" stroke="#348ABD" stroke-width="1.95"/>
<path d="M0 0l1 0 1 0 1 0 1 0 1 0 1 0 1 0 1 0 1 0 1 0 1 9 1 10 1 11 1 11 1 13 1 2 1 15 1 13 1 0 1 16 1 11 1 3 1 19 1 13 1 18 1 2 1 18 1-13 1 28 1 3 1 30 1 12 1-9 1 23 1 3 1-4 1 5 1 18 1-3 1 6 1 12 1 8 1 13 1 6 1 26 1 2 1-11 1 10 1 26 1 10 1-4 1 3 1-17 1 6 1 2 1 5 1 26 1 14 1-14 1 1 1 11 1 5 1-4 1 17 1 12 1-1 1-9 1 5 1 10 1-16 1 19 1 10 1-3 1 18 1-9 1-1 1 1 1 0 1 20 1 13 1 18 1 4 1-13 1 10 1 12 1-14 1-5 1-6 1 10 1 14 1 9 1-13 1 6 1 1 1-6 1-7 1 12 1-8 1 2 1 19 1 13 1-1 1 9 1-1 1 8 1-11 1-17 1 32 1 5 1 22 1-11 1 1 1-4 1 1 1-20 1 10 1 21 1-15 1 10 1-13 1 12 1-5 1-14 1 27 1-10 1 2 1-8 1 30 1-4 1-3 1-2 1 3 1 6 1-5 1-1 1-22 1 15 1-10 1 0 1 0 1 11 1 7 1-19 1 31 1-21 1 5 1 0 1-18 1 22 1-1 1-10 1 10 1-33 1 14 1 13 1 8 1 13 1 3 1-25 1 11 1-7 1-1 1 18 1 10 1 13 1-9 1 13 1-18 1-1 1-4 1-7 1-19 1-3 1 23 1-2 1 12 1-17 1-7 1 2 1 2 1 0 1 13 1-15 1 20 1-1 1 7 1-12 1 10 1 13 1-11 1 22 1-13 1 5 1-8 1 8 1 13 1-26 1-4 1 15 1-1 1 1 1 10 1 8 1-3 1-12 1 13 1 18 1-18 1-7 1 11 1-12 1-4 1-11 1 0 1 11 1 3 1-3 1 3 1-2 1-8 1 12 1-11 1 6 1-16 1 0 1 7 1 5 1 24 1 17 1-23 1 9 1 21 1-14 1-6 1-10 1 37 1-9 1 0 1-12 1 3 1-4 1 7 1-6 1 2 1 11 1 4 1 0 1 11 1-9 1 4 1 17 1-9 1 5 1 5 1-2 1 3 1-5 1-8 1 2 1 1 1 35 1-10 1-24 1-11 1-7 1-5 1 11 1 11 1-7 1-6 1 10 1 34 1-10 1 25 1-14 1-6 1-6 1-7 1 7 1-12 1-10 1 15 1-15 1-7 1 36 1-9 1-22 1 12 1-8 1 9 1 5 1-10 1-8 1 23 1 22 1-14 1-20 1-11 1 25" stroke="#7A68A6" stroke-width="1.95"/>
<path d="M0 0l1 0 1 0 1 0 1 0 1 0 1 0 1 0 1 0 1 0 1 0 1 15 1 14 1 14 1 16 1 10 1 16 1 13 1 14 1 20 1 13 1 10 1 14 1 17 1 2 1 27 1 14 1 24 1 17 1 19 1 16 1 20 1 14 1 7 1 30 1 36 1 9 1 21 1 17 1 28 1 16 1 25 1 12 1 8 1 17 1-15 1 18 1 31 1 14 1 12 1 9 1 4 1 4 1-3 1 7 1 23 1 8 1-3 1 6 1 15 1 18 1 0 1 11 1 1 1-10 1-4 1-4 1 6 1 32 1 3 1-6 1-12 1 22 1 3 1 3 1 9 1 12 1-11 1-6 1 17 1 3 1-3 1-2 1 3 1 3 1 13 1-11 1-1 1-16 1 3 1-2 1-3 1-15 1 6 1 18 1 0 1 12 1 6 1 11 1 27 1 2 1 18 1 7 1-5 1-4 1-23 1 1 1 15 1 10 1-3 1-14 1 24 1-7 1-8 1 19 1 3 1 8 1 9 1 3 1-1 1-5 1 1 1 13 1 0 1 9 1-3 1 5 1-4 1 2 1 10 1-9 1-1 1 1 1 12 1 12 1-8 1-15 1-3 1-15 1 2 1 5 1-2 1 2 1 8 1 0 1 20 1-7 1-7 1 3 1 11 1-11 1 15 1 3 1-12 1-3 1 5 1 12 1 6 1-8 1 10 1-10 1 8 1-17 1 7 1 7 1 0 1 8 1-5 1 12 1-3 1-12 1-15 1 18 1-10 1 8 1 10 1-15 1-3 1 9 1 16 1-10 1-4 1-7 1 25 1 2 1 6 1-11 1-12 1 8 1 16 1 1 1-18 1 4 1-11 1-13 1 6 1 12 1 9 1 8 1 8 1-14 1-4 1 6 1-14 1 7 1-15 1 18 1-6 1-9 1 16 1-5 1 14 1-13 1 6 1 11 1 12 1 9 1-4 1-11 1 0 1-9 1 20 1-24 1-3 1-17 1 3 1 2 1 12 1-7 1-1 1-5 1 13 1-6 1-5 1-1 1 23 1-20 1-3 1 5 1-3 1 6 1-15 1-13 1 3 1-11 1 16 1 9 1 14 1 24 1 4 1-2 1 14 1 9 1-14 1-17 1 3 1 13 1 5 1-15 1 5 1-15 1-11 1-7 1 1 1 11 1-31 1 21 1-6 1-3 1 0 1 18 1 2 1 0 1 2 1 29 1 16 1-6 1 19 1 1 1-12 1 4 1-11 1-13 1-12 1-1 1 13 1-6 1 20 1 1 1-9 1-2 1-17 1 5 1 10 1 3 1-17 1-6 1-6 1-9 1-35" stroke="#467821" stroke-width="1.95"/>
<path d="M0 0l1 0 1 1 1 1 1-2 1 0 1 1 1 0 1-1 1 9 1 26 1 19 1 12 1 6 1 4 1 1 1 23 1 10 1 7 1-6 1 8 1 13 1 10 1-6 1 4 1 22 1 19 1 9 1 13 1 27 1-16 1 6 1 18 1 25 1 10 1-13 1 4 1 23 1 20 1 2 1 14 1 18 1 16 1 18 1 11 1 0 1 18 1-13 1-16 1 33 1 18 1 10 1 5 1 3 1-17 1 26 1-8 1-2 1 10 1 3 1 14 1-1 1 15 1 6 1 9 1 4 1 9 1-1 1 2 1 11 1 6 1 31 1-15 1-13 1 24 1-7 1 20 1 12 1 3 1 6 1 3 1 22 1-1 1 4 1-8 1 10 1 8 1 26 1 20 1 2 1-6 1 1 1 18 1 18 1-1 1 10 1 2 1-6 1 6 1 8 1 9 1-14 1 21 1 1 1-4 1 21 1-7 1-8 1 22 1-5 1-19 1 25 1 13 1 8 1 16 1 8 1-14 1 9 1-19 1 41 1-23 1 13 1 14 1 4 1-10 1-1 1 17 1 12 1 3 1 17 1 2 1-16 1-2 1 0 1-3 1 4 1 23 1 14 1-7 1 3 1 5 1-13 1 9 1 18 1-19 1-13 1 25 1 30 1-11 1-13 1 14 1 7 1 4 1 7 1-1 1-8 1 18 1 16 1-9 1-23 1 10 1-9 1 14 1 15 1-7 1 17 1 3 1 20 1-1 1-8 1 4 1-24 1 32 1-16 1 9 1 7 1 15 1 3 1 6 1 1 1-20 1 10 1-14 1 12 1 7 1 11 1 10 1-9 1 4 1-11 1 9 1 9 1-7 1-16 1 15 1 4 1-3 1 0 1-5 1 15 1-12 1-7 1 6 1-19 1 4 1 10 1-3 1 12 1-5 1 6 1-20 1 21 1 3 1-16 1 17 1 13 1-9 1 12 1-3 1-12 1 2 1 14 1-11 1-1 1 0 1-5 1 11 1 4 1-1 1 22 1-5 1-15 1 10 1 16 1-8 1 11 1-13 1 23 1-6 1 12 1-14 1-7 1-17 1-15 1 8 1 26 1-10 1 16 1 9 1-2 1-4 1-5 1 16 1-4 1 6 1-3 1-13 1 2 1 3 1 22 1-24 1 0 1 26 1 1 1-2 1-12 1 11 1-7 1-2 1-3 1 12 1 5 1 0 1 10 1-13 1 5 1-11 1 3 1 4 1 0 1-2 1 5 1 33 1-2 1-8 1 6 1 10 1-8 1-16 1 5 1-7 1 24 1-4 1 13 1-2 1 8 1-25 1 35 1-31 1 8" stroke="#A60628" stroke-width="3.5"/>
</g></g>
</g>
<path d="M611.4 381.2v-3.4M645.3 381.2v-3.4M679.1 381.2v-3.4M713 381.2v-3.4M746.8 381.2v-3.4M780.6 381.2v-3.4M814.5 381.2v-3.4M601.3 377.7h3.4M601.3 344.7h3.4M601.3 311.7h3.4M601.3 278.7h3.4M601.3 245.7h3.4" stroke="#000" stroke-width="0.85" fill="none"/>
<rect x="601.3" y="230.35" width="221.8" height="150.9" fill="none" stroke="#bcbcbc" stroke-width="0.96"/>
<g font-size="9.6">
<text x="611.4" y="392.5" text-anchor="middle" transform="rotate(0.05 611.4 392.5)">0.0</text>
<text x="645.3" y="392.5" text-anchor="middle" transform="rotate(0.05 645.3 392.5)">0.5</text>
<text x="679.1" y="392.5" text-anchor="middle" transform="rotate(0.05 679.1 392.5)">1.0</text>
<text x="713" y="392.5" text-anchor="middle" transform="rotate(0.05 713 392.5)">1.5</text>
<text x="746.8" y="392.5" text-anchor="middle" transform="rotate(0.05 746.8 392.5)">2.0</text>
<text x="780.6" y="392.5" text-anchor="middle" transform="rotate(0.05 780.6 392.5)">2.5</text>
<text x="814.5" y="392.5" text-anchor="middle" transform="rotate(0.05 814.5 392.5)">3.0</text>
<text x="598.1" y="381.3" text-anchor="end" transform="rotate(0.05 598.1 381.3)">0</text>
<text x="598.1" y="348.3" text-anchor="end" transform="rotate(0.05 598.1 348.3)">100</text>
<text x="598.1" y="315.3" text-anchor="end" transform="rotate(0.05 598.1 315.3)">200</text>
<text x="598.1" y="282.3" text-anchor="end" transform="rotate(0.05 598.1 282.3)">300</text>
<text x="598.1" y="249.3" text-anchor="end" transform="rotate(0.05 598.1 249.3)">400</text>
</g>
<text x="712.2" y="224.5" font-size="13.8" text-anchor="middle" transform="rotate(0.05 712.2 224.5)">Hopper Hop</text>
<text y="407.6" font-size="11.5" transform="rotate(0.05 712.2 407.6)"><tspan x="671.2">Frames (</tspan><tspan x="722.4" dy="0.9" stroke="none" font-family="'Liberation Serif', 'DejaVu Serif', serif" font-size="15">×</tspan><tspan x="731.1" dy="-0.9" stroke="none" font-family="'Liberation Serif', 'DejaVu Serif', serif" font-size="12.6">10</tspan><tspan x="743.6" dy="-3.8" stroke="none" font-family="'Liberation Serif', 'DejaVu Serif', serif" font-size="8.4">6</tspan><tspan x="748.1" dy="3.8">)</tspan></text>
<text transform="translate(573.5 305.2) rotate(-90)" font-size="11.5" text-anchor="middle">Episode Return</text>
</g>
<g>
<rect x="50.15" y="437.0" width="221.8" height="150.9" fill="#eeeeee"/>
<path d="M60.3 437V587.9M94.1 437V587.9M128 437V587.9M161.8 437V587.9M195.7 437V587.9M229.5 437V587.9M263.3 437V587.9M50.1 586.4H271.9M50.1 551.4H271.9M50.1 516.5H271.9M50.1 481.5H271.9M50.1 446.5H271.9" stroke="#b2b2b2" stroke-width="0.7" stroke-dasharray="1.8 0.8" fill="none"/>
<g clip-path="url(#c6)">
<g transform="translate(60.3 586.4) scale(0.67680 -0.1)">
<g fill-opacity="0.2" stroke-opacity="0.2" stroke-width="0.9" vector-effect="non-scaling-stroke">
<path d="M0 342l1-22 1-8 1-23 1-45 1-21 1-26 1 9 1-54 1-19 1 8 1-15 1-30 1-18 1 23 1-7 1-18 1 6 1-8 1-2 1 5 1 23 1 21 1-25 1-6 1 10 1-19 1 15 1 12 1-4 1 11 1 7 1-3 1-8 1-9 1-9 1-5 1-11 1-7 1-8 1 24 1 4 1 8 1 15 1-19 1-11 1 2 1 18 1 25 1-17 1 10 1 5 1-21 1-22 1-23 1 57 1 6 1-2 1-6 1-15 1 32 1-23 1 20 1 19 1-17 1-8 1-12 1-14 1 3 1 12 1-12 1 9 1-21 1-6 1 28 1-8 1 5 1 0 1 16 1-21 1 8 1-25 1 16 1 22 1 7 1-7 1-1 1 6 1-15 1 45 1-26 1-7 1-5 1 1 1 1 1-14 1-15 1-17 1 5 1 16 1 25 1-26 1 19 1-7 1 14 1-7 1 39 1-19 1 24 1-8 1-19 1 15 1-26 1 2 1-13 1 0 1 4 1-19 1 1 1 13 1 4 1-1 1 18 1-1 1 13 1-25 1-5 1 17 1-14 1 9 1-11 1 1 1 10 1-3 1-16 1 8 1 6 1-16 1-20 1 14 1-2 1 25 1-2 1-2 1 14 1-3 1-8 1-18 1 0 1 12 1 20 1 1 1-8 1 1 1-15 1 15 1-21 1 1 1 13 1 14 1-17 1 21 1-28 1-30 1 16 1 0 1 18 1 6 1 15 1-3 1 11 1-12 1 1 1-19 1 1 1 20 1 3 1-22 1 9 1-5 1 2 1 38 1-7 1 9 1-29 1 5 1-7 1-2 1 33 1-7 1-31 1-4 1 4 1 9 1 18 1-27 1 2 1 23 1-7 1-21 1 35 1-14 1-12 1 17 1 17 1-9 1-8 1-23 1 5 1 4 1-6 1 15 1-21 1 11 1-6 1 5 1-31 1 23 1 16 1-8 1-34 1 27 1 18 1-18 1-29 1 1 1 26 1-15 1-2 1 24 1-13 1 18 1 8 1-15 1-22 1 10 1 15 1 13 1-21 1 9 1 11 1-15 1 9 1-23 1 18 1 9 1 13 1-12 1-9 1-15 1 11 1 15 1 0 1-10 1 12 1-27 1 16 1-8 1-20 1-22 1-1 1 27 1-1 1 26 1 32 1-28 1 3 1-25 1 0 1 23 1 0 1-20 1-15 1-8 1-25 1 17 1 15 1 29 1-8 1 28 1-36 1-1 1 24 1-9 1-25 1-12 1 15 1-4 1 14 1-18 1 20 1 12 1-6 1-18 1 2 1 28 1-3 1-11 1 9 1 22 0-80-1-11-1-16-1 29-1 3-1-27-1-10-1 28-1 6-1-6-1-35-1 17-1-5-1 11-1-27-1 24-1 24-1-3-1-31-1 9-1 35-1-11-1-7-1-26-1-13-1-4-1 4-1 14-1 17-1 14-1-11-1-11-1-3-1 26-1 8-1 23-1-28-1-29-1-4-1-7-1 11-1 13-1 3-1 12-1-11-1 23-1-17-1 11-1 0-1-7-1-20-1 11-1 20-1-1-1 6-1-14-1-26-1 22-1-9-1 6-1-11-1 3-1 14-1-17-1 3-1-13-1 11-1 22-1-10-1-15-1 20-1-31-1-1-1 16-1-12-1-6-1 15-1 24-1-14-1-7-1 13-1-6-1-16-1-7-1 23-1-6-1-16-1 8-1 5-1-3-1 2-1-3-1 11-1 5-1 24-1-3-1-4-1-19-1 15-1 13-1-23-1 11-1 1-1-19-1 3-1 17-1-17-1-16-1 18-1 0-1 3-1 0-1-9-1 10-1-2-1-7-1 15-1-25-1 19-1-21-1-9-1 14-1-8-1 21-1-5-1-24-1 11-1 13-1 16-1-3-1-10-1-4-1-5-1-6-1 1-1-4-1-12-1 8-1 19-1-35-1 14-1 2-1-4-1 2-1 27-1-6-1 15-1-17-1-9-1 18-1-21-1-12-1 2-1 16-1 4-1 20-1 0-1-3-1-9-1-22-1-2-1-10-1 11-1 7-1-2-1-20-1 13-1 8-1 1-1 9-1 17-1-13-1 7-1-23-1 10-1 1-1-7-1 3-1-5-1-14-1 12-1 5-1-11-1 28-1-9-1-13-1 15-1-18-1 34-1-12-1 10-1 4-1-8-1 9-1-35-1 0-1-25-1 13-1 2-1 24-1-30-1-5-1-7-1 2-1 28-1-6-1 3-1 15-1 5-1-4-1 26-1-32-1 13-1-11-1 6-1-10-1 6-1-15-1-9-1 34-1-17-1 18-1-21-1-10-1-6-1 17-1-30-1 3-1 25-1 10-1 5-1-20-1-2-1 21-1 4-1 0-1 13-1-20-1-3-1 20-1-18-1-9-1 7-1-3-1 2-1-43-1 13-1 5-1 11-1 5-1 2-1 14-1 10-1-31-1-5-1-2-1 17-1-16-1-4-1-13-1-3-1-11-1 6-1 27-1-6-1 8-1-2-1 5-1 0-1 4-1-5-1 6-1-18-1 8-1 0-1 15-1-5-1 14-1-20-1-22-1 16-1-8-1-4-1-13-1 27-1-5-1-9-1 5-1 4-1 14-1 2-1 9-1 68-1-12-1-5-1 40-1 13-1 29-1-7-1-1z" fill="#348ABD" stroke="#348ABD"/>
<path d="M0 368l1-32 1-25 1-61 1-21 1 8 1-17 1-8 1 55 1 3 1 43 1 31 1-45 1 47 1 57 1-81 1-34 1 8 1 43 1 16 1 15 1-82 1 27 1-17 1 33 1 8 1 27 1-8 1 18 1 44 1-52 1-30 1 55 1 4 1-33 1 41 1-29 1-5 1 55 1-62 1 3 1 2 1-20 1 34 1-37 1-18 1 41 1 32 1 58 1-34 1-4 1-45 1-35 1 83 1 21 1-55 1-81 1 1 1 10 1 24 1 52 1 12 1 40 1-54 1-53 1 47 1-24 1 34 1-13 1 25 1-76 1-13 1 50 1-10 1 10 1-15 1 73 1-66 1 106 1-3 1-14 1-72 1-38 1 17 1 21 1 9 1-49 1 17 1-25 1-16 1 1 1 75 1-22 1-4 1-70 1 104 1 3 1-18 1 18 1-29 1 17 1 22 1-1 1 32 1-21 1-92 1 2 1-120 1 56 1 128 1 12 1 41 1-77 1-55 1 7 1-7 1-78 1 73 1 31 1 21 1 74 1 14 1-52 1-16 1-5 1 69 1 19 1-27 1-7 1-17 1-27 1 62 1-54 1 142 1-5 1-4 1 5 1-48 1-44 1-27 1-23 1 62 1 12 1-82 1 44 1 60 1-8 1-24 1 59 1-33 1-39 1-33 1 1 1 73 1-106 1 21 1 21 1-50 1 60 1-41 1 99 1 3 1-34 1-66 1-8 1 5 1 25 1-7 1 20 1-16 1 35 1-3 1 3 1 4 1 2 1-6 1-20 1 49 1 44 1-82 1-54 1 118 1-29 1 31 1-48 1 30 1 59 1-1 1-82 1-34 1 17 1 12 1-33 1-61 1 80 1-5 1-22 1-11 1-21 1-4 1 16 1 72 1-151 1 58 1 50 1 1 1 39 1 31 1-19 1 64 1-25 1-34 1 40 1-67 1 28 1-4 1 9 1 75 1-11 1 15 1-7 1-130 1-2 1 5 1-27 1-50 1 64 1-15 1 83 1-47 1 5 1 96 1-56 1-33 1-26 1-64 1-48 1 47 1-22 1 86 1 23 1-46 1 106 1-21 1 98 1-80 1-43 1 4 1 3 1-40 1-17 1 0 1 69 1-77 1 86 1 32 1-41 1 31 1-111 1 3 1 40 1 70 1 35 1-124 1 31 1 44 1 85 1-1 1-41 1 27 1-122 1-24 1 67 1 9 1 32 1-57 1 8 1 61 1 22 1-22 1-40 1-6 1-8 1-25 1-29 1-17 1 44 1-15 1 7 1-60 1 38 1 23 1 4 1 43 1-28 1 16 1 2 1-113 1 37 1-34 0-184-1 30-1-64-1-12-1 55-1 89-1 52-1-80-1 54-1-24-1-117-1 7-1-25-1 12-1-6-1 31-1 7-1-36-1 24-1 30-1 60-1-42-1 35-1-3-1-43-1 37-1 23-1-15-1-53-1 25-1 107-1-72-1 21-1 48-1-37-1-65-1 33-1 97-1-40-1-47-1-33-1-4-1 67-1-81-1 27-1-8-1 0-1 39-1-12-1 1-1-33-1 18-1-36-1 10-1 39-1 89-1-16-1-12-1-79-1-45-1-20-1-47-1 39-1-16-1 6-1-12-1 23-1 48-1 3-1-51-1 12-1 38-1-50-1 37-1-31-1 3-1 86-1-5-1-66-1 67-1 58-1-54-1 54-1-56-1-16-1-33-1-12-1 14-1-87-1 98-1 29-1 16-1-29-1-25-1-2-1 10-1-11-1-105-1 96-1-10-1-44-1-18-1 101-1-20-1 2-1 40-1-39-1 1-1 42-1-25-1-15-1 24-1 37-1 5-1-67-1-34-1-4-1 61-1 20-1-27-1 12-1 30-1-52-1-41-1 36-1 15-1 30-1 7-1-45-1-11-1-24-1 46-1-14-1 7-1 19-1-47-1 15-1 49-1 2-1 16-1-110-1 16-1-35-1 51-1 1-1-24-1 28-1-19-1 13-1 12-1 19-1 62-1-68-1 26-1-9-1-68-1-37-1 25-1 33-1 25-1-1-1-14-1 52-1 36-1-11-1-31-1 44-1-91-1-33-1-16-1 46-1 59-1-6-1 5-1-6-1-68-1-12-1 33-1 19-1-1-1-39-1-6-1-24-1-34-1 11-1 37-1-30-1 32-1-43-1-18-1 69-1-71-1-41-1 33-1-9-1 81-1-13-1-38-1 7-1 3-1 12-1-2-1 8-1-4-1 19-1 16-1-20-1 5-1 17-1 7-1-26-1-11-1-1-1-17-1 82-1-84-1 34-1-34-1 7-1 58-1 9-1-10-1-40-1 27-1-57-1 2-1-18-1 72-1-59-1 27-1 67-1-12-1-2-1-4-1 22-1-20-1 33-1-33-1-7-1-23-1-8-1-59-1-35-1 21-1 64-1 67-1-15-1-36-1-14-1 31-1-31-1 75-1-19-1-66-1-15-1 32-1 41-1-47-1 48-1-76-1 32-1 59-1-39-1-25-1 30-1-86-1 59-1 21-1-54-1 0-1 38-1 29-1-21-1 4-1-93-1 23-1-19-1 25-1-1-1 58-1-46-1 30-1-70-1-16-1 73-1 3-1-42-1-20-1 69-1-21-1-77-1-14-1 6-1-1-1 25-1-35-1-4-1 70-1 34-1 48z" fill="#7A68A6" stroke="#7A68A6"/>
<path d="M0 352l1-5 1-32 1-5 1 17 1 33 1-26 1-50 1-15 1-60 1 65 1 22 1 36 1-2 1 32 1-2 1-51 1-5 1 2 1 85 1-14 1-24 1 29 1-2 1 50 1-32 1 55 1-33 1-24 1 0 1-11 1-31 1 42 1-6 1-11 1-45 1 25 1-5 1-31 1 77 1-10 1 15 1 60 1-46 1-5 1 4 1-12 1-58 1 59 1-22 1 4 1 44 1 34 1 106 1-84 1-78 1 9 1-6 1-2 1-34 1-79 1 44 1-17 1 26 1 66 1-3 1 0 1 31 1-7 1-45 1-3 1-1 1-19 1 11 1-20 1 50 1-2 1-35 1-33 1-40 1-5 1-7 1 42 1 2 1 45 1-30 1 13 1 61 1-26 1 28 1-34 1 3 1-11 1-18 1 57 1-26 1 1 1-47 1 30 1 28 1 5 1-15 1-47 1-32 1 21 1-29 1 92 1-4 1-15 1 30 1 16 1-35 1 21 1-36 1-45 1-43 1 53 1-44 1 36 1-12 1-66 1 33 1-13 1 41 1 36 1-20 1 48 1 17 1-88 1-39 1 41 1 28 1 16 1-22 1-23 1 32 1-35 1-30 1-16 1 29 1 94 1-59 1-7 1-2 1-27 1 26 1-15 1-65 1 59 1 17 1-3 1-16 1 41 1 7 1-16 1 44 1-15 1 6 1-53 1 23 1-54 1 71 1-9 1-32 1-10 1 9 1 30 1-7 1-8 1 31 1-18 1-57 1 69 1 10 1-30 1-20 1 3 1-7 1 36 1-53 1-3 1-2 1-5 1 40 1-17 1 29 1-3 1 8 1 11 1 52 1 31 1-90 1-11 1 45 1-85 1 10 1-45 1 62 1-14 1-35 1 18 1 35 1 44 1 31 1 50 1-77 1-6 1-30 1 14 1-7 1 4 1-17 1-6 1-10 1 34 1-99 1 72 1 20 1-28 1-29 1 3 1-44 1 69 1-2 1 26 1-52 1 14 1 57 1 19 1-100 1-46 1 54 1-40 1 42 1 17 1-40 1-15 1 29 1-26 1 0 1 62 1-19 1-9 1-7 1-48 1 56 1 14 1 92 1-20 1-79 1-39 1 34 1 19 1 7 1-9 1-36 1-22 1 23 1 56 1 3 1 9 1 1 1-21 1 12 1 10 1 4 1-55 1 24 1 5 1 16 1-10 1-43 1 9 1-15 1 34 1-26 1-12 1 41 1-21 1-34 1 44 1-24 1 31 1 18 1-22 1-15 1 44 1-19 1 11 1-14 1-42 1-57 1 12 1 49 1-2 1 0 1-19 1 0 1 52 1 21 0-157-1-23-1-1-1-53-1 17-1 8-1 15-1-44-1-13-1 25-1 20-1 8-1 21-1 41-1-31-1 47-1-10-1-17-1-3-1 3-1-44-1 35-1 21-1-63-1 0-1 25-1 2-1-8-1-1-1 67-1-73-1 5-1 49-1-19-1-29-1-27-1-14-1 33-1 6-1 26-1-33-1-13-1-27-1 18-1 34-1 47-1-9-1-41-1-29-1-4-1 30-1 83-1-8-1-53-1-20-1-37-1 46-1 9-1 27-1-15-1-40-1-36-1 45-1-17-1 24-1-7-1-47-1 30-1 40-1-21-1 35-1 68-1-93-1-38-1-10-1 82-1 1-1-44-1-33-1 54-1-63-1 21-1 33-1 10-1-10-1 28-1-42-1-13-1 10-1 3-1 39-1 27-1 17-1 18-1 25-1 19-1-14-1-50-1-44-1-45-1-39-1 70-1 41-1-60-1 13-1-11-1 51-1-9-1-12-1 46-1 14-1-69-1 24-1-56-1 71-1-32-1-60-1 0-1 73-1-15-1-5-1 0-1 4-1 16-1-23-1 40-1-41-1-17-1-15-1 74-1 20-1 2-1-24-1-28-1-34-1-4-1 19-1 26-1-17-1-27-1 34-1-36-1-5-1-7-1 43-1 20-1 22-1 0-1-3-1-96-1 50-1-32-1 21-1-26-1 26-1 5-1-1-1 5-1 37-1-10-1-20-1 13-1-32-1 5-1 23-1 9-1-10-1 29-1-10-1 1-1-81-1 40-1 30-1 77-1-73-1 2-1-20-1-59-1 25-1 36-1 29-1-11-1-38-1 47-1-7-1 7-1 2-1 27-1-6-1 19-1-11-1 35-1-5-1 24-1-75-1 17-1-40-1 15-1 28-1 45-1-7-1-32-1-32-1 25-1-7-1 6-1-21-1 48-1 32-1-49-1 51-1-29-1-35-1 21-1-16-1-57-1-36-1-11-1-7-1 24-1 21-1 19-1 19-1 2-1-28-1-42-1 97-1-30-1 12-1 26-1-9-1 7-1-16-1-46-1 23-1 41-1-47-1 24-1 53-1-20-1 13-1 9-1 0-1 4-1-7-1 31-1 7-1-12-1 34-1-59-1 20-1-13-1-67-1 46-1-34-1 26-1-4-1-10-1 16-1 2-1 18-1-75-1 40-1 22-1-25-1 44-1-2-1 20-1-29-1 22-1-60-1-17-1 14-1 22-1 15-1-3-1-51-1-5-1-28-1-18-1 12-1-44-1-27-1-34-1 65-1 78-1-59-1-48-1 33-1 17-1-57-1 43-1 23-1 8-1 37-1-54-1 28-1-7-1 58-1-16z" fill="#467821" stroke="#467821"/>
<path d="M0 331l1-9 1 11 1-10 1 2 1-15 1 15 1 24 1-19 1-6 1 30 1 39 1 21 1-25 1 33 1 43 1 8 1-32 1 38 1 35 1 4 1-18 1-7 1 4 1 9 1 10 1-11 1 32 1 10 1 5 1 3 1-22 1 29 1-11 1-1 1 24 1 39 1 19 1-30 1 10 1 23 1-14 1 3 1 25 1 17 1 12 1-18 1 10 1 29 1-14 1 17 1 10 1-2 1-9 1 15 1 17 1-6 1 28 1-5 1 2 1-26 1-24 1 11 1 28 1 16 1-1 1 12 1 3 1 17 1 15 1-28 1 11 1 13 1-27 1 14 1-20 1 4 1 15 1 16 1 2 1 5 1 19 1 8 1-12 1 18 1-19 1-12 1 9 1 33 1-8 1-6 1 10 1-9 1 30 1 4 1 24 1-13 1 19 1-9 1-26 1 8 1 3 1 18 1 2 1 15 1-22 1 10 1 12 1-12 1 25 1 29 1 10 1 17 1-5 1-18 1-33 1 26 1-1 1 13 1 15 1 42 1-38 1-5 1-29 1-2 1 13 1 6 1 2 1 7 1-4 1-7 1 2 1 17 1 14 1 22 1-9 1 2 1 0 1 23 1-3 1 12 1 9 1-4 1 6 1-11 1-13 1-3 1-10 1-30 1 44 1-8 1 31 1 9 1-6 1-28 1 23 1 6 1-4 1-3 1 20 1 10 1 10 1-14 1-4 1 21 1 10 1-9 1 26 1-21 1 21 1 6 1-4 1-2 1-6 1 12 1 44 1-6 1 9 1-6 1-26 1 18 1 8 1-25 1-10 1-3 1-25 1 45 1-8 1 2 1 11 1-30 1 27 1-9 1 20 1 19 1-15 1-10 1 15 1 5 1-29 1-6 1-19 1 21 1 13 1-3 1 4 1-11 1 4 1 40 1-17 1 34 1-12 1 8 1-24 1 23 1-11 1 43 1-32 1 5 1-4 1 34 1-21 1 21 1 16 1-34 1 6 1 32 1-1 1-34 1 44 1-7 1-16 1 12 1 16 1-16 1 56 1-33 1 15 1-1 1-2 1-6 1 31 1 15 1-9 1 14 1-30 1 3 1 17 1-35 1 9 1-5 1-17 1 25 1 20 1 10 1 14 1-9 1 13 1-19 1 21 1 9 1-16 1 41 1-26 1-2 1-20 1-3 1 22 1 37 1 26 1-27 1 32 1-20 1-13 1-17 1-18 1 16 1-4 1 18 1-28 1 13 1 23 1 9 1-29 1 28 1-2 1 33 1 15 1-15 1-18 1-3 1 18 1 9 1-10 1-22 1 1 1-11 1-2 1-20 1-13 0-297-1 21-1 18-1 19-1-17-1-8-1 3-1-14-1-10-1 28-1-20-1 49-1-15-1 18-1-17-1 15-1-48-1 11-1-22-1 17-1 29-1-26-1-38-1 22-1-50-1 26-1 49-1-8-1 14-1-27-1-29-1 8-1 2-1-22-1 19-1 8-1 15-1 13-1-45-1-7-1 11-1 5-1 34-1-20-1 1-1 5-1 2-1-32-1-9-1-14-1 14-1-15-1 25-1-8-1-6-1-7-1-18-1 22-1-13-1-27-1-13-1-15-1 47-1-23-1 34-1-33-1-14-1-31-1 8-1 58-1-31-1-23-1-4-1-28-1 0-1 14-1 22-1 1-1 1-1 38-1-31-1-3-1-14-1-20-1-16-1 39-1-14-1 11-1-1-1-1-1-2-1-6-1-27-1 17-1-4-1-12-1 7-1-12-1-7-1 23-1-10-1 23-1-37-1 19-1 22-1 10-1-11-1-41-1-14-1-9-1 18-1-9-1 13-1-11-1-25-1 45-1-18-1-34-1-1-1 33-1-2-1 34-1 5-1-17-1-20-1-21-1 9-1 6-1 13-1 2-1 12-1-27-1 9-1-22-1 7-1 13-1-7-1-18-1 2-1-24-1 28-1-4-1-16-1-11-1 15-1-3-1 27-1 13-1-26-1-18-1 17-1-45-1 31-1-2-1-46-1 25-1-19-1 18-1 21-1 14-1-28-1 7-1 12-1 9-1-34-1-14-1-2-1-10-1-53-1 13-1 2-1 40-1-18-1-2-1 15-1-10-1-9-1-1-1 11-1 9-1-40-1-2-1 18-1-4-1-27-1 27-1 18-1 3-1-25-1 4-1-35-1-17-1 17-1 0-1-23-1 24-1-20-1-4-1-6-1-23-1 2-1 7-1-9-1-37-1 52-1-11-1-2-1-23-1-1-1-7-1-7-1 12-1-25-1-15-1 12-1 25-1-38-1 2-1 9-1-23-1 1-1-10-1-4-1-29-1-6-1 16-1-10-1 29-1-36-1-5-1 13-1 10-1-1-1-16-1-30-1 5-1 10-1-32-1-20-1 26-1-9-1-10-1 45-1-23-1-7-1-29-1-8-1-5-1 11-1 3-1-4-1-12-1-6-1-19-1 0-1-17-1 27-1-37-1-6-1-2-1-22-1-25-1 18-1 1-1-21-1-7-1-10-1 11-1-26-1 16-1-16-1-1-1 2-1-1-1-8-1 0-1 0-1-2-1-6-1 24-1 4-1-31-1-34-1 10-1 7-1-22-1-24-1 23-1-27-1-19-1-23-1 10-1 9-1-33-1-4-1 11-1-3-1 13-1 5-1 4z" fill="#A60628" stroke="#A60628"/>
</g><g fill="none" stroke-linejoin="round" stroke-linecap="square">
<path d="M0 280l1-19 1-17 1-21 1-18 1-26 1-26 1-2 1-33 1-16 1-4 1-11 1-20 1-14 1 21 1-5 1-20 1 10 1-1 1-2 1-4 1 27 1 20 1-17 1-5 1-4 1-9 1 5 1 9 1-5 1 7 1 5 1 9 1-10 1-8 1-3 1 1 1-13 1-6 1-3 1 11 1 5 1-4 1 24 1-10 1-6 1-5 1 20 1 12 1-16 1 3 1 4 1-21 1-17 1-6 1 44 1-1 1 0 1-6 1-6 1 24 1-18 1 3 1 26 1-16 1-6 1-7 1-13 1 4 1 21 1-8 1 1 1-16 1-21 1 28 1-14 1 4 1 4 1 25 1-20 1 15 1-25 1 18 1 15 1-2 1 1 1-2 1 9 1-14 1 31 1-20 1-7 1-4 1-1 1-9 1 0 1-18 1-14 1 1 1 21 1 28 1-23 1 5 1-14 1 19 1-2 1 40 1-23 1 11 1-11 1-7 1 7 1-17 1 14 1-8 1 9 1 6 1-30 1 0 1 8 1-3 1 12 1 5 1-5 1 10 1-4 1-9 1 13 1-6 1 9 1-12 1-6 1-3 1 5 1-22 1 15 1 2 1-1 1-12 1 10 1 8 1 11 1-5 1 5 1 3 1-10 1 1 1-22 1-6 1 15 1 9 1-2 1 2 1 17 1-21 1 8 1-24 1 1 1 15 1 2 1-11 1 29 1-21 1-15 1 11 1-6 1 17 1 0 1 3 1 5 1 11 1-7 1-9 1-10 1 2 1 10 1 4 1-17 1 8 1-9 1-2 1 35 1-18 1 16 1-18 1 13 1-7 1-2 1 21 1-5 1-15 1-11 1-7 1 23 1 6 1-14 1-1 1 21 1-9 1-11 1 23 1-8 1-5 1 12 1 8 1 0 1-23 1-14 1-5 1 8 1-10 1 13 1-14 1 3 1 3 1 10 1-15 1 5 1 18 1 4 1-27 1 14 1 14 1-18 1-21 1 2 1 14 1-23 1 11 1 29 1-13 1 7 1 5 1-10 1-27 1 17 1 4 1 16 1-18 1 15 1 4 1-9 1 6 1-13 1 17 1 4 1 3 1-5 1-10 1-17 1 10 1 8 1 3 1-6 1 18 1-25 1 14 1-3 1-11 1-21 1-2 1 6 1 4 1 23 1 23 1-18 1 13 1-25 1-3 1 9 1 8 1-14 1-19 1-18 1-6 1 11 1 22 1 20 1-2 1 20 1-25 1-9 1 15 1-4 1-17 1-27 1 18 1 4 1 8 1-17 1 25 1 9 1-5 1-25 1 6 1 25 1 6 1-20 1 9 1 17" stroke="#348ABD" stroke-width="1.95"/>
<path d="M0 289l1-40 1-38 1-36 1-4 1 0 1 0 1-4 1 13 1 0 1 23 1 19 1-40 1 8 1 39 1-18 1-2 1-3 1 28 1-22 1 51 1-41 1 26 1-51 1 32 1-4 1 52 1-14 1 5 1 11 1-32 1 9 1 42 1-29 1-37 1 68 1-37 1 4 1 58 1-43 1-2 1 22 1-24 1 26 1-61 1-25 1 33 1 35 1 39 1-49 1-4 1 0 1-5 1 56 1 0 1-41 1-73 1 9 1 11 1 40 1 27 1 13 1 28 1-9 1-56 1 26 1-33 1 15 1-8 1 6 1-23 1-20 1 30 1-23 1 6 1 14 1 42 1-44 1 49 1 22 1 1 1-73 1-23 1 49 1-30 1 46 1-73 1 25 1 29 1 1 1-7 1 11 1-22 1 20 1-6 1 4 1-11 1 0 1 12 1-8 1-28 1-20 1 16 1 29 1 7 1-64 1 18 1-45 1 14 1 65 1-5 1 22 1 5 1-4 1 2 1-34 1-40 1 32 1 19 1 24 1 33 1 26 1-16 1-34 1-15 1 67 1 6 1-34 1 7 1-56 1-16 1 35 1 4 1 84 1-28 1 38 1-24 1-31 1-37 1 6 1 0 1-21 1 3 1-23 1 53 1 45 1 8 1-19 1 65 1-32 1 8 1-42 1-20 1 36 1-36 1 16 1 11 1-59 1 35 1-11 1 80 1-25 1-29 1-41 1-9 1 53 1 2 1-9 1 15 1-31 1 35 1-24 1 31 1-13 1-5 1-10 1-40 1 21 1 51 1-32 1-26 1 40 1 1 1-43 1-6 1 43 1 47 1 3 1-57 1-6 1 16 1-4 1-38 1-3 1 55 1-45 1 6 1 28 1-104 1 1 1 18 1 51 1-103 1 79 1 26 1 28 1-10 1 0 1 14 1 26 1-33 1-55 1 74 1-35 1 11 1-13 1 35 1 58 1-32 1 25 1-58 1-37 1 30 1-13 1-81 1 16 1 23 1 17 1 56 1-69 1-4 1 59 1-30 1-22 1-29 1 9 1-25 1 30 1-43 1 62 1 1 1 31 1 55 1 2 1 35 1-83 1-25 1-18 1 30 1-14 1 22 1-10 1 12 1-22 1 33 1 6 1-44 1 64 1-68 1 16 1 31 1 63 1 31 1-84 1 3 1 41 1 19 1-26 1-20 1 63 1-79 1-37 1 49 1-2 1-28 1 8 1 40 1-15 1-44 1 49 1-41 1-15 1-37 1 17 1-16 1-37 1 12 1-22 1 34 1-19 1 93 1 19 1-44 1 58 1-17 1-74 1-22 1-22 1 54 1-37" stroke="#7A68A6" stroke-width="1.95"/>
<path d="M0 288l1-21 1-6 1-20 1-9 1 5 1-27 1-22 1 0 1-26 1 53 1-1 1-25 1 18 1 25 1-3 1-41 1 18 1 2 1 33 1-2 1 24 1-1 1 4 1 36 1-3 1 19 1-22 1-28 1 11 1 30 1-9 1 19 1-8 1 2 1-8 1 10 1-33 1-40 1 46 1 13 1 3 1 17 1 12 1 40 1-42 1 2 1-64 1 46 1 8 1-5 1 39 1-19 1 45 1-30 1-16 1 24 1-16 1-4 1-9 1-49 1 24 1-26 1-26 1 41 1-10 1 7 1 17 1 10 1-8 1 7 1-20 1-19 1 11 1-50 1 19 1 22 1 1 1-33 1-40 1-5 1-6 1 20 1-4 1 21 1 35 1 28 1 21 1 4 1 0 1-47 1 49 1-15 1-57 1 27 1 14 1 11 1-33 1 41 1 15 1-9 1-15 1-18 1 4 1-27 1-10 1 55 1-8 1 22 1-8 1-15 1-17 1 21 1-18 1-24 1-35 1 38 1-52 1 54 1-20 1-38 1-20 1-9 1 31 1 33 1 10 1 57 1-34 1-59 1-11 1 49 1 10 1 4 1-14 1 1 1 11 1 1 1-55 1-12 1 9 1 51 1-6 1-17 1-20 1 8 1 4 1-18 1-8 1 3 1 10 1-17 1 53 1 38 1-7 1-30 1 11 1-27 1 0 1-3 1 5 1-31 1 23 1 9 1-19 1 14 1-3 1 22 1-5 1 12 1 1 1-21 1-40 1 17 1 0 1 20 1 15 1 15 1-17 1-8 1-24 1-2 1-1 1-4 1 6 1 48 1 3 1-43 1 13 1-1 1 40 1 2 1-37 1 21 1 15 1-52 1-1 1-31 1 30 1-4 1-44 1 12 1 49 1 37 1 32 1 11 1-27 1-14 1-21 1 19 1-22 1-3 1-16 1-19 1-35 1 50 1-42 1 27 1 16 1-26 1-9 1 21 1-42 1 59 1 2 1 24 1-43 1 14 1 44 1 35 1-70 1-31 1 17 1-51 1 5 1 39 1-23 1-12 1 20 1-42 1 11 1 52 1-15 1 0 1 8 1-40 1 39 1 10 1 47 1-8 1-43 1-28 1-11 1 23 1 22 1-11 1-29 1-11 1-1 1 53 1-10 1 27 1 6 1-32 1-36 1-4 1 45 1 11 1 17 1-34 1 10 1 35 1-42 1 6 1-12 1 13 1-38 1 6 1 26 1-7 1-25 1 36 1-5 1 20 1 2 1-15 1-11 1 16 1-29 1-33 1-23 1 3 1-25 1-9 1 37 1 15 1-4 1-16 1 44 1 32 1 6" stroke="#467821" stroke-width="1.95"/>
<path d="M0 275l1-1 1-6 1-5 1-1 1-8 1-1 1 31 1-8 1-5 1 21 1 34 1 24 1-19 1 24 1 28 1 12 1-24 1 47 1 20 1-5 1-22 1 10 1-3 1 3 1-4 1-4 1 29 1 3 1-7 1 15 1-17 1 18 1-7 1 12 1 8 1 29 1 2 1-8 1 13 1 20 1-6 1 6 1 24 1 1 1 22 1-1 1 5 1 17 1 0 1 4 1 2 1-5 1 10 1 7 1 7 1 5 1 32 1-23 1-4 1-4 1-8 1 15 1 24 1 2 1-12 1 25 1 20 1 9 1-13 1-19 1 13 1 23 1-28 1 5 1-5 1 10 1 17 1 12 1 10 1 4 1 15 1-3 1-12 1 17 1-2 1-11 1 12 1 30 1-13 1-2 1 3 1 4 1 21 1-4 1 23 1-22 1 17 1 4 1-15 1 0 1 19 1 1 1-7 1 12 1-11 1 19 1 11 1-7 1 9 1 21 1-6 1 23 1 22 1-22 1-31 1 22 1 5 1 8 1 1 1 29 1-13 1-8 1-13 1 3 1 7 1 3 1 5 1 0 1-2 1 1 1-6 1 16 1 4 1 14 1 2 1 10 1-3 1-7 1-4 1 26 1-5 1-11 1-1 1 13 1-13 1 22 1-4 1-20 1 26 1-7 1 26 1 1 1 4 1-24 1 17 1-10 1 12 1 1 1 10 1-6 1 5 1 1 1 17 1 10 1 6 1-24 1 12 1-1 1 20 1 1 1-1 1-17 1 0 1 11 1 21 1 5 1 12 1-10 1-21 1 17 1-2 1-24 1 10 1 5 1-26 1 33 1-1 1 10 1-2 1-20 1 8 1 6 1 36 1 8 1-21 1-6 1 3 1 19 1-19 1 6 1-2 1-8 1 3 1-6 1 5 1 11 1 6 1 20 1 4 1-1 1-15 1 3 1 0 1 11 1-16 1 26 1-25 1 27 1 6 1 15 1-19 1 8 1 17 1-15 1-21 1 7 1 20 1-8 1 13 1 14 1-12 1 5 1 3 1 6 1 18 1-13 1 22 1-7 1-3 1-6 1 24 1 3 1-2 1 9 1-13 1 2 1 8 1-13 1 5 1-9 1 1 1 7 1 24 1 14 1 6 1-11 1 12 1-8 1-10 1 6 1 23 1 26 1-12 1-6 1-9 1-17 1 7 1 6 1-1 1 9 1 43 1-8 1 0 1-24 1 1 1 3 1-17 1 25 1-5 1 3 1 12 1 15 1-21 1 32 1 2 1-3 1-8 1 20 1-18 1 14 1-5 1-16 1-14 1 5 1 7 1 6 1-9 1-11 1-9" stroke="#A60628" stroke-width="3.5"/>
</g></g>
</g>
<path d="M60.3 587.9v-3.4M94.1 587.9v-3.4M128 587.9v-3.4M161.8 587.9v-3.4M195.7 587.9v-3.4M229.5 587.9v-3.4M263.3 587.9v-3.4M50.1 586.4h3.4M50.1 551.4h3.4M50.1 516.5h3.4M50.1 481.5h3.4M50.1 446.5h3.4" stroke="#000" stroke-width="0.85" fill="none"/>
<rect x="50.15" y="437.0" width="221.8" height="150.9" fill="none" stroke="#bcbcbc" stroke-width="0.96"/>
<g font-size="9.6">
<text x="60.3" y="598.9" text-anchor="middle" transform="rotate(0.05 60.3 598.9)">0.0</text>
<text x="94.1" y="598.9" text-anchor="middle" transform="rotate(0.05 94.1 598.9)">0.5</text>
<text x="128" y="598.9" text-anchor="middle" transform="rotate(0.05 128 598.9)">1.0</text>
<text x="161.8" y="598.9" text-anchor="middle" transform="rotate(0.05 161.8 598.9)">1.5</text>
<text x="195.7" y="598.9" text-anchor="middle" transform="rotate(0.05 195.7 598.9)">2.0</text>
<text x="229.5" y="598.9" text-anchor="middle" transform="rotate(0.05 229.5 598.9)">2.5</text>
<text x="263.3" y="598.9" text-anchor="middle" transform="rotate(0.05 263.3 598.9)">3.0</text>
<text x="46.9" y="590" text-anchor="end" transform="rotate(0.05 46.9 590)">0</text>
<text x="46.9" y="555" text-anchor="end" transform="rotate(0.05 46.9 555)">200</text>
<text x="46.9" y="520.1" text-anchor="end" transform="rotate(0.05 46.9 520.1)">400</text>
<text x="46.9" y="485.1" text-anchor="end" transform="rotate(0.05 46.9 485.1)">600</text>
<text x="46.9" y="450.1" text-anchor="end" transform="rotate(0.05 46.9 450.1)">800</text>
</g>
<text x="161.1" y="431.2" font-size="13.8" text-anchor="middle" transform="rotate(0.05 161.1 431.2)">Quadruped Run</text>
<text y="614.2" font-size="11.5" transform="rotate(0.05 161.1 614.2)"><tspan x="120.1">Frames (</tspan><tspan x="171.2" dy="0.9" stroke="none" font-family="'Liberation Serif', 'DejaVu Serif', serif" font-size="15">×</tspan><tspan x="180" dy="-0.9" stroke="none" font-family="'Liberation Serif', 'DejaVu Serif', serif" font-size="12.6">10</tspan><tspan x="192.5" dy="-3.8" stroke="none" font-family="'Liberation Serif', 'DejaVu Serif', serif" font-size="8.4">6</tspan><tspan x="197" dy="3.8">)</tspan></text>
<text transform="translate(22.3 511.9) rotate(-90)" font-size="11.5" text-anchor="middle">Episode Return</text>
</g>
<g>
<rect x="325.45" y="437.0" width="221.8" height="150.9" fill="#eeeeee"/>
<path d="M335.6 437V587.9M369.4 437V587.9M403.3 437V587.9M437.1 437V587.9M471 437V587.9M504.8 437V587.9M538.6 437V587.9M325.4 586.5H547.2M325.4 555.8H547.2M325.4 525H547.2M325.4 494.2H547.2M325.4 463.4H547.2" stroke="#b2b2b2" stroke-width="0.7" stroke-dasharray="1.8 0.8" fill="none"/>
<g clip-path="url(#c7)">
<g transform="translate(335.6 586.5) scale(0.67680 -0.1)">
<g fill-opacity="0.2" stroke-opacity="0.2" stroke-width="0.9" vector-effect="non-scaling-stroke">
<path d="M0 322l1-46 1-59 1-11 1-31 1 1 1 0 1-1 1-37 1-11 1-20 1 17 1 8 1-19 1-3 1 9 1-4 1-1 1-11 1 12 1 1 1-20 1 5 1-2 1-8 1-7 1-4 1 2 1 9 1 6 1-17 1 20 1 30 1-35 1-11 1-11 1-1 1 20 1 5 1-7 1 8 1 4 1-9 1-3 1-25 1 13 1-14 1 26 1 6 1 0 1 9 1-26 1 8 1 11 1-19 1-2 1 31 1 7 1-27 1-2 1-12 1-4 1-4 1-4 1 21 1-10 1 24 1 17 1-7 1-5 1-10 1 0 1-9 1 1 1 0 1-7 1 33 1 1 1 6 1-1 1-10 1 3 1-6 1 7 1 13 1 7 1-17 1-21 1 1 1-7 1 14 1 24 1-1 1-1 1-9 1 4 1 6 1-14 1-8 1 6 1-8 1-2 1-1 1 30 1-17 1 12 1 17 1-11 1-18 1-7 1 28 1-6 1-4 1-4 1-3 1 8 1-9 1 24 1-16 1-1 1-1 1-11 1 16 1-22 1 6 1 31 1-18 1-5 1 10 1-12 1-19 1 17 1 13 1-15 1 13 1-10 1-4 1-28 1 22 1 14 1 1 1-13 1 8 1-4 1 3 1 14 1-25 1 16 1 15 1-18 1 4 1 9 1 3 1-8 1-18 1 22 1 2 1-22 1-1 1-16 1 6 1 2 1 32 1-9 1 4 1 1 1-5 1-1 1 1 1 5 1-1 1-14 1-2 1-15 1 4 1 1 1-11 1 0 1 22 1-8 1 21 1 6 1-8 1-6 1-1 1-4 1 28 1-17 1 2 1 1 1-7 1 25 1-12 1 1 1-23 1 0 1 7 1 8 1-2 1-25 1 15 1 10 1-19 1 3 1 31 1-13 1-21 1 7 1-17 1 17 1 15 1 10 1 8 1-7 1 7 1 4 1-14 1 8 1-8 1 1 1 11 1-11 1-33 1 16 1-18 1-6 1 23 1 1 1 6 1-9 1 0 1-7 1 15 1 5 1 17 1-27 1 15 1-4 1 4 1-25 1 10 1-17 1-5 1-21 1 26 1-18 1 6 1-3 1 15 1 13 1-24 1 26 1-20 1 4 1-17 1 44 1-14 1-21 1-8 1-1 1 24 1 12 1-33 1-15 1 10 1 10 1 18 1-15 1 4 1 2 1 1 1 4 1 2 1-12 1 11 1 6 1-7 1-2 1 16 1-11 1-6 1-5 1 1 1-20 1-9 1 0 1 18 1-5 1 23 1 16 1-25 1-6 1 0 1 3 1 8 1 0 1 19 1-11 1 18 1-8 0-57-1 1-1-10-1 15-1 1-1-7-1-3-1-20-1-7-1 1-1 18-1 4-1-9-1 6-1-14-1-5-1 1-1 29-1-10-1 6-1 10-1 15-1-24-1 6-1 12-1-11-1 3-1-6-1-2-1-10-1 4-1-2-1 2-1 5-1-28-1 1-1-15-1 31-1 18-1-9-1-23-1 4-1 10-1 21-1 11-1-35-1 11-1 5-1 16-1-25-1 23-1-24-1-13-1 3-1-1-1 10-1-12-1 24-1 1-1 21-1-16-1 19-1-6-1 0-1-12-1 24-1-12-1-13-1-18-1 8-1 11-1 9-1 2-1 5-1-11-1 5-1-3-1-15-1 17-1 4-1-22-1 22-1 8-1-8-1 7-1 9-1-19-1 9-1-7-1-7-1-17-1-4-1 16-1-8-1 11-1 14-1-31-1 8-1 5-1-8-1-7-1 26-1-23-1-1-1-6-1 12-1 11-1 3-1-5-1-7-1-7-1 6-1 4-1 20-1-22-1 4-1 11-1 8-1 2-1-14-1-20-1 4-1-11-1-17-1 11-1-4-1 6-1-1-1 14-1 26-1 5-1-9-1-6-1-5-1 10-1-10-1 6-1 16-1-42-1 1-1-6-1 29-1-8-1 13-1-9-1-9-1 10-1 0-1-17-1 11-1 5-1 14-1-9-1-12-1 15-1-32-1 6-1 9-1-14-1 3-1 25-1-8-1-12-1 16-1 2-1-5-1-14-1 34-1-13-1-24-1 23-1-2-1-17-1 8-1 16-1-9-1-7-1 28-1-27-1-1-1 5-1 6-1 12-1-29-1 20-1-14-1 6-1 10-1-1-1 13-1-34-1 7-1 22-1 3-1-9-1-12-1 3-1-8-1 1-1-1-1 15-1-3-1 5-1-2-1-9-1-13-1 11-1 18-1-1-1-13-1-11-1-10-1 3-1 17-1 10-1-4-1-10-1 1-1 5-1-9-1 11-1 15-1-19-1-9-1-14-1-13-1 1-1-4-1 6-1 5-1 13-1-3-1-21-1 14-1-24-1 25-1-12-1-6-1 19-1-11-1 10-1 1-1 15-1 9-1-24-1-12-1 7-1 2-1-14-1 9-1-1-1 5-1 2-1-25-1-12-1 13-1 23-1 3-1 7-1 3-1-13-1 8-1-9-1-2-1-13-1 16-1 22-1 21-1-26-1-23-1 16-1-2-1-33-1 10-1 8-1 5-1-6-1 6-1-7-1 23-1-6-1-14-1 13-1 6-1-2-1 7-1 16-1 9-1-11-1-26-1 30-1 13-1 14-1 3-1 9-1 14-1-5-1 29-1 29-1 26z" fill="#348ABD" stroke="#348ABD"/>
<path d="M0 333l1-62 1-78 1-41 1 12 1-5 1-15 1 0 1-18 1 21 1 41 1 66 1-29 1-19 1-29 1 9 1 41 1 24 1-40 1 20 1 35 1-27 1-8 1-14 1 43 1 36 1-30 1-14 1-7 1 26 1 28 1-39 1-17 1 30 1-17 1 36 1-35 1-53 1-6 1-23 1 27 1 7 1 16 1-6 1 29 1 10 1-24 1 25 1-23 1 40 1 6 1-7 1 22 1 5 1-66 1-37 1 43 1 2 1-25 1 31 1 25 1 23 1-7 1-6 1-21 1-18 1-52 1 33 1 51 1-8 1 16 1-9 1-8 1-4 1 7 1 2 1 11 1-66 1 17 1 29 1 25 1-16 1-25 1-26 1-16 1 104 1-17 1-59 1 20 1 13 1-3 1 18 1-49 1 5 1 48 1 3 1 21 1-56 1 20 1-6 1 5 1-8 1-25 1-30 1-9 1-15 1 7 1 13 1 2 1 49 1 7 1 7 1 1 1-37 1-4 1 12 1-27 1 50 1-25 1-10 1-32 1-5 1-24 1 57 1 17 1 8 1-46 1 0 1 59 1-13 1-9 1 34 1-27 1 7 1-7 1-8 1 15 1-18 1 4 1-18 1-23 1 36 1 41 1-16 1-6 1 33 1-38 1-24 1-22 1 28 1 39 1 5 1-1 1-3 1-37 1-11 1-28 1 43 1-17 1 7 1-32 1 86 1 9 1-7 1 38 1-27 1-36 1-16 1-17 1-41 1 63 1-38 1 22 1 8 1-24 1-2 1 40 1 4 1 6 1-25 1 64 1-7 1-21 1-3 1-23 1-15 1-25 1 28 1 23 1 16 1-36 1 7 1 7 1-8 1-14 1 34 1-38 1 29 1 13 1-37 1 17 1 39 1 7 1 5 1 11 1-14 1 53 1-55 1-20 1-2 1-2 1-24 1 16 1 12 1-5 1 2 1 28 1 34 1-42 1 74 1-12 1-13 1-13 1-12 1-47 1 6 1-17 1 3 1-17 1 15 1-10 1 2 1-12 1 7 1 28 1 30 1-33 1-59 1 44 1 20 1-15 1 20 1-27 1 24 1 14 1-34 1-17 1-7 1-2 1-6 1-5 1 30 1-10 1 5 1-2 1 25 1-19 1 54 1 15 1 0 1-64 1 18 1 24 1-16 1 7 1 13 1-26 1-9 1-35 1 52 1-38 1 27 1-17 1-38 1-19 1-3 1 16 1 12 1 0 1 12 1-23 1 15 1 24 1-9 1 19 1 22 1 27 1-19 1-11 1-25 1-12 1 51 1-27 1-9 1 10 1 30 1 32 1 15 1-35 1 1 0-96-1-2-1 19-1 9-1-20-1-40-1-49-1-32-1 49-1-32-1 35-1-2-1 37-1 9-1-28-1-56-1-17-1 20-1 19-1-17-1 7-1-13-1 6-1-24-1 8-1 6-1-17-1 12-1 27-1 10-1 21-1-43-1 26-1 33-1-7-1 24-1-8-1 24-1-45-1-16-1 32-1 6-1-35-1-3-1 10-1-37-1-28-1 34-1 13-1 3-1-10-1 0-1 46-1-2-1-34-1 8-1-7-1-25-1 29-1 22-1-1-1-23-1-58-1 64-1 3-1-9-1-42-1-3-1 20-1-27-1 17-1 4-1 50-1-16-1-17-1-17-1 77-1-12-1 45-1-12-1 15-1-42-1-12-1-12-1 12-1-5-1-7-1 44-1 5-1-4-1-6-1 1-1-3-1 21-1-58-1 18-1 9-1-37-1-15-1-22-1 22-1 15-1-29-1-19-1 52-1-36-1 22-1-30-1 25-1-31-1 14-1 14-1-5-1-46-1 1-1 40-1 20-1-13-1 24-1 1-1-34-1 57-1-3-1-32-1-27-1-21-1 10-1-9-1-2-1 15-1-24-1 33-1 54-1-2-1-9-1 17-1-11-1-17-1-12-1-38-1 67-1 1-1-33-1-39-1 14-1-2-1 3-1 21-1-3-1 31-1-41-1 5-1 9-1 5-1 30-1-19-1-21-1-2-1-12-1-30-1 4-1 5-1 10-1 49-1 2-1-9-1 1-1 5-1 2-1-20-1 0-1-10-1-46-1-14-1 25-1 59-1-31-1-5-1 6-1 20-1-7-1-18-1 24-1 6-1 13-1-56-1 6-1 28-1-16-1 5-1 17-1-43-1 20-1 8-1 0-1-25-1 0-1 34-1-34-1 56-1 22-1-19-1-10-1 21-1-11-1-3-1-41-1-16-1 40-1 15-1 16-1-19-1-20-1 28-1 32-1-86-1-41-1 60-1 35-1 10-1-60-1-18-1-9-1 50-1-24-1 25-1 0-1 3-1 21-1 14-1-48-1 11-1-7-1-11-1 21-1-7-1 19-1-15-1-3-1-2-1 14-1-10-1 41-1-4-1-74-1-2-1 79-1-15-1-10-1 35-1 0-1-50-1 9-1-25-1 18-1-19-1-34-1-22-1 20-1 23-1-46-1 30-1 5-1 57-1 19-1-25-1 26-1-30-1 26-1-11-1-44-1-1-1 32-1-33-1 2-1 9-1-52-1 4-1 32-1 17-1-39-1-13-1 12-1 9-1 7-1-15-1 2-1 34-1 6-1-32-1-13-1-30-1 33-1-22-1 18-1-25-1-23-1 28-1 41-1 66z" fill="#7A68A6" stroke="#7A68A6"/>
<path d="M0 306l1 10 1-21 1-18 1-16 1-3 1-3 1 7 1-50 1 6 1-15 1-15 1-41 1-5 1 10 1 12 1 12 1-6 1-4 1 8 1 8 1-2 1 4 1 13 1-15 1 7 1 10 1-30 1 4 1 28 1 0 1 9 1 34 1-46 1-5 1 9 1 3 1-18 1-2 1 20 1 2 1 13 1 68 1-19 1 30 1 38 1-23 1-17 1 50 1 8 1 30 1-71 1 10 1-4 1-1 1-7 1 27 1 15 1-47 1-26 1 64 1 6 1-4 1-31 1-16 1-22 1 28 1 27 1 6 1-1 1-31 1 13 1 16 1 26 1-31 1 39 1-45 1-79 1 39 1 36 1-2 1 34 1-67 1 39 1 47 1-23 1 6 1 9 1 11 1-38 1 18 1-39 1 23 1 0 1-17 1-7 1-14 1 9 1 10 1 36 1 7 1-31 1-28 1 32 1-34 1-27 1 33 1 1 1 14 1 24 1 6 1-16 1-41 1 48 1-8 1 17 1 5 1-32 1 2 1 32 1 1 1-24 1-30 1-26 1 6 1-8 1 15 1-6 1-12 1 23 1 8 1 28 1 12 1-10 1-13 1 5 1 0 1-51 1 50 1 53 1-28 1-41 1 11 1 31 1 9 1-33 1 33 1 14 1-28 1-20 1 25 1-9 1-33 1 47 1-49 1-14 1 8 1 21 1 17 1 37 1-39 1-31 1-8 1-14 1 14 1 23 1 32 1-32 1 32 1-51 1-33 1-26 1-13 1 15 1-9 1 20 1-16 1 6 1 43 1 21 1-20 1-24 1 31 1-28 1 4 1 6 1-3 1 10 1-13 1-18 1 25 1-31 1-20 1 14 1-17 1 28 1 38 1-30 1-30 1 17 1-32 1 29 1-33 1 5 1 18 1-4 1-26 1 13 1 21 1 3 1-9 1 18 1-4 1 26 1-46 1-16 1 14 1 5 1-8 1 4 1 8 1 28 1-6 1-41 1-11 1-29 1-1 1-2 1 22 1 17 1-28 1-13 1 38 1 10 1-14 1 13 1 35 1 38 1-27 1-10 1 59 1-28 1-15 1 17 1-19 1 0 1-10 1 26 1-40 1 11 1 29 1 0 1-8 1 28 1-22 1 0 1-1 1-12 1-14 1-36 1-16 1-22 1 0 1 13 1 21 1 12 1 32 1-1 1 20 1 9 1-33 1-8 1-46 1 19 1 17 1 6 1 12 1 16 1 3 1-6 1 4 1-20 1 1 1 10 1-38 1 5 1 5 1-24 1 9 1 45 1-10 1 5 1-28 1 18 1-1 1-12 1-13 1 14 1 15 1-1 0-85-1 11-1-38-1-16-1 27-1-14-1-20-1-16-1 29-1-19-1 25-1-37-1-5-1 42-1-8-1-24-1 32-1 10-1-8-1 30-1-11-1-23-1-3-1-17-1-7-1 5-1-18-1 3-1 40-1 19-1-2-1-21-1-29-1-10-1-26-1-8-1 14-1-4-1 0-1 25-1 8-1 30-1-12-1 42-1 9-1 20-1 25-1-25-1-17-1 13-1-32-1 0-1 14-1-28-1 22-1 15-1-7-1 9-1 28-1-7-1-18-1 8-1-1-1-38-1-24-1-18-1 10-1 5-1-21-1-46-1 54-1-21-1-11-1 35-1-9-1 4-1-18-1 28-1 49-1-27-1-15-1-3-1 1-1-7-1 8-1 40-1 14-1-27-1-19-1 22-1-15-1-5-1-26-1-3-1 9-1 10-1-19-1-2-1 7-1-7-1 21-1-23-1 54-1-18-1-18-1-16-1 8-1 2-1 27-1 23-1-26-1 0-1 28-1-35-1 5-1 6-1 0-1 23-1-24-1 7-1 6-1-26-1-9-1 3-1 3-1-20-1 11-1 1-1 8-1 11-1 1-1 17-1-29-1 28-1-13-1-27-1 23-1 30-1-26-1-48-1 45-1 52-1-54-1 7-1-8-1 0-1 11-1 8-1-40-1 28-1 8-1 1-1 17-1-11-1 9-1-1-1-4-1 11-1-8-1 15-1 27-1-11-1-18-1 9-1 0-1-25-1 2-1-19-1-10-1-23-1 34-1-22-1-7-1 34-1-16-1 12-1-33-1 10-1 37-1 12-1 24-1-15-1 8-1 24-1-22-1-9-1 14-1-47-1 32-1-15-1 0-1 10-1 0-1-5-1 1-1 22-1-19-1 11-1 7-1 29-1-21-1-12-1-2-1-5-1-16-1 1-1 4-1 12-1-11-1-25-1-8-1 36-1-20-1 9-1 14-1 1-1-4-1 19-1 30-1-56-1 9-1 0-1-14-1 7-1-11-1 3-1 0-1 2-1 10-1-13-1 4-1 5-1-31-1-2-1-12-1 23-1 8-1 34-1 17-1-19-1-24-1 27-1 6-1-41-1-37-1-1-1 6-1-30-1 0-1 42-1-2-1 4-1-10-1 3-1-2-1 1-1-41-1 13-1-35-1-1-1 11-1 12-1-23-1-12-1-7-1 23-1-29-1 2-1 21-1-6-1 22-1-15-1-14-1 40-1-7-1 14-1-15-1-8-1-3-1 5-1 3-1-14-1-7-1 4-1-12-1-12-1-20-1 18-1 32-1-15-1-7-1 28-1 41-1-19-1 11-1 20-1 6-1 22-1 24-1 22z" fill="#467821" stroke="#467821"/>
<path d="M0 290l1-29 1-2 1 5 1 15 1 0 1-15 1-6 1 3 1-14 1 13 1-10 1 50 1 25 1-11 1 20 1-8 1 26 1-5 1 10 1-36 1 6 1-9 1 15 1-21 1 53 1 14 1 3 1 22 1-1 1 43 1-14 1 30 1 16 1 22 1-3 1 6 1-16 1 27 1 8 1 7 1 25 1-31 1 20 1 57 1 40 1-20 1-17 1 53 1-12 1-3 1 14 1-7 1 6 1 22 1 31 1 45 1-52 1 54 1 17 1-20 1 8 1 35 1 4 1 31 1 96 1-36 1 41 1 38 1 7 1 17 1 40 1 38 1 39 1-25 1-34 1 29 1 10 1-16 1 58 1 28 1-2 1-55 1 3 1 25 1 37 1 14 1 19 1-15 1-8 1-30 1-12 1 0 1 16 1 12 1-10 1 13 1 7 1-21 1 2 1-3 1 12 1 11 1-15 1 16 1 5 1 23 1-5 1 24 1-8 1-2 1 30 1-11 1-23 1 5 1-4 1 4 1 27 1 12 1 19 1 9 1 3 1-16 1 8 1-16 1 14 1 1 1 7 1 0 1-22 1 20 1-34 1 25 1 6 1 10 1-10 1 20 1 24 1-30 1-16 1 10 1-9 1 23 1 0 1-2 1 23 1-24 1 39 1-18 1-6 1-3 1-22 1 14 1-5 1 20 1 14 1 3 1-4 1-13 1 8 1 20 1-16 1-3 1 7 1 2 1 4 1-19 1 8 1 2 1-8 1 5 1-3 1 6 1 9 1 12 1 22 1-25 1-3 1 31 1-5 1-19 1 2 1 7 1 27 1 2 1-19 1 7 1-10 1-2 1 9 1 8 1-30 1 7 1-3 1 18 1 5 1 28 1-34 1-12 1 5 1-7 1 7 1 5 1-5 1-3 1 8 1-1 1 12 1-22 1 10 1 0 1-6 1 19 1 2 1-14 1 9 1 9 1-27 1 13 1-3 1 11 1 9 1-21 1-6 1-14 1 28 1-11 1 16 1 4 1 4 1 1 1-10 1-5 1 3 1 36 1-18 1-17 1-4 1 9 1-2 1-5 1 15 1 10 1 4 1-11 1-22 1-19 1 19 1 24 1-12 1 10 1-8 1 1 1 11 1-4 1 12 1-12 1 5 1 4 1-22 1 9 1 1 1-9 1-19 1 20 1 29 1-5 1-32 1-5 1 10 1 6 1-8 1 10 1-22 1 3 1 12 1 14 1-14 1 3 1 36 1 7 1 23 1-16 1-8 1-20 1 8 1-8 1 2 1-10 1 10 1 10 1-6 1-14 1-17 1 11 1 23 1-26 1-6 1 0 1 6 0-52-1-6-1-11-1 7-1 39-1-25-1-12-1 17-1 18-1 14-1-14-1 4-1 5-1 1-1 0-1-21-1 26-1-2-1 32-1-34-1-4-1-55-1-9-1 41-1-28-1-20-1 2-1 26-1-13-1 23-1-2-1-40-1 17-1 33-1-6-1-13-1-19-1 17-1 14-1 3-1-25-1 33-1-11-1 4-1 20-1-21-1 9-1-9-1-28-1 30-1-15-1 15-1-42-1-25-1 36-1 24-1 20-1-4-1-15-1-18-1 1-1 3-1 0-1 4-1 11-1 24-1-61-1 14-1 20-1 4-1 2-1-9-1 3-1-31-1 10-1-38-1 18-1 11-1 22-1 0-1-10-1-1-1-16-1 30-1 0-1-17-1 8-1 6-1-35-1-2-1 19-1-14-1 17-1 4-1-25-1-6-1 7-1 12-1 7-1-21-1 8-1-10-1 8-1 23-1-5-1 2-1-13-1 10-1-24-1 21-1-9-1-8-1 11-1 13-1-11-1 12-1-2-1-17-1-14-1-8-1 4-1 25-1-19-1 8-1 9-1-5-1-24-1-18-1-14-1 26-1-18-1 16-1 4-1-9-1 10-1-17-1 23-1-11-1 6-1 10-1-14-1-13-1 26-1-14-1-3-1-34-1-23-1 0-1-22-1 64-1 14-1-11-1 31-1-40-1 13-1-37-1 19-1-9-1-27-1 18-1-12-1 15-1 37-1-29-1-33-1 30-1-1-1 11-1-56-1 49-1-33-1 22-1-7-1-17-1 10-1-20-1 7-1 9-1 9-1-7-1-18-1-12-1-30-1 0-1-2-1 10-1 11-1 9-1-4-1-38-1-31-1 6-1 18-1-8-1-33-1 20-1-35-1 22-1-26-1-9-1 9-1-25-1 11-1-21-1-41-1 26-1-47-1-33-1 23-1 15-1 28-1 0-1 27-1-12-1-59-1 8-1-5-1-73-1-18-1 14-1 32-1-43-1-24-1 32-1 24-1 11-1-34-1-30-1-16-1-61-1-37-1 11-1-41-1-30-1-19-1-16-1 8-1-23-1-33-1-31-1-57-1 70-1-49-1 11-1-27-1-55-1-23-1 22-1 3-1-42-1-18-1 13-1-36-1 13-1 18-1 2-1-21-1 38-1-40-1-32-1-25-1-1-1-61-1 27-1-32-1 31-1 21-1-24-1-26-1-20-1 4-1-11-1-7-1-36-1 28-1-58-1 0-1 7-1 28-1-12-1 28-1 15-1-18-1-32-1 40-1-34-1 13-1-37-1-71-1 24-1-43-1 46-1 37-1-21-1 20-1 23-1 15-1-14-1 5-1 24z" fill="#A60628" stroke="#A60628"/>
</g><g fill="none" stroke-linejoin="round" stroke-linecap="square">
<path d="M0 244l1-23 1-26 1-27 1-24 1-8 1-3 1-3 1-19 1-19 1-16 1 18 1 8 1-7 1-15 1-2 1 10 1-5 1-8 1 4 1-2 1-13 1 2 1-7 1 2 1-4 1-3 1-4 1 15 1 5 1-13 1 14 1 27 1-23 1-8 1-19 1 7 1 7 1 14 1-11 1 8 1-10 1-2 1 1 1-15 1 0 1-8 1 20 1 3 1 4 1 0 1-11 1 6 1 0 1-10 1 3 1 19 1 9 1-13 1-5 1-21 1 4 1-7 1-1 1 16 1-11 1 23 1-3 1 11 1 3 1-13 1-6 1-7 1 7 1-1 1-2 1 20 1 10 1 10 1-8 1-11 1 10 1-3 1-2 1 15 1 1 1-16 1-16 1 3 1 2 1 9 1 16 1-2 1-3 1-16 1 0 1 18 1-1 1-13 1 8 1-13 1-1 1-3 1 16 1-6 1 13 1 15 1-8 1-7 1-14 1 24 1-6 1 2 1-4 1-6 1 3 1-14 1 22 1-11 1-1 1 0 1-3 1 14 1-23 1 9 1 15 1-9 1-6 1 14 1-6 1-18 1 23 1 9 1-19 1 12 1-1 1-10 1-25 1 13 1 19 1-10 1-7 1 0 1-1 1 10 1 16 1-16 1 4 1 10 1-8 1 7 1-6 1 4 1-10 1-11 1 17 1 8 1-11 1 2 1-22 1 1 1 0 1 33 1-11 1 1 1 10 1-8 1-5 1-2 1 6 1-2 1-9 1-10 1-8 1 3 1 0 1-11 1 16 1 5 1 0 1 12 1 6 1-1 1-5 1-4 1 0 1 24 1-17 1-3 1-4 1-1 1 10 1-4 1-2 1-13 1-7 1 7 1 4 1 11 1-20 1 10 1 9 1-15 1 5 1 31 1-14 1-21 1 8 1-14 1 10 1 9 1 8 1 12 1 1 1 1 1-4 1-10 1 10 1-8 1-14 1 21 1-11 1-19 1 11 1-6 1-8 1 19 1 6 1-4 1-1 1-12 1-7 1 16 1 5 1 8 1-11 1 8 1-5 1 6 1-16 1 0 1-16 1 3 1-18 1 22 1-6 1-10 1 5 1 9 1 11 1-27 1 27 1-14 1 1 1-12 1 38 1-12 1-17 1-8 1-8 1 18 1 10 1-14 1-22 1 11 1 3 1 15 1-6 1 2 1 2 1-7 1 16 1 5 1-3 1-6 1 7 1-6 1 1 1 14 1-10 1-16 1-1 1 2 1-19 1-6 1 4 1 13 1-5 1 16 1 6 1-17 1-5 1 5 1 9 1 3 1 5 1 10 1-7 1 10 1-7" stroke="#348ABD" stroke-width="1.95"/>
<path d="M0 246l1-52 1-53 1-38 1-2 1 6 1-5 1 1 1-18 1 21 1 17 1 40 1 2 1-22 1-18 1 25 1 18 1 10 1-22 1 13 1 19 1-2 1-23 1-2 1 46 1 4 1-9 1 12 1-14 1 2 1 16 1-24 1-8 1 7 1-14 1 38 1-20 1-34 1-6 1-20 1 29 1-11 1-2 1 16 1 24 1 9 1-39 1 34 1 1 1 31 1-3 1-10 1 18 1 6 1-52 1-21 1 47 1 12 1-23 1 10 1-12 1 5 1 9 1 9 1 2 1-25 1-29 1 29 1 16 1-5 1 8 1-9 1-10 1 5 1 1 1-12 1 19 1-31 1 28 1 1 1 34 1-30 1-30 1-40 1 4 1 72 1-13 1-34 1 22 1 33 1-10 1 15 1-36 1 8 1 21 1-12 1 3 1-28 1 5 1 9 1 1 1-15 1 12 1-48 1-2 1-4 1 11 1 5 1 5 1 40 1-1 1-9 1 2 1-25 1 0 1 23 1-21 1 28 1-36 1-2 1 0 1-16 1-18 1 33 1 12 1-14 1-9 1-3 1 40 1 6 1 18 1 6 1-14 1-16 1 5 1 6 1 2 1-21 1 4 1-12 1-27 1 31 1-1 1 5 1 9 1 23 1-28 1-17 1-19 1 18 1 53 1-13 1-4 1-9 1-31 1 10 1-15 1 54 1-13 1-9 1-28 1 26 1 28 1 3 1 26 1-2 1-29 1-15 1-36 1-36 1 51 1-23 1 14 1 6 1-7 1 1 1 29 1 18 1 7 1-20 1 38 1-21 1-22 1 17 1-8 1-36 1-17 1 9 1 17 1 2 1-33 1 43 1 2 1 18 1-13 1 20 1-49 1 17 1 23 1-29 1-10 1 23 1-11 1 42 1-4 1 20 1 44 1-27 1-26 1-3 1-14 1 10 1-11 1-9 1 10 1 25 1 15 1 11 1-43 1 48 1-15 1 13 1-25 1 2 1-58 1 8 1-18 1 21 1-25 1 22 1-13 1 7 1-12 1-4 1 28 1 24 1-12 1-40 1 42 1-8 1-23 1 26 1-40 1 15 1 27 1-4 1 3 1-8 1-32 1-5 1-1 1 13 1-20 1 2 1 24 1 22 1-12 1 34 1 13 1-14 1-35 1 22 1 34 1 4 1 19 1-11 1-21 1-30 1-33 1 38 1-23 1 0 1-27 1-11 1-6 1 11 1 0 1 27 1-14 1 0 1-22 1 27 1 11 1-20 1 19 1 23 1 26 1-1 1-42 1 16 1-27 1 31 1-42 1 0 1 21 1 37 1 30 1 21 1-21 1-10" stroke="#7A68A6" stroke-width="1.95"/>
<path d="M0 244l1-19 1-15 1-7 1-20 1-1 1-18 1 6 1-17 1-26 1-7 1-2 1-29 1-7 1 9 1 9 1 9 1 1 1 2 1 4 1 9 1 3 1 2 1-4 1 18 1-12 1-11 1-25 1 5 1 23 1-6 1 1 1 7 1-26 1 18 1-17 1 12 1 6 1 10 1-5 1-11 1 12 1 44 1 11 1 24 1-13 1-4 1-13 1 11 1 14 1 12 1-26 1-5 1 16 1 7 1-8 1 33 1 12 1-18 1-16 1 21 1 24 1-12 1-33 1-10 1-4 1 3 1 1 1 8 1 13 1-6 1 2 1-6 1 13 1-5 1-13 1 9 1 2 1 8 1-8 1-1 1 41 1-20 1-4 1 15 1 7 1-10 1-13 1 11 1-28 1 21 1-4 1 16 1-3 1 9 1-7 1-15 1 13 1 7 1 5 1 15 1-6 1 0 1-12 1 1 1-34 1 14 1 2 1 7 1 0 1-2 1-6 1-5 1 22 1-12 1-3 1 1 1-25 1-5 1 20 1 2 1-16 1-26 1-5 1 18 1-6 1 8 1-21 1-5 1 13 1-1 1 15 1-1 1 1 1 5 1 18 1 1 1 5 1 20 1 12 1-20 1-26 1 17 1-4 1 6 1-9 1-11 1 18 1-12 1-1 1-15 1-7 1 8 1-2 1-10 1 2 1 2 1 20 1 17 1-26 1-13 1 15 1 20 1-23 1-12 1-5 1 14 1-23 1 29 1-6 1-17 1 11 1-13 1 2 1-12 1 13 1-1 1 5 1 9 1 10 1-3 1-10 1 22 1-15 1 1 1-4 1-5 1 22 1-15 1-15 1 15 1-19 1-10 1 8 1-3 1 21 1 18 1-12 1-34 1 1 1-11 1 24 1-27 1 15 1 18 1-9 1-24 1 3 1 25 1-4 1 19 1 4 1-4 1 18 1-29 1-18 1 0 1 0 1-8 1 17 1 13 1 39 1-31 1-41 1 3 1-19 1-3 1-11 1 7 1 20 1-36 1 15 1 21 1 14 1-12 1 14 1 42 1 17 1-3 1-13 1 20 1 4 1-16 1 9 1-11 1 6 1-17 1 24 1-24 1-1 1 27 1 6 1 20 1 5 1-43 1-5 1 1 1-29 1-7 1-28 1-1 1-24 1-3 1-5 1 7 1 14 1 20 1 1 1 34 1 9 1-21 1-18 1-16 1 10 1 6 1 3 1 10 1 12 1-8 1 14 1 1 1-16 1-9 1 2 1-31 1 15 1 9 1-20 1 11 1 25 1-15 1 30 1-21 1-4 1 16 1-2 1-13 1 13 1 30 1-5" stroke="#467821" stroke-width="1.95"/>
<path d="M0 245l1-15 1-5 1 7 1-12 1-7 1-9 1 14 1-5 1-16 1 19 1-7 1 29 1 20 1-10 1 21 1-12 1 9 1 12 1-6 1-14 1 1 1-8 1-9 1 3 1 36 1-14 1 32 1 30 1 11 1 7 1-2 1 27 1 20 1-2 1-4 1 13 1-8 1 15 1-2 1 14 1 19 1 12 1 21 1 24 1 3 1 14 1-5 1 24 1 5 1 13 1 15 1 5 1 4 1 25 1 20 1 25 1-15 1 25 1 3 1 5 1 17 1 25 1 20 1 23 1 50 1 2 1 27 1 13 1 28 1 23 1 35 1 31 1-5 1 2 1 3 1 12 1 0 1 14 1 29 1 10 1 5 1-24 1 17 1 25 1-2 1 25 1 22 1-5 1-2 1-4 1-2 1-10 1 10 1 18 1-10 1 18 1 20 1-12 1 13 1-1 1 4 1 22 1-19 1 11 1-9 1 26 1 5 1 8 1 5 1 13 1 12 1 3 1-10 1-7 1 5 1 2 1 19 1 9 1 9 1 17 1 11 1-21 1 0 1-12 1 13 1-5 1 9 1 3 1-13 1 28 1-33 1 28 1-2 1 3 1-14 1 21 1 28 1-29 1-13 1 10 1-11 1 18 1 0 1-6 1 28 1-22 1 39 1-17 1-1 1-4 1-23 1 10 1 1 1 9 1 14 1 7 1 2 1-17 1 6 1 21 1-10 1 2 1 2 1-10 1 13 1-9 1 3 1 1 1-8 1 7 1-9 1 11 1 3 1 10 1 16 1-16 1-4 1 26 1-17 1-4 1 9 1 4 1 13 1 5 1-5 1 6 1-10 1-13 1 3 1 11 1-23 1 15 1 0 1 15 1-4 1 13 1-23 1-4 1 5 1-5 1 12 1-5 1-7 1-5 1 9 1 10 1 4 1-11 1 10 1-10 1 2 1 21 1-5 1-4 1 8 1 2 1-17 1 7 1 1 1 6 1 7 1-18 1-2 1-12 1 19 1-8 1 20 1-3 1 9 1-4 1-5 1-5 1-3 1 45 1-28 1-7 1-3 1 2 1 4 1-6 1 8 1 5 1-1 1-9 1-13 1-11 1 16 1 15 1-9 1 7 1-8 1 9 1 14 1-8 1 11 1-13 1 3 1-2 1-20 1 12 1 1 1-15 1-8 1 16 1 14 1-3 1-24 1-5 1 18 1-1 1-8 1 14 1-20 1 0 1 12 1 23 1-19 1 6 1 30 1 7 1 28 1-28 1 2 1-20 1 13 1-6 1 4 1-7 1 1 1 10 1-11 1-9 1-9 1 8 1 19 1-21 1-4 1-5 1 2" stroke="#A60628" stroke-width="3.5"/>
</g></g>
</g>
<path d="M335.6 587.9v-3.4M369.4 587.9v-3.4M403.3 587.9v-3.4M437.1 587.9v-3.4M471 587.9v-3.4M504.8 587.9v-3.4M538.6 587.9v-3.4M325.4 586.5h3.4M325.4 555.8h3.4M325.4 525h3.4M325.4 494.2h3.4M325.4 463.4h3.4" stroke="#000" stroke-width="0.85" fill="none"/>
<rect x="325.45" y="437.0" width="221.8" height="150.9" fill="none" stroke="#bcbcbc" stroke-width="0.96"/>
<g font-size="9.6">
<text x="335.6" y="598.9" text-anchor="middle" transform="rotate(0.05 335.6 598.9)">0.0</text>
<text x="369.4" y="598.9" text-anchor="middle" transform="rotate(0.05 369.4 598.9)">0.5</text>
<text x="403.3" y="598.9" text-anchor="middle" transform="rotate(0.05 403.3 598.9)">1.0</text>
<text x="437.1" y="598.9" text-anchor="middle" transform="rotate(0.05 437.1 598.9)">1.5</text>
<text x="471" y="598.9" text-anchor="middle" transform="rotate(0.05 471 598.9)">2.0</text>
<text x="504.8" y="598.9" text-anchor="middle" transform="rotate(0.05 504.8 598.9)">2.5</text>
<text x="538.6" y="598.9" text-anchor="middle" transform="rotate(0.05 538.6 598.9)">3.0</text>
<text x="322.2" y="590.1" text-anchor="end" transform="rotate(0.05 322.2 590.1)">0</text>
<text x="322.2" y="559.4" text-anchor="end" transform="rotate(0.05 322.2 559.4)">200</text>
<text x="322.2" y="528.6" text-anchor="end" transform="rotate(0.05 322.2 528.6)">400</text>
<text x="322.2" y="497.8" text-anchor="end" transform="rotate(0.05 322.2 497.8)">600</text>
<text x="322.2" y="467" text-anchor="end" transform="rotate(0.05 322.2 467)">800</text>
</g>
<text x="436.4" y="431.2" font-size="13.8" text-anchor="middle" transform="rotate(0.05 436.4 431.2)">Quadruped Walk</text>
<text y="614.2" font-size="11.5" transform="rotate(0.05 436.4 614.2)"><tspan x="395.4">Frames (</tspan><tspan x="446.6" dy="0.9" stroke="none" font-family="'Liberation Serif', 'DejaVu Serif', serif" font-size="15">×</tspan><tspan x="455.2" dy="-0.9" stroke="none" font-family="'Liberation Serif', 'DejaVu Serif', serif" font-size="12.6">10</tspan><tspan x="467.8" dy="-3.8" stroke="none" font-family="'Liberation Serif', 'DejaVu Serif', serif" font-size="8.4">6</tspan><tspan x="472.2" dy="3.8">)</tspan></text>
<text transform="translate(297.6 511.9) rotate(-90)" font-size="11.5" text-anchor="middle">Episode Return</text>
</g>
<g>
<rect x="601.3" y="437.0" width="221.8" height="150.9" fill="#eeeeee"/>
<path d="M611.4 437V587.9M645.3 437V587.9M679.1 437V587.9M713 437V587.9M746.8 437V587.9M780.6 437V587.9M814.5 437V587.9M601.3 581.8H823.1M601.3 551.7H823.1M601.3 521.6H823.1M601.3 491.6H823.1M601.3 461.5H823.1" stroke="#b2b2b2" stroke-width="0.7" stroke-dasharray="1.8 0.8" fill="none"/>
<g clip-path="url(#c8)">
<g transform="translate(611.4 581.8) scale(0.67680 -0.1)">
<g fill-opacity="0.2" stroke-opacity="0.2" stroke-width="0.9" vector-effect="non-scaling-stroke">
<path d="M0 11l1-1 1-2 1-1 1 4 1-2 1 1 1 1 1 3 1 1 1 4 1-1 1 0 1-2 1 0 1-9 1 4 1 3 1 1 1-4 1 4 1-3 1-2 1 1 1-1 1-2 1 3 1 3 1 1 1 2 1-3 1-2 1 3 1 2 1-3 1 2 1-2 1-2 1 1 1-2 1 3 1-3 1-1 1 0 1 1 1 5 1-2 1 0 1-2 1 4 1 0 1 2 1 0 1 0 1-5 1 3 1-1 1 0 1 5 1-3 1 0 1-4 1 1 1-3 1 4 1-1 1 3 1 4 1-4 1-4 1 2 1 1 1 0 1 1 1 3 1-4 1-5 1 5 1-3 1 4 1 2 1-1 1-3 1 1 1 2 1-8 1 3 1-2 1 3 1-1 1-4 1 5 1 3 1-1 1-1 1-1 1 1 1 3 1 7 1-5 1 1 1 2 1-3 1 4 1-4 1 1 1 3 1-6 1 2 1-3 1 1 1 0 1-3 1-1 1-1 1 1 1 1 1 1 1-1 1-1 1 4 1 0 1 0 1-3 1-1 1 4 1-4 1 6 1 1 1-1 1-2 1 0 1-2 1-2 1 0 1 1 1-1 1 1 1 1 1-1 1-1 1 1 1-4 1 2 1 3 1-8 1 5 1-1 1 1 1 0 1 0 1-1 1 5 1-5 1-3 1 2 1-1 1 0 1 3 1 2 1 1 1 3 1 2 1-2 1 0 1-2 1-2 1 3 1-5 1 3 1-2 1-1 1 3 1-4 1 1 1-1 1-2 1 1 1 2 1 2 1 3 1-1 1-2 1-1 1-1 1 1 1 5 1 1 1 1 1-6 1-3 1 5 1-2 1 3 1 0 1-1 1 0 1-2 1-3 1 4 1 0 1 1 1-3 1 3 1-3 1 0 1 0 1 2 1 2 1 0 1-4 1-2 1 3 1 0 1 2 1 0 1 0 1 0 1 2 1-3 1 4 1-3 1-3 1 3 1-1 1 0 1-2 1-1 1 1 1-2 1 1 1 2 1-1 1 2 1-3 1 2 1 0 1 0 1 1 1 3 1-2 1 0 1-3 1 0 1-3 1 1 1 5 1 5 1-2 1-3 1 0 1 1 1 7 1-2 1-3 1 0 1-2 1-4 1 1 1-1 1 5 1-2 1 2 1 1 1 0 1-2 1-1 1-3 1-5 1-2 1 4 1 3 1-2 1-3 1 7 1-4 1 4 1 0 1-6 1 4 1-3 1 2 1 0 1 3 1 0 1-1 1 1 1-4 1 0 1-2 1 4 1 0 1-2 1 1 1 2 1 3 1-5 1-1 1-1 1-3 0-12-1-2-1 1-1-1-1 3-1-2-1 0-1-1-1 4-1 0-1-3-1 4-1 1-1 0-1 5-1-1-1-3-1-1-1-2-1 3-1 1-1 1-1-4-1-1-1 0-1 3-1-4-1 1-1-1-1-3-1 4-1 0-1 1-1 4-1-1-1-2-1-2-1 1-1 1-1 2-1 0-1 0-1-1-1 0-1 4-1 2-1 2-1 1-1-4-1-7-1 3-1 2-1 0-1-4-1-1-1 2-1-1-1-2-1 3-1 1-1-1-1 1-1 1-1-2-1-1-1 1-1 1-1-2-1 1-1-3-1 1-1 0-1 1-1 1-1 1-1 0-1 0-1 0-1 1-1 3-1-2-1-1-1-2-1-1-1 1-1 1-1-3-1 0-1 0-1 0-1 2-1-2-1-1-1 3-1-1-1 0-1 1-1-3-1 2-1 3-1 0-1-1-1-1-1 1-1-2-1 1-1 3-1-4-1 0-1-2-1 3-1 0-1 3-1-2-1-3-1 2-1-1-1-1-1 5-1 2-1-3-1-1-1 2-1 0-1 0-1-3-1-2-1 2-1 0-1-1-1 2-1-5-1 3-1-1-1 0-1 1-1 1-1 0-1-3-1 0-1 1-1-1-1 2-1 0-1-1-1-2-1 0-1 4-1-3-1 2-1 1-1-1-1-1-1-2-1-1-1 2-1 2-1 1-1-1-1 1-1 1-1-3-1 2-1-1-1 1-1 1-1-1-1 1-1 1-1-2-1 0-1 0-1 1-1-2-1-1-1-4-1 2-1 1-1 4-1-1-1-4-1 1-1 1-1-4-1 3-1-2-1-2-1 2-1 4-1 2-1-1-1-2-1 4-1 2-1-1-1-2-1-2-1-2-1 0-1 3-1 1-1 0-1-3-1-1-1 0-1 2-1-3-1 0-1 4-1-6-1 3-1 1-1-2-1 5-1-3-1 2-1-3-1 4-1-1-1 0-1 0-1-1-1 0-1-1-1-2-1 1-1 3-1-2-1-1-1 5-1 0-1 0-1 0-1 0-1-1-1-5-1-2-1 5-1 1-1 2-1 1-1 3-1-6-1 1-1-2-1-3-1 0-1-1-1 1-1 2-1 0-1-1-1 0-1-1-1 1-1-1-1 2-1 2-1 2-1-7-1 0-1-1-1 3-1 1-1 0-1 1-1 1-1 0-1-5-1-2-1 1-1 1-1 0-1 0-1 1-1 3-1-1-1-2-1 3-1 0-1-2-1-2-1 3-1-1-1-1-1 1-1 5-1-5-1 0-1 2-1-1-1-1-1-1-1 0-1-1-1-1-1-1-1 2-1-1-1 0z" fill="#348ABD" stroke="#348ABD"/>
<path d="M0 4l1 2 1 11 1 5 1 9 1 5 1-9 1 1 1 12 1-8 1-5 1-17 1-7 1 15 1 21 1 18 1-14 1 11 1-18 1 19 1-25 1 26 1-11 1 2 1-2 1-8 1 5 1 0 1-8 1-7 1 9 1 14 1-13 1 17 1-3 1-4 1-10 1 36 1 12 1-20 1-32 1 14 1 9 1-9 1-1 1 17 1-8 1-9 1-2 1 2 1-9 1 17 1-17 1 0 1 3 1 15 1 5 1-23 1 1 1-12 1 7 1 12 1 7 1 4 1-7 1 19 1 1 1-8 1 11 1 5 1 13 1-26 1-3 1-15 1 33 1-11 1-14 1 12 1-10 1-1 1-2 1 31 1 27 1-23 1 14 1-16 1-27 1 7 1 4 1-9 1-14 1 12 1 7 1 1 1 2 1-15 1 9 1-26 1 1 1 3 1 13 1 26 1 22 1-13 1-18 1-9 1 0 1-14 1-2 1-9 1 1 1 22 1 7 1-8 1-6 1-17 1 22 1-25 1-20 1 20 1 36 1 2 1 1 1-20 1 13 1 1 1 21 1-8 1-4 1 10 1-2 1-9 1-2 1-4 1 16 1-18 1 19 1 3 1-18 1 22 1-12 1-24 1 18 1 14 1-10 1-4 1-6 1 10 1 7 1-1 1-7 1-17 1 20 1 25 1-9 1-25 1-5 1 32 1 1 1-8 1-10 1-5 1 9 1 0 1 15 1-29 1-17 1 4 1 2 1 40 1 18 1-25 1 9 1-49 1 19 1-12 1 23 1 41 1-27 1-16 1 17 1 12 1-13 1-23 1 10 1 3 1-1 1 2 1-13 1-7 1 5 1 2 1 1 1 10 1-6 1 28 1-6 1-17 1 17 1 5 1-29 1-30 1 22 1 21 1 6 1 3 1 33 1-11 1 12 1 9 1-31 1 3 1-24 1-3 1-45 1 20 1 6 1-4 1 3 1-9 1-5 1 12 1 23 1-15 1 8 1 6 1-24 1 46 1 37 1-23 1-51 1-1 1-2 1 22 1-1 1-7 1-24 1 20 1-6 1-1 1 3 1-17 1 30 1-29 1-3 1-14 1 15 1 11 1 26 1 0 1-16 1 3 1-13 1 6 1 22 1 13 1-10 1 5 1-6 1-3 1-13 1 12 1 22 1-28 1 8 1 13 1-23 1 33 1 15 1-42 1 11 1-17 1-24 1 7 1 12 1-7 1 26 1 0 1 5 1-3 1-18 1-18 1 29 1-9 1-21 1 7 1-18 1 22 1 4 1 19 1-16 1-7 1-33 1 28 1 36 1 0 1-29 1-3 1 7 1 18 0-93-1 10-1 1-1-9-1 29-1-11-1-8-1-11-1 17-1-1-1 23-1-26-1-21-1-1-1 29-1 7-1 8-1-31-1-5-1 17-1 15-1 12-1-7-1 4-1-6-1 8-1-28-1-5-1 17-1-19-1 6-1 11-1 3-1-12-1 2-1-16-1 2-1 0-1 12-1-1-1 13-1 26-1 0-1 4-1-3-1-26-1 5-1-2-1 1-1-24-1 4-1 16-1-21-1-10-1 22-1 16-1-14-1 8-1-17-1-1-1 12-1 19-1-19-1 0-1-7-1 27-1 5-1-16-1-1-1-8-1-9-1-5-1 10-1 11-1-1-1-28-1 19-1-1-1-14-1-9-1 16-1 7-1-7-1 1-1 3-1-8-1 23-1-3-1 7-1-2-1-5-1-2-1-3-1 4-1-23-1 6-1 7-1 4-1-23-1 11-1 10-1 2-1 1-1 1-1 7-1-22-1 20-1-15-1-3-1-9-1-10-1 9-1 21-1 2-1 3-1-8-1 1-1 15-1-13-1 6-1-13-1 4-1-14-1-13-1 0-1 19-1-19-1 22-1-5-1 7-1-4-1-13-1-7-1 11-1 15-1 6-1 5-1-4-1-13-1 6-1 14-1 1-1-9-1 2-1-10-1 10-1 25-1-10-1-5-1 3-1-3-1-6-1-9-1 7-1-7-1 8-1 7-1-9-1-17-1 21-1-11-1-8-1 12-1 15-1-26-1-9-1-11-1 0-1 4-1 16-1 7-1-7-1-3-1 22-1-15-1-8-1 0-1 14-1-14-1-13-1-4-1 0-1 0-1 25-1-19-1-6-1 6-1 22-1-26-1 12-1-5-1 3-1-12-1 0-1 9-1-3-1 7-1-13-1 8-1-7-1-1-1 0-1 4-1 21-1-25-1 23-1 9-1 0-1 9-1-3-1-7-1 16-1-20-1-5-1 8-1 4-1-18-1 2-1 4-1-3-1 1-1-6-1 11-1-10-1 20-1 1-1-9-1-2-1-6-1 11-1-23-1 15-1-2-1-5-1-15-1 0-1 10-1-10-1 0-1 0-1 0-1 6-1 0-1 2-1-8-1 2-1-2-1 0-1 12-1-6-1 13-1 2-1-21-1 0-1 6-1-6-1 0-1 11-1-1-1-10-1 23-1 4-1-5-1-9-1-3-1 9-1 5-1 1-1-13-1 1-1-10-1-3-1 0-1 0-1 1-1-1-1 0-1 0-1 7-1-3-1 13-1-17-1 0-1 5-1 14-1-11-1-6-1-2-1 0-1 6-1 1-1 7-1-10-1-4-1 3-1-2-1-1-1 0-1 0-1 0z" fill="#7A68A6" stroke="#7A68A6"/>
<path d="M0 9l1 10 1 4 1-1 1 25 1-5 1 0 1 23 1 2 1 6 1-34 1 37 1 21 1-9 1-19 1 37 1 34 1 14 1 31 1-50 1-60 1 23 1 31 1-34 1 21 1-40 1 49 1 16 1 36 1 21 1-57 1-35 1 33 1 0 1 32 1 89 1-48 1-76 1-31 1 34 1 23 1 18 1 20 1-23 1-26 1 49 1 12 1-25 1-54 1-8 1 89 1-7 1 38 1 6 1-43 1 15 1 32 1-37 1-20 1-17 1-8 1-22 1 52 1-10 1 20 1-2 1-30 1 22 1-19 1 36 1 46 1-34 1-14 1-56 1-33 1-4 1 14 1-9 1-22 1 5 1-5 1 39 1-32 1 10 1 11 1-10 1 5 1 23 1 17 1-4 1 55 1-39 1-29 1 14 1-57 1-17 1 48 1-43 1 1 1 26 1 24 1 1 1 25 1-23 1-7 1-23 1 24 1-13 1-38 1 16 1 31 1-37 1 32 1 1 1 15 1-13 1-29 1-26 1-9 1 7 1-7 1 6 1 40 1 19 1-23 1-5 1 1 1 40 1-2 1-31 1 4 1 28 1-11 1 45 1 4 1-30 1-8 1-22 1-29 1 27 1-21 1-23 1 6 1-36 1 33 1 2 1 31 1-16 1 8 1 30 1-64 1 21 1-26 1-7 1 48 1 26 1-1 1 12 1 6 1 1 1-16 1-47 1 29 1-27 1 46 1 12 1 35 1-2 1-52 1-20 1 36 1-36 1 4 1-25 1 0 1 26 1 45 1-15 1 46 1-57 1 8 1-19 1-4 1-8 1 2 1 51 1 16 1-69 1-33 1-19 1-6 1 76 1 1 1-10 1-20 1 4 1 12 1-3 1 15 1 28 1-6 1 5 1 18 1-15 1-48 1 17 1-8 1-3 1-1 1 42 1 25 1-3 1-8 1-38 1 18 1-20 1 1 1 1 1-10 1 9 1-2 1 0 1-4 1-41 1 24 1 10 1 48 1-19 1 0 1-21 1-1 1-55 1 5 1 30 1 27 1-18 1 7 1 5 1-16 1 32 1 47 1 15 1-82 1 7 1 12 1 35 1 28 1-36 1-20 1-16 1-33 1 32 1 16 1-21 1 7 1 8 1-2 1-1 1-6 1-32 1-13 1 9 1 6 1 49 1-27 1 3 1-19 1-4 1 10 1-17 1 28 1-55 1 32 1 26 1 3 1-19 1-37 1-3 1 3 1 30 1 52 1-55 1 0 1-73 1 61 1 23 1-24 1-58 1 10 1 33 1-7 1-11 1 23 1-13 1-7 1 29 1-8 1 8 1 17 1-14 0-73-1 17-1-16-1-28-1 0-1 2-1-2-1 0-1 0-1 0-1 19-1 17-1-21-1 33-1 4-1-10-1-21-1-7-1 18-1-1-1 11-1-15-1-15-1 24-1 37-1-8-1-25-1-2-1-20-1 25-1-20-1 20-1-11-1 9-1-16-1 20-1-19-1-12-1 0-1 24-1-5-1-33-1 4-1 46-1-9-1-6-1 3-1 19-1-11-1-19-1 3-1-7-1 16-1-2-1 15-1-3-1 8-1-2-1 27-1 26-1-51-1-29-1-2-1 14-1-6-1-12-1-16-1 25-1 12-1 3-1 11-1 13-1-23-1 4-1-13-1-21-1-11-1 2-1 24-1 6-1 20-1-30-1 31-1-9-1-2-1-18-1 0-1 0-1-15-1 33-1 2-1-40-1-10-1 13-1-13-1 0-1 21-1 21-1 12-1 23-1-16-1-15-1 9-1 3-1 5-1 13-1-33-1 25-1-10-1-58-1 0-1 10-1 22-1 24-1-20-1-21-1 9-1 10-1 2-1 46-1-17-1 15-1-21-1 14-1-10-1-13-1-18-1 29-1 2-1 14-1-15-1-12-1 11-1 3-1-7-1-57-1 4-1 20-1 6-1 20-1 16-1-31-1-6-1 6-1 25-1-36-1 5-1-1-1 14-1-23-1 33-1-1-1-43-1 27-1-9-1-13-1-4-1 9-1-10-1-2-1 60-1-10-1 39-1-32-1 15-1 8-1-43-1-33-1 27-1-14-1 2-1-12-1-1-1 1-1-4-1 5-1 45-1-11-1-48-1 17-1 16-1-15-1-3-1 6-1-16-1 14-1 13-1 2-1 19-1 6-1-36-1-16-1 6-1 14-1-26-1-1-1 9-1 36-1-14-1 2-1 2-1 0-1 6-1 40-1-11-1-23-1 17-1 6-1 17-1-29-1 2-1-5-1-22-1-26-1-7-1 8-1 0-1 8-1 30-1-16-1-12-1 43-1-9-1-32-1 27-1 43-1 5-1 7-1-32-1 23-1-39-1 10-1-3-1-5-1-35-1 7-1 43-1-1-1-35-1 37-1 31-1-15-1 4-1 5-1 15-1-11-1 17-1-13-1-12-1 11-1-20-1-31-1 23-1 15-1-9-1-50-1 9-1-3-1 14-1 22-1 15-1-12-1-31-1 5-1 3-1-31-1 12-1-18-1-3-1 34-1-1-1-33-1 20-1-20-1-5-1-1-1-5-1 24-1-27-1 0-1 0-1 0-1 0-1 2-1-2-1 13-1-12-1-1-1 0-1 0-1 14-1 3-1-17-1 0-1 16-1-4-1-1-1-9-1 1-1-3z" fill="#467821" stroke="#467821"/>
<path d="M0 9l1 8 1 14 1 18 1 0 1 14 1 12 1 0 1 32 1 11 1 23 1 42 1 40 1 29 1-59 1 41 1 44 1 59 1-23 1-9 1 22 1 44 1 50 1-16 1 24 1 155 1 32 1 79 1-11 1-55 1-17 1 57 1-23 1 66 1 37 1 15 1-12 1 17 1 27 1 83 1 67 1-20 1-61 1 49 1-124 1 77 1 106 1 23 1 120 1-22 1-16 1-15 1 10 1 18 1-3 1-63 1 66 1 12 1-9 1-17 1 49 1 9 1-27 1 48 1-97 1-20 1 52 1-30 1 42 1 96 1-38 1 17 1 11 1 25 1-2 1 1 1-1 1-44 1 11 1 70 1 12 1-40 1-48 1-19 1 68 1-52 1-19 1 60 1-8 1 16 1 5 1 11 1 6 1 0 1-5 1-10 1-7 1 20 1 22 1 10 1-24 1-4 1-5 1-8 1-10 1 4 1-15 1 28 1-7 1 47 1 36 1-36 1-7 1-39 1 29 1 14 1 8 1 2 1 5 1 11 1 3 1-20 1-10 1 13 1-7 1 1 1-37 1 19 1 9 1 29 1 14 1-4 1 6 1-14 1-2 1-10 1 37 1-5 1-3 1-37 1 16 1 15 1 7 1-3 1-3 1 34 1-20 1-7 1 6 1-16 1 33 1-40 1-19 1 13 1 14 1-9 1 5 1 40 1-20 1-19 1 4 1-24 1 18 1 23 1-38 1 8 1 34 1 4 1 20 1 25 1-10 1-8 1 22 1-16 1-17 1-19 1-17 1 32 1 10 1-12 1 6 1 8 1-12 1-4 1 12 1-27 1 10 1 8 1 26 1-8 1 11 1 2 1-21 1-15 1-5 1 0 1-10 1 24 1 0 1 9 1-35 1-3 1 20 1-8 1 8 1-5 1-11 1-20 1 1 1 13 1 33 1 2 1 18 1-10 1-29 1 0 1 2 1 2 1 34 1-37 1 33 1-14 1 14 1 17 1 6 1-20 1-16 1-22 1 0 1 15 1 3 1-2 1-26 1-13 1 25 1 5 1 15 1-3 1 12 1-6 1-27 1-1 1 16 1-17 1 22 1-8 1 0 1 10 1-5 1 5 1 4 1-6 1-22 1 10 1 21 1-15 1 12 1 9 1-24 1 8 1 6 1-24 1 0 1-19 1 7 1 37 1 27 1-10 1-1 1 6 1 8 1-10 1-9 1 7 1-9 1-1 1-6 1 8 1 6 1-24 1 5 1-10 1 0 1-10 1-15 1 24 1 10 1-9 1 2 1 9 1 0 1 19 1 27 1-9 1-24 1-9 1 20 1 0 1 15 1-29 0-45-1 8-1-39-1 35-1-11-1 12-1 1-1 9-1-21-1-23-1 25-1-8-1 1-1-5-1-28-1-40-1 25-1 33-1-1-1 5-1 14-1 6-1 0-1-6-1 2-1-1-1-7-1 7-1 8-1 14-1-21-1-11-1 12-1-8-1-3-1-61-1-2-1 33-1 0-1 29-1-8-1-21-1 33-1 0-1-18-1 9-1-23-1-16-1 21-1 9-1-17-1-3-1 3-1 16-1-5-1-10-1-7-1 35-1-30-1-4-1 30-1 5-1-21-1-15-1-70-1 4-1 6-1 17-1 45-1 13-1 18-1-26-1 7-1 3-1 6-1 9-1 11-1 2-1-4-1-21-1-38-1 22-1-4-1-2-1 12-1-12-1 35-1 25-1-30-1-10-1-36-1-25-1 18-1 10-1 22-1-6-1 2-1 20-1-10-1-19-1 19-1-3-1 14-1-51-1-3-1 9-1 0-1 25-1 27-1-8-1 9-1 5-1-7-1-7-1-29-1 35-1-19-1-5-1 7-1-18-1 2-1 2-1 2-1-41-1 17-1 16-1 1-1-3-1 14-1 22-1-3-1 2-1-29-1 4-1-36-1-40-1 45-1-40-1-28-1 56-1 11-1-3-1 36-1-37-1 2-1 13-1-31-1-24-1-8-1 5-1 10-1 46-1-31-1 23-1 38-1-39-1 14-1 6-1-21-1 16-1 2-1-8-1 28-1-9-1-61-1 42-1-22-1 14-1-6-1 14-1-15-1-62-1 34-1-42-1 53-1-18-1 21-1-21-1 33-1-2-1 2-1-27-1 14-1 1-1-11-1-9-1-56-1 51-1 23-1 22-1-58-1-73-1 66-1-47-1 31-1-29-1 38-1 27-1 17-1-10-1 37-1-28-1-38-1-12-1-28-1 53-1-10-1-11-1-24-1-28-1 15-1-26-1-10-1-90-1 53-1 61-1-58-1 15-1 13-1 0-1 0-1-107-1 27-1 22-1 13-1 19-1-2-1-45-1 8-1-13-1 87-1-188-1-114-1 45-1 41-1 72-1 104-1-63-1-4-1 34-1-47-1-32-1-56-1 14-1-121-1 71-1-31-1 24-1-30-1-63-1 38-1 27-1-109-1-40-1-124-1-99-1 179-1-54-1 55-1 10-1-120-1-78-1 3-1 20-1-23-1 21-1 13-1 0-1-16-1 10-1-8-1-18-1-42-1-109-1 5-1-47-1-46-1-7-1 40-1-70-1-20-1-69-1-5-1 24-1-7-1 2-1-24-1 8-1-13-1-54-1-11-1 14-1-83-1 34-1 12-1-17-1 6-1 22-1-17-1-17z" fill="#A60628" stroke="#A60628"/>
</g><g fill="none" stroke-linejoin="round" stroke-linecap="square">
<path d="M0 0l1 0 1 0 1 1 1 0 1 1 1 1 1 3 1 0 1 1 1 0 1-1 1 0 1 1 1-2 1-2 1-1 1 3 1-1 1 1 1 3 1 0 1-4 1 1 1 0 1 0 1-1 1 1 1 1 1 0 1-2 1-1 1 3 1 0 1-1 1 1 1-1 1 0 1-1 1 1 1 0 1 2 1 0 1-1 1-2 1 1 1-1 1 1 1-1 1 3 1-2 1-2 1 1 1 0 1 0 1 2 1 1 1 0 1 2 1-2 1 1 1-1 1 0 1-4 1 0 1 2 1 1 1 0 1-1 1 1 1 3 1-4 1 0 1 1 1 1 1-3 1 1 1 1 1-1 1 2 1 1 1-1 1 2 1-3 1 3 1-2 1 1 1-2 1 1 1 1 1-2 1 1 1-1 1-1 1 1 1 0 1 1 1 0 1 4 1-1 1-1 1-1 1-1 1 0 1-1 1 2 1 0 1-2 1-1 1 2 1 0 1-1 1-1 1-1 1 1 1 0 1-2 1 2 1-3 1 0 1 4 1 1 1-4 1 0 1 0 1 2 1 1 1 2 1 0 1 0 1-2 1-1 1 0 1-2 1 3 1 0 1-2 1 2 1-1 1 1 1-1 1-1 1-1 1-1 1 0 1-1 1 2 1 0 1 0 1 2 1-2 1-1 1 4 1-3 1 0 1 1 1 1 1 0 1-1 1 2 1 1 1-1 1 0 1 1 1 2 1-1 1-1 1 1 1-4 1 3 1-2 1 0 1 1 1 0 1 2 1 2 1-1 1 0 1 0 1 0 1-1 1-1 1-1 1 0 1 2 1-2 1 1 1-1 1 0 1-3 1 0 1 2 1 0 1 2 1-2 1-1 1 1 1-1 1 1 1 2 1 0 1 0 1-2 1 1 1 1 1-1 1 0 1-1 1 1 1 0 1 0 1 0 1 1 1 0 1 0 1-1 1 1 1 0 1 1 1 0 1 2 1-1 1-1 1 0 1 0 1-1 1 0 1 1 1-1 1-2 1-1 1 3 1-1 1 0 1 0 1-1 1 1 1 1 1 0 1-1 1 0 1 1 1-3 1 3 1-2 1 1 1 2 1 1 1 0 1 0 1-1 1 2 1 4 1-2 1-1 1-1 1-1 1-1 1 1 1-1 1 1 1-2 1-2 1 0 1 1 1 0 1 0 1 0 1-1 1 0 1-1 1 0 1 0 1-2 1 4 1-3 1 1 1 1 1 1 1 1 1 0 1-1 1 1 1 1 1 1 1-1 1 1 1-1 1-2 1-3 1 0 1 0 1-2 1 2 1 2 1 1 1-2 1-1 1-1 1 1" stroke="#348ABD" stroke-width="1.95"/>
<path d="M0 0l1 2 1 3 1 4 1 5 1 3 1-5 1 7 1-3 1 1 1-2 1-12 1-3 1 13 1 5 1 13 1-9 1-5 1-10 1 18 1-4 1 8 1-14 1 15 1-1 1-2 1-1 1-5 1-6 1-6 1 16 1 2 1 1 1 4 1 2 1-1 1-9 1 12 1 5 1-5 1-18 1 4 1 5 1-11 1 1 1 8 1-11 1 7 1 9 1 2 1-18 1 14 1-12 1-3 1 13 1 2 1-2 1-6 1 1 1-7 1 6 1 6 1-2 1 3 1-2 1 0 1 6 1-7 1 7 1 2 1 21 1-9 1-2 1-12 1 24 1-8 1-12 1 3 1 2 1-1 1-7 1 2 1 15 1-11 1 13 1-4 1-11 1 8 1 12 1-8 1-5 1 11 1 8 1-10 1-6 1-22 1 8 1-15 1-6 1 6 1 4 1 3 1-3 1 10 1 2 1-3 1-4 1 1 1 6 1-3 1 4 1 4 1 13 1-7 1-18 1-4 1 14 1-25 1-11 1 7 1 19 1 11 1 12 1-15 1 7 1 2 1 9 1-2 1 5 1 6 1 2 1-20 1-3 1-4 1 3 1 2 1 16 1 1 1-14 1 11 1 7 1-22 1 20 1 7 1-8 1-1 1-10 1 10 1 6 1 5 1-7 1-8 1 18 1 12 1-28 1-13 1 12 1 4 1 11 1-10 1-9 1-10 1 12 1 4 1-10 1 5 1-17 1-12 1 14 1 13 1 0 1-6 1 6 1-35 1 14 1-13 1 14 1 13 1 11 1 5 1 7 1-3 1-1 1-13 1 9 1-1 1-4 1-10 1-7 1-7 1 7 1 13 1-3 1 13 1-15 1 26 1-9 1-8 1-6 1-8 1-1 1-3 1 9 1 10 1-6 1-13 1 27 1 2 1 4 1-2 1 7 1-3 1-13 1 6 1-27 1 21 1-15 1 1 1-6 1 0 1-8 1 5 1 19 1-4 1-15 1 21 1-5 1 12 1-6 1 5 1-3 1 6 1-8 1 12 1 4 1-19 1-10 1-4 1 15 1 1 1 6 1-17 1 10 1-16 1 9 1-9 1-7 1 6 1 19 1-13 1-3 1 19 1-5 1 4 1 0 1 15 1 1 1 1 1 1 1-7 1-16 1-2 1 5 1-7 1 2 1 6 1-14 1 11 1 6 1-9 1-1 1 8 1-22 1-3 1 24 1-10 1 15 1-4 1-2 1-1 1-13 1-19 1 5 1 19 1-8 1 7 1-23 1 11 1 4 1 18 1-11 1-9 1-15 1 16 1 7 1 21 1-10 1 0 1 2 1 8" stroke="#7A68A6" stroke-width="1.95"/>
<path d="M0 0l1 5 1 3 1 5 1 7 1 5 1-10 1 13 1 9 1 0 1-28 1 25 1 3 1-5 1 13 1-2 1 8 1-18 1 16 1-5 1-18 1 22 1 14 1-17 1 3 1-8 1 12 1 37 1-22 1 6 1-9 1-20 1 12 1 18 1-7 1 14 1 4 1-8 1 9 1 9 1-5 1-9 1 2 1-6 1-7 1 48 1-10 1-11 1-12 1 5 1 29 1 14 1 0 1 10 1-11 1-4 1 2 1-7 1 11 1-5 1-28 1-14 1 23 1 0 1-3 1-10 1-6 1 9 1-11 1 28 1 24 1-25 1 18 1-13 1-6 1-24 1-4 1 6 1-15 1-25 1 9 1 9 1-3 1-4 1 19 1-16 1-17 1 32 1 12 1-5 1 3 1 19 1-19 1 15 1-17 1-4 1 9 1-13 1-7 1 13 1 7 1-8 1-10 1-8 1-10 1 5 1 2 1 5 1-17 1-1 1 39 1-13 1-15 1 12 1 6 1-18 1-4 1-14 1 4 1 10 1 4 1-19 1 32 1 2 1-34 1-10 1 9 1 20 1 13 1-4 1-1 1-3 1-13 1 19 1 16 1 4 1-7 1 14 1-11 1-1 1-31 1-12 1 24 1-23 1 4 1-6 1 16 1-13 1 23 1-2 1-19 1 25 1-25 1 9 1 1 1 19 1-10 1-3 1 2 1 37 1-25 1-10 1-4 1 1 1-4 1 24 1 11 1 9 1-24 1 2 1 19 1-11 1-24 1-9 1 12 1 30 1 25 1-16 1 9 1-29 1 9 1-28 1 3 1 0 1-1 1 1 1 3 1-15 1-23 1-8 1 20 1 35 1 16 1-11 1-9 1-9 1 0 1 4 1-1 1 10 1 8 1-27 1 12 1 7 1-32 1 11 1-4 1-18 1 7 1 20 1 10 1 11 1-17 1-5 1-2 1-11 1 17 1 3 1-9 1 19 1-5 1-14 1-21 1-10 1 9 1 13 1 12 1-5 1 37 1-22 1 10 1-23 1-5 1-1 1 2 1 10 1-4 1 15 1-9 1 17 1 24 1-26 1-3 1 0 1-1 1 12 1-11 1 4 1 2 1-6 1-25 1 8 1 16 1-15 1 11 1 7 1 4 1-28 1 8 1 8 1-26 1-2 1-12 1 15 1-7 1-1 1-3 1 2 1 7 1-13 1 16 1-18 1 18 1 12 1 11 1 15 1-26 1-17 1 9 1 5 1-4 1-7 1-9 1-22 1 32 1-1 1-4 1-30 1 18 1-3 1-16 1-10 1 1 1 11 1 10 1 8 1-7 1 24 1 15 1-13" stroke="#467821" stroke-width="1.95"/>
<path d="M0 0l1 8 1 10 1 10 1 3 1 10 1 0 1-10 1 35 1 4 1 16 1 31 1 8 1 16 1-3 1 22 1 14 1 12 1 2 1 8 1 19 1 44 1 23 1 12 1 66 1 71 1-1 1 66 1 13 1 39 1 18 1 24 1-13 1-2 1-16 1 25 1-6 1 12 1 39 1 35 1 94 1-46 1-13 1 37 1-20 1 79 1 42 1 39 1 61 1-1 1 32 1 36 1-25 1-14 1 6 1-35 1 64 1 12 1-1 1-1 1 44 1 8 1 6 1 15 1-56 1-8 1 3 1-23 1 41 1 97 1-22 1 2 1 8 1 3 1-2 1-15 1 7 1-1 1-8 1 24 1-4 1 4 1 1 1-9 1 46 1-41 1-6 1 43 1-2 1 9 1 7 1 19 1-5 1 2 1 33 1-38 1 13 1 27 1 22 1 11 1-28 1 1 1-5 1-8 1-18 1 7 1-10 1 24 1-25 1 29 1 49 1-33 1-15 1-24 1 26 1-1 1 7 1 7 1 11 1 11 1-2 1-3 1-12 1 6 1-7 1 6 1-20 1 14 1-11 1 25 1 7 1 6 1 12 1-17 1 5 1-17 1 28 1-9 1 0 1-5 1 7 1 6 1 7 1-9 1 6 1 23 1-27 1-19 1 15 1-22 1 0 1-9 1-5 1 17 1 6 1-5 1 2 1 32 1-17 1-7 1-4 1-21 1 14 1 21 1-23 1 12 1 14 1 1 1 25 1 7 1-4 1-6 1 6 1-13 1-2 1-4 1-8 1 20 1-5 1 7 1 0 1 7 1 1 1-9 1 12 1-22 1 11 1 13 1 14 1-21 1 5 1 14 1-14 1-3 1-21 1 0 1-5 1 20 1-4 1 0 1-4 1 0 1 12 1-9 1-2 1 0 1-1 1-8 1-9 1 10 1 26 1-4 1 25 1-19 1-13 1 6 1 1 1-3 1 16 1-17 1 15 1-9 1 8 1 5 1 7 1-19 1-2 1-8 1-2 1 18 1-5 1-3 1-18 1-12 1 0 1 4 1 25 1-5 1 13 1-7 1-23 1 1 1 19 1-15 1 13 1 6 1-2 1-10 1 2 1 1 1 8 1-8 1-16 1 9 1 17 1-11 1 16 1 5 1-20 1 10 1 7 1-22 1 13 1-14 1 5 1 29 1 16 1-3 1-11 1 2 1 11 1-14 1-12 1-1 1 9 1-5 1 0 1 13 1 4 1-17 1-2 1-5 1 0 1-15 1-10 1 23 1 11 1 1 1-6 1 9 1-9 1 5 1 25 1-7 1-10 1-3 1 7 1-17 1 20 1-1" stroke="#A60628" stroke-width="3.5"/>
</g></g>
</g>
<path d="M611.4 587.9v-3.4M645.3 587.9v-3.4M679.1 587.9v-3.4M713 587.9v-3.4M746.8 587.9v-3.4M780.6 587.9v-3.4M814.5 587.9v-3.4M601.3 581.8h3.4M601.3 551.7h3.4M601.3 521.6h3.4M601.3 491.6h3.4M601.3 461.5h3.4" stroke="#000" stroke-width="0.85" fill="none"/>
<rect x="601.3" y="437.0" width="221.8" height="150.9" fill="none" stroke="#bcbcbc" stroke-width="0.96"/>
<g font-size="9.6">
<text x="611.4" y="598.9" text-anchor="middle" transform="rotate(0.05 611.4 598.9)">0.0</text>
<text x="645.3" y="598.9" text-anchor="middle" transform="rotate(0.05 645.3 598.9)">0.5</text>
<text x="679.1" y="598.9" text-anchor="middle" transform="rotate(0.05 679.1 598.9)">1.0</text>
<text x="713" y="598.9" text-anchor="middle" transform="rotate(0.05 713 598.9)">1.5</text>
<text x="746.8" y="598.9" text-anchor="middle" transform="rotate(0.05 746.8 598.9)">2.0</text>
<text x="780.6" y="598.9" text-anchor="middle" transform="rotate(0.05 780.6 598.9)">2.5</text>
<text x="814.5" y="598.9" text-anchor="middle" transform="rotate(0.05 814.5 598.9)">3.0</text>
<text x="598.1" y="585.4" text-anchor="end" transform="rotate(0.05 598.1 585.4)">0</text>
<text x="598.1" y="555.3" text-anchor="end" transform="rotate(0.05 598.1 555.3)">50</text>
<text x="598.1" y="525.2" text-anchor="end" transform="rotate(0.05 598.1 525.2)">100</text>
<text x="598.1" y="495.2" text-anchor="end" transform="rotate(0.05 598.1 495.2)">150</text>
<text x="598.1" y="465.1" text-anchor="end" transform="rotate(0.05 598.1 465.1)">200</text>
</g>
<text x="712.2" y="431.2" font-size="13.8" text-anchor="middle" transform="rotate(0.05 712.2 431.2)">Reach Duplo</text>
<text y="614.2" font-size="11.5" transform="rotate(0.05 712.2 614.2)"><tspan x="671.2">Frames (</tspan><tspan x="722.4" dy="0.9" stroke="none" font-family="'Liberation Serif', 'DejaVu Serif', serif" font-size="15">×</tspan><tspan x="731.1" dy="-0.9" stroke="none" font-family="'Liberation Serif', 'DejaVu Serif', serif" font-size="12.6">10</tspan><tspan x="743.6" dy="-3.8" stroke="none" font-family="'Liberation Serif', 'DejaVu Serif', serif" font-size="8.4">6</tspan><tspan x="748.1" dy="3.8">)</tspan></text>
<text transform="translate(573.5 511.9) rotate(-90)" font-size="11.5" text-anchor="middle">Episode Return</text>
</g>
<g>
<rect x="50.15" y="643.55" width="221.8" height="150.9" fill="#eeeeee"/>
<path d="M60.3 643.5V794.4M94.1 643.5V794.4M128 643.5V794.4M161.8 643.5V794.4M195.7 643.5V794.4M229.5 643.5V794.4M263.3 643.5V794.4M50.1 793.4H271.9M50.1 764.4H271.9M50.1 735.4H271.9M50.1 706.3H271.9M50.1 677.3H271.9M50.1 648.3H271.9" stroke="#b2b2b2" stroke-width="0.7" stroke-dasharray="1.8 0.8" fill="none"/>
<g clip-path="url(#c9)">
<g transform="translate(60.3 793.4) scale(0.67680 -0.1)">
<g fill-opacity="0.2" stroke-opacity="0.2" stroke-width="0.9" vector-effect="non-scaling-stroke">
<path d="M0 76l1 29 1 23 1-1 1 34 1-7 1 5 1 25 1-14 1 13 1 10 1 12 1-36 1-17 1-15 1 56 1-3 1 28 1 19 1-3 1-87 1-9 1 51 1-16 1 75 1-83 1 24 1-25 1 35 1-20 1 41 1-21 1-5 1 34 1 22 1-72 1-2 1 0 1 4 1-2 1 7 1 2 1-11 1-25 1 55 1-23 1 8 1 20 1-32 1 0 1 3 1-7 1 24 1-9 1-24 1 31 1-21 1-53 1-29 1 40 1 58 1-46 1 88 1-71 1-31 1 15 1 31 1-27 1 30 1 34 1-18 1-22 1 37 1 3 1 33 1-20 1-38 1-58 1-15 1 56 1 67 1 57 1-40 1-55 1-23 1 59 1-33 1-25 1-38 1-29 1 79 1-3 1 14 1 31 1-22 1 15 1 19 1-86 1-37 1 5 1-11 1 41 1-4 1-7 1-23 1 5 1 48 1-10 1 36 1-27 1 20 1-34 1 8 1-13 1 21 1-29 1 10 1 8 1 21 1-57 1 42 1 36 1-67 1 1 1 40 1 21 1-18 1-13 1 67 1-4 1 2 1-33 1-21 1 19 1 1 1-18 1-9 1-38 1 6 1 25 1 73 1-65 1 24 1-15 1 25 1-12 1 15 1 7 1 11 1-52 1-10 1-13 1 43 1-19 1 5 1-12 1 18 1-1 1-2 1 1 1-16 1-21 1 26 1 8 1 19 1-30 1 7 1-33 1-11 1 45 1 62 1-6 1 12 1 35 1-79 1-11 1 57 1-49 1 13 1-8 1-67 1 90 1-16 1-8 1-10 1-35 1 22 1 1 1 5 1-11 1-41 1-18 1-9 1 4 1 73 1 11 1 23 1-17 1 8 1 19 1-41 1-8 1 33 1 2 1-39 1 3 1 46 1 24 1-11 1-31 1 23 1-36 1 9 1-6 1 34 1-14 1-17 1 28 1-18 1-27 1-4 1-35 1 23 1 40 1-46 1 43 1 22 1 13 1-15 1-42 1-29 1-43 1 81 1 6 1-37 1 9 1 27 1-10 1-12 1 24 1 4 1-9 1 5 1 0 1-20 1 19 1 24 1 33 1-81 1 28 1-28 1 35 1-12 1-4 1-52 1 16 1 15 1-7 1-33 1 34 1 34 1 11 1 12 1-2 1 19 1-98 1 9 1-55 1-25 1 87 1 16 1-8 1-31 1-4 1-5 1 7 1-12 1 28 1 3 1 6 1-23 1 9 1 37 1-74 1 36 1-50 1 46 1 17 1 9 1 25 1-15 1-30 1 17 1-12 1-14 1 21 1-2 1 8 1 11 1 17 0-81-1-20-1 6-1 12-1-34-1-54-1 2-1-5-1 0-1 5-1 3-1-8-1 0-1 38-1-38-1 0-1 0-1 36-1-14-1-1-1 0-1-2-1-2-1-17-1 0-1 0-1 0-1 0-1 10-1-6-1-4-1 0-1 0-1 0-1 11-1 36-1-9-1-20-1-18-1 0-1 0-1 0-1 0-1 26-1 4-1-8-1 73-1-61-1 15-1-35-1-1-1 11-1 63-1-12-1-15-1-28-1 19-1-50-1 46-1-16-1 8-1 5-1 11-1-21-1-34-1 0-1 26-1-9-1-17-1 7-1 80-1 33-1-19-1-59-1 28-1-47-1 40-1-39-1-20-1 30-1 27-1 19-1 11-1-5-1 42-1 25-1-55-1-9-1 0-1 22-1-21-1 13-1 20-1-19-1-34-1-30-1 18-1 23-1-7-1-53-1 45-1-18-1-2-1 51-1-45-1 21-1-73-1 4-1-4-1 20-1 22-1-12-1 10-1 7-1-12-1 41-1-15-1-28-1 25-1-18-1 26-1 34-1-17-1 9-1-52-1 3-1 54-1-23-1 19-1 36-1-61-1-68-1 1-1 45-1-8-1-4-1 19-1-6-1-27-1 35-1 22-1-18-1-24-1-8-1 1-1 19-1-31-1 51-1-36-1-3-1-3-1 47-1 9-1-29-1 11-1-3-1-39-1 7-1-12-1 80-1-66-1 10-1-1-1 45-1 1-1-4-1-8-1-19-1 34-1-9-1 12-1 11-1-61-1 5-1 11-1 11-1-34-1 0-1 12-1-43-1-3-1 0-1 22-1 8-1-3-1-15-1-12-1 30-1 4-1 31-1 12-1-32-1-20-1 8-1-9-1-18-1 33-1-4-1-9-1-26-1 21-1-15-1 0-1 55-1 15-1-49-1-24-1-3-1 31-1 2-1-33-1 0-1 0-1 37-1 49-1-23-1 14-1 42-1 21-1-69-1-32-1-22-1-17-1 58-1 43-1 7-1-25-1-1-1 4-1 17-1-8-1-26-1-60-1 21-1-30-1 0-1 0-1 46-1-46-1 40-1-40-1 0-1 0-1 12-1 27-1-18-1-3-1-18-1 0-1 0-1 0-1 14-1 33-1 23-1 2-1-25-1-47-1 0-1 17-1-6-1-11-1 0-1 0-1 30-1 19-1 32-1-27-1-45-1 32-1 19-1-34-1 45-1-55-1 10-1-26-1 41-1-41-1 0-1 0-1 7-1 44-1 43-1-33-1-45-1 29-1-36-1 10-1-17-1-2-1 9-1 27-1-10-1 18-1-19-1 32-1 8-1-19-1-5-1-5-1-4z" fill="#348ABD" stroke="#348ABD"/>
<path d="M0 96l1 65 1 71 1 56 1 104 1 105 1 35 1 35 1 67 1-29 1 38 1-39 1 150 1 23 1 14 1-72 1 62 1 84 1-43 1-9 1 52 1-38 1 18 1-19 1 59 1-32 1 58 1-20 1 14 1 19 1-35 1-32 1 36 1 57 1 49 1 19 1-14 1-41 1-16 1 109 1 64 1 16 1-79 1-20 1 40 1 20 1-70 1-61 1 14 1-46 1-10 1 7 1 112 1 91 1-24 1-45 1-62 1 57 1-87 1 39 1 1 1 38 1 37 1-8 1-104 1 141 1-52 1-79 1 66 1 43 1-97 1-10 1 53 1 1 1 37 1-7 1-140 1 80 1-20 1-12 1-14 1 46 1 34 1-77 1-89 1 18 1-10 1 53 1 92 1-133 1 50 1 27 1 92 1 103 1 84 1-106 1-69 1 40 1 38 1-26 1 79 1-86 1 82 1-13 1 39 1-28 1-1 1 11 1 70 1-99 1 70 1-106 1 48 1 59 1-88 1 33 1 3 1 3 1-50 1 12 1 62 1-5 1 0 1 57 1 8 1-84 1-32 1 5 1 8 1-29 1 86 1-62 1-44 1-75 1-3 1 13 1-3 1 119 1-35 1-11 1 102 1 23 1-7 1-10 1-72 1 87 1-68 1 99 1-39 1-20 1 20 1 36 1-9 1-45 1 45 1-100 1-98 1 76 1-17 1 112 1-52 1-9 1 44 1 70 1 22 1-71 1-81 1-12 1 26 1-51 1-100 1 138 1 20 1 55 1 19 1-53 1 21 1-32 1-42 1 49 1 8 1 39 1 35 1-54 1-28 1 82 1-33 1 29 1-126 1 87 1-27 1 87 1-47 1 37 1 33 1-138 1 46 1-20 1 4 1-52 1 29 1-57 1 12 1 117 1-89 1 116 1-146 1 178 1 62 1-67 1 38 1 1 1-70 1-59 1-2 1 61 1-48 1 70 1 52 1-42 1-2 1 13 1-98 1-74 1 37 1-82 1 40 1 5 1-13 1-32 1 67 1-102 1 108 1-66 1-36 1 56 1-49 1 66 1-104 1 20 1 4 1 53 1-45 1 49 1-26 1-19 1-23 1 36 1-15 1-4 1 27 1 100 1-120 1-39 1 46 1 31 1 16 1-35 1-7 1-68 1-94 1 137 1-108 1-3 1 26 1 112 1 60 1-48 1 129 1 84 1-101 1-76 1-42 1 12 1 30 1-50 1 51 1 59 1-12 1-59 1-103 1-49 1 98 1 103 1-62 1-72 1-9 1-9 1-82 1 13 1 62 1 9 1-9 1-92 1 157 1-81 1 17 1 68 1-157 1 56 0-188-1-42-1 114-1-112-1-56-1 111-1-75-1 37-1 79-1 28-1-107-1 87-1 49-1-23-1-28-1 31-1 77-1-123-1-59-1 34-1 114-1-44-1-36-1 12-1 53-1 53-1-91-1 65-1 53-1 77-1 21-1-92-1-73-1 48-1-22-1-121-1-90-1-27-1 38-1-153-1 90-1 35-1 103-1-22-1 77-1-52-1 3-1 34-1 44-1-136-1-29-1 38-1 7-1 8-1-15-1 17-1 57-1-28-1-12-1-33-1-7-1 24-1 47-1-9-1-40-1-12-1-4-1 167-1-156-1 98-1-3-1 6-1 24-1 36-1-83-1 30-1 56-1-2-1 60-1-46-1 75-1 137-1-64-1-177-1 111-1-64-1 63-1-15-1 12-1-22-1-32-1 48-1-78-1-169-1 136-1-85-1 131-1-136-1 10-1-10-1 20-1 53-1 56-1-35-1-50-1 133-1 23-1-74-1 143-1-114-1 50-1-56-1 10-1-32-1 22-1 11-1-59-1 108-1-25-1-33-1-68-1 5-1-34-1 88-1-8-1 47-1 13-1-69-1-107-1-6-1 42-1 89-1-16-1-45-1 77-1 150-1-109-1-67-1-69-1 45-1 9-1-42-1 29-1-46-1-3-1 40-1-58-1 7-1 66-1 36-1-105-1-16-1 52-1-30-1 99-1-59-1 59-1-65-1 74-1-112-1-70-1 33-1 90-1-72-1 5-1-70-1 7-1-6-1 69-1 96-1-71-1 42-1-16-1-67-1 69-1 7-1 66-1-86-1-16-1 17-1-19-1 23-1-69-1-15-1 9-1 50-1 23-1-52-1 16-1 39-1-50-1 77-1-13-1-34-1 34-1-9-1-41-1 29-1-60-1-11-1-37-1 97-1-48-1-96-1 82-1 6-1-39-1-149-1-49-1 32-1-40-1 124-1-56-1 24-1 24-1-110-1 67-1 29-1 1-1 17-1 32-1-7-1 47-1-113-1 68-1 22-1 76-1-25-1-172-1 35-1 111-1 71-1-91-1 52-1 57-1-182-1 52-1 54-1-41-1 34-1-15-1-74-1 99-1-45-1 38-1-12-1 6-1-20-1-74-1-49-1-28-1 54-1 74-1-48-1 122-1-33-1 9-1 12-1 29-1-38-1-34-1-103-1 55-1 37-1-46-1-15-1 23-1-50-1-62-1 35-1 39-1-57-1 11-1-77-1 49-1 12-1-16-1-27-1-26-1 56-1 9-1-10-1-17-1-59-1-81-1 13-1 9-1 13-1-115-1 70-1-90-1 24-1-25-1-45-1-12-1-83-1-70-1-40-1-48-1-49z" fill="#7A68A6" stroke="#7A68A6"/>
<path d="M0 94l1 89 1 82 1 99 1 58 1 68 1 59 1-26 1 55 1 120 1 42 1 68 1-41 1-40 1-46 1 24 1-4 1 74 1-26 1 51 1-62 1 54 1 115 1-49 1 83 1 4 1 12 1-24 1-64 1 36 1-36 1 37 1-70 1 9 1 108 1 1 1 104 1 73 1-21 1 32 1-9 1-23 1 6 1-68 1-7 1-33 1-121 1 145 1-49 1-21 1 101 1-49 1 88 1-32 1 93 1-28 1 1 1 54 1 18 1-41 1 33 1-63 1 42 1-70 1-40 1 34 1 25 1-42 1 42 1 0 1-56 1-25 1 154 1-133 1-18 1-66 1 22 1-79 1-9 1-103 1 54 1 44 1-61 1 1 1 229 1 35 1-15 1-120 1-57 1-7 1-7 1 14 1 63 1 5 1-6 1 117 1 77 1 82 1-75 1 156 1-76 1-26 1-17 1-133 1 11 1 79 1 14 1-67 1-58 1-134 1 65 1 13 1 2 1 106 1-79 1-85 1 17 1 80 1 68 1-4 1-111 1 64 1-10 1-42 1 68 1-71 1-20 1-7 1 28 1-10 1 61 1-72 1-19 1-122 1-52 1 31 1 50 1-24 1-25 1 127 1 188 1-157 1 70 1-5 1 136 1-53 1-37 1-55 1 15 1 7 1 37 1 8 1 83 1-148 1 53 1 134 1-157 1-22 1 42 1-23 1-27 1-99 1 20 1-30 1 21 1 101 1-152 1 118 1-69 1 124 1 22 1-49 1-6 1 53 1 2 1-33 1 79 1 21 1-40 1-59 1-35 1 20 1 55 1 33 1-46 1 31 1 24 1-74 1-47 1 16 1 83 1 2 1-15 1 22 1-28 1 30 1-147 1-70 1 77 1 86 1-136 1-51 1 23 1 26 1 4 1-57 1 23 1 66 1 81 1-54 1-68 1-52 1 43 1 17 1 54 1 86 1-38 1-13 1 82 1-56 1-59 1 26 1-181 1 17 1 123 1-22 1 106 1-91 1 97 1-38 1-92 1 143 1 27 1-85 1-99 1 32 1 24 1-16 1-26 1-28 1-155 1 7 1 61 1 59 1 141 1-128 1 76 1-40 1 51 1 42 1-26 1-124 1-22 1 81 1-41 1 102 1-32 1 3 1 41 1-178 1 56 1 13 1 41 1-100 1 45 1-42 1 89 1-61 1-24 1 165 1-120 1-19 1 136 1 9 1-173 1 7 1-3 1-8 1 51 1 45 1 70 1-119 1 54 1-129 1 28 1-4 1-47 1 7 1 97 1 70 1-12 1-64 1 124 1 61 1 38 1-152 1 93 1-56 1 76 1 15 0-283-1-51-1-111-1 71-1-35-1 87-1-2-1-26-1-148-1 42-1-8-1-74-1-28-1-31-1 19-1 65-1-31-1 120-1-78-1 89-1-101-1 43-1-41-1 64-1 25-1-49-1 116-1 9-1-113-1-1-1 143-1-183-1 6-1 92-1-99-1 147-1-161-1 149-1-64-1 67-1-16-1 85-1 34-1-25-1-71-1-80-1 79-1-71-1 18-1 112-1-23-1 7-1-60-1 85-1-40-1-22-1-94-1-86-1-39-1 23-1 131-1 13-1-35-1-20-1-68-1 17-1 189-1 35-1 74-1-126-1 73-1-14-1-90-1 92-1-103-1 59-1-137-1-84-1 160-1 33-1 108-1-24-1-61-1 36-1 9-1-43-1-124-1 38-1-105-1 113-1 24-1 31-1-57-1-86-1-13-1 59-1 1-1-70-1 74-1 10-1 19-1-135-1 57-1 82-1 167-1-4-1-82-1-30-1 80-1-11-1-110-1 93-1 97-1-40-1 35-1-150-1 14-1 48-1 22-1-81-1 77-1 43-1 18-1-79-1 38-1-56-1 15-1-173-1 129-1 6-1 7-1-94-1 97-1-47-1 29-1-47-1 31-1 2-1 28-1 135-1-28-1-4-1-39-1 48-1 43-1-152-1-2-1 12-1-42-1 14-1-20-1 13-1 95-1 29-1-59-1 81-1-137-1-8-1-76-1 73-1 5-1-210-1-33-1 101-1 10-1-74-1 100-1 2-1 19-1 84-1-23-1-14-1 13-1-78-1 69-1 27-1-59-1 51-1-13-1-30-1 93-1 67-1-97-1-56-1-127-1 98-1 92-1-87-1 74-1 16-1-150-1 125-1 34-1-7-1-54-1-62-1 105-1 76-1-74-1 80-1 128-1-24-1-11-1-32-1-23-1-181-1-8-1 8-1-124-1 100-1 11-1 11-1 38-1 23-1-7-1 11-1-129-1 21-1 5-1-3-1-8-1 38-1-81-1 76-1-99-1 147-1 17-1 102-1-110-1 3-1 20-1 96-1-31-1 98-1-80-1-108-1 5-1 39-1 6-1 100-1 38-1-29-1 39-1-97-1-4-1 30-1-37-1 27-1-126-1 136-1-73-1-68-1 68-1-156-1 45-1-1-1 31-1 85-1-50-1 55-1 62-1 44-1-48-1-109-1-166-1-8-1-19-1 26-1 56-1-39-1-31-1 17-1 92-1-33-1 10-1-24-1-62-1 112-1-134-1 2-1-30-1-24-1 17-1-44-1 34-1-53-1-13-1 30-1 93-1-75-1-20-1-100-1 9-1-16-1 13-1-66-1-67-1-49-1-77-1-91z" fill="#467821" stroke="#467821"/>
<path d="M0 98l1 34 1 54 1 37 1-14 1 14 1 57 1 80 1 142 1-34 1 37 1-16 1-3 1-12 1 8 1-24 1-16 1 23 1 46 1 2 1 61 1-23 1-24 1-45 1 36 1 116 1 83 1-12 1 28 1-13 1 9 1 78 1-6 1 24 1 0 1 66 1-27 1 35 1 36 1 4 1 54 1 17 1-3 1 25 1 30 1 73 1 21 1 18 1 21 1 9 1-56 1 62 1-2 1 0 1 22 1 24 1 19 1 43 1-17 1-24 1 38 1 13 1 42 1 10 1-57 1 81 1-47 1 46 1-7 1 12 1-42 1 72 1-6 1-11 1-46 1 8 1 13 1 12 1-50 1 27 1-11 1-8 1 19 1-23 1 5 1-3 1 8 1-3 1 1 1-1 1 10 1 25 1-12 1 13 1-11 1 8 1 2 1 0 1 19 1-4 1-14 1-12 1 21 1-16 1-3 1 22 1-2 1-1 1 5 1-3 1 10 1 10 1-10 1 8 1 12 1-35 1-7 1-6 1-4 1-33 1-11 1 26 1 7 1-2 1 21 1 24 1-6 1 26 1 0 1-28 1-3 1-1 1-8 1 7 1 29 1-1 1 2 1 0 1-6 1-5 1 2 1-5 1 13 1 4 1-4 1 4 1-8 1-9 1 1 1-3 1 4 1-9 1-1 1 1 1 7 1-15 1-10 1 11 1-4 1 12 1-6 1-3 1 6 1 1 1 2 1-4 1-12 1 16 1 22 1 1 1-12 1 1 1-14 1-5 1-18 1 5 1-9 1 8 1 15 1 19 1-4 1 1 1 6 1 3 1-18 1-6 1 3 1 22 1-20 1-12 1-4 1 7 1-3 1-7 1 24 1-11 1-10 1 1 1 5 1-10 1 6 1-6 1 2 1-5 1 12 1-19 1 2 1 40 1 7 1-15 1-12 1-5 1 16 1-12 1 3 1 7 1-13 1 22 1-17 1-8 1 11 1 0 1-12 1 2 1 12 1-8 1 19 1-3 1-1 1-7 1-5 1 2 1-2 1 17 1-14 1-17 1-5 1 24 1 1 1-2 1 6 1 15 1-23 1 7 1 7 1 8 1-9 1-5 1 3 1 6 1 0 1 1 1-12 1-9 1 4 1-3 1-1 1 11 1 7 1-4 1-10 1-13 1 16 1 1 1 3 1-25 1 5 1-3 1 10 1-2 1-16 1 9 1 10 1 4 1 8 1 11 1-7 1 6 1-23 1 0 1 3 1-1 1-5 1 7 1-12 1 8 1 8 1-13 1-14 1 6 1 16 1 0 1 13 1-4 1-14 1 0 1 14 1 6 1-16 1-9 0-43-1-1-1 30-1-6-1 0-1-5-1 12-1 1-1-17-1-3-1-12-1-13-1 19-1 20-1-5-1-21-1 17-1-20-1 16-1 0-1-3-1 12-1 14-1-9-1 10-1-10-1-7-1-13-1-26-1-10-1 26-1 21-1-33-1-1-1-18-1 60-1-4-1-19-1-10-1 19-1 14-1 2-1-14-1-17-1 4-1 10-1-12-1 25-1 12-1-6-1 3-1-16-1 2-1 9-1 4-1 0-1-1-1-11-1 28-1-20-1-21-1 9-1 9-1-51-1 8-1 19-1 18-1-22-1 11-1-7-1 0-1 11-1 10-1 10-1-14-1 3-1-13-1-28-1 19-1-3-1-10-1 10-1 32-1-32-1 26-1-7-1 7-1 6-1-26-1 3-1 7-1 11-1-3-1-64-1-3-1 32-1-32-1 28-1 16-1 9-1-11-1 9-1-7-1-15-1 34-1 10-1-52-1 0-1 13-1 6-1 7-1 15-1 17-1-28-1 0-1 5-1 2-1 3-1 4-1-5-1 13-1-5-1-27-1-16-1 0-1-4-1 35-1-14-1 24-1 10-1 11-1-10-1-27-1-28-1 24-1 18-1-15-1 6-1-10-1 13-1-8-1-43-1 10-1 4-1 20-1 24-1-17-1 14-1-17-1 5-1 6-1-2-1-18-1 3-1 27-1 3-1 6-1-13-1-14-1 5-1 8-1 1-1 21-1-4-1-4-1-1-1-36-1-19-1 35-1 8-1-12-1 57-1-10-1-43-1-2-1-41-1-35-1-16-1-16-1-56-1 44-1 50-1 2-1 33-1 21-1 57-1-18-1-14-1 6-1-12-1-3-1-12-1-2-1-17-1 12-1-30-1-1-1 36-1-32-1 4-1 21-1 5-1-14-1 10-1-25-1-3-1 3-1-36-1 12-1-11-1-9-1-7-1-22-1-11-1-12-1-33-1 2-1 21-1-59-1 35-1 47-1-51-1 7-1 21-1-30-1-25-1-30-1 23-1 9-1 13-1 40-1-30-1 3-1-72-1 22-1-70-1 18-1-3-1-4-1 13-1-13-1-14-1 19-1-23-1-24-1-21-1 27-1-19-1-14-1-68-1 21-1 20-1 18-1-5-1-36-1-52-1-29-1-17-1-39-1 17-1-26-1-17-1-13-1-72-1-15-1-36-1 8-1-16-1 13-1-77-1-22-1 32-1-47-1 16-1-11-1-133-1-165-1 59-1 65-1 39-1-56-1-19-1-16-1-40-1 67-1 5-1-38-1 32-1-13-1-13-1 2-1 32-1-240-1-196-1 0-1 0-1 0-1 1-1-1-1 0z" fill="#A60628" stroke="#A60628"/>
</g><g fill="none" stroke-linejoin="round" stroke-linecap="square">
<path d="M0 68l1 16 1 16 1 5 1 24 1-9 1 8 1 24 1-23 1-13 1-6 1-14 1-5 1 13 1-20 1 39 1-18 1 41 1 23 1-7 1-67 1-24 1 13 1-23 1 54 1-44 1 27 1-3 1 36 1-41 1 37 1 0 1-21 1 20 1 27 1-39 1-14 1-45 1 8 1 0 1 27 1 14 1-6 1-10 1 35 1-2 1 36 1 1 1-44 1-23 1 21 1-22 1 15 1 14 1 8 1 4 1-26 1-31 1-31 1 27 1 64 1-57 1 50 1-51 1-13 1 11 1 52 1-29 1 29 1 22 1 12 1-16 1 4 1 7 1 11 1-12 1-14 1-67 1 6 1 32 1 51 1 60 1-31 1-22 1-31 1 36 1-52 1-25 1-3 1-18 1 53 1 4 1-24 1 26 1-30 1 30 1 7 1-46 1-13 1 8 1-30 1 38 1-10 1-4 1-13 1 11 1 23 1 15 1 14 1 17 1-13 1-31 1 9 1-29 1 12 1-2 1 0 1 3 1-19 1-33 1 20 1 60 1-44 1 12 1 26 1 8 1-6 1-14 1 59 1-11 1 6 1-1 1-44 1 4 1 27 1-10 1-17 1-23 1 17 1 0 1 34 1-55 1 15 1-12 1 24 1 7 1 15 1 11 1-19 1-39 1 18 1-4 1 17 1-23 1 21 1-17 1 19 1-8 1-3 1 0 1-23 1-7 1 27 1 9 1-9 1-8 1 11 1-36 1-11 1 48 1 57 1-8 1-25 1 19 1-39 1 6 1 32 1-16 1 3 1-2 1-42 1 43 1-20 1 7 1 11 1-35 1 21 1-3 1-22 1 15 1-29 1-16 1 15 1-33 1 101 1 6 1 4 1-39 1 4 1 8 1-44 1 29 1-6 1 3 1-6 1 11 1 30 1 12 1 4 1-32 1 0 1-19 1 18 1 18 1 22 1 0 1-19 1 22 1-25 1-15 1-18 1-35 1 38 1 24 1-42 1 23 1-27 1 61 1-14 1-27 1-53 1-26 1 51 1-7 1-5 1 22 1 25 1 3 1-25 1 3 1 1 1 0 1-38 1 37 1-9 1 15 1 26 1 11 1-60 1 26 1-35 1 37 1-27 1 47 1-50 1 4 1 0 1-49 1 0 1 16 1 8 1 18 1 39 1 0 1 9 1-45 1 0 1-23 1-16 1 13 1 3 1 18 1-13 1-2 1-23 1 26 1-24 1 44 1 7 1-5 1-20 1 2 1 28 1-51 1 16 1-17 1 67 1-31 1-14 1 4 1 16 1-44 1 32 1-9 1 1 1 52 1 12 1 5 1 7 1 16" stroke="#348ABD" stroke-width="1.95"/>
<path d="M0 70l1 60 1 57 1 48 1 72 1 107 1 36 1 9 1 43 1 6 1 45 1-22 1 117 1-9 1-27 1-51 1 102 1 39 1-8 1 16 1 36 1-54 1 28 1 38 1 13 1-30 1 11 1 26 1-9 1 30 1-35 1-10 1 56 1 26 1 80 1 15 1-16 1-6 1-25 1 65 1 14 1-9 1-29 1-12 1 26 1 19 1-106 1 9 1-60 1-33 1 52 1 30 1 91 1 45 1-19 1-24 1-23 1 42 1-72 1 71 1 5 1 8 1 66 1-55 1-99 1 132 1-81 1-75 1 80 1 18 1-44 1-24 1 78 1 11 1-52 1 12 1-89 1 50 1-24 1 9 1 5 1-15 1 41 1-33 1-75 1 23 1-10 1 31 1 27 1-123 1 63 1-26 1 78 1 99 1 117 1-69 1-58 1 67 1 45 1-65 1 25 1-52 1 111 1-20 1 45 1-37 1-8 1 22 1 61 1-73 1 29 1-36 1-41 1 53 1-29 1-14 1-45 1 23 1 1 1-25 1 6 1 31 1 38 1 22 1-50 1-15 1-17 1 30 1 34 1-39 1 95 1-71 1-10 1-41 1-8 1 30 1-41 1 91 1-69 1-16 1 113 1 36 1-21 1 25 1-88 1 68 1-51 1 79 1-48 1-9 1 53 1 5 1-22 1 1 1 22 1-68 1-69 1 37 1 6 1 62 1 0 1-50 1 23 1 85 1 44 1-99 1-47 1 9 1 17 1-71 1-38 1 48 1 74 1 49 1-1 1-51 1 14 1-34 1-4 1 11 1-1 1 47 1 64 1-97 1-5 1 27 1 12 1 69 1-85 1 24 1-25 1 75 1-65 1 34 1 10 1-137 1 51 1-19 1-18 1-31 1 13 1-8 1 25 1 86 1-78 1 71 1-104 1 130 1-2 1-37 1 46 1 29 1 11 1-42 1-35 1 98 1-80 1 75 1 13 1-66 1-30 1 50 1-77 1-12 1 33 1-80 1 30 1-39 1-59 1-18 1 40 1-65 1 96 1-55 1-20 1 32 1 15 1 40 1-94 1-5 1-19 1 43 1 6 1 60 1-61 1-10 1 5 1-14 1-10 1-34 1 52 1 63 1-46 1-36 1 35 1 25 1-45 1-9 1-30 1 5 1-60 1 91 1-99 1-8 1 66 1 128 1 20 1-69 1 102 1 56 1-26 1-39 1-58 1-62 1 69 1-32 1 21 1 39 1 18 1-26 1-96 1-21 1 66 1 47 1-49 1-38 1-26 1 19 1-63 1 1 1 25 1 27 1-53 1-42 1 108 1-94 1 47 1 80 1-130 1 65" stroke="#7A68A6" stroke-width="1.95"/>
<path d="M0 71l1 91 1 72 1 73 1 57 1 32 1 32 1-13 1 13 1 141 1-6 1 69 1-61 1-8 1-15 1 28 1 28 1 24 1-4 1 10 1 23 1 4 1 118 1-29 1 72 1 1 1 16 1 8 1-80 1-42 1 29 1 30 1-51 1-27 1 6 1 54 1 106 1 106 1 46 1-41 1-57 1-20 1 7 1-56 1 28 1-14 1-100 1 170 1-66 1 12 1 22 1-20 1 66 1-19 1 38 1-65 1 71 1 82 1-23 1-22 1 17 1-37 1 12 1-15 1-43 1 48 1 19 1-62 1 45 1-20 1-36 1-25 1 71 1-115 1 4 1-61 1 54 1-61 1 20 1-51 1-1 1 55 1-52 1-31 1 159 1 11 1 6 1-26 1-48 1-32 1-19 1-48 1 92 1-4 1 39 1 100 1 75 1 38 1-29 1 71 1-103 1-36 1 41 1-78 1-31 1 104 1 2 1-70 1-78 1-122 1 88 1 22 1-52 1 65 1 4 1-78 1 52 1 42 1 41 1-5 1-86 1 47 1 36 1-54 1 87 1-66 1-25 1 14 1-11 1-24 1 26 1-42 1-8 1-42 1-56 1 49 1 6 1-97 1 15 1 101 1 101 1-105 1 88 1-5 1 87 1-6 1 7 1-42 1-4 1 12 1 17 1 62 1 60 1-111 1 9 1 79 1-102 1-13 1 71 1-34 1-23 1-95 1 3 1-37 1 28 1 55 1-74 1 103 1-45 1 48 1 11 1-8 1-27 1 74 1-49 1 16 1 17 1 57 1-32 1-48 1-33 1 58 1-11 1 33 1 7 1 35 1 7 1-42 1-19 1-34 1 45 1-18 1-12 1 42 1-9 1-30 1-147 1 18 1 53 1 81 1-127 1-3 1-13 1-3 1 58 1-49 1-10 1 33 1 22 1-52 1 1 1-30 1 78 1 0 1 28 1 45 1-16 1 0 1 27 1-26 1-57 1 26 1-150 1 28 1 102 1-9 1 73 1-90 1 54 1-29 1-29 1 93 1 3 1-42 1-74 1 16 1 42 1-39 1-39 1 3 1-135 1 10 1 39 1 49 1 121 1-70 1 81 1-12 1-22 1 9 1-2 1-106 1-42 1 115 1-93 1 65 1 48 1-1 1 49 1-145 1 50 1-27 1 48 1-95 1 67 1-45 1 65 1-74 1 3 1 171 1-132 1-7 1 86 1 10 1-121 1-31 1-35 1 16 1 18 1 1 1 95 1-96 1 5 1-41 1 32 1-5 1-62 1 19 1 90 1 69 1-32 1-32 1 81 1 44 1 46 1-108 1 62 1-53 1 102 1 24" stroke="#467821" stroke-width="1.95"/>
<path d="M0 71l1 26 1 47 1 31 1-12 1 11 1 36 1 91 1 132 1-21 1 8 1-20 1 9 1-5 1 9 1-5 1-21 1 19 1 39 1 0 1 52 1-24 1-28 1-42 1 70 1 108 1 46 1-10 1 31 1-1 1 21 1 66 1 1 1 5 1-1 1 40 1 20 1 44 1 37 1 21 1 18 1-6 1 11 1 26 1 33 1 44 1 6 1 43 1-4 1-7 1 6 1 29 1-4 1 29 1-9 1 8 1 17 1 15 1 2 1 17 1 38 1 12 1-3 1-4 1 6 1 44 1-2 1 28 1-7 1 12 1-18 1 4 1-5 1-3 1 8 1 14 1 3 1 15 1-2 1 11 1-13 1 11 1 8 1-21 1 13 1 8 1 4 1-3 1 6 1-10 1 3 1 19 1 7 1 18 1-9 1 4 1 7 1 2 1 16 1-9 1-13 1 1 1 14 1-16 1-3 1 25 1-2 1-4 1 6 1 3 1 12 1 8 1-8 1 3 1 16 1-39 1-9 1-9 1-6 1-24 1-20 1 25 1 8 1 4 1 18 1 23 1 2 1 25 1 8 1-44 1 6 1 5 1-15 1 3 1 25 1-1 1 11 1-9 1-10 1 2 1-3 1 1 1 12 1 11 1-10 1 8 1-19 1-12 1 8 1-3 1 10 1-8 1 2 1-6 1 6 1-12 1-9 1 4 1-5 1 16 1-5 1 2 1 3 1 0 1 4 1-3 1-9 1 7 1 13 1 11 1-14 1 2 1-13 1 5 1-17 1 1 1-7 1 8 1 14 1 17 1-13 1-1 1 11 1 5 1-14 1-13 1 2 1 22 1-19 1-11 1-3 1 2 1-6 1 0 1 26 1-8 1-16 1 6 1 4 1-7 1 8 1-3 1 0 1-9 1 12 1-18 1-3 1 39 1 4 1-6 1-13 1-2 1 17 1-14 1-2 1 5 1-11 1 25 1-22 1-3 1 7 1 1 1-9 1 11 1 1 1-5 1 18 1 0 1-10 1-8 1-1 1 2 1-6 1 16 1-10 1-10 1-5 1 21 1 0 1-1 1 9 1 9 1-17 1 8 1 4 1 5 1-7 1-6 1-1 1 10 1-7 1 5 1-10 1-10 1 4 1-3 1 0 1 12 1 2 1-3 1-8 1-11 1 7 1 8 1 7 1-32 1 5 1 1 1 14 1-2 1-17 1 7 1 7 1 10 1 7 1 10 1-7 1 6 1-17 1-4 1 6 1-7 1-6 1 9 1-7 1 8 1 5 1-14 1-11 1 4 1 8 1 3 1 11 1-4 1-8 1 4 1 8 1 4 1-20 1-1" stroke="#A60628" stroke-width="3.5"/>
</g></g>
</g>
<path d="M60.3 794.4v-3.4M94.1 794.4v-3.4M128 794.4v-3.4M161.8 794.4v-3.4M195.7 794.4v-3.4M229.5 794.4v-3.4M263.3 794.4v-3.4M50.1 793.4h3.4M50.1 764.4h3.4M50.1 735.4h3.4M50.1 706.3h3.4M50.1 677.3h3.4M50.1 648.3h3.4" stroke="#000" stroke-width="0.85" fill="none"/>
<rect x="50.15" y="643.55" width="221.8" height="150.9" fill="none" stroke="#bcbcbc" stroke-width="0.96"/>
<g font-size="9.6">
<text x="60.3" y="805.6" text-anchor="middle" transform="rotate(0.05 60.3 805.6)">0.0</text>
<text x="94.1" y="805.6" text-anchor="middle" transform="rotate(0.05 94.1 805.6)">0.5</text>
<text x="128" y="805.6" text-anchor="middle" transform="rotate(0.05 128 805.6)">1.0</text>
<text x="161.8" y="805.6" text-anchor="middle" transform="rotate(0.05 161.8 805.6)">1.5</text>
<text x="195.7" y="805.6" text-anchor="middle" transform="rotate(0.05 195.7 805.6)">2.0</text>
<text x="229.5" y="805.6" text-anchor="middle" transform="rotate(0.05 229.5 805.6)">2.5</text>
<text x="263.3" y="805.6" text-anchor="middle" transform="rotate(0.05 263.3 805.6)">3.0</text>
<text x="46.9" y="797" text-anchor="end" transform="rotate(0.05 46.9 797)">0</text>
<text x="46.9" y="768" text-anchor="end" transform="rotate(0.05 46.9 768)">200</text>
<text x="46.9" y="739" text-anchor="end" transform="rotate(0.05 46.9 739)">400</text>
<text x="46.9" y="709.9" text-anchor="end" transform="rotate(0.05 46.9 709.9)">600</text>
<text x="46.9" y="680.9" text-anchor="end" transform="rotate(0.05 46.9 680.9)">800</text>
<text x="46.9" y="651.9" text-anchor="end" transform="rotate(0.05 46.9 651.9)">1000</text>
</g>
<text x="161.1" y="637.8" font-size="13.8" text-anchor="middle" transform="rotate(0.05 161.1 637.8)">Reacher Easy</text>
<text y="820.7" font-size="11.5" transform="rotate(0.05 161.1 820.7)"><tspan x="120.1">Frames (</tspan><tspan x="171.2" dy="0.9" stroke="none" font-family="'Liberation Serif', 'DejaVu Serif', serif" font-size="15">×</tspan><tspan x="180" dy="-0.9" stroke="none" font-family="'Liberation Serif', 'DejaVu Serif', serif" font-size="12.6">10</tspan><tspan x="192.5" dy="-3.8" stroke="none" font-family="'Liberation Serif', 'DejaVu Serif', serif" font-size="8.4">6</tspan><tspan x="197" dy="3.8">)</tspan></text>
<text transform="translate(16.2 718.4) rotate(-90)" font-size="11.5" text-anchor="middle">Episode Return</text>
</g>
<g>
<rect x="325.45" y="643.55" width="221.8" height="150.9" fill="#eeeeee"/>
<path d="M335.6 643.5V794.4M369.4 643.5V794.4M403.3 643.5V794.4M437.1 643.5V794.4M471 643.5V794.4M504.8 643.5V794.4M538.6 643.5V794.4M325.4 793.4H547.2M325.4 764.2H547.2M325.4 735H547.2M325.4 705.8H547.2M325.4 676.6H547.2M325.4 647.4H547.2" stroke="#b2b2b2" stroke-width="0.7" stroke-dasharray="1.8 0.8" fill="none"/>
<g clip-path="url(#c10)">
<g transform="translate(335.6 793.4) scale(0.67680 -0.1)">
<g fill-opacity="0.2" stroke-opacity="0.2" stroke-width="0.9" vector-effect="non-scaling-stroke">
<path d="M0 20l1-2 1 4 1 12 1 3 1-3 1-1 1-3 1-10 1 11 1-2 1-5 1 4 1-19 1 4 1 3 1-2 1 11 1-4 1-7 1 14 1-1 1 7 1-9 1 3 1-2 1-12 1 8 1-2 1 10 1-5 1 19 1-11 1-13 1 6 1-15 1 15 1-8 1-11 1 4 1 11 1 9 1-4 1-8 1-9 1 2 1-7 1 18 1 3 1-11 1 15 1 0 1-8 1 3 1 18 1-1 1-14 1-3 1 4 1 5 1-9 1-3 1-6 1-6 1 11 1 13 1-5 1 12 1-12 1 1 1 5 1-1 1-5 1 9 1-31 1 13 1-1 1 8 1 4 1-13 1 5 1 1 1 14 1 0 1-17 1-1 1 9 1 0 1-3 1 6 1-3 1 10 1-15 1 1 1 0 1-12 1 10 1-1 1 5 1 4 1-4 1-1 1-8 1-7 1 0 1 12 1 11 1 4 1-4 1 13 1-24 1-3 1 2 1 22 1-10 1 2 1-4 1-11 1 14 1 8 1-2 1-22 1 9 1-6 1 13 1 11 1-19 1-3 1 0 1-6 1-7 1 4 1-1 1 3 1 1 1 19 1-7 1 1 1 12 1-13 1-8 1 7 1-16 1 8 1 6 1 3 1-10 1-10 1 9 1 1 1 1 1 0 1-6 1 11 1-1 1 5 1 14 1-4 1-19 1 10 1-12 1 10 1 17 1-16 1 10 1-6 1 2 1 16 1-16 1-4 1-6 1-8 1 6 1 7 1 10 1 6 1-14 1 3 1-7 1 21 1-6 1-20 1-6 1 10 1 5 1 16 1-5 1-10 1-10 1-16 1 7 1 12 1 2 1-15 1 3 1 11 1-8 1 7 1 0 1-9 1 10 1 2 1 7 1 1 1-18 1-5 1 10 1 3 1 7 1 22 1-11 1-3 1 4 1-4 1-7 1-4 1-8 1 3 1-4 1 6 1 14 1-17 1 14 1-20 1-2 1 18 1 2 1-16 1-5 1 9 1-10 1 3 1 0 1-4 1 21 1 1 1-15 1 3 1 3 1 5 1-11 1 4 1 0 1 8 1-12 1 1 1-1 1 6 1 11 1-5 1-16 1 9 1 14 1 5 1-16 1-7 1 8 1-4 1 5 1 5 1-12 1-2 1-10 1 5 1-2 1-6 1 21 1-12 1 3 1 10 1 15 1-12 1-1 1-10 1-7 1 15 1-3 1-5 1 2 1 1 1 10 1-2 1 6 1-12 1 17 1-17 1 0 1 2 1 2 1 4 1 10 1-13 1-8 1 11 1 3 1-9 1 4 1-1 1 7 1-5 0-23-1 1-1-4-1-2-1-5-1 1-1 1-1-2-1 0-1 0-1 0-1 2-1 2-1-4-1 0-1 11-1-11-1 13-1-8-1-5-1 0-1 1-1-1-1 3-1 1-1-4-1 2-1 1-1-3-1 11-1-10-1-1-1 0-1 8-1-8-1 0-1 0-1 0-1 0-1 0-1 5-1-4-1-1-1 8-1-8-1 0-1 13-1 3-1-11-1-5-1 9-1 0-1-9-1 0-1 0-1 0-1 4-1-2-1-2-1 0-1 4-1-4-1 0-1 0-1 14-1 3-1-17-1 2-1 0-1-2-1 3-1-3-1 0-1 8-1 0-1-8-1 0-1 4-1-4-1 19-1-19-1 0-1 0-1 0-1 8-1-1-1 9-1 2-1 2-1 2-1 12-1-27-1-1-1-6-1 0-1 0-1 12-1-1-1-11-1 0-1 0-1 2-1-2-1 0-1 0-1 0-1 0-1 0-1 0-1 0-1 0-1 0-1 7-1 3-1-1-1-8-1 1-1-2-1 2-1 11-1 3-1-16-1 11-1-9-1 4-1-6-1 0-1 1-1-1-1 0-1 0-1 8-1 9-1-8-1-2-1 0-1-7-1 11-1-9-1-2-1 7-1-7-1 7-1 4-1-11-1 3-1-3-1 0-1 3-1 1-1 0-1-4-1 0-1 0-1 7-1-2-1-5-1 0-1 9-1-9-1 0-1 8-1-8-1 0-1 6-1-6-1 0-1 0-1 0-1 0-1 0-1 0-1 0-1 1-1 11-1-12-1 0-1 0-1 0-1 4-1 2-1-5-1-1-1 0-1 7-1-1-1 10-1-15-1-1-1 0-1 2-1 5-1 3-1 6-1-16-1 0-1 0-1 0-1 0-1 0-1 0-1 0-1 0-1 0-1 0-1 0-1 0-1 2-1 6-1-4-1-2-1-2-1 0-1 4-1-4-1 0-1 5-1 11-1-16-1 0-1 0-1 0-1 0-1 0-1 0-1 0-1 11-1-8-1 9-1-9-1-2-1 6-1 2-1-5-1 5-1-9-1 0-1 0-1 0-1 0-1 10-1-9-1-1-1 0-1 13-1-6-1-7-1 0-1 0-1 0-1 0-1 4-1 4-1-8-1 0-1 0-1 0-1 0-1 3-1 1-1-4-1 0-1 0-1 0-1 0-1 0-1 0-1 6-1 4-1-10-1 0-1 0-1 0-1 0-1 0-1 0-1 0-1 1-1-1-1 2-1-2-1 0-1 0-1 0-1 0-1 0-1 0-1 0-1 0-1 0-1 5-1-4-1 8-1-4-1-5-1 2-1 2-1-3-1 2-1 0z" fill="#348ABD" stroke="#348ABD"/>
<path d="M0 15l1 11 1 8 1 6 1 16 1 1 1 10 1 7 1-2 1 25 1 10 1 32 1 31 1 11 1 18 1 8 1 21 1 20 1 6 1 35 1 24 1-52 1 66 1-10 1 24 1 36 1 10 1 23 1-19 1 30 1-35 1-9 1 49 1 42 1-45 1 25 1-84 1 25 1 32 1 92 1-15 1-54 1-7 1 40 1-37 1 25 1-9 1-37 1 45 1-6 1-11 1 59 1-32 1 30 1-5 1 65 1 31 1-16 1 41 1 4 1 30 1-14 1-8 1 22 1-7 1-44 1-89 1-3 1 104 1 101 1 6 1-16 1-81 1 25 1 7 1-16 1 88 1-28 1-49 1 149 1-72 1 13 1 118 1-54 1-84 1 63 1 147 1-31 1-96 1-28 1-10 1-95 1 37 1-159 1 126 1 107 1 45 1 10 1-2 1-36 1 48 1-32 1 100 1-57 1-77 1-39 1 106 1 60 1-156 1 23 1 78 1-15 1-56 1 94 1-205 1 186 1 35 1 38 1-56 1 37 1-2 1 64 1-21 1-17 1-47 1 46 1 29 1 16 1 25 1-173 1 101 1 58 1 132 1-122 1 95 1 18 1-93 1 51 1-92 1-51 1-17 1 103 1 56 1-58 1-51 1-19 1-92 1 9 1 146 1 64 1 116 1-47 1-19 1-99 1-29 1-16 1 57 1-63 1-64 1 101 1-3 1 10 1-36 1 87 1 37 1-134 1 91 1 55 1-48 1-59 1 15 1 18 1 111 1 33 1-69 1-77 1 66 1 10 1 25 1-5 1 22 1-27 1-116 1 10 1 161 1 43 1-29 1-23 1 9 1-64 1 26 1 50 1 123 1 53 1-116 1-51 1-154 1-119 1 110 1 12 1-3 1 19 1-40 1 70 1 16 1-27 1 33 1 76 1-5 1 27 1-14 1 27 1-46 1 82 1-94 1 64 1 8 1 17 1-8 1-16 1 29 1-67 1 47 1-73 1-25 1 0 1 130 1 57 1-14 1 53 1-24 1-64 1-94 1-84 1 67 1-24 1-15 1-19 1 42 1 10 1-74 1-34 1 35 1-7 1 30 1-43 1 49 1 95 1-50 1 17 1 42 1-70 1 64 1 46 1 48 1-122 1-9 1 91 1-7 1-35 1 9 1 41 1-102 1 93 1-79 1 14 1-16 1 133 1-94 1 4 1-16 1-105 1 74 1-94 1 38 1-6 1-123 1 44 1 182 1-56 1-108 1 2 1 13 1-55 1-80 1 117 1-4 1 24 1 78 1-7 1-28 1-80 1 4 1-103 1-36 1 105 1 2 1-17 1 55 1 40 0-386-1-9-1-10-1-79-1 58-1-25-1 16-1 40-1 76-1 21-1 21-1-2-1-19-1-81-1-42-1-136-1 145-1 80-1-23-1 49-1 31-1 41-1-62-1-97-1 93-1 44-1 27-1 23-1 2-1 3-1-79-1 45-1 66-1-102-1 19-1 17-1-13-1-56-1 138-1-94-1-31-1 127-1 19-1-34-1 78-1 40-1-33-1-30-1-51-1 46-1-21-1 3-1-81-1-42-1 48-1-48-1-19-1-54-1-71-1 121-1 140-1-42-1-33-1 51-1 51-1-76-1-56-1 61-1 94-1 56-1 43-1-43-1-29-1 42-1-101-1-107-1 45-1 89-1-29-1 91-1-31-1-6-1-57-1 35-1-75-1-58-1-40-1-7-1 86-1-73-1 21-1 20-1-33-1 4-1 78-1-26-1-17-1-2-1-60-1-69-1-40-1-48-1-14-1 83-1 42-1 83-1 89-1-77-1 6-1 4-1-71-1 45-1-56-1 55-1 47-1-46-1-160-1-67-1 65-1 109-1-55-1 22-1 22-1 22-1-69-1 43-1 33-1-20-1-78-1-14-1-37-1 41-1 24-1 19-1-4-1 16-1-85-1 0-1 81-1-36-1-12-1-92-1 57-1-22-1 2-1 94-1 50-1 17-1-4-1-34-1-110-1-70-1-40-1 66-1 51-1 11-1 12-1 21-1-66-1-126-1 74-1 56-1-3-1 16-1 109-1-75-1-32-1 59-1 4-1-26-1-102-1 90-1-10-1-35-1-1-1 38-1-52-1 53-1-4-1-108-1 29-1 15-1 37-1 51-1-77-1-163-1 132-1-33-1-23-1 27-1-40-1-39-1 53-1 51-1-38-1-6-1-33-1 29-1 51-1-40-1 23-1 23-1-15-1 35-1-101-1-115-1-82-1 201-1-74-1 113-1-28-1 23-1 70-1-7-1-142-1-87-1 111-1 98-1-117-1-58-1 76-1-67-1 58-1-29-1-29-1-22-1 0-1 0-1 62-1-23-1 31-1-52-1-107-1-36-1 1-1 24-1 121-1 28-1-10-1-64-1-57-1-3-1 20-1 39-1-23-1-95-1-18-1 16-1 26-1-62-1 68-1 30-1-63-1 15-1 9-1-21-1-20-1 35-1-78-1 42-1 45-1-60-1-64-1-22-1 87-1 18-1-20-1 30-1-55-1-21-1-11-1-20-1 38-1 23-1 40-1-50-1-60-1-4-1-29-1 39-1-2-1-10-1-25-1-9-1 9-1 0-1-28-1 1-1-32-1-27-1-4-1 2-1 13-1-13-1-7-1-1-1-19-1 7-1-4-1-3z" fill="#7A68A6" stroke="#7A68A6"/>
<path d="M0 20l1 12 1 5 1 9 1 8 1 10 1 19 1 63 1 32 1 27 1 20 1 7 1 49 1 5 1 56 1-27 1 11 1-6 1-27 1-15 1 31 1 42 1-45 1-58 1 4 1 58 1 17 1 37 1-20 1-43 1 77 1-13 1-2 1 58 1 63 1-59 1-76 1-19 1-75 1 10 1 58 1 70 1 76 1 36 1-67 1-3 1-70 1 8 1 55 1-63 1-36 1 55 1 57 1-55 1 2 1-36 1 43 1 79 1 0 1-8 1 1 1 0 1 10 1 95 1-18 1 8 1-93 1 28 1-33 1-13 1 13 1-13 1-21 1 21 1 1 1 78 1-91 1 68 1-21 1 30 1 34 1 15 1-33 1-3 1 39 1-8 1 21 1-45 1 47 1 75 1 16 1-30 1-9 1-46 1 9 1-59 1-21 1 42 1 43 1 37 1 15 1-13 1-40 1 50 1-22 1 72 1 9 1-104 1 46 1 45 1-51 1 65 1-75 1-46 1 10 1 1 1 46 1-1 1 41 1-70 1 76 1-16 1 28 1 6 1-81 1 2 1-53 1 38 1 81 1 17 1-34 1-29 1 112 1-63 1-21 1 38 1 86 1-21 1-62 1 17 1-45 1 7 1 71 1-29 1 42 1 43 1 22 1 38 1 48 1 36 1-87 1-36 1 44 1-92 1 22 1-17 1-93 1 15 1-45 1 50 1 32 1 22 1 12 1 20 1-35 1-42 1 71 1 79 1-12 1-25 1-119 1-7 1 23 1 0 1 54 1 107 1 43 1-4 1-127 1 38 1-29 1 15 1-98 1 12 1 14 1-20 1-56 1 51 1 92 1 65 1 55 1-55 1-79 1-90 1 28 1 74 1-27 1 55 1-56 1 6 1-10 1-21 1 42 1-14 1 61 1-19 1 53 1-79 1 35 1-49 1-83 1 71 1 31 1-52 1-27 1 18 1 28 1 61 1 52 1-37 1 60 1 24 1-26 1-14 1 14 1 5 1-22 1 30 1-62 1-1 1 36 1 71 1 5 1-39 1-1 1-27 1 39 1-82 1-6 1 10 1-6 1 116 1-96 1-76 1 57 1 88 1 21 1 13 1 1 1-47 1 85 1-10 1 85 1-59 1-100 1-81 1-48 1 34 1 46 1 49 1-34 1 118 1-69 1 1 1-39 1-33 1 10 1-135 1 125 1 44 1-38 1-23 1 80 1 11 1 5 1 16 1-1 1 116 1-60 1-62 1 22 1-22 1 55 1-57 1 10 1-107 1 14 1-23 1 31 1-63 1-43 1 50 1-4 1 30 1-55 1 39 1-71 1 83 1 100 1-27 0-573-1 12-1-85-1 10-1 53-1-73-1 123-1-81-1-22-1-61-1 32-1 25-1-25-1 32-1-50-1 101-1-20-1 133-1-10-1-80-1 36-1 108-1 55-1-56-1-16-1 26-1-53-1-42-1-84-1 7-1 13-1-4-1-87-1 28-1 16-1 21-1 55-1-12-1 33-1-100-1 59-1-38-1-76-1 35-1-12-1 85-1 87-1-5-1-67-1-10-1-41-1 28-1 12-1 54-1-7-1-116-1-39-1 99-1 9-1-12-1-92-1-19-1 29-1 77-1 53-1-14-1-25-1 20-1-29-1 10-1-81-1-33-1 40-1-22-1 6-1 21-1-65-1 101-1 45-1 83-1-115-1-51-1-36-1-77-1 32-1-5-1 60-1-24-1-13-1-25-1 69-1 34-1-10-1-4-1-3-1 35-1-24-1 57-1-65-1-14-1 37-1 48-1-84-1-72-1 44-1-2-1-41-1-2-1 104-1 26-1-34-1-69-1-76-1-111-1 159-1 2-1-14-1 10-1 54-1-20-1-12-1-42-1 117-1 40-1-64-1-87-1-36-1-25-1-9-1 52-1 79-1-1-1 42-1-75-1-48-1 46-1 4-1-67-1-29-1 33-1 13-1 7-1 6-1-66-1 57-1-18-1 42-1 49-1-38-1 53-1 50-1 22-1-40-1 10-1 27-1-87-1-142-1 32-1-78-1 36-1 27-1-7-1 71-1 8-1-64-1-24-1-2-1 89-1-41-1-10-1-29-1 26-1-102-1 15-1 62-1-65-1 53-1 5-1 47-1 25-1-3-1-21-1-34-1-45-1-16-1 7-1 83-1-82-1 65-1-69-1 76-1-25-1-66-1 109-1-11-1-33-1 6-1-23-1 57-1 27-1-45-1-38-1-34-1-31-1 57-1-13-1 35-1 28-1-9-1 77-1-23-1-67-1-3-1 20-1-9-1-2-1-11-1-34-1 60-1-22-1-3-1-43-1 33-1-39-1 15-1-79-1 54-1 31-1-10-1 2-1-39-1 40-1-14-1-9-1 88-1 31-1-18-1-68-1-27-1-16-1 13-1 5-1 21-1-88-1-15-1 67-1 11-1 34-1-40-1-25-1-4-1 62-1-81-1 5-1 86-1-6-1 58-1-20-1-63-1-53-1-21-1-3-1 51-1 40-1 66-1 73-1-46-1-77-1 10-1-39-1-81-1 50-1 70-1-22-1-22-1-32-1-25-1 33-1 53-1-33-1 8-1 18-1 30-1 36-1-16-1 43-1-58-1 6-1-26-1-8-1-8-1-25-1-33-1-36-1-11-1-2-1-4-1 3-1 3-1-5z" fill="#467821" stroke="#467821"/>
<path d="M0 20l1-3 1 14 1-1 1-13 1 41 1 25 1 23 1 18 1 15 1 0 1-25 1 2 1 4 1 27 1 20 1 15 1 47 1-21 1 8 1 42 1 3 1 45 1 5 1-3 1-7 1 1 1 18 1 11 1-14 1 33 1 5 1 1 1-8 1 40 1 64 1 94 1-25 1-36 1 73 1 19 1-30 1 25 1-43 1 10 1 36 1 9 1-38 1-12 1 72 1-42 1-2 1 12 1 27 1 34 1 31 1 0 1-10 1 94 1 67 1-56 1 48 1-59 1 4 1 25 1 12 1 89 1-2 1-31 1-36 1-11 1-60 1 69 1 4 1 48 1 91 1 63 1-67 1-24 1 86 1 38 1-34 1-36 1 47 1 1 1-22 1 21 1 45 1-27 1-87 1-34 1 29 1 32 1 12 1 17 1 71 1 17 1-32 1 1 1 76 1-7 1-20 1 19 1 62 1-30 1 47 1-32 1-3 1 75 1 9 1-24 1-37 1 63 1-61 1 16 1-13 1 50 1-5 1-6 1-20 1-5 1 18 1 66 1 32 1-32 1 29 1-3 1-20 1-46 1-15 1-89 1 40 1 58 1 45 1-1 1 22 1 24 1-20 1-15 1 30 1-23 1-28 1 34 1 16 1 8 1-1 1 8 1-2 1 23 1-16 1 23 1 17 1-29 1-24 1 1 1 8 1-7 1-25 1 17 1-4 1-28 1-11 1 28 1 24 1-16 1 40 1-12 1-9 1 0 1 12 1 13 1-10 1 23 1-28 1 18 1-36 1 7 1 25 1-27 1 5 1-10 1-23 1-17 1 28 1 26 1 2 1 10 1-11 1 15 1-7 1-8 1 4 1 20 1 15 1-14 1 2 1 1 1-11 1 9 1-13 1-7 1 18 1-3 1 14 1-9 1-15 1 21 1-24 1 15 1-14 1-10 1-2 1 31 1-12 1-10 1 14 1 11 1 13 1-17 1-7 1 18 1 7 1 6 1-15 1 4 1-16 1 32 1-4 1 14 1-2 1 8 1-21 1 1 1-9 1 2 1 2 1-11 1-19 1 10 1 31 1-13 1 3 1-8 1 12 1-21 1 8 1-22 1-10 1 12 1 9 1 1 1 9 1 33 1-21 1 4 1-16 1 7 1-8 1-5 1 23 1 6 1-3 1-31 1 3 1 26 1-8 1 9 1 7 1-14 1-7 1-18 1 15 1-6 1 16 1-8 1 2 1 0 1 4 1-2 1 14 1-9 1-10 1 3 1 11 1 6 1 8 1-10 1-10 1-10 1 11 1 6 1-3 1-14 1 22 1-7 1 1 1 1 1-5 1-8 1-2 0-52-1 16-1 10-1 9-1-13-1 5-1 6-1-40-1 37-1 4-1-7-1-20-1 25-1 0-1 11-1-21-1-14-1-5-1-6-1 15-1 15-1-19-1 5-1-14-1 0-1-3-1 22-1-21-1 14-1-47-1 31-1 18-1 18-1-18-1-1-1 2-1-47-1-20-1 62-1 18-1-9-1-20-1 1-1 12-1-5-1 7-1 4-1 18-1-41-1 2-1-1-1-25-1-43-1 30-1 33-1-8-1 36-1-37-1 10-1-1-1 4-1-47-1-13-1 13-1 49-1 8-1-3-1 7-1-22-1 9-1 6-1 16-1-2-1-9-1-36-1 17-1 0-1 10-1-23-1-14-1-32-1 39-1 8-1-6-1-10-1-34-1 19-1 10-1-40-1 21-1-13-1 25-1-36-1 41-1 10-1 11-1-21-1 8-1-1-1-39-1 12-1-7-1 4-1 17-1-1-1 5-1 31-1-43-1-8-1 10-1 4-1-12-1-14-1 13-1-4-1-5-1-53-1-68-1 52-1 20-1-14-1-11-1 44-1-66-1-9-1 72-1-21-1-5-1 24-1-9-1-4-1 10-1-31-1 44-1 11-1-80-1 52-1-47-1-86-1 79-1 5-1 50-1 6-1 14-1-1-1-30-1 12-1-19-1 27-1-10-1-37-1 24-1-56-1 19-1-23-1-26-1 50-1 6-1-84-1-6-1 9-1-48-1 36-1 19-1-6-1 14-1-37-1-112-1-20-1-66-1 184-1-102-1 91-1 36-1-7-1-58-1 17-1-17-1-44-1 3-1-20-1-24-1-16-1 85-1-36-1 63-1-46-1 4-1-70-1 36-1 28-1-7-1-11-1 2-1 40-1-29-1-76-1-47-1-20-1 60-1-1-1-154-1 91-1 28-1-73-1-11-1-28-1-33-1-78-1 5-1 109-1-42-1 51-1-18-1 4-1-7-1 48-1-33-1-1-1 19-1-74-1-50-1-14-1 24-1 32-1-42-1-20-1-46-1-36-1 51-1-26-1-24-1 30-1-23-1 1-1-35-1-8-1-40-1 61-1-20-1-46-1 17-1 23-1-60-1-14-1-6-1-24-1 19-1-96-1 82-1-14-1-77-1-35-1 5-1 37-1 6-1-73-1 102-1-24-1 52-1-46-1-39-1-17-1 20-1-92-1-25-1 7-1-17-1-43-1 18-1 30-1-19-1-5-1 4-1-28-1 23-1-8-1-4-1-15-1-12-1 2-1-48-1 0-1-12-1 21-1-43-1-13-1-10-1-9-1 56-1 8-1-20-1-14-1-55-1-11-1-54-1 5-1 0-1 7-1 24z" fill="#A60628" stroke="#A60628"/>
</g><g fill="none" stroke-linejoin="round" stroke-linecap="square">
<path d="M0 12l1 0 1 2 1 4 1-3 1-3 1 8 1 1 1-7 1 3 1-6 1-3 1 4 1-9 1 0 1 0 1 0 1 3 1-3 1 0 1 12 1-4 1 1 1-9 1 0 1 5 1-5 1 6 1-3 1 0 1-2 1 18 1-5 1-11 1 9 1-11 1 5 1-6 1 0 1 1 1 9 1 1 1-2 1-2 1-7 1 0 1 0 1 12 1 1 1-13 1 5 1-1 1-3 1 8 1 8 1 3 1-12 1-2 1 4 1 7 1-8 1-1 1-8 1 0 1 8 1 10 1-5 1 6 1-2 1-9 1 3 1 10 1-6 1 9 1-24 1 9 1 0 1-2 1 1 1-8 1 0 1 6 1 13 1-9 1-7 1-1 1 10 1 1 1-6 1 5 1-1 1 6 1-9 1-2 1-2 1-4 1 4 1 4 1 0 1-1 1-7 1 0 1 1 1-1 1 2 1 6 1 15 1-6 1-2 1-4 1-11 1 2 1 4 1 19 1-9 1-1 1-3 1-11 1 12 1 4 1 2 1-12 1 11 1-15 1 7 1 16 1-16 1-5 1 3 1-4 1-4 1 2 1-2 1 6 1-5 1 15 1-9 1-2 1 8 1-11 1 5 1 10 1-16 1 5 1 3 1 6 1-12 1-3 1 6 1 3 1 2 1 1 1-6 1 3 1 2 1-6 1 15 1-2 1-13 1 7 1-9 1 9 1 7 1-11 1 7 1 0 1 3 1 10 1-11 1-10 1-6 1-1 1 3 1 5 1 3 1 5 1-4 1 10 1-9 1 18 1-6 1-14 1-9 1 7 1-2 1 6 1 2 1-4 1-7 1-4 1 0 1 10 1 1 1-11 1 6 1 4 1-7 1 4 1 1 1-8 1 7 1 5 1 6 1 4 1-17 1-5 1 8 1 4 1 2 1 26 1-11 1-1 1-2 1-4 1-8 1 3 1-10 1-1 1-2 1 3 1 18 1-22 1 8 1-11 1 0 1 12 1-1 1-9 1-2 1 9 1-6 1 5 1 0 1-4 1 18 1-2 1-20 1 5 1-3 1 10 1-8 1 2 1 5 1 5 1-12 1 0 1-2 1-1 1 17 1-2 1-13 1 10 1 14 1-1 1-20 1-2 1 12 1-9 1 4 1 5 1-11 1 2 1-7 1 0 1 0 1 0 1 13 1-13 1 1 1 5 1 12 1-15 1 11 1-2 1-9 1 6 1 1 1-5 1 2 1-2 1 3 1 5 1 10 1-16 1 17 1-22 1 2 1 7 1 1 1-6 1 0 1-3 1-1 1 9 1 2 1-7 1 8 1 0 1 3 1 1" stroke="#348ABD" stroke-width="1.95"/>
<path d="M0 11l1 6 1 6 1 1 1 13 1 0 1 12 1 7 1-2 1 25 1-3 1 24 1 22 1-1 1 31 1 3 1 15 1 14 1 7 1 25 1 20 1-28 1 44 1-24 1 43 1 32 1-29 1-1 1-14 1 13 1 7 1 30 1 31 1 22 1-33 1-6 1-38 1 2 1 50 1 48 1-47 1-7 1 14 1 17 1-20 1 27 1-11 1 10 1 24 1-2 1-13 1 8 1 9 1-2 1 7 1 70 1 7 1-19 1 33 1-11 1 55 1 8 1-7 1 1 1-79 1-30 1-22 1 33 1 73 1 81 1-5 1 1 1-76 1 15 1 7 1 51 1 68 1-22 1-76 1 51 1-49 1 45 1 99 1-52 1-81 1 44 1 82 1 58 1-92 1 10 1-36 1-63 1 38 1-161 1 82 1 86 1 102 1-1 1 17 1-8 1 29 1-41 1 3 1-46 1-8 1-30 1 54 1-8 1-61 1 86 1-27 1-20 1-10 1 64 1-98 1 141 1-4 1-8 1-4 1 20 1 30 1 31 1 10 1-21 1-26 1-14 1-12 1 41 1 28 1-107 1 87 1 40 1 5 1-28 1 35 1 5 1-69 1 0 1-59 1-35 1 12 1 64 1 40 1 8 1 14 1-31 1-72 1-12 1 79 1 68 1 79 1-12 1-22 1 13 1-37 1-54 1-5 1-27 1 15 1 39 1 7 1 34 1-31 1 74 1 43 1-65 1 1 1-9 1-58 1 10 1 13 1 10 1 82 1 14 1-21 1-85 1 47 1-53 1 13 1 8 1 62 1-65 1-97 1 72 1 104 1 39 1-15 1-32 1 30 1-51 1 28 1 17 1 31 1 83 1-82 1-96 1-49 1-110 1 45 1 56 1 47 1 38 1-12 1 73 1 2 1 6 1-4 1 21 1 35 1-45 1-14 1 7 1-34 1 3 1 16 1 62 1 12 1 6 1 29 1-20 1 11 1-12 1 13 1-23 1-81 1 48 1 89 1 32 1 22 1 25 1-27 1-37 1-61 1-31 1 9 1 17 1-52 1-28 1 3 1 26 1-65 1-68 1 31 1-8 1 23 1 27 1 4 1 76 1-2 1-2 1 13 1-49 1 64 1-3 1 34 1-43 1-36 1 52 1 5 1-53 1-34 1 53 1-67 1 83 1-52 1 33 1-19 1 27 1-28 1 0 1 10 1-35 1 51 1-20 1-16 1-45 1-93 1 36 1 114 1-8 1-63 1-60 1-37 1-16 1-92 1 99 1 57 1 49 1 34 1-47 1-12 1-21 1-62 1-54 1-15 1 94 1-44 1-19 1 68 1 47" stroke="#7A68A6" stroke-width="1.95"/>
<path d="M0 13l1 9 1 2 1 1 1 6 1 9 1 10 1 46 1 33 1 30 1 13 1 12 1 37 1-5 1 55 1-41 1 19 1-24 1-30 1-14 1 16 1 26 1-52 1-31 1 10 1 33 1 19 1 26 1-36 1-29 1 69 1 6 1-18 1 54 1 57 1-48 1-56 1-42 1-49 1-3 1 28 1 65 1 42 1 31 1-43 1-1 1-70 1 34 1 57 1-70 1-12 1 29 1 48 1-32 1-26 1-58 1 39 1 88 1-12 1-18 1 3 1 23 1 0 1 72 1 4 1-33 1-64 1 32 1-17 1-22 1 48 1-18 1-14 1 1 1-28 1 68 1-35 1 8 1-18 1 53 1 28 1 10 1-18 1-13 1 50 1-6 1 27 1-25 1 24 1 53 1 5 1-44 1-6 1-25 1-10 1-22 1-12 1 49 1 2 1 17 1 14 1-28 1-5 1 42 1-17 1 35 1 0 1-73 1 48 1 28 1-51 1 34 1-21 1 25 1-29 1-30 1 36 1 33 1 12 1-16 1 22 1 7 1-18 1-12 1-46 1 27 1-76 1 55 1 66 1 24 1 2 1 2 1 67 1-68 1-24 1 4 1 56 1-2 1-50 1-6 1-17 1-1 1 61 1-44 1 83 1 21 1 25 1 5 1 35 1-2 1-33 1 0 1 10 1-93 1-9 1 2 1-44 1 44 1-24 1 5 1-8 1-18 1 16 1 15 1 7 1-3 1 39 1 72 1-8 1-29 1-120 1-35 1 9 1 11 1 52 1 114 1 74 1-20 1-78 1-2 1 10 1-4 1-77 1-15 1 14 1 23 1-87 1 60 1 58 1 69 1 47 1-22 1-72 1-89 1-9 1 31 1 18 1 28 1 18 1 20 1-8 1-10 1 55 1-62 1 52 1-40 1 32 1-78 1 24 1-35 1-44 1 31 1 54 1-30 1-34 1 33 1 22 1 38 1 39 1-10 1 64 1-17 1-33 1-60 1 13 1 5 1 48 1 9 1-51 1 19 1 28 1 45 1 3 1-3 1-25 1-2 1 29 1-73 1-5 1-17 1 30 1 56 1-27 1-72 1 34 1 69 1 29 1 17 1-10 1-35 1 48 1-16 1 60 1-36 1-73 1-53 1-25 1 9 1 58 1 5 1-24 1 83 1-13 1-7 1-59 1-7 1-14 1-92 1 76 1 56 1-14 1-19 1 54 1 33 1 22 1 11 1 22 1 49 1-34 1-84 1 26 1 12 1 48 1-117 1-21 1-96 1 34 1-23 1 68 1-28 1-36 1 33 1-23 1 91 1-77 1 21 1-68 1 15 1 67 1-16" stroke="#467821" stroke-width="1.95"/>
<path d="M0 11l1-6 1 6 1-1 1-7 1 34 1 10 1 29 1 20 1 16 1-13 1-32 1 1 1 11 1 19 1 34 1 1 1 27 1-4 1 21 1 1 1 13 1 16 1 3 1 9 1-10 1 18 1 8 1 15 1 5 1-4 1-17 1 16 1 27 1-9 1 29 1 57 1 21 1 30 1 10 1 30 1-7 1 8 1-73 1 23 1 7 1-3 1 13 1 6 1 34 1 41 1-28 1 34 1 12 1 21 1 25 1 3 1 7 1 7 1 31 1 10 1 6 1-24 1 8 1 32 1 4 1 17 1 40 1 18 1-1 1-4 1-34 1 36 1 20 1 30 1 12 1 9 1-17 1 12 1 38 1 50 1-4 1 11 1 23 1-24 1 4 1-21 1 19 1-6 1-15 1-37 1 1 1 50 1 3 1 35 1 50 1 22 1-10 1-47 1 60 1 25 1-31 1 11 1 52 1 30 1 11 1-11 1 2 1 0 1 29 1-20 1-5 1 36 1 3 1 28 1-23 1 1 1-16 1 12 1-22 1 17 1-5 1 44 1 30 1-28 1 35 1 23 1-46 1-47 1 32 1-73 1 31 1 36 1 58 1 28 1-13 1-12 1 9 1-5 1 21 1 4 1-13 1 50 1-4 1-14 1 17 1 17 1-23 1 28 1-11 1 50 1 5 1-14 1-12 1-3 1 9 1-10 1-12 1-5 1-17 1 1 1-29 1 40 1 11 1-12 1 42 1-9 1-22 1 20 1 3 1 2 1-12 1 9 1-7 1 11 1-34 1 6 1 38 1-18 1-6 1 1 1-11 1-19 1 21 1 17 1 7 1 4 1 6 1 18 1-7 1-7 1 2 1 15 1 21 1-15 1 4 1 7 1-12 1 9 1-12 1-9 1 18 1 0 1 6 1-1 1-12 1 3 1-13 1 23 1-20 1 1 1-6 1 17 1-1 1-1 1 16 1 0 1 6 1-12 1-11 1 12 1 3 1 13 1 0 1 4 1-17 1 30 1-5 1 7 1-12 1 7 1-18 1 7 1-6 1-1 1 4 1-19 1-6 1 7 1 24 1-10 1 4 1-5 1 19 1-27 1 6 1-14 1-16 1 21 1 10 1 2 1 2 1 31 1-15 1-1 1-12 1 2 1-3 1-4 1 18 1 4 1-7 1-27 1 3 1 30 1-9 1 8 1 8 1-6 1-12 1-20 1 18 1-3 1 8 1-9 1 4 1 6 1 4 1-8 1 15 1-7 1-12 1 6 1 5 1 4 1 12 1-6 1-2 1-9 1 11 1 1 1-3 1-13 1 19 1-9 1 0 1 8 1-7 1-6 1-7" stroke="#A60628" stroke-width="3.5"/>
</g></g>
</g>
<path d="M335.6 794.4v-3.4M369.4 794.4v-3.4M403.3 794.4v-3.4M437.1 794.4v-3.4M471 794.4v-3.4M504.8 794.4v-3.4M538.6 794.4v-3.4M325.4 793.4h3.4M325.4 764.2h3.4M325.4 735h3.4M325.4 705.8h3.4M325.4 676.6h3.4M325.4 647.4h3.4" stroke="#000" stroke-width="0.85" fill="none"/>
<rect x="325.45" y="643.55" width="221.8" height="150.9" fill="none" stroke="#bcbcbc" stroke-width="0.96"/>
<g font-size="9.6">
<text x="335.6" y="805.6" text-anchor="middle" transform="rotate(0.05 335.6 805.6)">0.0</text>
<text x="369.4" y="805.6" text-anchor="middle" transform="rotate(0.05 369.4 805.6)">0.5</text>
<text x="403.3" y="805.6" text-anchor="middle" transform="rotate(0.05 403.3 805.6)">1.0</text>
<text x="437.1" y="805.6" text-anchor="middle" transform="rotate(0.05 437.1 805.6)">1.5</text>
<text x="471" y="805.6" text-anchor="middle" transform="rotate(0.05 471 805.6)">2.0</text>
<text x="504.8" y="805.6" text-anchor="middle" transform="rotate(0.05 504.8 805.6)">2.5</text>
<text x="538.6" y="805.6" text-anchor="middle" transform="rotate(0.05 538.6 805.6)">3.0</text>
<text x="322.2" y="797" text-anchor="end" transform="rotate(0.05 322.2 797)">0</text>
<text x="322.2" y="767.8" text-anchor="end" transform="rotate(0.05 322.2 767.8)">200</text>
<text x="322.2" y="738.6" text-anchor="end" transform="rotate(0.05 322.2 738.6)">400</text>
<text x="322.2" y="709.4" text-anchor="end" transform="rotate(0.05 322.2 709.4)">600</text>
<text x="322.2" y="680.2" text-anchor="end" transform="rotate(0.05 322.2 680.2)">800</text>
<text x="322.2" y="651" text-anchor="end" transform="rotate(0.05 322.2 651)">1000</text>
</g>
<text x="436.4" y="637.8" font-size="13.8" text-anchor="middle" transform="rotate(0.05 436.4 637.8)">Reacher Hard</text>
<text y="820.7" font-size="11.5" transform="rotate(0.05 436.4 820.7)"><tspan x="395.4">Frames (</tspan><tspan x="446.6" dy="0.9" stroke="none" font-family="'Liberation Serif', 'DejaVu Serif', serif" font-size="15">×</tspan><tspan x="455.2" dy="-0.9" stroke="none" font-family="'Liberation Serif', 'DejaVu Serif', serif" font-size="12.6">10</tspan><tspan x="467.8" dy="-3.8" stroke="none" font-family="'Liberation Serif', 'DejaVu Serif', serif" font-size="8.4">6</tspan><tspan x="472.2" dy="3.8">)</tspan></text>
<text transform="translate(291.6 718.4) rotate(-90)" font-size="11.5" text-anchor="middle">Episode Return</text>
</g>
<g>
<rect x="601.3" y="643.55" width="221.8" height="150.9" fill="#eeeeee"/>
<path d="M611.4 643.5V794.4M645.3 643.5V794.4M679.1 643.5V794.4M713 643.5V794.4M746.8 643.5V794.4M780.6 643.5V794.4M814.5 643.5V794.4M601.3 792.8H823.1M601.3 754.1H823.1M601.3 715.3H823.1M601.3 676.6H823.1" stroke="#b2b2b2" stroke-width="0.7" stroke-dasharray="1.8 0.8" fill="none"/>
<g clip-path="url(#c11)">
<g transform="translate(611.4 792.8) scale(0.67680 -0.1)">
<g fill-opacity="0.2" stroke-opacity="0.2" stroke-width="0.9" vector-effect="non-scaling-stroke">
<path d="M0 43l1 22 1 17 1 16 1 30 1-9 1-10 1 12 1-5 1-13 1 2 1-3 1-11 1-6 1-1 1-3 1 1 1-4 1-4 1-12 1-1 1 0 1 9 1 0 1 5 1-6 1 0 1 2 1 2 1-2 1-6 1 3 1 0 1 0 1-12 1 7 1-4 1 0 1 4 1 3 1 5 1-4 1 0 1 5 1-6 1-4 1-1 1 3 1-4 1 5 1-2 1-6 1-6 1 4 1-3 1 3 1 1 1 9 1-4 1-2 1 0 1-3 1 6 1 0 1-4 1-5 1 4 1-2 1 2 1-2 1-1 1 1 1 6 1-7 1 2 1 4 1 2 1 0 1 2 1 2 1-2 1-5 1 1 1 4 1 0 1-6 1 8 1-6 1-2 1-2 1-3 1 2 1 2 1 3 1-2 1 0 1 2 1-3 1 5 1 6 1-2 1-11 1 2 1 8 1-5 1-1 1-6 1 1 1-3 1 2 1 4 1-2 1 6 1-1 1-2 1-2 1 6 1-8 1 0 1-5 1 0 1 7 1 1 1-2 1-1 1 4 1 4 1-2 1-2 1 5 1-4 1 0 1 0 1-5 1 6 1-1 1 0 1-5 1-3 1 0 1 3 1 4 1 5 1 1 1-1 1-3 1-2 1 0 1-3 1 1 1 7 1-3 1-4 1 7 1-5 1-4 1 7 1-1 1 3 1-7 1 4 1-8 1 2 1 0 1 3 1 1 1 4 1-2 1 4 1-1 1-1 1-3 1 1 1 1 1-1 1 2 1-1 1-1 1-3 1 4 1 0 1 3 1 2 1-4 1-2 1-1 1-8 1-1 1 7 1-1 1 4 1 1 1 1 1-6 1 0 1 1 1 0 1-3 1 6 1 2 1 2 1-6 1-1 1-3 1 3 1-2 1-3 1 3 1 2 1-2 1 3 1-1 1 11 1-6 1-4 1-3 1-3 1 4 1 2 1 0 1 1 1-2 1 1 1 0 1-5 1 2 1-4 1 1 1 3 1 3 1 0 1 5 1-1 1-1 1 1 1-1 1-3 1 2 1 1 1-1 1-5 1 3 1-2 1 2 1-4 1 5 1-1 1 1 1-4 1 3 1-3 1 0 1 1 1-1 1 2 1-2 1-3 1 5 1 2 1 0 1-6 1-1 1-4 1 1 1 6 1 1 1-1 1 0 1 0 1-2 1 3 1-3 1-1 1 1 1-1 1 6 1 4 1-5 1-1 1 1 1 4 1-5 1-4 1 7 1 2 1-5 1-3 1 2 1-5 1 2 1 4 1-4 1 1 1-3 1 3 1 4 1-5 1 2 1 5 1 2 0-22-1-1-1-5-1 0-1 6-1 0-1-3-1 2-1-1-1-2-1 0-1-1-1 1-1 1-1 2-1 2-1 0-1-6-1 9-1-1-1-4-1 3-1-2-1 1-1 0-1 1-1-4-1-4-1 3-1 4-1 2-1 1-1 0-1 1-1-4-1 0-1-1-1 0-1 2-1-2-1 3-1-6-1 2-1-3-1 3-1 2-1 2-1 0-1-4-1 3-1 1-1-4-1-1-1 3-1-1-1-5-1 2-1 5-1 0-1 2-1 2-1 1-1-3-1-4-1 1-1 0-1 2-1 1-1-4-1-5-1 3-1 0-1-2-1 0-1 3-1-2-1 3-1-2-1-1-1 0-1 5-1 3-1 0-1-5-1-2-1 8-1 3-1 1-1-5-1-2-1-3-1-6-1 1-1-7-1 2-1 7-1-2-1 5-1 2-1 6-1-9-1 2-1 1-1-2-1 1-1 4-1-2-1-2-1-7-1 0-1 2-1-1-1-3-1 7-1 9-1-2-1-4-1-2-1 5-1-3-1 2-1-2-1 0-1 2-1 2-1-5-1-1-1 6-1-2-1 4-1-5-1-1-1-1-1-4-1 2-1 4-1 4-1-7-1-8-1-1-1 2-1 1-1 0-1 5-1-4-1 4-1 2-1-4-1 2-1 6-1-7-1 1-1 2-1-2-1-1-1 2-1-2-1-4-1 6-1-5-1-2-1 0-1-1-1 8-1-5-1 3-1 0-1-5-1 1-1 9-1-1-1 0-1 0-1-2-1-3-1-1-1-1-1-1-1 5-1-2-1 3-1 0-1-4-1 6-1-2-1 1-1 1-1-6-1-2-1 3-1-3-1-6-1 3-1-3-1 10-1 3-1 1-1-8-1-3-1 7-1 7-1 1-1-7-1-3-1 0-1 2-1 2-1-3-1 2-1 1-1-4-1 1-1 9-1 6-1-5-1-1-1-5-1 4-1-4-1 1-1 2-1-1-1-10-1 5-1 0-1 1-1 1-1 1-1-8-1 1-1-5-1 5-1 2-1 1-1-2-1 6-1 1-1-1-1 3-1-7-1 0-1-1-1 7-1-1-1-6-1-2-1-2-1-2-1 1-1 5-1 3-1-6-1-1-1 1-1 6-1 2-1 9-1-7-1 12-1-7-1 0-1-3-1 0-1-9-1 7-1-3-1-2-1-1-1 6-1 2-1-1-1 0-1-3-1 0-1 7-1 5-1-1-1 3-1-11-1-1-1 0-1-1-1 7-1 0-1 2-1 8-1 2-1 7-1 10-1-6-1 5-1 6-1-1-1 4-1 3-1 8-1-16-1-18-1-21-1-14z" fill="#348ABD" stroke="#348ABD"/>
<path d="M0 46l1 46 1 41 1 51 1 45 1 20 1 21 1 28 1 14 1 24 1 12 1 19 1 5 1 1 1 22 1 10 1 11 1 22 1 4 1-1 1 7 1 0 1-6 1-10 1 33 1 30 1 42 1 25 1 13 1 16 1 17 1-4 1 11 1 34 1 16 1 24 1-3 1 12 1 0 1-2 1 3 1 4 1 24 1 13 1 4 1 23 1-9 1 0 1 15 1 17 1 24 1 21 1 15 1 32 1 8 1 18 1-6 1 17 1-9 1 12 1-24 1 6 1 1 1 2 1-10 1 12 1-14 1 13 1 13 1 8 1-1 1 2 1 10 1-18 1-26 1 3 1 11 1 11 1-17 1 0 1 22 1 10 1 8 1-10 1 12 1-17 1 11 1 5 1 12 1-20 1-8 1-15 1 1 1-19 1-9 1 0 1 8 1-28 1-12 1 2 1 34 1 6 1-4 1-9 1 4 1 27 1-7 1-14 1-1 1 10 1-20 1 10 1-21 1-11 1 4 1-5 1 6 1 25 1 22 1-19 1-4 1-11 1 3 1-3 1 22 1-11 1 2 1-2 1 17 1 5 1 1 1-12 1-5 1-20 1 13 1-8 1-1 1-19 1-15 1 8 1 23 1 20 1-6 1 10 1 2 1-2 1 1 1 12 1 12 1 12 1-10 1-11 1 12 1 27 1 17 1-21 1-7 1 21 1-1 1 29 1-36 1-13 1 13 1-16 1 9 1 8 1-1 1 11 1-30 1-9 1-9 1 4 1 16 1 7 1 6 1-2 1-9 1 18 1-1 1 2 1 7 1-2 1 4 1-8 1-6 1 6 1 7 1 10 1-6 1-13 1 20 1-1 1 5 1-6 1-4 1-10 1 0 1 21 1-37 1-10 1-19 1 6 1-4 1 14 1-10 1 8 1 14 1 18 1 15 1 12 1 5 1-5 1-15 1 3 1-2 1 28 1-4 1-17 1-7 1 4 1-10 1 8 1 2 1 12 1-21 1-17 1-49 1-39 1-24 1 1 1 5 1-6 1 28 1 1 1 34 1 21 1-9 1 15 1-12 1-29 1-27 1-1 1 3 1 3 1 12 1-2 1 19 1 32 1 20 1 29 1 15 1 1 1-20 1 26 1 2 1 15 1-12 1 12 1 3 1 7 1 8 1-5 1-9 1 11 1-10 1 0 1 4 1 3 1-9 1 1 1-11 1 4 1 14 1 5 1-12 1-22 1-9 1 17 1-6 1-3 1 29 1 16 1 4 1 0 1-8 1 8 1-7 1-2 1-15 1 3 1 38 1-19 1 7 1-16 1 5 1-13 1-12 1-1 1 1 1 14 0-450-1-10-1-17-1-8-1-1-1 14-1-23-1 40-1-4-1-6-1-27-1 7-1 13-1-4-1 16-1 8-1 1-1-12-1 21-1-50-1 13-1-8-1-35-1-35-1 36-1 35-1 18-1 7-1 9-1-10-1-2-1 12-1-12-1 12-1-20-1-5-1 15-1-4-1-16-1 12-1-4-1-22-1-17-1 8-1-17-1 2-1 5-1 9-1-3-1 25-1-46-1 4-1-45-1-40-1-33-1 17-1-17-1-14-1 7-1 19-1 31-1 15-1 27-1-29-1-17-1-52-1 23-1-39-1-62-1-8-1-12-1-6-1 39-1 69-1 82-1 11-1 37-1-9-1 19-1-3-1 9-1 8-1 3-1 5-1 7-1-7-1-4-1 9-1 19-1-12-1-21-1 9-1 5-1-19-1-41-1-5-1-33-1-11-1-7-1-8-1 34-1 15-1 50-1 13-1 6-1 3-1-4-1-12-1-10-1-11-1 5-1-19-1 9-1-12-1 4-1-3-1 4-1 7-1-19-1 18-1-9-1 26-1-9-1-9-1-32-1 37-1-16-1-25-1-25-1 49-1-12-1 21-1-54-1 32-1 10-1-8-1-12-1-6-1 19-1-22-1 5-1 16-1 1-1-21-1 14-1-4-1-3-1-4-1 7-1-11-1 15-1-32-1 12-1-11-1-17-1 3-1-1-1 2-1 17-1-41-1-53-1-3-1 27-1 62-1-18-1 39-1-31-1 7-1-22-1 9-1 3-1 7-1 7-1 33-1-36-1 10-1-34-1-13-1-21-1 40-1-5-1 43-1-4-1-24-1 5-1 5-1-12-1-5-1 27-1-14-1 20-1-26-1 7-1-3-1-4-1-10-1-7-1-13-1 9-1 6-1-20-1-16-1 32-1 25-1 7-1 12-1 13-1 4-1 13-1 7-1-13-1 12-1 22-1 9-1 0-1 6-1-31-1-18-1 14-1-8-1-4-1-2-1 17-1-25-1-30-1 4-1 16-1 13-1 19-1 6-1-6-1 4-1 6-1-5-1 26-1 2-1 10-1-5-1 7-1-9-1 27-1-12-1 6-1-3-1 24-1 14-1-20-1-32-1-23-1-28-1-24-1-22-1 0-1 10-1-5-1-17-1 7-1-10-1-8-1 4-1-21-1 0-1 9-1 0-1 25-1-39-1-15-1-28-1-8-1-3-1-31-1-23-1-8-1-6-1-21-1-22-1-54-1 33-1 23-1-2-1 2-1-4-1 17-1-10-1 1-1-5-1-12-1 5-1 7-1-9-1-12-1-24-1-8-1-27-1-16-1-13-1-66-1-70-1-49-1-6z" fill="#7A68A6" stroke="#7A68A6"/>
<path d="M0 49l1 47 1 54 1 46 1 44 1 25 1 25 1 28 1 17 1 16 1 10 1 4 1 11 1 4 1 14 1 20 1 7 1 1 1 6 1 12 1 1 1 5 1 8 1 17 1 25 1 5 1-2 1 0 1 13 1 11 1 6 1 0 1 9 1 17 1 12 1 5 1 18 1 2 1-1 1 2 1 13 1 34 1 8 1 8 1 7 1 5 1 18 1 9 1-4 1 8 1-1 1 15 1 14 1 9 1-5 1 3 1 25 1 7 1 0 1 1 1 14 1 0 1 8 1-2 1 14 1 14 1 9 1-9 1 0 1 23 1 9 1 9 1 12 1 3 1 2 1 4 1-10 1 16 1 12 1-10 1 9 1 15 1-5 1-3 1-21 1 9 1-7 1-1 1 22 1-8 1 6 1 9 1 3 1-7 1 14 1 1 1 6 1 18 1 15 1-8 1-12 1 3 1 13 1 2 1-9 1 19 1 14 1-8 1-6 1 5 1 6 1 0 1 10 1 6 1-10 1-14 1 12 1-2 1-6 1 15 1-2 1-17 1 19 1 11 1 4 1-2 1-23 1-7 1 25 1 11 1 8 1 3 1-1 1-12 1-7 1 10 1 2 1-5 1 7 1 14 1 10 1 0 1-8 1 5 1 9 1 6 1 8 1 2 1 2 1-14 1 4 1-16 1 12 1 7 1 4 1 17 1 18 1-12 1-18 1 17 1-8 1 21 1-2 1-1 1-6 1 3 1 23 1 2 1 9 1-16 1 9 1 10 1 2 1-13 1-3 1-14 1 18 1-17 1-14 1 21 1 3 1 5 1 8 1 8 1 19 1-34 1 6 1-6 1 14 1-5 1 18 1 15 1 3 1-30 1-8 1 7 1 16 1 0 1 4 1-5 1 5 1-7 1-9 1 2 1 2 1-4 1 18 1 17 1-9 1-4 1 8 1-3 1-2 1 11 1-2 1-9 1-23 1 10 1 8 1 9 1 10 1-19 1 18 1 16 1 9 1 3 1-11 1-2 1-13 1-12 1 6 1 26 1-3 1-3 1 0 1-6 1 2 1-5 1 0 1 13 1 2 1 8 1-21 1-16 1 12 1-10 1-13 1 2 1 21 1 10 1-17 1 16 1 13 1 0 1-21 1 17 1 7 1-11 1 8 1-37 1 23 1-5 1 15 1 9 1-24 1 3 1 7 1 6 1 18 1 1 1-5 1-9 1 9 1 1 1-9 1 2 1-2 1 3 1 9 1-7 1-11 1 13 1-10 1-1 1 5 1 1 1-10 1 11 1 14 1-1 1 4 1-9 1 19 1-1 1-15 1-22 1-3 1 8 1 2 1 4 0-337-1-1-1 8-1 2-1-4-1 25-1-7-1 16-1-21-1 18-1-17-1-9-1-5-1 12-1 16-1 3-1 0-1-20-1 21-1-4-1 15-1 2-1-11-1-13-1-2-1 11-1-30-1-6-1-6-1-1-1 11-1-3-1-24-1-2-1 28-1-1-1 11-1 10-1-12-1-4-1-26-1 30-1 4-1-7-1-8-1 5-1 13-1-4-1-23-1-4-1 10-1-30-1-20-1 6-1 16-1 31-1-6-1-8-1 9-1-11-1 4-1-15-1 4-1 3-1-4-1 5-1-5-1-1-1-13-1 8-1-9-1 17-1 15-1-7-1-6-1 11-1 5-1-20-1-5-1-19-1 30-1-11-1-9-1-5-1 8-1 2-1 3-1-25-1 6-1 4-1-7-1-15-1 8-1 14-1-7-1 5-1-2-1 20-1 1-1 3-1-10-1-10-1-23-1 19-1-21-1-15-1 18-1 17-1-10-1-29-1 10-1-1-1 8-1-5-1-8-1 40-1-10-1 22-1-21-1-16-1-10-1-3-1 7-1-16-1-16-1 33-1 16-1-15-1-2-1 7-1 13-1-1-1-21-1 7-1-24-1 16-1-22-1 31-1 1-1-5-1-18-1-16-1 5-1 12-1-12-1-27-1 0-1 11-1-7-1-12-1-18-1 12-1 1-1-7-1 12-1 13-1-6-1-11-1-6-1-17-1 3-1-24-1 9-1-11-1 18-1 1-1-10-1 9-1-8-1-23-1 10-1 9-1-29-1-8-1 31-1 14-1-4-1-21-1 7-1-8-1-3-1-2-1 1-1 7-1 2-1-6-1 23-1-13-1-2-1 0-1-21-1-10-1 21-1-1-1-3-1-3-1-7-1 0-1-6-1 5-1 0-1-3-1 8-1-23-1-6-1 0-1-9-1 10-1-17-1-2-1 1-1-29-1-28-1 29-1 20-1-1-1-6-1-9-1 6-1 16-1-7-1 0-1-9-1 4-1 10-1-5-1-17-1-10-1-22-1 0-1-6-1 20-1 3-1 9-1-12-1-10-1-9-1-11-1 1-1-23-1 2-1-4-1-6-1-10-1-17-1-6-1 9-1-6-1-32-1 1-1-12-1-14-1 6-1 2-1-27-1 4-1-7-1-2-1-16-1-13-1-11-1 0-1-12-1-2-1-16-1-9-1-10-1-15-1 6-1 2-1-8-1-13-1-15-1-11-1 7-1 5-1-29-1-5-1 5-1-11-1-10-1-1-1 8-1 6-1 4-1-7-1-2-1 9-1 6-1 1-1 7-1-5-1-15-1-17-1-14-1-12-1-35-1-36-1-42-1-37z" fill="#467821" stroke="#467821"/>
<path d="M0 46l1 29 1 26 1 28 1 25 1 24 1 27 1 23 1 22 1 28 1 22 1 27 1 26 1 26 1 26 1 31 1 23 1 27 1 28 1 22 1 21 1 22 1 8 1 15 1 29 1 31 1 8 1 34 1 18 1 14 1 0 1 38 1 16 1 26 1 19 1 10 1 3 1 18 1 12 1 9 1 15 1 8 1 17 1 16 1 1 1 10 1 15 1 8 1 14 1 6 1-6 1 3 1 6 1 9 1 11 1 13 1 1 1-1 1 7 1-7 1 6 1 14 1 0 1 7 1 6 1 6 1-5 1 24 1-3 1 1 1 4 1 11 1-4 1-13 1 15 1 3 1 10 1 9 1 4 1-3 1-7 1 1 1 13 1 6 1-1 1 8 1 5 1-1 1-2 1-5 1 18 1-9 1 2 1 1 1 5 1-4 1 28 1 0 1 4 1 1 1-2 1 12 1-13 1 18 1 6 1 0 1-10 1-4 1-10 1 6 1 7 1 9 1 9 1-1 1 2 1-9 1 10 1 4 1-8 1 11 1 6 1-10 1-4 1 10 1 0 1 1 1 3 1-1 1 9 1 9 1 7 1 3 1-13 1-2 1 15 1-4 1 7 1-12 1 1 1 4 1 8 1-2 1 2 1 3 1-5 1 2 1-1 1 4 1-8 1 10 1 14 1-2 1-10 1-1 1 14 1 9 1-4 1 6 1-4 1-5 1-11 1 8 1 10 1 7 1 2 1 4 1-3 1 0 1-4 1 2 1 18 1 15 1-18 1 3 1 11 1 0 1-7 1 6 1-4 1 10 1-13 1-1 1 6 1 2 1 5 1 3 1 7 1 5 1-5 1-10 1 8 1-6 1-1 1-5 1 11 1 0 1-4 1 4 1-3 1-3 1-5 1 0 1 8 1 8 1 4 1 1 1 1 1 5 1-3 1-4 1 0 1-10 1-7 1 3 1 1 1-10 1 12 1-2 1-3 1 14 1-1 1-1 1 3 1 4 1 2 1-5 1-2 1-3 1 4 1-5 1 7 1 5 1 1 1 1 1 12 1 0 1 2 1-6 1 4 1 0 1-6 1 6 1 1 1-5 1 3 1-4 1 2 1 8 1 4 1 1 1 2 1-2 1-3 1-8 1-1 1 4 1 12 1 12 1-6 1 2 1 0 1 1 1 9 1-3 1-6 1 5 1 8 1-2 1-3 1-15 1 10 1-3 1 8 1-2 1 2 1 5 1-6 1 4 1-6 1 8 1 1 1-1 1 16 1-15 1 3 1 11 1-4 1-3 1 3 1-2 1 10 1 15 1-8 1-2 1-8 1-19 1 7 1-6 1 0 1-2 0-203-1 6-1-8-1 0-1 7-1 14-1 2-1 3-1 3-1-15-1-1-1 2-1-9-1 1-1-1-1-6-1-10-1 13-1-9-1-3-1-2-1 0-1 4-1 12-1-6-1-3-1 2-1 2-1-7-1 3-1-9-1 13-1-5-1-9-1-9-1 2-1-2-1 9-1 2-1-3-1-1-1-3-1-2-1 4-1-17-1-5-1-1-1 11-1-5-1 1-1-9-1 8-1-2-1-2-1-2-1 17-1-9-1 4-1-4-1-6-1 8-1-3-1 1-1-5-1-16-1-13-1 2-1 2-1-4-1 6-1 2-1 1-1 0-1-2-1-3-1 1-1-9-1-13-1 7-1-8-1 15-1-6-1 6-1-10-1-6-1 7-1 10-1-3-1 1-1-7-1-1-1 8-1 4-1-12-1 5-1-7-1-3-1-9-1 5-1 2-1 7-1-6-1-7-1 5-1-5-1 8-1-9-1 11-1-2-1 8-1-7-1 5-1-1-1-14-1 1-1 4-1-12-1 3-1-3-1-4-1 9-1 2-1-6-1-6-1 6-1-4-1-6-1-7-1 0-1-1-1-12-1-2-1 0-1-4-1 10-1-2-1 2-1-9-1-4-1-17-1 11-1 6-1 5-1-4-1-4-1-5-1-4-1 0-1 5-1-3-1-16-1 0-1 8-1-1-1-4-1-2-1-2-1-7-1 0-1-3-1-8-1-2-1-4-1 12-1-10-1 2-1 5-1 2-1 3-1-2-1-7-1-14-1-3-1-3-1 2-1-9-1-5-1-7-1 4-1 3-1 4-1-16-1-11-1 3-1-6-1-1-1-1-1 8-1-18-1-1-1-4-1-7-1 4-1 0-1 8-1-3-1 7-1-9-1 5-1-11-1 0-1 4-1-10-1 4-1-18-1-7-1-19-1 9-1-4-1-2-1-3-1 8-1-11-1-9-1-8-1 4-1 11-1-10-1-15-1-4-1 1-1 10-1-4-1-10-1-12-1 2-1-20-1 20-1 2-1-6-1-2-1-15-1-8-1-13-1 11-1 11-1-16-1-7-1-8-1-12-1-10-1 0-1-5-1 0-1-2-1 2-1-19-1-4-1-9-1 0-1-1-1-11-1-20-1-2-1-12-1-9-1-13-1-14-1-8-1-14-1-16-1-10-1-6-1-16-1-14-1-5-1-12-1-21-1-24-1-12-1-14-1 9-1-17-1-29-1-14-1-22-1-15-1-8-1-16-1-21-1-22-1-9-1-25-1-12-1-21-1-21-1-18-1-12-1-17-1-19-1-4-1-12-1-17-1-14-1-12-1-11-1-18-1-17-1-16-1-17z" fill="#A60628" stroke="#A60628"/>
</g><g fill="none" stroke-linejoin="round" stroke-linecap="square">
<path d="M0 35l1 19 1 19 1 18 1 22 1-6 1-3 1 0 1-2 1-7 1-7 1-3 1-10 1-5 1-1 1-4 1 3 1-4 1-5 1-3 1 1 1-1 1 6 1-4 1-1 1 1 1-2 1 1 1 0 1 1 1-6 1 2 1-1 1 0 1-1 1 4 1-7 1 4 1-2 1 4 1 2 1 0 1 0 1 4 1-6 1-4 1-2 1 2 1-4 1 3 1-1 1-4 1-2 1 0 1-2 1 4 1 3 1 3 1-3 1 1 1 0 1 2 1 0 1-1 1-5 1 0 1 2 1-2 1 1 1-3 1 1 1 3 1 6 1-4 1 0 1-3 1 0 1 1 1 2 1 3 1-1 1-1 1 3 1-1 1 3 1-7 1 5 1-3 1-4 1 1 1-3 1 3 1-1 1 2 1-3 1 1 1 1 1 0 1 5 1 0 1-1 1-6 1 2 1 4 1-3 1 0 1-8 1 0 1-3 1 4 1 2 1 2 1 0 1 4 1-4 1 1 1 3 1-1 1 0 1-2 1 0 1 3 1-6 1 2 1-1 1 2 1 5 1-2 1 4 1 1 1-2 1-1 1 0 1-3 1 2 1-2 1 0 1-6 1 0 1 4 1-2 1 2 1 0 1 3 1 3 1-1 1-1 1 0 1-1 1 3 1 5 1-6 1-4 1 4 1-4 1-3 1 7 1-2 1-1 1-1 1 2 1-3 1 5 1 1 1-1 1-2 1 0 1 2 1 6 1 1 1-1 1-3 1 1 1-3 1 0 1 1 1 0 1-3 1-4 1 2 1 0 1 3 1-1 1-1 1 2 1 2 1-7 1-3 1 2 1 1 1 0 1 3 1 5 1-5 1 0 1 0 1 0 1-3 1 2 1 0 1 5 1 0 1-4 1-4 1 1 1-1 1 0 1 2 1 1 1 1 1 3 1 0 1 5 1-2 1-4 1-4 1-3 1 4 1 2 1-1 1-1 1-2 1 1 1 0 1-4 1 4 1-5 1 3 1 1 1 2 1-2 1 5 1 1 1 0 1-2 1 0 1 1 1 2 1 2 1-2 1-2 1 0 1-1 1-3 1 1 1 1 1 1 1-1 1-1 1 1 1 1 1-3 1 3 1 1 1-1 1-3 1-3 1 3 1-1 1 0 1-2 1 4 1-4 1 1 1 2 1 2 1 1 1-3 1-1 1-1 1-1 1-3 1 4 1 4 1-2 1 2 1 1 1-2 1 0 1 0 1 2 1 0 1-5 1 5 1 1 1-3 1-4 1 0 1 1 1-1 1 1 1-1 1 3 1-2 1 2 1 2 1-3 1 0 1 3 1 0" stroke="#348ABD" stroke-width="1.95"/>
<path d="M0 36l1 41 1 37 1 45 1 42 1 15 1 15 1 23 1 11 1 18 1 10 1 10 1-3 1 5 1 14 1 11 1 11 1 10 1-2 1 5 1 4 1-2 1-7 1-15 1 31 1 22 1 36 1 19 1 10 1 13 1 25 1 2 1 8 1 16 1 16 1 26 1-3 1 9 1-2 1-9 1 12 1-1 1 18 1 14 1 3 1 19 1-6 1 5 1 7 1 19 1 18 1 19 1 7 1 32 1 13 1 3 1-3 1 9 1-6 1 7 1-15 1 4 1 0 1 6 1-3 1-10 1-6 1 8 1-2 1 4 1 0 1 5 1 1 1-9 1-20 1 0 1 16 1 2 1-1 1 4 1 6 1 17 1 4 1-9 1 13 1-8 1 7 1 0 1 5 1-16 1-5 1-6 1-2 1-1 1-20 1-5 1 1 1-14 1-8 1 9 1 7 1 2 1 1 1 3 1 0 1 1 1 3 1-2 1 1 1 10 1-18 1 7 1-12 1-4 1 17 1-4 1 2 1 3 1 4 1-12 1 1 1-3 1 6 1 2 1 8 1-4 1 4 1-4 1 7 1 9 1-3 1-11 1 7 1-13 1 5 1-1 1 3 1-32 1-15 1 13 1 30 1 22 1-4 1-2 1 8 1-1 1 8 1 4 1-5 1 19 1-7 1 1 1 2 1 4 1-4 1-2 1 1 1 12 1-3 1 6 1-9 1 3 1 2 1 1 1 14 1-1 1-7 1-11 1 9 1 7 1-5 1-12 1 13 1 2 1 4 1-7 1 5 1 3 1 6 1-5 1 12 1-6 1 4 1-2 1-1 1-5 1 6 1 5 1 0 1 4 1 2 1-4 1 6 1-4 1 3 1-5 1-3 1-1 1-19 1-12 1-21 1 6 1 4 1 6 1 10 1 6 1 15 1 20 1-7 1 7 1 0 1-4 1 0 1-2 1 0 1 18 1 3 1-12 1-5 1 2 1-9 1-1 1 0 1 7 1-25 1-15 1-47 1-32 1-23 1-4 1 6 1 8 1 19 1 14 1 16 1 23 1 11 1 8 1-20 1-17 1-22 1-8 1 4 1 4 1 3 1-2 1 11 1 32 1 23 1 16 1 31 1-1 1 4 1 10 1 4 1 3 1 4 1 5 1 2 1 8 1-2 1-3 1 0 1 8 1-4 1 3 1 4 1-3 1-3 1-3 1 2 1-4 1 2 1-9 1-1 1-7 1-12 1 11 1 1 1 6 1 7 1 6 1-3 1 9 1 2 1 3 1-10 1 4 1-3 1 5 1 13 1-6 1-3 1-12 1 9 1-9 1-6 1 8 1-6 1 9" stroke="#7A68A6" stroke-width="1.95"/>
<path d="M0 38l1 43 1 48 1 45 1 43 1 22 1 20 1 21 1 14 1 9 1 6 1 5 1 4 1 0 1 11 1 12 1 2 1-4 1 10 1 10 1 0 1 6 1 5 1 16 1 20 1 9 1 4 1-6 1 6 1 4 1 10 1 6 1 6 1 8 1 8 1 7 1 15 1 6 1 3 1 5 1 15 1 23 1 12 1-1 1 8 1-1 1 17 1 0 1 1 1 6 1 4 1 17 1 19 1 8 1-2 1 3 1 12 1 8 1 0 1 7 1 8 1 13 1 4 1 5 1 6 1 10 1 11 1-1 1 0 1 5 1 8 1 9 1 14 1 7 1-3 1-3 1-3 1 10 1 11 1-3 1 11 1-2 1 2 1 8 1-10 1 3 1 5 1-2 1 12 1 3 1 2 1 4 1 9 1-12 1 11 1-3 1 1 1 10 1 18 1-4 1-8 1 6 1 16 1-5 1 2 1 8 1 7 1 1 1-10 1 5 1 9 1-2 1 6 1 1 1-4 1-5 1 4 1 6 1-13 1 12 1 2 1 1 1 13 1 13 1-2 1-6 1-14 1-8 1 9 1 4 1 12 1 6 1 0 1-7 1-5 1 12 1-1 1-3 1 4 1 16 1 5 1 13 1-18 1 7 1 7 1 0 1 10 1-2 1 8 1-12 1 7 1-7 1 11 1-6 1 1 1 6 1 16 1-8 1 4 1 7 1 4 1 14 1 1 1-14 1 0 1 2 1 5 1 7 1 6 1-6 1-6 1 13 1-3 1 6 1-6 1-14 1 6 1-2 1-10 1 8 1 1 1 4 1 14 1-3 1 7 1-19 1 15 1-1 1 2 1 4 1 15 1 7 1-5 1-16 1-10 1 5 1 12 1 7 1 3 1-5 1 8 1-2 1-4 1 1 1-4 1-10 1 11 1 4 1 6 1-2 1 6 1-1 1-2 1 6 1 3 1-1 1-14 1 7 1-12 1 10 1 4 1-2 1 5 1 12 1 4 1 8 1-6 1 4 1-6 1-12 1-2 1 20 1-7 1-7 1-3 1-6 1 4 1-2 1 2 1 8 1 0 1 4 1-14 1 3 1 8 1-6 1-7 1-4 1 16 1 10 1-13 1-1 1 16 1 5 1-12 1 8 1 8 1-11 1 4 1-13 1 12 1 3 1 5 1 4 1-13 1-7 1 3 1 10 1 9 1 1 1-9 1 5 1 13 1-10 1 6 1-3 1-2 1 2 1 6 1-7 1-5 1 7 1-3 1 2 1 3 1 1 1-9 1-3 1 9 1 1 1-2 1-1 1 11 1-6 1-6 1-19 1 7 1 12 1-14 1 6" stroke="#467821" stroke-width="1.95"/>
<path d="M0 36l1 23 1 20 1 22 1 21 1 16 1 19 1 16 1 19 1 16 1 12 1 21 1 22 1 18 1 21 1 21 1 20 1 23 1 27 1 18 1 20 1 23 1 18 1 19 1 23 1 26 1 15 1 32 1 13 1 8 1 4 1 22 1 15 1 23 1 13 1 13 1 8 1 18 1 10 1 14 1 10 1 9 1 13 1 19 1 4 1 10 1 10 1 11 1 13 1 5 1 2 1 3 1 5 1 9 1 13 1 4 1 3 1 1 1 7 1-4 1 10 1 9 1 6 1 7 1 7 1-1 1-3 1 14 1 2 1 9 1 2 1 12 1-5 1-7 1 11 1-1 1 6 1 8 1 3 1-6 1 2 1 3 1 12 1 3 1-2 1 1 1 9 1 4 1 8 1-3 1 5 1-4 1 3 1 1 1 7 1 4 1 19 1-5 1 4 1-5 1 3 1 10 1-8 1 8 1 0 1 10 1-8 1-4 1-4 1 4 1 3 1 9 1 15 1-3 1 2 1-4 1 4 1 8 1 5 1 8 1 1 1-8 1-4 1 8 1 3 1 5 1 5 1 1 1 4 1 6 1 7 1 3 1-4 1-3 1 4 1 1 1 8 1-7 1 4 1-2 1 2 1 5 1-1 1 1 1 2 1 4 1-2 1 4 1-6 1 6 1 12 1 6 1-6 1-5 1 9 1 9 1-1 1 6 1-1 1-9 1-11 1 12 1 7 1 9 1 3 1 0 1-1 1 0 1-1 1 3 1 6 1 10 1-1 1 0 1 6 1 0 1 0 1 6 1-1 1 2 1-8 1 0 1 7 1-6 1 10 1-6 1 1 1 12 1 1 1-4 1 6 1-6 1 1 1-7 1 11 1-6 1 2 1-2 1 2 1 5 1-5 1 0 1 1 1 8 1 0 1 1 1-3 1 4 1 3 1-1 1-4 1-4 1 0 1 2 1-3 1-2 1 6 1 0 1-3 1 11 1-8 1-1 1-1 1 12 1 2 1-1 1 2 1-5 1-1 1 3 1 2 1 0 1 2 1 0 1 6 1 2 1 5 1 4 1-4 1 3 1-3 1 6 1 4 1-4 1 3 1-5 1 5 1 0 1 4 1-5 1 4 1 1 1-2 1-5 1 6 1 4 1 10 1 3 1-4 1 5 1 2 1 0 1 3 1-4 1-3 1 7 1 6 1-4 1 2 1-11 1 8 1 0 1 7 1-3 1-3 1 4 1 4 1-4 1-3 1 4 1-2 1-1 1 15 1-13 1 4 1 7 1 1 1-2 1 4 1-4 1 12 1 9 1-1 1 2 1-6 1-16 1 4 1-7 1 0 1-6" stroke="#A60628" stroke-width="3.5"/>
</g></g>
</g>
<path d="M611.4 794.4v-3.4M645.3 794.4v-3.4M679.1 794.4v-3.4M713 794.4v-3.4M746.8 794.4v-3.4M780.6 794.4v-3.4M814.5 794.4v-3.4M601.3 792.8h3.4M601.3 754.1h3.4M601.3 715.3h3.4M601.3 676.6h3.4" stroke="#000" stroke-width="0.85" fill="none"/>
<rect x="601.3" y="643.55" width="221.8" height="150.9" fill="none" stroke="#bcbcbc" stroke-width="0.96"/>
<g font-size="9.6">
<text x="611.4" y="805.6" text-anchor="middle" transform="rotate(0.05 611.4 805.6)">0.0</text>
<text x="645.3" y="805.6" text-anchor="middle" transform="rotate(0.05 645.3 805.6)">0.5</text>
<text x="679.1" y="805.6" text-anchor="middle" transform="rotate(0.05 679.1 805.6)">1.0</text>
<text x="713" y="805.6" text-anchor="middle" transform="rotate(0.05 713 805.6)">1.5</text>
<text x="746.8" y="805.6" text-anchor="middle" transform="rotate(0.05 746.8 805.6)">2.0</text>
<text x="780.6" y="805.6" text-anchor="middle" transform="rotate(0.05 780.6 805.6)">2.5</text>
<text x="814.5" y="805.6" text-anchor="middle" transform="rotate(0.05 814.5 805.6)">3.0</text>
<text x="598.1" y="796.4" text-anchor="end" transform="rotate(0.05 598.1 796.4)">0</text>
<text x="598.1" y="757.7" text-anchor="end" transform="rotate(0.05 598.1 757.7)">200</text>
<text x="598.1" y="718.9" text-anchor="end" transform="rotate(0.05 598.1 718.9)">400</text>
<text x="598.1" y="680.2" text-anchor="end" transform="rotate(0.05 598.1 680.2)">600</text>
</g>
<text x="712.2" y="637.8" font-size="13.8" text-anchor="middle" transform="rotate(0.05 712.2 637.8)">Walker Run</text>
<text y="820.7" font-size="11.5" transform="rotate(0.05 712.2 820.7)"><tspan x="671.2">Frames (</tspan><tspan x="722.4" dy="0.9" stroke="none" font-family="'Liberation Serif', 'DejaVu Serif', serif" font-size="15">×</tspan><tspan x="731.1" dy="-0.9" stroke="none" font-family="'Liberation Serif', 'DejaVu Serif', serif" font-size="12.6">10</tspan><tspan x="743.6" dy="-3.8" stroke="none" font-family="'Liberation Serif', 'DejaVu Serif', serif" font-size="8.4">6</tspan><tspan x="748.1" dy="3.8">)</tspan></text>
<text transform="translate(573.5 718.4) rotate(-90)" font-size="11.5" text-anchor="middle">Episode Return</text>
</g>
</svg>
</body></html>
